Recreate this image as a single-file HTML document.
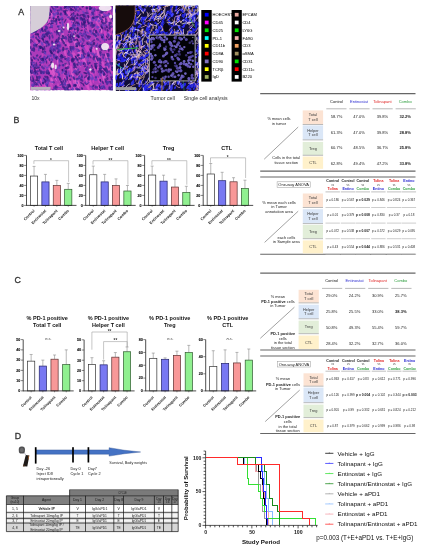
<!DOCTYPE html>
<html><head><meta charset="utf-8"><title>Figure</title>
<style>
html,body{margin:0;padding:0;background:#fff;}
body{width:423px;height:550px;overflow:hidden;}
svg{display:block;font-family:"Liberation Sans", Arial, sans-serif;}
</style></head><body>
<svg width="423" height="550" viewBox="0 0 423 550">
<rect x="0" y="0" width="423" height="550" fill="#fff"/>
<text x="18.30" y="14.50" font-size="8.8" text-anchor="start" font-weight="normal" fill="#333" stroke="#333" stroke-width="0.3">A</text>
<svg x="30.1" y="6.1" width="82.8" height="84.2" viewBox="0 0 82.8 84.2" overflow="hidden">
<rect x="0.00" y="0.00" width="82.80" height="84.20" fill="#ac3aba" stroke="none" stroke-width="0" />
<ellipse cx="26.8" cy="12.7" rx="6.9" ry="0.8" fill="#c848c0" opacity="0.85" transform="rotate(72 26.8 12.7)"/>
<ellipse cx="48.3" cy="76.6" rx="4.3" ry="0.8" fill="#e060d0" opacity="0.85" transform="rotate(69 48.3 76.6)"/>
<ellipse cx="7.5" cy="35.7" rx="8.0" ry="0.8" fill="#d850c8" opacity="0.85" transform="rotate(64 7.5 35.7)"/>
<ellipse cx="47.8" cy="33.4" rx="8.9" ry="0.7" fill="#c848c0" opacity="0.85" transform="rotate(81 47.8 33.4)"/>
<ellipse cx="34.7" cy="45.5" rx="6.4" ry="1.2" fill="#d850c8" opacity="0.85" transform="rotate(76 34.7 45.5)"/>
<ellipse cx="48.2" cy="53.8" rx="5.2" ry="1.2" fill="#d850c8" opacity="0.85" transform="rotate(60 48.2 53.8)"/>
<ellipse cx="51.3" cy="41.8" rx="6.2" ry="1.4" fill="#d040c8" opacity="0.85" transform="rotate(71 51.3 41.8)"/>
<ellipse cx="29.9" cy="20.9" rx="4.1" ry="1.4" fill="#c848c0" opacity="0.85" transform="rotate(60 29.9 20.9)"/>
<ellipse cx="43.5" cy="73.7" rx="7.4" ry="1.0" fill="#d850c8" opacity="0.85" transform="rotate(84 43.5 73.7)"/>
<ellipse cx="42.4" cy="13.9" rx="5.1" ry="1.5" fill="#d850c8" opacity="0.85" transform="rotate(69 42.4 13.9)"/>
<ellipse cx="63.3" cy="48.2" rx="8.3" ry="1.0" fill="#d040c8" opacity="0.85" transform="rotate(77 63.3 48.2)"/>
<ellipse cx="48.0" cy="38.4" rx="8.0" ry="1.6" fill="#d850c8" opacity="0.85" transform="rotate(71 48.0 38.4)"/>
<ellipse cx="5.0" cy="59.1" rx="6.9" ry="1.6" fill="#c848c0" opacity="0.85" transform="rotate(80 5.0 59.1)"/>
<ellipse cx="59.3" cy="74.7" rx="5.1" ry="1.5" fill="#d850c8" opacity="0.85" transform="rotate(68 59.3 74.7)"/>
<ellipse cx="40.9" cy="18.4" rx="4.7" ry="1.4" fill="#d040c8" opacity="0.85" transform="rotate(69 40.9 18.4)"/>
<ellipse cx="6.7" cy="37.8" rx="6.3" ry="1.5" fill="#c848c0" opacity="0.85" transform="rotate(80 6.7 37.8)"/>
<ellipse cx="58.5" cy="83.1" rx="7.1" ry="1.0" fill="#d850c8" opacity="0.85" transform="rotate(64 58.5 83.1)"/>
<ellipse cx="14.6" cy="19.5" rx="4.4" ry="1.1" fill="#c848c0" opacity="0.85" transform="rotate(74 14.6 19.5)"/>
<ellipse cx="23.3" cy="12.3" rx="6.2" ry="1.2" fill="#e060d0" opacity="0.85" transform="rotate(67 23.3 12.3)"/>
<ellipse cx="57.2" cy="43.4" rx="6.7" ry="1.3" fill="#d040c8" opacity="0.85" transform="rotate(59 57.2 43.4)"/>
<ellipse cx="33.0" cy="33.2" rx="5.9" ry="1.1" fill="#e060d0" opacity="0.85" transform="rotate(63 33.0 33.2)"/>
<ellipse cx="36.5" cy="9.3" rx="6.6" ry="0.8" fill="#d850c8" opacity="0.85" transform="rotate(73 36.5 9.3)"/>
<ellipse cx="78.6" cy="51.7" rx="3.4" ry="0.9" fill="#c848c0" opacity="0.85" transform="rotate(68 78.6 51.7)"/>
<ellipse cx="79.1" cy="50.7" rx="5.8" ry="0.8" fill="#d040c8" opacity="0.85" transform="rotate(71 79.1 50.7)"/>
<ellipse cx="39.8" cy="26.3" rx="3.9" ry="1.4" fill="#d040c8" opacity="0.85" transform="rotate(78 39.8 26.3)"/>
<ellipse cx="68.6" cy="13.6" rx="3.1" ry="1.6" fill="#e060d0" opacity="0.85" transform="rotate(72 68.6 13.6)"/>
<ellipse cx="57.1" cy="77.0" rx="7.5" ry="1.0" fill="#d850c8" opacity="0.85" transform="rotate(75 57.1 77.0)"/>
<ellipse cx="57.6" cy="22.0" rx="5.2" ry="0.9" fill="#c848c0" opacity="0.85" transform="rotate(79 57.6 22.0)"/>
<ellipse cx="52.7" cy="51.6" rx="7.7" ry="1.4" fill="#e060d0" opacity="0.85" transform="rotate(63 52.7 51.6)"/>
<ellipse cx="67.8" cy="62.3" rx="4.4" ry="1.2" fill="#d850c8" opacity="0.85" transform="rotate(68 67.8 62.3)"/>
<ellipse cx="81.9" cy="66.5" rx="5.8" ry="0.9" fill="#c848c0" opacity="0.85" transform="rotate(74 81.9 66.5)"/>
<ellipse cx="37.0" cy="78.9" rx="8.9" ry="1.6" fill="#e060d0" opacity="0.85" transform="rotate(68 37.0 78.9)"/>
<ellipse cx="8.5" cy="39.6" rx="5.0" ry="1.1" fill="#d850c8" opacity="0.85" transform="rotate(85 8.5 39.6)"/>
<ellipse cx="39.7" cy="55.0" rx="7.8" ry="0.8" fill="#d040c8" opacity="0.85" transform="rotate(76 39.7 55.0)"/>
<ellipse cx="64.8" cy="63.2" rx="5.9" ry="0.9" fill="#c848c0" opacity="0.85" transform="rotate(79 64.8 63.2)"/>
<ellipse cx="7.2" cy="79.7" rx="7.3" ry="1.1" fill="#d850c8" opacity="0.85" transform="rotate(78 7.2 79.7)"/>
<ellipse cx="60.0" cy="14.3" rx="3.8" ry="0.8" fill="#e060d0" opacity="0.85" transform="rotate(82 60.0 14.3)"/>
<ellipse cx="50.6" cy="50.2" rx="5.8" ry="1.5" fill="#e060d0" opacity="0.85" transform="rotate(62 50.6 50.2)"/>
<ellipse cx="1.8" cy="67.3" rx="7.4" ry="0.8" fill="#e060d0" opacity="0.85" transform="rotate(78 1.8 67.3)"/>
<ellipse cx="35.9" cy="73.4" rx="8.0" ry="0.9" fill="#c848c0" opacity="0.85" transform="rotate(65 35.9 73.4)"/>
<ellipse cx="41.5" cy="64.3" rx="5.0" ry="1.2" fill="#d850c8" opacity="0.85" transform="rotate(81 41.5 64.3)"/>
<ellipse cx="75.3" cy="29.8" rx="5.7" ry="1.2" fill="#d040c8" opacity="0.85" transform="rotate(82 75.3 29.8)"/>
<ellipse cx="68.5" cy="73.9" rx="3.8" ry="0.8" fill="#d040c8" opacity="0.85" transform="rotate(72 68.5 73.9)"/>
<ellipse cx="64.3" cy="51.2" rx="7.7" ry="0.8" fill="#d850c8" opacity="0.85" transform="rotate(62 64.3 51.2)"/>
<ellipse cx="46.1" cy="27.4" rx="6.1" ry="1.2" fill="#d850c8" opacity="0.85" transform="rotate(79 46.1 27.4)"/>
<ellipse cx="73.1" cy="4.8" rx="4.1" ry="0.7" fill="#d040c8" opacity="0.85" transform="rotate(61 73.1 4.8)"/>
<ellipse cx="46.5" cy="64.0" rx="8.5" ry="1.1" fill="#e060d0" opacity="0.85" transform="rotate(75 46.5 64.0)"/>
<ellipse cx="57.4" cy="38.1" rx="6.2" ry="1.1" fill="#c848c0" opacity="0.85" transform="rotate(83 57.4 38.1)"/>
<ellipse cx="76.4" cy="75.2" rx="4.2" ry="1.1" fill="#d040c8" opacity="0.85" transform="rotate(69 76.4 75.2)"/>
<ellipse cx="36.6" cy="6.1" rx="4.4" ry="0.8" fill="#d850c8" opacity="0.85" transform="rotate(76 36.6 6.1)"/>
<ellipse cx="74.3" cy="13.0" rx="7.3" ry="1.3" fill="#e060d0" opacity="0.85" transform="rotate(62 74.3 13.0)"/>
<ellipse cx="80.1" cy="18.5" rx="8.7" ry="1.1" fill="#e060d0" opacity="0.85" transform="rotate(71 80.1 18.5)"/>
<ellipse cx="13.4" cy="36.3" rx="6.1" ry="1.0" fill="#c848c0" opacity="0.85" transform="rotate(63 13.4 36.3)"/>
<ellipse cx="7.6" cy="30.8" rx="5.0" ry="1.1" fill="#d040c8" opacity="0.85" transform="rotate(77 7.6 30.8)"/>
<ellipse cx="27.4" cy="52.5" rx="6.1" ry="0.8" fill="#e060d0" opacity="0.85" transform="rotate(85 27.4 52.5)"/>
<ellipse cx="80.5" cy="8.8" rx="4.6" ry="0.7" fill="#c848c0" opacity="0.85" transform="rotate(79 80.5 8.8)"/>
<ellipse cx="62.6" cy="69.0" rx="8.1" ry="1.3" fill="#d040c8" opacity="0.85" transform="rotate(84 62.6 69.0)"/>
<ellipse cx="12.4" cy="77.4" rx="6.4" ry="1.3" fill="#d850c8" opacity="0.85" transform="rotate(60 12.4 77.4)"/>
<ellipse cx="66.2" cy="15.4" rx="8.4" ry="0.9" fill="#d850c8" opacity="0.85" transform="rotate(58 66.2 15.4)"/>
<ellipse cx="66.4" cy="7.1" rx="8.1" ry="0.8" fill="#d040c8" opacity="0.85" transform="rotate(81 66.4 7.1)"/>
<ellipse cx="1.0" cy="83.7" rx="5.5" ry="1.5" fill="#d850c8" opacity="0.85" transform="rotate(75 1.0 83.7)"/>
<ellipse cx="43.6" cy="20.1" rx="3.7" ry="0.8" fill="#e060d0" opacity="0.85" transform="rotate(59 43.6 20.1)"/>
<ellipse cx="77.2" cy="52.9" rx="6.2" ry="0.9" fill="#e060d0" opacity="0.85" transform="rotate(70 77.2 52.9)"/>
<ellipse cx="22.4" cy="67.7" rx="9.0" ry="0.7" fill="#e060d0" opacity="0.85" transform="rotate(58 22.4 67.7)"/>
<ellipse cx="42.6" cy="20.7" rx="5.7" ry="1.3" fill="#d040c8" opacity="0.85" transform="rotate(76 42.6 20.7)"/>
<ellipse cx="45.2" cy="74.8" rx="8.8" ry="1.0" fill="#e060d0" opacity="0.85" transform="rotate(64 45.2 74.8)"/>
<ellipse cx="28.4" cy="70.1" rx="7.2" ry="1.3" fill="#c848c0" opacity="0.85" transform="rotate(69 28.4 70.1)"/>
<ellipse cx="81.3" cy="70.5" rx="3.1" ry="1.3" fill="#d040c8" opacity="0.85" transform="rotate(82 81.3 70.5)"/>
<ellipse cx="13.5" cy="7.1" rx="8.0" ry="1.5" fill="#c848c0" opacity="0.85" transform="rotate(76 13.5 7.1)"/>
<ellipse cx="49.6" cy="58.3" rx="3.3" ry="0.9" fill="#d850c8" opacity="0.85" transform="rotate(65 49.6 58.3)"/>
<ellipse cx="21.8" cy="81.0" rx="8.8" ry="1.2" fill="#c848c0" opacity="0.85" transform="rotate(65 21.8 81.0)"/>
<ellipse cx="18.0" cy="15.4" rx="5.0" ry="0.8" fill="#e060d0" opacity="0.85" transform="rotate(66 18.0 15.4)"/>
<ellipse cx="20.5" cy="65.4" rx="3.5" ry="1.4" fill="#d850c8" opacity="0.85" transform="rotate(62 20.5 65.4)"/>
<ellipse cx="32.6" cy="25.2" rx="6.8" ry="0.8" fill="#e060d0" opacity="0.85" transform="rotate(84 32.6 25.2)"/>
<ellipse cx="54.4" cy="60.3" rx="8.3" ry="1.1" fill="#d040c8" opacity="0.85" transform="rotate(67 54.4 60.3)"/>
<ellipse cx="12.4" cy="61.0" rx="6.9" ry="0.7" fill="#d040c8" opacity="0.85" transform="rotate(81 12.4 61.0)"/>
<ellipse cx="60.8" cy="68.4" rx="3.8" ry="1.2" fill="#d850c8" opacity="0.85" transform="rotate(72 60.8 68.4)"/>
<ellipse cx="68.4" cy="49.2" rx="8.4" ry="1.3" fill="#e060d0" opacity="0.85" transform="rotate(77 68.4 49.2)"/>
<ellipse cx="7.0" cy="3.5" rx="6.8" ry="1.6" fill="#d040c8" opacity="0.85" transform="rotate(68 7.0 3.5)"/>
<ellipse cx="46.2" cy="52.9" rx="6.8" ry="1.3" fill="#d850c8" opacity="0.85" transform="rotate(71 46.2 52.9)"/>
<ellipse cx="37.8" cy="5.9" rx="8.6" ry="1.5" fill="#d850c8" opacity="0.85" transform="rotate(60 37.8 5.9)"/>
<ellipse cx="61.7" cy="39.9" rx="7.9" ry="1.5" fill="#e060d0" opacity="0.85" transform="rotate(64 61.7 39.9)"/>
<ellipse cx="19.1" cy="54.7" rx="5.8" ry="1.5" fill="#c848c0" opacity="0.85" transform="rotate(60 19.1 54.7)"/>
<ellipse cx="63.5" cy="51.9" rx="6.9" ry="0.8" fill="#c848c0" opacity="0.85" transform="rotate(62 63.5 51.9)"/>
<ellipse cx="53.9" cy="58.3" rx="6.7" ry="0.8" fill="#d040c8" opacity="0.85" transform="rotate(71 53.9 58.3)"/>
<ellipse cx="22.3" cy="56.6" rx="7.2" ry="1.3" fill="#c848c0" opacity="0.85" transform="rotate(66 22.3 56.6)"/>
<ellipse cx="38.5" cy="39.3" rx="3.7" ry="1.5" fill="#d850c8" opacity="0.85" transform="rotate(63 38.5 39.3)"/>
<ellipse cx="77.5" cy="1.5" rx="5.8" ry="1.4" fill="#d040c8" opacity="0.85" transform="rotate(84 77.5 1.5)"/>
<ellipse cx="82.3" cy="32.6" rx="8.5" ry="1.5" fill="#d850c8" opacity="0.85" transform="rotate(60 82.3 32.6)"/>
<ellipse cx="11.7" cy="44.1" rx="8.7" ry="0.8" fill="#c848c0" opacity="0.85" transform="rotate(80 11.7 44.1)"/>
<ellipse cx="73.4" cy="59.2" rx="4.4" ry="1.5" fill="#d850c8" opacity="0.85" transform="rotate(71 73.4 59.2)"/>
<ellipse cx="13.2" cy="80.0" rx="7.1" ry="1.1" fill="#d040c8" opacity="0.85" transform="rotate(78 13.2 80.0)"/>
<ellipse cx="28.5" cy="26.6" rx="8.0" ry="0.7" fill="#d040c8" opacity="0.85" transform="rotate(78 28.5 26.6)"/>
<ellipse cx="9.9" cy="78.0" rx="7.3" ry="1.5" fill="#c848c0" opacity="0.85" transform="rotate(66 9.9 78.0)"/>
<ellipse cx="5.4" cy="32.9" rx="8.2" ry="0.8" fill="#c848c0" opacity="0.85" transform="rotate(83 5.4 32.9)"/>
<ellipse cx="70.7" cy="23.6" rx="3.3" ry="1.3" fill="#e060d0" opacity="0.85" transform="rotate(75 70.7 23.6)"/>
<ellipse cx="20.6" cy="22.4" rx="6.1" ry="0.9" fill="#d040c8" opacity="0.85" transform="rotate(68 20.6 22.4)"/>
<ellipse cx="73.2" cy="68.4" rx="6.8" ry="1.5" fill="#e060d0" opacity="0.85" transform="rotate(83 73.2 68.4)"/>
<ellipse cx="59.6" cy="4.2" rx="7.4" ry="1.1" fill="#c848c0" opacity="0.85" transform="rotate(78 59.6 4.2)"/>
<ellipse cx="40.2" cy="76.8" rx="6.3" ry="0.9" fill="#c848c0" opacity="0.85" transform="rotate(69 40.2 76.8)"/>
<ellipse cx="24.7" cy="62.2" rx="8.9" ry="0.9" fill="#c848c0" opacity="0.85" transform="rotate(76 24.7 62.2)"/>
<ellipse cx="40.0" cy="56.3" rx="3.7" ry="1.3" fill="#d040c8" opacity="0.85" transform="rotate(60 40.0 56.3)"/>
<ellipse cx="45.6" cy="38.1" rx="5.0" ry="1.4" fill="#e060d0" opacity="0.85" transform="rotate(70 45.6 38.1)"/>
<ellipse cx="20.2" cy="14.7" rx="6.3" ry="1.0" fill="#e060d0" opacity="0.85" transform="rotate(68 20.2 14.7)"/>
<ellipse cx="73.5" cy="63.1" rx="5.5" ry="1.1" fill="#d040c8" opacity="0.85" transform="rotate(72 73.5 63.1)"/>
<ellipse cx="22.4" cy="63.3" rx="6.0" ry="1.2" fill="#e060d0" opacity="0.85" transform="rotate(68 22.4 63.3)"/>
<ellipse cx="7.7" cy="75.5" rx="5.3" ry="1.3" fill="#c848c0" opacity="0.85" transform="rotate(70 7.7 75.5)"/>
<ellipse cx="70.3" cy="73.5" rx="3.1" ry="0.7" fill="#d040c8" opacity="0.85" transform="rotate(77 70.3 73.5)"/>
<ellipse cx="80.2" cy="41.2" rx="3.4" ry="1.5" fill="#d040c8" opacity="0.85" transform="rotate(83 80.2 41.2)"/>
<ellipse cx="80.5" cy="20.9" rx="3.7" ry="0.8" fill="#d850c8" opacity="0.85" transform="rotate(72 80.5 20.9)"/>
<ellipse cx="78.0" cy="60.8" rx="6.9" ry="1.4" fill="#d850c8" opacity="0.85" transform="rotate(70 78.0 60.8)"/>
<ellipse cx="0.1" cy="10.6" rx="6.4" ry="0.7" fill="#e060d0" opacity="0.85" transform="rotate(77 0.1 10.6)"/>
<ellipse cx="51.9" cy="44.5" rx="5.6" ry="1.4" fill="#c848c0" opacity="0.85" transform="rotate(61 51.9 44.5)"/>
<ellipse cx="43.4" cy="49.1" rx="5.3" ry="0.9" fill="#d850c8" opacity="0.85" transform="rotate(74 43.4 49.1)"/>
<ellipse cx="44.5" cy="83.9" rx="4.7" ry="1.0" fill="#e060d0" opacity="0.85" transform="rotate(81 44.5 83.9)"/>
<ellipse cx="39.4" cy="19.8" rx="4.5" ry="1.6" fill="#c848c0" opacity="0.85" transform="rotate(77 39.4 19.8)"/>
<ellipse cx="4.6" cy="16.3" rx="8.3" ry="1.3" fill="#e060d0" opacity="0.85" transform="rotate(60 4.6 16.3)"/>
<ellipse cx="55.3" cy="77.9" rx="4.4" ry="0.7" fill="#d040c8" opacity="0.85" transform="rotate(67 55.3 77.9)"/>
<ellipse cx="30.0" cy="33.4" rx="3.0" ry="1.0" fill="#d850c8" opacity="0.85" transform="rotate(81 30.0 33.4)"/>
<ellipse cx="17.0" cy="81.7" rx="4.9" ry="1.4" fill="#e060d0" opacity="0.85" transform="rotate(64 17.0 81.7)"/>
<ellipse cx="21.9" cy="74.9" rx="3.7" ry="1.3" fill="#e060d0" opacity="0.85" transform="rotate(74 21.9 74.9)"/>
<ellipse cx="40.2" cy="76.7" rx="3.3" ry="1.2" fill="#d850c8" opacity="0.85" transform="rotate(83 40.2 76.7)"/>
<ellipse cx="17.6" cy="82.0" rx="3.9" ry="0.7" fill="#d040c8" opacity="0.85" transform="rotate(60 17.6 82.0)"/>
<ellipse cx="37.2" cy="60.0" rx="4.9" ry="0.8" fill="#e060d0" opacity="0.85" transform="rotate(60 37.2 60.0)"/>
<ellipse cx="27.3" cy="15.6" rx="8.6" ry="1.4" fill="#d040c8" opacity="0.85" transform="rotate(59 27.3 15.6)"/>
<ellipse cx="69.5" cy="82.9" rx="5.7" ry="0.8" fill="#d850c8" opacity="0.85" transform="rotate(60 69.5 82.9)"/>
<ellipse cx="29.1" cy="80.5" rx="3.7" ry="1.6" fill="#c848c0" opacity="0.85" transform="rotate(64 29.1 80.5)"/>
<ellipse cx="63.7" cy="26.0" rx="7.8" ry="0.8" fill="#e060d0" opacity="0.85" transform="rotate(77 63.7 26.0)"/>
<ellipse cx="30.9" cy="77.4" rx="4.2" ry="1.0" fill="#d850c8" opacity="0.85" transform="rotate(82 30.9 77.4)"/>
<ellipse cx="52.3" cy="20.9" rx="6.8" ry="1.1" fill="#d040c8" opacity="0.85" transform="rotate(68 52.3 20.9)"/>
<ellipse cx="4.3" cy="78.3" rx="1.4" ry="1.1" fill="#4a2a9c" opacity="0.8" transform="rotate(61 4.3 78.3)"/>
<ellipse cx="27.4" cy="81.2" rx="1.1" ry="1.1" fill="#4a2a9c" opacity="0.8" transform="rotate(166 27.4 81.2)"/>
<ellipse cx="-0.7" cy="64.1" rx="2.3" ry="1.0" fill="#3a2088" opacity="0.8" transform="rotate(4 -0.7 64.1)"/>
<ellipse cx="8.1" cy="60.7" rx="1.7" ry="1.1" fill="#5a34b0" opacity="0.8" transform="rotate(164 8.1 60.7)"/>
<ellipse cx="10.3" cy="41.8" rx="1.0" ry="1.3" fill="#3a2088" opacity="0.8" transform="rotate(78 10.3 41.8)"/>
<ellipse cx="50.5" cy="27.3" rx="1.4" ry="0.9" fill="#3a2088" opacity="0.8" transform="rotate(14 50.5 27.3)"/>
<ellipse cx="32.2" cy="12.8" rx="1.6" ry="1.1" fill="#3a2088" opacity="0.8" transform="rotate(72 32.2 12.8)"/>
<ellipse cx="82.1" cy="75.2" rx="2.4" ry="0.8" fill="#5a34b0" opacity="0.8" transform="rotate(54 82.1 75.2)"/>
<ellipse cx="82.8" cy="82.8" rx="1.2" ry="0.7" fill="#3a2088" opacity="0.8" transform="rotate(86 82.8 82.8)"/>
<ellipse cx="62.4" cy="72.0" rx="1.9" ry="0.7" fill="#6a40c0" opacity="0.8" transform="rotate(53 62.4 72.0)"/>
<ellipse cx="21.7" cy="20.9" rx="1.4" ry="0.9" fill="#4a2a9c" opacity="0.8" transform="rotate(59 21.7 20.9)"/>
<ellipse cx="74.0" cy="48.8" rx="1.5" ry="0.9" fill="#3a2088" opacity="0.8" transform="rotate(91 74.0 48.8)"/>
<ellipse cx="54.1" cy="7.7" rx="1.6" ry="0.6" fill="#3a2088" opacity="0.8" transform="rotate(85 54.1 7.7)"/>
<ellipse cx="70.3" cy="77.8" rx="1.1" ry="0.8" fill="#6a40c0" opacity="0.8" transform="rotate(58 70.3 77.8)"/>
<ellipse cx="15.5" cy="5.5" rx="1.7" ry="0.7" fill="#40248c" opacity="0.8" transform="rotate(139 15.5 5.5)"/>
<ellipse cx="79.2" cy="8.1" rx="1.8" ry="1.0" fill="#3a2088" opacity="0.8" transform="rotate(65 79.2 8.1)"/>
<ellipse cx="2.7" cy="85.2" rx="1.1" ry="1.1" fill="#4a2a9c" opacity="0.8" transform="rotate(147 2.7 85.2)"/>
<ellipse cx="33.7" cy="31.0" rx="1.9" ry="0.7" fill="#5a34b0" opacity="0.8" transform="rotate(70 33.7 31.0)"/>
<ellipse cx="4.4" cy="7.7" rx="1.6" ry="1.0" fill="#3a2088" opacity="0.8" transform="rotate(16 4.4 7.7)"/>
<ellipse cx="32.7" cy="22.4" rx="2.4" ry="1.1" fill="#40248c" opacity="0.8" transform="rotate(52 32.7 22.4)"/>
<ellipse cx="47.0" cy="29.8" rx="1.6" ry="1.2" fill="#3a2088" opacity="0.8" transform="rotate(65 47.0 29.8)"/>
<ellipse cx="32.1" cy="33.9" rx="2.3" ry="0.9" fill="#2c1878" opacity="0.8" transform="rotate(55 32.1 33.9)"/>
<ellipse cx="33.4" cy="75.1" rx="1.6" ry="0.7" fill="#40248c" opacity="0.8" transform="rotate(72 33.4 75.1)"/>
<ellipse cx="67.4" cy="33.2" rx="1.8" ry="1.2" fill="#4a2a9c" opacity="0.8" transform="rotate(31 67.4 33.2)"/>
<ellipse cx="23.0" cy="43.9" rx="2.3" ry="0.7" fill="#3a2088" opacity="0.8" transform="rotate(82 23.0 43.9)"/>
<ellipse cx="24.6" cy="71.2" rx="1.1" ry="1.2" fill="#40248c" opacity="0.8" transform="rotate(74 24.6 71.2)"/>
<ellipse cx="31.9" cy="76.9" rx="1.9" ry="1.2" fill="#3a2088" opacity="0.8" transform="rotate(81 31.9 76.9)"/>
<ellipse cx="51.7" cy="52.0" rx="1.3" ry="0.9" fill="#6a40c0" opacity="0.8" transform="rotate(8 51.7 52.0)"/>
<ellipse cx="12.3" cy="30.0" rx="1.2" ry="1.3" fill="#6a40c0" opacity="0.8" transform="rotate(35 12.3 30.0)"/>
<ellipse cx="70.4" cy="56.9" rx="1.9" ry="0.8" fill="#40248c" opacity="0.8" transform="rotate(68 70.4 56.9)"/>
<ellipse cx="65.0" cy="54.9" rx="1.4" ry="0.8" fill="#6a40c0" opacity="0.8" transform="rotate(65 65.0 54.9)"/>
<ellipse cx="36.2" cy="1.0" rx="1.9" ry="0.9" fill="#5a34b0" opacity="0.8" transform="rotate(81 36.2 1.0)"/>
<ellipse cx="69.9" cy="68.9" rx="1.6" ry="0.6" fill="#5a34b0" opacity="0.8" transform="rotate(65 69.9 68.9)"/>
<ellipse cx="41.8" cy="55.6" rx="1.1" ry="0.7" fill="#40248c" opacity="0.8" transform="rotate(56 41.8 55.6)"/>
<ellipse cx="42.4" cy="3.7" rx="1.7" ry="0.9" fill="#2c1878" opacity="0.8" transform="rotate(25 42.4 3.7)"/>
<ellipse cx="83.5" cy="62.1" rx="2.1" ry="0.7" fill="#3a2088" opacity="0.8" transform="rotate(89 83.5 62.1)"/>
<ellipse cx="57.2" cy="61.2" rx="1.3" ry="1.2" fill="#4a2a9c" opacity="0.8" transform="rotate(45 57.2 61.2)"/>
<ellipse cx="75.0" cy="22.7" rx="2.1" ry="0.7" fill="#3a2088" opacity="0.8" transform="rotate(87 75.0 22.7)"/>
<ellipse cx="49.2" cy="52.1" rx="1.3" ry="0.9" fill="#40248c" opacity="0.8" transform="rotate(66 49.2 52.1)"/>
<ellipse cx="78.4" cy="57.6" rx="2.3" ry="0.7" fill="#6a40c0" opacity="0.8" transform="rotate(21 78.4 57.6)"/>
<ellipse cx="3.1" cy="73.0" rx="2.4" ry="0.9" fill="#2c1878" opacity="0.8" transform="rotate(78 3.1 73.0)"/>
<ellipse cx="20.4" cy="45.2" rx="2.2" ry="1.1" fill="#4a2a9c" opacity="0.8" transform="rotate(65 20.4 45.2)"/>
<ellipse cx="48.0" cy="30.1" rx="2.1" ry="0.9" fill="#2c1878" opacity="0.8" transform="rotate(80 48.0 30.1)"/>
<ellipse cx="24.1" cy="43.5" rx="1.4" ry="1.3" fill="#4a2a9c" opacity="0.8" transform="rotate(167 24.1 43.5)"/>
<ellipse cx="61.2" cy="63.4" rx="1.3" ry="0.8" fill="#4a2a9c" opacity="0.8" transform="rotate(75 61.2 63.4)"/>
<ellipse cx="74.9" cy="10.4" rx="1.3" ry="1.1" fill="#4a2a9c" opacity="0.8" transform="rotate(50 74.9 10.4)"/>
<ellipse cx="24.8" cy="44.1" rx="1.7" ry="0.9" fill="#4a2a9c" opacity="0.8" transform="rotate(55 24.8 44.1)"/>
<ellipse cx="51.9" cy="39.9" rx="1.2" ry="1.3" fill="#2c1878" opacity="0.8" transform="rotate(56 51.9 39.9)"/>
<ellipse cx="4.4" cy="11.5" rx="1.9" ry="0.8" fill="#2c1878" opacity="0.8" transform="rotate(174 4.4 11.5)"/>
<ellipse cx="53.7" cy="47.5" rx="1.5" ry="1.1" fill="#40248c" opacity="0.8" transform="rotate(87 53.7 47.5)"/>
<ellipse cx="40.8" cy="13.2" rx="1.0" ry="0.6" fill="#3a2088" opacity="0.8" transform="rotate(57 40.8 13.2)"/>
<ellipse cx="4.0" cy="66.1" rx="1.0" ry="1.0" fill="#3a2088" opacity="0.8" transform="rotate(26 4.0 66.1)"/>
<ellipse cx="42.9" cy="54.4" rx="1.9" ry="0.9" fill="#2c1878" opacity="0.8" transform="rotate(92 42.9 54.4)"/>
<ellipse cx="24.5" cy="3.2" rx="2.2" ry="1.1" fill="#5a34b0" opacity="0.8" transform="rotate(1 24.5 3.2)"/>
<ellipse cx="62.2" cy="39.1" rx="2.0" ry="0.9" fill="#3a2088" opacity="0.8" transform="rotate(54 62.2 39.1)"/>
<ellipse cx="53.6" cy="9.6" rx="2.2" ry="1.2" fill="#2c1878" opacity="0.8" transform="rotate(47 53.6 9.6)"/>
<ellipse cx="21.6" cy="46.7" rx="1.6" ry="1.2" fill="#40248c" opacity="0.8" transform="rotate(61 21.6 46.7)"/>
<ellipse cx="77.7" cy="76.1" rx="1.1" ry="1.0" fill="#40248c" opacity="0.8" transform="rotate(86 77.7 76.1)"/>
<ellipse cx="16.2" cy="12.7" rx="2.3" ry="0.7" fill="#5a34b0" opacity="0.8" transform="rotate(74 16.2 12.7)"/>
<ellipse cx="76.0" cy="53.4" rx="2.0" ry="1.1" fill="#6a40c0" opacity="0.8" transform="rotate(85 76.0 53.4)"/>
<ellipse cx="58.2" cy="72.9" rx="1.6" ry="1.1" fill="#3a2088" opacity="0.8" transform="rotate(55 58.2 72.9)"/>
<ellipse cx="32.2" cy="49.5" rx="1.8" ry="0.7" fill="#6a40c0" opacity="0.8" transform="rotate(54 32.2 49.5)"/>
<ellipse cx="77.8" cy="28.7" rx="1.2" ry="0.6" fill="#40248c" opacity="0.8" transform="rotate(78 77.8 28.7)"/>
<ellipse cx="2.6" cy="4.8" rx="1.1" ry="1.2" fill="#6a40c0" opacity="0.8" transform="rotate(36 2.6 4.8)"/>
<ellipse cx="74.6" cy="4.7" rx="2.2" ry="1.2" fill="#3a2088" opacity="0.8" transform="rotate(19 74.6 4.7)"/>
<ellipse cx="16.2" cy="1.9" rx="2.3" ry="1.2" fill="#40248c" opacity="0.8" transform="rotate(16 16.2 1.9)"/>
<ellipse cx="52.6" cy="40.1" rx="1.2" ry="1.2" fill="#4a2a9c" opacity="0.8" transform="rotate(53 52.6 40.1)"/>
<ellipse cx="34.9" cy="0.8" rx="1.4" ry="0.8" fill="#4a2a9c" opacity="0.8" transform="rotate(66 34.9 0.8)"/>
<ellipse cx="64.2" cy="50.9" rx="1.7" ry="0.8" fill="#2c1878" opacity="0.8" transform="rotate(142 64.2 50.9)"/>
<ellipse cx="36.0" cy="65.6" rx="1.5" ry="1.1" fill="#2c1878" opacity="0.8" transform="rotate(59 36.0 65.6)"/>
<ellipse cx="47.7" cy="23.7" rx="1.6" ry="1.0" fill="#2c1878" opacity="0.8" transform="rotate(80 47.7 23.7)"/>
<ellipse cx="-0.6" cy="41.3" rx="1.7" ry="1.2" fill="#4a2a9c" opacity="0.8" transform="rotate(70 -0.6 41.3)"/>
<ellipse cx="80.2" cy="43.4" rx="1.8" ry="0.7" fill="#3a2088" opacity="0.8" transform="rotate(169 80.2 43.4)"/>
<ellipse cx="41.3" cy="8.5" rx="1.9" ry="0.7" fill="#2c1878" opacity="0.8" transform="rotate(125 41.3 8.5)"/>
<ellipse cx="52.2" cy="29.7" rx="1.6" ry="0.9" fill="#40248c" opacity="0.8" transform="rotate(16 52.2 29.7)"/>
<ellipse cx="1.1" cy="16.8" rx="1.4" ry="1.2" fill="#40248c" opacity="0.8" transform="rotate(65 1.1 16.8)"/>
<ellipse cx="18.8" cy="38.7" rx="1.7" ry="1.1" fill="#4a2a9c" opacity="0.8" transform="rotate(116 18.8 38.7)"/>
<ellipse cx="48.3" cy="44.0" rx="2.2" ry="0.9" fill="#5a34b0" opacity="0.8" transform="rotate(58 48.3 44.0)"/>
<ellipse cx="36.2" cy="65.7" rx="1.8" ry="0.7" fill="#3a2088" opacity="0.8" transform="rotate(85 36.2 65.7)"/>
<ellipse cx="42.1" cy="22.1" rx="2.1" ry="1.2" fill="#3a2088" opacity="0.8" transform="rotate(130 42.1 22.1)"/>
<ellipse cx="60.3" cy="51.0" rx="1.5" ry="0.8" fill="#40248c" opacity="0.8" transform="rotate(47 60.3 51.0)"/>
<ellipse cx="83.4" cy="13.2" rx="1.9" ry="0.7" fill="#4a2a9c" opacity="0.8" transform="rotate(56 83.4 13.2)"/>
<ellipse cx="61.2" cy="36.5" rx="1.3" ry="1.0" fill="#5a34b0" opacity="0.8" transform="rotate(58 61.2 36.5)"/>
<ellipse cx="38.3" cy="0.1" rx="2.2" ry="0.9" fill="#4a2a9c" opacity="0.8" transform="rotate(89 38.3 0.1)"/>
<ellipse cx="38.3" cy="11.2" rx="1.8" ry="0.9" fill="#5a34b0" opacity="0.8" transform="rotate(163 38.3 11.2)"/>
<ellipse cx="58.5" cy="49.6" rx="1.9" ry="1.2" fill="#40248c" opacity="0.8" transform="rotate(117 58.5 49.6)"/>
<ellipse cx="58.4" cy="72.5" rx="2.0" ry="1.0" fill="#40248c" opacity="0.8" transform="rotate(63 58.4 72.5)"/>
<ellipse cx="58.4" cy="76.1" rx="1.3" ry="0.9" fill="#5a34b0" opacity="0.8" transform="rotate(28 58.4 76.1)"/>
<ellipse cx="39.9" cy="0.7" rx="2.2" ry="1.0" fill="#40248c" opacity="0.8" transform="rotate(157 39.9 0.7)"/>
<ellipse cx="26.8" cy="-0.1" rx="2.2" ry="1.2" fill="#3a2088" opacity="0.8" transform="rotate(60 26.8 -0.1)"/>
<ellipse cx="12.6" cy="66.4" rx="2.3" ry="1.0" fill="#6a40c0" opacity="0.8" transform="rotate(73 12.6 66.4)"/>
<ellipse cx="16.4" cy="40.0" rx="1.0" ry="1.2" fill="#40248c" opacity="0.8" transform="rotate(64 16.4 40.0)"/>
<ellipse cx="79.4" cy="17.1" rx="2.0" ry="0.9" fill="#6a40c0" opacity="0.8" transform="rotate(22 79.4 17.1)"/>
<ellipse cx="29.1" cy="3.9" rx="1.4" ry="0.9" fill="#5a34b0" opacity="0.8" transform="rotate(67 29.1 3.9)"/>
<ellipse cx="52.3" cy="57.2" rx="1.8" ry="0.7" fill="#6a40c0" opacity="0.8" transform="rotate(66 52.3 57.2)"/>
<ellipse cx="81.4" cy="84.7" rx="2.3" ry="0.9" fill="#2c1878" opacity="0.8" transform="rotate(87 81.4 84.7)"/>
<ellipse cx="67.7" cy="53.7" rx="1.7" ry="1.0" fill="#4a2a9c" opacity="0.8" transform="rotate(89 67.7 53.7)"/>
<ellipse cx="55.5" cy="70.6" rx="2.1" ry="0.9" fill="#40248c" opacity="0.8" transform="rotate(137 55.5 70.6)"/>
<ellipse cx="9.6" cy="70.9" rx="1.5" ry="1.2" fill="#4a2a9c" opacity="0.8" transform="rotate(65 9.6 70.9)"/>
<ellipse cx="82.3" cy="57.5" rx="1.7" ry="1.2" fill="#40248c" opacity="0.8" transform="rotate(64 82.3 57.5)"/>
<ellipse cx="24.6" cy="40.3" rx="1.6" ry="1.0" fill="#4a2a9c" opacity="0.8" transform="rotate(65 24.6 40.3)"/>
<ellipse cx="71.5" cy="3.9" rx="2.2" ry="1.2" fill="#4a2a9c" opacity="0.8" transform="rotate(25 71.5 3.9)"/>
<ellipse cx="52.7" cy="0.3" rx="1.0" ry="1.3" fill="#2c1878" opacity="0.8" transform="rotate(45 52.7 0.3)"/>
<ellipse cx="48.1" cy="72.6" rx="1.3" ry="0.9" fill="#5a34b0" opacity="0.8" transform="rotate(38 48.1 72.6)"/>
<ellipse cx="66.1" cy="13.5" rx="2.2" ry="1.0" fill="#6a40c0" opacity="0.8" transform="rotate(120 66.1 13.5)"/>
<ellipse cx="65.8" cy="71.3" rx="1.3" ry="1.1" fill="#5a34b0" opacity="0.8" transform="rotate(80 65.8 71.3)"/>
<ellipse cx="55.9" cy="9.1" rx="1.2" ry="0.9" fill="#6a40c0" opacity="0.8" transform="rotate(85 55.9 9.1)"/>
<ellipse cx="4.0" cy="39.3" rx="1.2" ry="0.9" fill="#40248c" opacity="0.8" transform="rotate(72 4.0 39.3)"/>
<ellipse cx="-0.4" cy="71.5" rx="1.7" ry="1.0" fill="#4a2a9c" opacity="0.8" transform="rotate(151 -0.4 71.5)"/>
<ellipse cx="35.1" cy="85.2" rx="1.9" ry="0.7" fill="#2c1878" opacity="0.8" transform="rotate(76 35.1 85.2)"/>
<ellipse cx="50.7" cy="57.8" rx="2.3" ry="0.8" fill="#5a34b0" opacity="0.8" transform="rotate(92 50.7 57.8)"/>
<ellipse cx="63.2" cy="11.5" rx="1.3" ry="0.9" fill="#40248c" opacity="0.8" transform="rotate(54 63.2 11.5)"/>
<ellipse cx="30.1" cy="39.9" rx="1.7" ry="1.1" fill="#5a34b0" opacity="0.8" transform="rotate(67 30.1 39.9)"/>
<ellipse cx="20.3" cy="3.5" rx="1.4" ry="0.8" fill="#4a2a9c" opacity="0.8" transform="rotate(63 20.3 3.5)"/>
<ellipse cx="73.0" cy="28.7" rx="1.3" ry="0.9" fill="#40248c" opacity="0.8" transform="rotate(58 73.0 28.7)"/>
<ellipse cx="24.4" cy="49.6" rx="1.9" ry="1.1" fill="#5a34b0" opacity="0.8" transform="rotate(79 24.4 49.6)"/>
<ellipse cx="45.3" cy="3.3" rx="1.4" ry="0.6" fill="#6a40c0" opacity="0.8" transform="rotate(87 45.3 3.3)"/>
<ellipse cx="64.0" cy="4.2" rx="1.7" ry="1.0" fill="#40248c" opacity="0.8" transform="rotate(56 64.0 4.2)"/>
<ellipse cx="58.1" cy="50.4" rx="2.0" ry="0.7" fill="#3a2088" opacity="0.8" transform="rotate(82 58.1 50.4)"/>
<ellipse cx="7.6" cy="14.6" rx="1.1" ry="1.1" fill="#4a2a9c" opacity="0.8" transform="rotate(118 7.6 14.6)"/>
<ellipse cx="72.9" cy="11.0" rx="1.4" ry="1.1" fill="#2c1878" opacity="0.8" transform="rotate(33 72.9 11.0)"/>
<ellipse cx="26.0" cy="36.1" rx="1.9" ry="1.3" fill="#2c1878" opacity="0.8" transform="rotate(73 26.0 36.1)"/>
<ellipse cx="68.9" cy="65.7" rx="1.6" ry="1.1" fill="#40248c" opacity="0.8" transform="rotate(53 68.9 65.7)"/>
<ellipse cx="31.8" cy="50.0" rx="2.3" ry="1.3" fill="#2c1878" opacity="0.8" transform="rotate(66 31.8 50.0)"/>
<ellipse cx="6.0" cy="39.7" rx="2.3" ry="1.0" fill="#40248c" opacity="0.8" transform="rotate(50 6.0 39.7)"/>
<ellipse cx="9.3" cy="82.3" rx="1.1" ry="1.2" fill="#40248c" opacity="0.8" transform="rotate(51 9.3 82.3)"/>
<ellipse cx="47.3" cy="37.9" rx="2.0" ry="1.2" fill="#40248c" opacity="0.8" transform="rotate(80 47.3 37.9)"/>
<ellipse cx="71.5" cy="61.9" rx="1.1" ry="1.0" fill="#4a2a9c" opacity="0.8" transform="rotate(83 71.5 61.9)"/>
<ellipse cx="76.5" cy="3.5" rx="1.0" ry="0.6" fill="#6a40c0" opacity="0.8" transform="rotate(124 76.5 3.5)"/>
<ellipse cx="5.8" cy="25.8" rx="2.0" ry="0.7" fill="#2c1878" opacity="0.8" transform="rotate(88 5.8 25.8)"/>
<ellipse cx="25.8" cy="80.8" rx="2.0" ry="0.9" fill="#2c1878" opacity="0.8" transform="rotate(89 25.8 80.8)"/>
<ellipse cx="29.8" cy="54.6" rx="1.9" ry="0.9" fill="#4a2a9c" opacity="0.8" transform="rotate(81 29.8 54.6)"/>
<ellipse cx="65.5" cy="47.9" rx="1.4" ry="0.6" fill="#6a40c0" opacity="0.8" transform="rotate(127 65.5 47.9)"/>
<ellipse cx="27.2" cy="51.2" rx="2.4" ry="1.2" fill="#5a34b0" opacity="0.8" transform="rotate(56 27.2 51.2)"/>
<ellipse cx="81.8" cy="20.2" rx="1.5" ry="0.9" fill="#5a34b0" opacity="0.8" transform="rotate(42 81.8 20.2)"/>
<ellipse cx="23.0" cy="-0.9" rx="1.4" ry="0.9" fill="#2c1878" opacity="0.8" transform="rotate(147 23.0 -0.9)"/>
<ellipse cx="23.5" cy="11.1" rx="2.2" ry="1.3" fill="#6a40c0" opacity="0.8" transform="rotate(89 23.5 11.1)"/>
<ellipse cx="57.1" cy="77.8" rx="1.5" ry="0.7" fill="#3a2088" opacity="0.8" transform="rotate(144 57.1 77.8)"/>
<ellipse cx="65.8" cy="61.3" rx="2.4" ry="0.8" fill="#40248c" opacity="0.8" transform="rotate(66 65.8 61.3)"/>
<ellipse cx="16.5" cy="21.0" rx="2.1" ry="1.2" fill="#4a2a9c" opacity="0.8" transform="rotate(54 16.5 21.0)"/>
<ellipse cx="64.5" cy="19.1" rx="1.8" ry="1.2" fill="#5a34b0" opacity="0.8" transform="rotate(94 64.5 19.1)"/>
<ellipse cx="41.9" cy="16.4" rx="1.3" ry="0.7" fill="#6a40c0" opacity="0.8" transform="rotate(52 41.9 16.4)"/>
<ellipse cx="46.9" cy="33.7" rx="1.7" ry="0.7" fill="#4a2a9c" opacity="0.8" transform="rotate(90 46.9 33.7)"/>
<ellipse cx="72.5" cy="31.0" rx="1.6" ry="0.7" fill="#4a2a9c" opacity="0.8" transform="rotate(51 72.5 31.0)"/>
<ellipse cx="43.0" cy="0.8" rx="1.0" ry="1.3" fill="#6a40c0" opacity="0.8" transform="rotate(88 43.0 0.8)"/>
<ellipse cx="17.1" cy="78.8" rx="1.4" ry="0.7" fill="#6a40c0" opacity="0.8" transform="rotate(74 17.1 78.8)"/>
<ellipse cx="80.7" cy="20.9" rx="1.1" ry="0.7" fill="#2c1878" opacity="0.8" transform="rotate(53 80.7 20.9)"/>
<ellipse cx="2.0" cy="30.9" rx="2.0" ry="0.9" fill="#6a40c0" opacity="0.8" transform="rotate(161 2.0 30.9)"/>
<ellipse cx="53.3" cy="78.5" rx="2.0" ry="0.7" fill="#2c1878" opacity="0.8" transform="rotate(59 53.3 78.5)"/>
<ellipse cx="80.1" cy="56.7" rx="1.6" ry="0.9" fill="#40248c" opacity="0.8" transform="rotate(89 80.1 56.7)"/>
<ellipse cx="17.8" cy="2.3" rx="1.4" ry="0.8" fill="#2c1878" opacity="0.8" transform="rotate(163 17.8 2.3)"/>
<ellipse cx="20.9" cy="43.2" rx="2.0" ry="1.1" fill="#4a2a9c" opacity="0.8" transform="rotate(54 20.9 43.2)"/>
<ellipse cx="63.0" cy="80.0" rx="1.9" ry="0.8" fill="#2c1878" opacity="0.8" transform="rotate(136 63.0 80.0)"/>
<ellipse cx="38.9" cy="31.0" rx="1.5" ry="0.9" fill="#3a2088" opacity="0.8" transform="rotate(68 38.9 31.0)"/>
<ellipse cx="76.5" cy="75.9" rx="1.7" ry="1.2" fill="#3a2088" opacity="0.8" transform="rotate(28 76.5 75.9)"/>
<ellipse cx="5.6" cy="52.3" rx="1.5" ry="1.1" fill="#5a34b0" opacity="0.8" transform="rotate(172 5.6 52.3)"/>
<ellipse cx="70.4" cy="53.2" rx="1.6" ry="0.8" fill="#40248c" opacity="0.8" transform="rotate(86 70.4 53.2)"/>
<ellipse cx="30.0" cy="27.6" rx="2.0" ry="0.7" fill="#5a34b0" opacity="0.8" transform="rotate(86 30.0 27.6)"/>
<ellipse cx="72.8" cy="22.0" rx="1.6" ry="0.7" fill="#4a2a9c" opacity="0.8" transform="rotate(84 72.8 22.0)"/>
<ellipse cx="67.2" cy="21.5" rx="1.2" ry="0.9" fill="#6a40c0" opacity="0.8" transform="rotate(56 67.2 21.5)"/>
<ellipse cx="3.8" cy="76.2" rx="1.9" ry="0.7" fill="#4a2a9c" opacity="0.8" transform="rotate(61 3.8 76.2)"/>
<ellipse cx="63.0" cy="82.7" rx="1.6" ry="0.8" fill="#5a34b0" opacity="0.8" transform="rotate(60 63.0 82.7)"/>
<ellipse cx="23.5" cy="76.3" rx="1.1" ry="1.1" fill="#2c1878" opacity="0.8" transform="rotate(89 23.5 76.3)"/>
<ellipse cx="36.5" cy="42.8" rx="1.7" ry="0.9" fill="#4a2a9c" opacity="0.8" transform="rotate(170 36.5 42.8)"/>
<ellipse cx="14.8" cy="36.5" rx="2.3" ry="0.8" fill="#3a2088" opacity="0.8" transform="rotate(25 14.8 36.5)"/>
<ellipse cx="43.2" cy="18.9" rx="1.2" ry="1.0" fill="#40248c" opacity="0.8" transform="rotate(160 43.2 18.9)"/>
<ellipse cx="41.0" cy="22.6" rx="1.3" ry="1.0" fill="#6a40c0" opacity="0.8" transform="rotate(146 41.0 22.6)"/>
<ellipse cx="25.1" cy="-0.1" rx="2.0" ry="1.0" fill="#6a40c0" opacity="0.8" transform="rotate(165 25.1 -0.1)"/>
<ellipse cx="67.7" cy="27.9" rx="2.2" ry="1.2" fill="#5a34b0" opacity="0.8" transform="rotate(51 67.7 27.9)"/>
<ellipse cx="10.3" cy="56.4" rx="1.3" ry="1.0" fill="#40248c" opacity="0.8" transform="rotate(7 10.3 56.4)"/>
<ellipse cx="30.5" cy="50.3" rx="1.0" ry="1.0" fill="#2c1878" opacity="0.8" transform="rotate(71 30.5 50.3)"/>
<ellipse cx="29.2" cy="20.1" rx="2.2" ry="1.2" fill="#6a40c0" opacity="0.8" transform="rotate(156 29.2 20.1)"/>
<ellipse cx="62.7" cy="4.3" rx="2.2" ry="1.3" fill="#6a40c0" opacity="0.8" transform="rotate(71 62.7 4.3)"/>
<ellipse cx="67.2" cy="10.6" rx="1.3" ry="0.7" fill="#4a2a9c" opacity="0.8" transform="rotate(30 67.2 10.6)"/>
<ellipse cx="20.2" cy="69.4" rx="1.0" ry="0.7" fill="#2c1878" opacity="0.8" transform="rotate(35 20.2 69.4)"/>
<ellipse cx="70.0" cy="53.9" rx="1.6" ry="0.8" fill="#2c1878" opacity="0.8" transform="rotate(64 70.0 53.9)"/>
<ellipse cx="59.8" cy="2.9" rx="1.2" ry="0.9" fill="#2c1878" opacity="0.8" transform="rotate(61 59.8 2.9)"/>
<ellipse cx="9.3" cy="75.2" rx="1.8" ry="0.8" fill="#5a34b0" opacity="0.8" transform="rotate(77 9.3 75.2)"/>
<ellipse cx="62.3" cy="13.2" rx="2.2" ry="1.3" fill="#6a40c0" opacity="0.8" transform="rotate(67 62.3 13.2)"/>
<ellipse cx="43.6" cy="33.1" rx="2.3" ry="1.1" fill="#4a2a9c" opacity="0.8" transform="rotate(60 43.6 33.1)"/>
<ellipse cx="59.7" cy="71.7" rx="1.8" ry="1.3" fill="#6a40c0" opacity="0.8" transform="rotate(66 59.7 71.7)"/>
<ellipse cx="3.5" cy="43.6" rx="2.3" ry="1.3" fill="#40248c" opacity="0.8" transform="rotate(67 3.5 43.6)"/>
<ellipse cx="-0.0" cy="8.4" rx="1.3" ry="0.8" fill="#3a2088" opacity="0.8" transform="rotate(77 -0.0 8.4)"/>
<ellipse cx="10.8" cy="82.6" rx="2.1" ry="1.3" fill="#2c1878" opacity="0.8" transform="rotate(146 10.8 82.6)"/>
<ellipse cx="1.9" cy="54.3" rx="1.4" ry="1.1" fill="#2c1878" opacity="0.8" transform="rotate(72 1.9 54.3)"/>
<ellipse cx="51.7" cy="20.6" rx="1.7" ry="0.9" fill="#4a2a9c" opacity="0.8" transform="rotate(52 51.7 20.6)"/>
<ellipse cx="28.5" cy="13.4" rx="1.1" ry="1.3" fill="#2c1878" opacity="0.8" transform="rotate(162 28.5 13.4)"/>
<ellipse cx="38.6" cy="45.0" rx="1.2" ry="0.7" fill="#5a34b0" opacity="0.8" transform="rotate(62 38.6 45.0)"/>
<ellipse cx="48.0" cy="22.6" rx="2.0" ry="1.1" fill="#40248c" opacity="0.8" transform="rotate(68 48.0 22.6)"/>
<ellipse cx="47.4" cy="55.1" rx="1.3" ry="1.1" fill="#6a40c0" opacity="0.8" transform="rotate(72 47.4 55.1)"/>
<ellipse cx="39.5" cy="69.6" rx="1.0" ry="0.8" fill="#6a40c0" opacity="0.8" transform="rotate(72 39.5 69.6)"/>
<ellipse cx="32.6" cy="78.7" rx="1.2" ry="1.3" fill="#4a2a9c" opacity="0.8" transform="rotate(63 32.6 78.7)"/>
<ellipse cx="23.2" cy="84.1" rx="1.4" ry="1.1" fill="#4a2a9c" opacity="0.8" transform="rotate(53 23.2 84.1)"/>
<ellipse cx="36.3" cy="4.3" rx="1.5" ry="0.9" fill="#3a2088" opacity="0.8" transform="rotate(20 36.3 4.3)"/>
<ellipse cx="82.9" cy="57.4" rx="2.3" ry="0.9" fill="#3a2088" opacity="0.8" transform="rotate(25 82.9 57.4)"/>
<ellipse cx="51.3" cy="72.3" rx="2.1" ry="1.0" fill="#5a34b0" opacity="0.8" transform="rotate(134 51.3 72.3)"/>
<ellipse cx="21.8" cy="53.4" rx="1.9" ry="1.1" fill="#5a34b0" opacity="0.8" transform="rotate(54 21.8 53.4)"/>
<ellipse cx="63.9" cy="49.5" rx="1.7" ry="1.3" fill="#4a2a9c" opacity="0.8" transform="rotate(75 63.9 49.5)"/>
<ellipse cx="73.0" cy="51.4" rx="1.5" ry="0.9" fill="#4a2a9c" opacity="0.8" transform="rotate(79 73.0 51.4)"/>
<ellipse cx="28.9" cy="44.4" rx="1.8" ry="1.1" fill="#5a34b0" opacity="0.8" transform="rotate(80 28.9 44.4)"/>
<ellipse cx="31.3" cy="24.9" rx="1.8" ry="1.2" fill="#3a2088" opacity="0.8" transform="rotate(65 31.3 24.9)"/>
<ellipse cx="6.5" cy="78.3" rx="1.5" ry="1.2" fill="#3a2088" opacity="0.8" transform="rotate(173 6.5 78.3)"/>
<ellipse cx="81.4" cy="75.8" rx="2.3" ry="0.6" fill="#4a2a9c" opacity="0.8" transform="rotate(86 81.4 75.8)"/>
<ellipse cx="77.0" cy="65.7" rx="1.8" ry="1.3" fill="#40248c" opacity="0.8" transform="rotate(71 77.0 65.7)"/>
<ellipse cx="35.5" cy="39.0" rx="1.1" ry="1.1" fill="#2c1878" opacity="0.8" transform="rotate(50 35.5 39.0)"/>
<ellipse cx="43.5" cy="7.5" rx="1.5" ry="0.9" fill="#3a2088" opacity="0.8" transform="rotate(103 43.5 7.5)"/>
<ellipse cx="80.8" cy="41.0" rx="1.6" ry="1.0" fill="#6a40c0" opacity="0.8" transform="rotate(62 80.8 41.0)"/>
<ellipse cx="62.3" cy="7.0" rx="1.5" ry="0.9" fill="#3a2088" opacity="0.8" transform="rotate(62 62.3 7.0)"/>
<ellipse cx="8.4" cy="76.1" rx="2.0" ry="1.2" fill="#5a34b0" opacity="0.8" transform="rotate(160 8.4 76.1)"/>
<ellipse cx="52.5" cy="44.2" rx="2.1" ry="0.7" fill="#2c1878" opacity="0.8" transform="rotate(74 52.5 44.2)"/>
<ellipse cx="52.4" cy="51.0" rx="1.5" ry="1.3" fill="#5a34b0" opacity="0.8" transform="rotate(8 52.4 51.0)"/>
<ellipse cx="-0.1" cy="-0.8" rx="2.0" ry="1.0" fill="#2c1878" opacity="0.8" transform="rotate(72 -0.1 -0.8)"/>
<ellipse cx="48.7" cy="56.6" rx="1.3" ry="0.9" fill="#40248c" opacity="0.8" transform="rotate(48 48.7 56.6)"/>
<ellipse cx="74.9" cy="43.3" rx="1.2" ry="0.7" fill="#6a40c0" opacity="0.8" transform="rotate(26 74.9 43.3)"/>
<ellipse cx="63.4" cy="8.2" rx="1.1" ry="0.7" fill="#6a40c0" opacity="0.8" transform="rotate(83 63.4 8.2)"/>
<ellipse cx="35.5" cy="68.0" rx="1.9" ry="1.1" fill="#3a2088" opacity="0.8" transform="rotate(26 35.5 68.0)"/>
<ellipse cx="29.0" cy="13.6" rx="1.4" ry="0.7" fill="#4a2a9c" opacity="0.8" transform="rotate(105 29.0 13.6)"/>
<ellipse cx="15.3" cy="52.8" rx="1.0" ry="0.8" fill="#2c1878" opacity="0.8" transform="rotate(81 15.3 52.8)"/>
<ellipse cx="36.3" cy="52.5" rx="1.3" ry="0.6" fill="#4a2a9c" opacity="0.8" transform="rotate(154 36.3 52.5)"/>
<ellipse cx="-0.5" cy="73.7" rx="1.6" ry="0.9" fill="#2c1878" opacity="0.8" transform="rotate(85 -0.5 73.7)"/>
<ellipse cx="19.6" cy="32.6" rx="2.0" ry="0.8" fill="#5a34b0" opacity="0.8" transform="rotate(85 19.6 32.6)"/>
<ellipse cx="0.9" cy="73.8" rx="1.1" ry="0.7" fill="#4a2a9c" opacity="0.8" transform="rotate(50 0.9 73.8)"/>
<ellipse cx="32.6" cy="30.3" rx="1.5" ry="1.2" fill="#2c1878" opacity="0.8" transform="rotate(76 32.6 30.3)"/>
<ellipse cx="34.8" cy="77.7" rx="1.8" ry="0.9" fill="#5a34b0" opacity="0.8" transform="rotate(64 34.8 77.7)"/>
<ellipse cx="2.0" cy="56.3" rx="1.5" ry="0.7" fill="#4a2a9c" opacity="0.8" transform="rotate(17 2.0 56.3)"/>
<ellipse cx="45.2" cy="66.9" rx="1.8" ry="0.9" fill="#4a2a9c" opacity="0.8" transform="rotate(43 45.2 66.9)"/>
<ellipse cx="28.9" cy="61.3" rx="1.5" ry="1.3" fill="#6a40c0" opacity="0.8" transform="rotate(88 28.9 61.3)"/>
<ellipse cx="16.3" cy="73.0" rx="1.9" ry="1.3" fill="#5a34b0" opacity="0.8" transform="rotate(107 16.3 73.0)"/>
<ellipse cx="48.8" cy="30.7" rx="1.3" ry="1.0" fill="#2c1878" opacity="0.8" transform="rotate(85 48.8 30.7)"/>
<ellipse cx="56.5" cy="6.9" rx="2.2" ry="1.1" fill="#40248c" opacity="0.8" transform="rotate(5 56.5 6.9)"/>
<ellipse cx="47.1" cy="25.8" rx="1.5" ry="0.7" fill="#4a2a9c" opacity="0.8" transform="rotate(84 47.1 25.8)"/>
<ellipse cx="15.0" cy="75.8" rx="1.1" ry="1.2" fill="#3a2088" opacity="0.8" transform="rotate(137 15.0 75.8)"/>
<ellipse cx="4.6" cy="25.8" rx="1.3" ry="0.7" fill="#5a34b0" opacity="0.8" transform="rotate(51 4.6 25.8)"/>
<ellipse cx="70.6" cy="39.0" rx="1.9" ry="1.0" fill="#3a2088" opacity="0.8" transform="rotate(169 70.6 39.0)"/>
<ellipse cx="1.5" cy="57.6" rx="1.9" ry="0.8" fill="#40248c" opacity="0.8" transform="rotate(76 1.5 57.6)"/>
<ellipse cx="38.2" cy="85.2" rx="1.6" ry="1.2" fill="#4a2a9c" opacity="0.8" transform="rotate(62 38.2 85.2)"/>
<ellipse cx="76.4" cy="62.3" rx="2.0" ry="0.6" fill="#3a2088" opacity="0.8" transform="rotate(56 76.4 62.3)"/>
<ellipse cx="63.2" cy="12.5" rx="2.0" ry="1.0" fill="#6a40c0" opacity="0.8" transform="rotate(169 63.2 12.5)"/>
<ellipse cx="70.2" cy="48.1" rx="2.0" ry="0.8" fill="#4a2a9c" opacity="0.8" transform="rotate(77 70.2 48.1)"/>
<ellipse cx="78.3" cy="8.6" rx="2.1" ry="1.1" fill="#6a40c0" opacity="0.8" transform="rotate(158 78.3 8.6)"/>
<ellipse cx="50.5" cy="3.1" rx="1.3" ry="0.7" fill="#4a2a9c" opacity="0.8" transform="rotate(38 50.5 3.1)"/>
<ellipse cx="62.6" cy="6.4" rx="2.0" ry="0.9" fill="#4a2a9c" opacity="0.8" transform="rotate(149 62.6 6.4)"/>
<ellipse cx="43.7" cy="29.1" rx="2.3" ry="0.9" fill="#40248c" opacity="0.8" transform="rotate(70 43.7 29.1)"/>
<ellipse cx="69.4" cy="53.1" rx="1.6" ry="0.6" fill="#6a40c0" opacity="0.8" transform="rotate(77 69.4 53.1)"/>
<ellipse cx="70.8" cy="66.1" rx="1.7" ry="0.7" fill="#6a40c0" opacity="0.8" transform="rotate(149 70.8 66.1)"/>
<ellipse cx="21.1" cy="46.1" rx="2.4" ry="1.0" fill="#2c1878" opacity="0.8" transform="rotate(60 21.1 46.1)"/>
<ellipse cx="13.3" cy="28.9" rx="1.1" ry="1.0" fill="#5a34b0" opacity="0.8" transform="rotate(77 13.3 28.9)"/>
<ellipse cx="55.8" cy="19.5" rx="1.3" ry="1.0" fill="#4a2a9c" opacity="0.8" transform="rotate(87 55.8 19.5)"/>
<ellipse cx="58.2" cy="10.5" rx="2.0" ry="1.0" fill="#2c1878" opacity="0.8" transform="rotate(75 58.2 10.5)"/>
<ellipse cx="45.5" cy="64.6" rx="1.2" ry="1.1" fill="#5a34b0" opacity="0.8" transform="rotate(83 45.5 64.6)"/>
<ellipse cx="69.5" cy="8.9" rx="1.4" ry="0.9" fill="#4a2a9c" opacity="0.8" transform="rotate(52 69.5 8.9)"/>
<ellipse cx="24.8" cy="8.5" rx="1.4" ry="1.3" fill="#6a40c0" opacity="0.8" transform="rotate(68 24.8 8.5)"/>
<ellipse cx="29.8" cy="13.5" rx="1.1" ry="0.6" fill="#2c1878" opacity="0.8" transform="rotate(135 29.8 13.5)"/>
<ellipse cx="62.4" cy="27.6" rx="2.0" ry="0.8" fill="#5a34b0" opacity="0.8" transform="rotate(172 62.4 27.6)"/>
<ellipse cx="15.1" cy="45.8" rx="1.0" ry="1.2" fill="#40248c" opacity="0.8" transform="rotate(113 15.1 45.8)"/>
<ellipse cx="54.3" cy="20.7" rx="1.3" ry="0.7" fill="#3a2088" opacity="0.8" transform="rotate(81 54.3 20.7)"/>
<ellipse cx="24.1" cy="15.0" rx="1.9" ry="1.2" fill="#40248c" opacity="0.8" transform="rotate(30 24.1 15.0)"/>
<ellipse cx="69.4" cy="63.0" rx="1.5" ry="0.7" fill="#4a2a9c" opacity="0.8" transform="rotate(58 69.4 63.0)"/>
<ellipse cx="10.6" cy="78.3" rx="2.2" ry="0.8" fill="#40248c" opacity="0.8" transform="rotate(54 10.6 78.3)"/>
<ellipse cx="77.1" cy="85.2" rx="1.6" ry="0.6" fill="#40248c" opacity="0.8" transform="rotate(67 77.1 85.2)"/>
<ellipse cx="12.4" cy="24.8" rx="1.8" ry="0.7" fill="#5a34b0" opacity="0.8" transform="rotate(29 12.4 24.8)"/>
<ellipse cx="53.0" cy="33.6" rx="2.4" ry="1.2" fill="#4a2a9c" opacity="0.8" transform="rotate(59 53.0 33.6)"/>
<ellipse cx="-0.8" cy="71.5" rx="2.2" ry="1.2" fill="#40248c" opacity="0.8" transform="rotate(61 -0.8 71.5)"/>
<ellipse cx="3.7" cy="60.3" rx="2.2" ry="0.6" fill="#3a2088" opacity="0.8" transform="rotate(88 3.7 60.3)"/>
<ellipse cx="75.7" cy="13.2" rx="1.4" ry="0.9" fill="#3a2088" opacity="0.8" transform="rotate(63 75.7 13.2)"/>
<ellipse cx="38.8" cy="45.8" rx="1.7" ry="0.9" fill="#3a2088" opacity="0.8" transform="rotate(75 38.8 45.8)"/>
<ellipse cx="81.6" cy="81.9" rx="1.9" ry="1.2" fill="#6a40c0" opacity="0.8" transform="rotate(77 81.6 81.9)"/>
<ellipse cx="54.8" cy="47.7" rx="1.6" ry="0.9" fill="#4a2a9c" opacity="0.8" transform="rotate(25 54.8 47.7)"/>
<ellipse cx="44.0" cy="53.6" rx="2.2" ry="0.8" fill="#3a2088" opacity="0.8" transform="rotate(124 44.0 53.6)"/>
<ellipse cx="55.0" cy="31.1" rx="1.8" ry="0.9" fill="#5a34b0" opacity="0.8" transform="rotate(73 55.0 31.1)"/>
<ellipse cx="21.1" cy="18.6" rx="2.4" ry="0.7" fill="#4a2a9c" opacity="0.8" transform="rotate(40 21.1 18.6)"/>
<ellipse cx="54.1" cy="15.2" rx="1.9" ry="1.1" fill="#6a40c0" opacity="0.8" transform="rotate(68 54.1 15.2)"/>
<ellipse cx="47.6" cy="8.7" rx="1.7" ry="1.0" fill="#2c1878" opacity="0.8" transform="rotate(66 47.6 8.7)"/>
<ellipse cx="66.9" cy="10.6" rx="1.7" ry="1.0" fill="#40248c" opacity="0.8" transform="rotate(171 66.9 10.6)"/>
<ellipse cx="83.0" cy="61.2" rx="1.1" ry="1.2" fill="#3a2088" opacity="0.8" transform="rotate(57 83.0 61.2)"/>
<ellipse cx="46.7" cy="65.8" rx="1.2" ry="1.1" fill="#4a2a9c" opacity="0.8" transform="rotate(59 46.7 65.8)"/>
<ellipse cx="2.5" cy="59.5" rx="2.3" ry="0.9" fill="#2c1878" opacity="0.8" transform="rotate(55 2.5 59.5)"/>
<ellipse cx="51.7" cy="74.2" rx="1.8" ry="1.2" fill="#40248c" opacity="0.8" transform="rotate(30 51.7 74.2)"/>
<ellipse cx="70.4" cy="68.3" rx="2.0" ry="0.6" fill="#6a40c0" opacity="0.8" transform="rotate(60 70.4 68.3)"/>
<ellipse cx="61.5" cy="80.7" rx="2.0" ry="0.6" fill="#6a40c0" opacity="0.8" transform="rotate(18 61.5 80.7)"/>
<ellipse cx="26.8" cy="51.0" rx="1.0" ry="1.2" fill="#40248c" opacity="0.8" transform="rotate(64 26.8 51.0)"/>
<ellipse cx="36.9" cy="71.2" rx="1.8" ry="0.7" fill="#4a2a9c" opacity="0.8" transform="rotate(54 36.9 71.2)"/>
<ellipse cx="14.7" cy="46.8" rx="1.4" ry="1.1" fill="#4a2a9c" opacity="0.8" transform="rotate(56 14.7 46.8)"/>
<ellipse cx="44.7" cy="58.4" rx="2.1" ry="1.3" fill="#3a2088" opacity="0.8" transform="rotate(64 44.7 58.4)"/>
<ellipse cx="40.3" cy="40.7" rx="1.0" ry="1.2" fill="#40248c" opacity="0.8" transform="rotate(75 40.3 40.7)"/>
<ellipse cx="56.6" cy="32.8" rx="1.7" ry="0.7" fill="#6a40c0" opacity="0.8" transform="rotate(71 56.6 32.8)"/>
<ellipse cx="42.8" cy="30.1" rx="1.7" ry="0.8" fill="#3a2088" opacity="0.8" transform="rotate(75 42.8 30.1)"/>
<ellipse cx="13.4" cy="30.1" rx="1.7" ry="1.0" fill="#2c1878" opacity="0.8" transform="rotate(64 13.4 30.1)"/>
<ellipse cx="27.5" cy="40.7" rx="1.3" ry="0.8" fill="#40248c" opacity="0.8" transform="rotate(110 27.5 40.7)"/>
<ellipse cx="11.4" cy="56.8" rx="1.4" ry="0.8" fill="#6a40c0" opacity="0.8" transform="rotate(60 11.4 56.8)"/>
<ellipse cx="47.6" cy="49.4" rx="1.2" ry="1.1" fill="#2c1878" opacity="0.8" transform="rotate(162 47.6 49.4)"/>
<ellipse cx="73.0" cy="65.7" rx="1.9" ry="1.0" fill="#3a2088" opacity="0.8" transform="rotate(61 73.0 65.7)"/>
<ellipse cx="73.0" cy="79.9" rx="2.0" ry="0.8" fill="#6a40c0" opacity="0.8" transform="rotate(133 73.0 79.9)"/>
<ellipse cx="71.4" cy="20.1" rx="2.2" ry="1.1" fill="#40248c" opacity="0.8" transform="rotate(78 71.4 20.1)"/>
<ellipse cx="26.4" cy="84.2" rx="1.7" ry="0.9" fill="#4a2a9c" opacity="0.8" transform="rotate(59 26.4 84.2)"/>
<ellipse cx="11.8" cy="16.7" rx="2.2" ry="1.1" fill="#4a2a9c" opacity="0.8" transform="rotate(66 11.8 16.7)"/>
<ellipse cx="77.8" cy="49.6" rx="1.2" ry="1.1" fill="#40248c" opacity="0.8" transform="rotate(73 77.8 49.6)"/>
<ellipse cx="78.5" cy="28.3" rx="2.3" ry="1.0" fill="#6a40c0" opacity="0.8" transform="rotate(57 78.5 28.3)"/>
<ellipse cx="29.0" cy="39.3" rx="2.4" ry="1.1" fill="#5a34b0" opacity="0.8" transform="rotate(166 29.0 39.3)"/>
<ellipse cx="26.1" cy="14.1" rx="2.3" ry="1.0" fill="#3a2088" opacity="0.8" transform="rotate(113 26.1 14.1)"/>
<ellipse cx="58.7" cy="17.8" rx="1.6" ry="0.7" fill="#40248c" opacity="0.8" transform="rotate(156 58.7 17.8)"/>
<ellipse cx="7.4" cy="19.8" rx="1.1" ry="0.7" fill="#6a40c0" opacity="0.8" transform="rotate(53 7.4 19.8)"/>
<ellipse cx="27.9" cy="10.8" rx="1.3" ry="1.0" fill="#2c1878" opacity="0.8" transform="rotate(115 27.9 10.8)"/>
<ellipse cx="17.0" cy="27.2" rx="2.0" ry="1.1" fill="#4a2a9c" opacity="0.8" transform="rotate(77 17.0 27.2)"/>
<ellipse cx="13.8" cy="73.4" rx="2.1" ry="0.7" fill="#6a40c0" opacity="0.8" transform="rotate(140 13.8 73.4)"/>
<ellipse cx="32.9" cy="80.0" rx="2.2" ry="0.6" fill="#4a2a9c" opacity="0.8" transform="rotate(76 32.9 80.0)"/>
<ellipse cx="3.8" cy="51.9" rx="2.0" ry="0.8" fill="#3a2088" opacity="0.8" transform="rotate(56 3.8 51.9)"/>
<ellipse cx="43.9" cy="71.5" rx="1.5" ry="0.9" fill="#6a40c0" opacity="0.8" transform="rotate(77 43.9 71.5)"/>
<ellipse cx="12.0" cy="83.6" rx="1.8" ry="0.8" fill="#5a34b0" opacity="0.8" transform="rotate(146 12.0 83.6)"/>
<ellipse cx="63.7" cy="65.9" rx="1.4" ry="1.1" fill="#4a2a9c" opacity="0.8" transform="rotate(82 63.7 65.9)"/>
<ellipse cx="29.6" cy="44.7" rx="1.4" ry="0.8" fill="#4a2a9c" opacity="0.8" transform="rotate(18 29.6 44.7)"/>
<ellipse cx="11.8" cy="53.2" rx="1.6" ry="1.3" fill="#2c1878" opacity="0.8" transform="rotate(112 11.8 53.2)"/>
<ellipse cx="4.1" cy="42.3" rx="1.8" ry="0.7" fill="#3a2088" opacity="0.8" transform="rotate(66 4.1 42.3)"/>
<ellipse cx="75.6" cy="74.1" rx="2.2" ry="1.1" fill="#40248c" opacity="0.8" transform="rotate(64 75.6 74.1)"/>
<ellipse cx="19.6" cy="83.7" rx="1.7" ry="1.0" fill="#5a34b0" opacity="0.8" transform="rotate(82 19.6 83.7)"/>
<ellipse cx="17.0" cy="67.1" rx="1.0" ry="1.1" fill="#5a34b0" opacity="0.8" transform="rotate(82 17.0 67.1)"/>
<ellipse cx="56.2" cy="29.2" rx="1.3" ry="0.9" fill="#40248c" opacity="0.8" transform="rotate(68 56.2 29.2)"/>
<ellipse cx="52.2" cy="18.3" rx="1.4" ry="0.8" fill="#3a2088" opacity="0.8" transform="rotate(59 52.2 18.3)"/>
<ellipse cx="26.6" cy="35.7" rx="1.4" ry="1.2" fill="#3a2088" opacity="0.8" transform="rotate(89 26.6 35.7)"/>
<ellipse cx="39.5" cy="79.5" rx="2.1" ry="1.3" fill="#2c1878" opacity="0.8" transform="rotate(62 39.5 79.5)"/>
<ellipse cx="27.1" cy="40.9" rx="2.2" ry="0.7" fill="#5a34b0" opacity="0.8" transform="rotate(108 27.1 40.9)"/>
<ellipse cx="17.0" cy="3.5" rx="2.1" ry="1.2" fill="#5a34b0" opacity="0.8" transform="rotate(8 17.0 3.5)"/>
<ellipse cx="14.5" cy="73.5" rx="2.4" ry="0.8" fill="#2c1878" opacity="0.8" transform="rotate(54 14.5 73.5)"/>
<ellipse cx="10.3" cy="25.1" rx="1.7" ry="0.8" fill="#5a34b0" opacity="0.8" transform="rotate(84 10.3 25.1)"/>
<ellipse cx="6.7" cy="28.3" rx="2.3" ry="1.1" fill="#2c1878" opacity="0.8" transform="rotate(176 6.7 28.3)"/>
<ellipse cx="48.6" cy="16.4" rx="1.9" ry="0.6" fill="#6a40c0" opacity="0.8" transform="rotate(74 48.6 16.4)"/>
<ellipse cx="35.5" cy="8.0" rx="1.0" ry="1.3" fill="#2c1878" opacity="0.8" transform="rotate(85 35.5 8.0)"/>
<ellipse cx="80.2" cy="82.7" rx="1.7" ry="0.6" fill="#40248c" opacity="0.8" transform="rotate(72 80.2 82.7)"/>
<ellipse cx="61.6" cy="42.2" rx="1.2" ry="0.8" fill="#4a2a9c" opacity="0.8" transform="rotate(87 61.6 42.2)"/>
<ellipse cx="81.3" cy="72.5" rx="2.4" ry="0.8" fill="#2c1878" opacity="0.8" transform="rotate(78 81.3 72.5)"/>
<ellipse cx="21.4" cy="4.9" rx="1.1" ry="1.0" fill="#4a2a9c" opacity="0.8" transform="rotate(72 21.4 4.9)"/>
<ellipse cx="21.7" cy="27.1" rx="1.1" ry="0.9" fill="#5a34b0" opacity="0.8" transform="rotate(63 21.7 27.1)"/>
<ellipse cx="82.3" cy="74.3" rx="2.0" ry="0.9" fill="#3a2088" opacity="0.8" transform="rotate(67 82.3 74.3)"/>
<ellipse cx="31.8" cy="32.2" rx="1.6" ry="0.7" fill="#6a40c0" opacity="0.8" transform="rotate(1 31.8 32.2)"/>
<ellipse cx="41.5" cy="84.2" rx="2.0" ry="1.1" fill="#40248c" opacity="0.8" transform="rotate(149 41.5 84.2)"/>
<ellipse cx="8.9" cy="71.7" rx="2.1" ry="1.2" fill="#4a2a9c" opacity="0.8" transform="rotate(78 8.9 71.7)"/>
<ellipse cx="57.1" cy="37.1" rx="1.9" ry="0.9" fill="#40248c" opacity="0.8" transform="rotate(85 57.1 37.1)"/>
<ellipse cx="71.4" cy="43.0" rx="1.8" ry="1.3" fill="#40248c" opacity="0.8" transform="rotate(75 71.4 43.0)"/>
<ellipse cx="72.7" cy="29.6" rx="1.1" ry="1.3" fill="#4a2a9c" opacity="0.8" transform="rotate(76 72.7 29.6)"/>
<ellipse cx="5.1" cy="67.7" rx="1.9" ry="1.2" fill="#5a34b0" opacity="0.8" transform="rotate(47 5.1 67.7)"/>
<ellipse cx="71.7" cy="29.0" rx="1.8" ry="1.0" fill="#6a40c0" opacity="0.8" transform="rotate(12 71.7 29.0)"/>
<ellipse cx="29.9" cy="16.7" rx="1.2" ry="0.9" fill="#40248c" opacity="0.8" transform="rotate(27 29.9 16.7)"/>
<ellipse cx="38.0" cy="54.2" rx="2.2" ry="1.2" fill="#5a34b0" opacity="0.8" transform="rotate(8 38.0 54.2)"/>
<ellipse cx="29.7" cy="73.4" rx="1.6" ry="0.9" fill="#4a2a9c" opacity="0.8" transform="rotate(68 29.7 73.4)"/>
<ellipse cx="29.2" cy="68.2" rx="1.7" ry="0.9" fill="#5a34b0" opacity="0.8" transform="rotate(66 29.2 68.2)"/>
<ellipse cx="57.9" cy="37.7" rx="1.7" ry="1.2" fill="#40248c" opacity="0.8" transform="rotate(27 57.9 37.7)"/>
<ellipse cx="10.1" cy="41.1" rx="1.9" ry="1.0" fill="#4a2a9c" opacity="0.8" transform="rotate(82 10.1 41.1)"/>
<ellipse cx="0.5" cy="16.3" rx="1.8" ry="0.6" fill="#4a2a9c" opacity="0.8" transform="rotate(79 0.5 16.3)"/>
<ellipse cx="76.8" cy="21.0" rx="1.4" ry="0.9" fill="#2c1878" opacity="0.8" transform="rotate(70 76.8 21.0)"/>
<ellipse cx="16.1" cy="35.5" rx="2.1" ry="1.0" fill="#5a34b0" opacity="0.8" transform="rotate(52 16.1 35.5)"/>
<ellipse cx="30.9" cy="2.6" rx="2.1" ry="1.3" fill="#4a2a9c" opacity="0.8" transform="rotate(74 30.9 2.6)"/>
<ellipse cx="28.9" cy="32.2" rx="1.8" ry="1.2" fill="#40248c" opacity="0.8" transform="rotate(89 28.9 32.2)"/>
<ellipse cx="48.2" cy="4.5" rx="1.3" ry="1.2" fill="#5a34b0" opacity="0.8" transform="rotate(68 48.2 4.5)"/>
<ellipse cx="43.6" cy="41.8" rx="2.3" ry="1.1" fill="#5a34b0" opacity="0.8" transform="rotate(74 43.6 41.8)"/>
<ellipse cx="78.3" cy="59.4" rx="1.6" ry="1.3" fill="#5a34b0" opacity="0.8" transform="rotate(53 78.3 59.4)"/>
<ellipse cx="40.7" cy="43.1" rx="2.2" ry="1.1" fill="#2c1878" opacity="0.8" transform="rotate(72 40.7 43.1)"/>
<ellipse cx="77.5" cy="24.3" rx="1.5" ry="0.9" fill="#2c1878" opacity="0.8" transform="rotate(54 77.5 24.3)"/>
<ellipse cx="47.4" cy="0.3" rx="1.7" ry="1.2" fill="#40248c" opacity="0.8" transform="rotate(68 47.4 0.3)"/>
<ellipse cx="15.9" cy="27.9" rx="2.2" ry="1.0" fill="#3a2088" opacity="0.8" transform="rotate(152 15.9 27.9)"/>
<ellipse cx="83.6" cy="69.4" rx="2.2" ry="0.7" fill="#2c1878" opacity="0.8" transform="rotate(71 83.6 69.4)"/>
<ellipse cx="14.8" cy="45.5" rx="1.7" ry="0.7" fill="#4a2a9c" opacity="0.8" transform="rotate(77 14.8 45.5)"/>
<ellipse cx="46.1" cy="43.0" rx="1.6" ry="0.6" fill="#5a34b0" opacity="0.8" transform="rotate(85 46.1 43.0)"/>
<ellipse cx="71.6" cy="21.2" rx="1.3" ry="0.6" fill="#5a34b0" opacity="0.8" transform="rotate(65 71.6 21.2)"/>
<ellipse cx="54.7" cy="60.2" rx="1.2" ry="1.3" fill="#40248c" opacity="0.8" transform="rotate(68 54.7 60.2)"/>
<ellipse cx="46.2" cy="3.4" rx="1.4" ry="1.0" fill="#4a2a9c" opacity="0.8" transform="rotate(73 46.2 3.4)"/>
<ellipse cx="2.0" cy="17.9" rx="1.6" ry="0.7" fill="#6a40c0" opacity="0.8" transform="rotate(89 2.0 17.9)"/>
<ellipse cx="37.6" cy="79.6" rx="1.6" ry="1.2" fill="#40248c" opacity="0.8" transform="rotate(67 37.6 79.6)"/>
<ellipse cx="9.6" cy="10.8" rx="2.2" ry="1.2" fill="#40248c" opacity="0.8" transform="rotate(51 9.6 10.8)"/>
<ellipse cx="46.6" cy="68.0" rx="1.7" ry="1.1" fill="#3a2088" opacity="0.8" transform="rotate(53 46.6 68.0)"/>
<ellipse cx="44.3" cy="12.7" rx="2.1" ry="1.1" fill="#3a2088" opacity="0.8" transform="rotate(69 44.3 12.7)"/>
<ellipse cx="65.5" cy="81.0" rx="1.6" ry="1.1" fill="#40248c" opacity="0.8" transform="rotate(86 65.5 81.0)"/>
<ellipse cx="35.0" cy="73.8" rx="2.3" ry="0.7" fill="#3a2088" opacity="0.8" transform="rotate(68 35.0 73.8)"/>
<ellipse cx="73.2" cy="67.7" rx="2.0" ry="1.1" fill="#6a40c0" opacity="0.8" transform="rotate(60 73.2 67.7)"/>
<ellipse cx="70.3" cy="12.1" rx="2.1" ry="1.3" fill="#5a34b0" opacity="0.8" transform="rotate(51 70.3 12.1)"/>
<ellipse cx="12.2" cy="24.1" rx="1.9" ry="1.1" fill="#3a2088" opacity="0.8" transform="rotate(56 12.2 24.1)"/>
<ellipse cx="35.5" cy="57.5" rx="1.2" ry="1.2" fill="#40248c" opacity="0.8" transform="rotate(87 35.5 57.5)"/>
<ellipse cx="78.7" cy="44.4" rx="1.4" ry="0.8" fill="#2c1878" opacity="0.8" transform="rotate(89 78.7 44.4)"/>
<ellipse cx="16.0" cy="23.1" rx="1.4" ry="1.0" fill="#5a34b0" opacity="0.8" transform="rotate(36 16.0 23.1)"/>
<ellipse cx="22.0" cy="76.0" rx="2.2" ry="0.8" fill="#6a40c0" opacity="0.8" transform="rotate(6 22.0 76.0)"/>
<ellipse cx="7.5" cy="-0.9" rx="1.3" ry="0.7" fill="#4a2a9c" opacity="0.8" transform="rotate(57 7.5 -0.9)"/>
<ellipse cx="37.1" cy="20.3" rx="2.0" ry="0.7" fill="#2c1878" opacity="0.8" transform="rotate(54 37.1 20.3)"/>
<ellipse cx="60.4" cy="38.2" rx="2.0" ry="0.7" fill="#2c1878" opacity="0.8" transform="rotate(66 60.4 38.2)"/>
<ellipse cx="1.9" cy="43.3" rx="1.1" ry="1.1" fill="#4a2a9c" opacity="0.8" transform="rotate(73 1.9 43.3)"/>
<ellipse cx="5.5" cy="61.7" rx="2.0" ry="0.9" fill="#2c1878" opacity="0.8" transform="rotate(16 5.5 61.7)"/>
<ellipse cx="70.4" cy="74.3" rx="1.7" ry="0.7" fill="#2c1878" opacity="0.8" transform="rotate(85 70.4 74.3)"/>
<ellipse cx="12.0" cy="22.3" rx="1.8" ry="0.8" fill="#2c1878" opacity="0.8" transform="rotate(73 12.0 22.3)"/>
<ellipse cx="42.0" cy="30.6" rx="1.3" ry="0.9" fill="#3a2088" opacity="0.8" transform="rotate(55 42.0 30.6)"/>
<ellipse cx="60.6" cy="45.1" rx="1.3" ry="0.7" fill="#40248c" opacity="0.8" transform="rotate(52 60.6 45.1)"/>
<ellipse cx="47.4" cy="58.4" rx="1.3" ry="1.1" fill="#2c1878" opacity="0.8" transform="rotate(61 47.4 58.4)"/>
<ellipse cx="35.0" cy="52.8" rx="1.2" ry="1.0" fill="#3a2088" opacity="0.8" transform="rotate(77 35.0 52.8)"/>
<ellipse cx="18.8" cy="50.3" rx="2.1" ry="1.1" fill="#6a40c0" opacity="0.8" transform="rotate(60 18.8 50.3)"/>
<ellipse cx="27.6" cy="7.5" rx="1.3" ry="1.1" fill="#2c1878" opacity="0.8" transform="rotate(62 27.6 7.5)"/>
<ellipse cx="67.7" cy="38.8" rx="2.3" ry="0.6" fill="#5a34b0" opacity="0.8" transform="rotate(74 67.7 38.8)"/>
<ellipse cx="1.7" cy="67.0" rx="1.2" ry="1.0" fill="#3a2088" opacity="0.8" transform="rotate(82 1.7 67.0)"/>
<ellipse cx="16.3" cy="78.7" rx="2.0" ry="1.1" fill="#5a34b0" opacity="0.8" transform="rotate(50 16.3 78.7)"/>
<ellipse cx="2.2" cy="44.3" rx="1.5" ry="0.6" fill="#40248c" opacity="0.8" transform="rotate(11 2.2 44.3)"/>
<ellipse cx="3.3" cy="30.5" rx="1.6" ry="1.1" fill="#5a34b0" opacity="0.8" transform="rotate(105 3.3 30.5)"/>
<ellipse cx="56.0" cy="63.3" rx="1.2" ry="1.2" fill="#40248c" opacity="0.8" transform="rotate(163 56.0 63.3)"/>
<ellipse cx="38.5" cy="67.0" rx="2.0" ry="0.7" fill="#6a40c0" opacity="0.8" transform="rotate(76 38.5 67.0)"/>
<ellipse cx="24.4" cy="81.8" rx="1.7" ry="1.3" fill="#4a2a9c" opacity="0.8" transform="rotate(89 24.4 81.8)"/>
<ellipse cx="62.7" cy="72.1" rx="1.3" ry="1.0" fill="#6a40c0" opacity="0.8" transform="rotate(158 62.7 72.1)"/>
<ellipse cx="76.0" cy="58.1" rx="2.0" ry="0.9" fill="#40248c" opacity="0.8" transform="rotate(143 76.0 58.1)"/>
<ellipse cx="64.6" cy="28.5" rx="1.5" ry="1.3" fill="#4a2a9c" opacity="0.8" transform="rotate(77 64.6 28.5)"/>
<ellipse cx="55.2" cy="76.9" rx="1.6" ry="0.8" fill="#2c1878" opacity="0.8" transform="rotate(74 55.2 76.9)"/>
<ellipse cx="73.5" cy="40.0" rx="1.6" ry="0.8" fill="#2c1878" opacity="0.8" transform="rotate(72 73.5 40.0)"/>
<ellipse cx="29.0" cy="71.8" rx="1.9" ry="0.8" fill="#40248c" opacity="0.8" transform="rotate(61 29.0 71.8)"/>
<ellipse cx="74.4" cy="34.1" rx="1.8" ry="0.8" fill="#5a34b0" opacity="0.8" transform="rotate(75 74.4 34.1)"/>
<ellipse cx="68.8" cy="14.9" rx="1.4" ry="1.3" fill="#6a40c0" opacity="0.8" transform="rotate(59 68.8 14.9)"/>
<ellipse cx="73.8" cy="81.8" rx="1.4" ry="0.8" fill="#6a40c0" opacity="0.8" transform="rotate(142 73.8 81.8)"/>
<ellipse cx="15.1" cy="70.6" rx="1.2" ry="1.0" fill="#3a2088" opacity="0.8" transform="rotate(57 15.1 70.6)"/>
<ellipse cx="37.5" cy="68.8" rx="1.4" ry="0.8" fill="#6a40c0" opacity="0.8" transform="rotate(72 37.5 68.8)"/>
<ellipse cx="55.5" cy="10.6" rx="2.1" ry="0.8" fill="#4a2a9c" opacity="0.8" transform="rotate(71 55.5 10.6)"/>
<ellipse cx="36.7" cy="81.6" rx="1.5" ry="1.1" fill="#6a40c0" opacity="0.8" transform="rotate(68 36.7 81.6)"/>
<ellipse cx="67.6" cy="4.1" rx="1.9" ry="0.9" fill="#40248c" opacity="0.8" transform="rotate(3 67.6 4.1)"/>
<ellipse cx="9.1" cy="31.5" rx="1.4" ry="1.0" fill="#5a34b0" opacity="0.8" transform="rotate(74 9.1 31.5)"/>
<ellipse cx="2.0" cy="27.0" rx="1.2" ry="1.3" fill="#6a40c0" opacity="0.8" transform="rotate(26 2.0 27.0)"/>
<ellipse cx="76.8" cy="42.8" rx="2.4" ry="0.7" fill="#40248c" opacity="0.8" transform="rotate(177 76.8 42.8)"/>
<ellipse cx="63.7" cy="24.1" rx="1.8" ry="0.9" fill="#40248c" opacity="0.8" transform="rotate(117 63.7 24.1)"/>
<ellipse cx="53.2" cy="41.5" rx="2.4" ry="0.9" fill="#6a40c0" opacity="0.8" transform="rotate(58 53.2 41.5)"/>
<ellipse cx="41.0" cy="3.2" rx="1.7" ry="1.2" fill="#2c1878" opacity="0.8" transform="rotate(82 41.0 3.2)"/>
<ellipse cx="12.8" cy="62.6" rx="1.2" ry="0.8" fill="#5a34b0" opacity="0.8" transform="rotate(62 12.8 62.6)"/>
<ellipse cx="64.9" cy="30.0" rx="2.0" ry="0.8" fill="#6a40c0" opacity="0.8" transform="rotate(85 64.9 30.0)"/>
<ellipse cx="26.2" cy="36.8" rx="1.2" ry="0.8" fill="#5a34b0" opacity="0.8" transform="rotate(65 26.2 36.8)"/>
<ellipse cx="21.6" cy="16.6" rx="2.3" ry="0.9" fill="#4a2a9c" opacity="0.8" transform="rotate(115 21.6 16.6)"/>
<ellipse cx="2.7" cy="23.0" rx="1.7" ry="1.1" fill="#2c1878" opacity="0.8" transform="rotate(74 2.7 23.0)"/>
<ellipse cx="22.4" cy="30.3" rx="2.3" ry="1.0" fill="#4a2a9c" opacity="0.8" transform="rotate(75 22.4 30.3)"/>
<ellipse cx="37.1" cy="0.0" rx="1.7" ry="1.1" fill="#4a2a9c" opacity="0.8" transform="rotate(74 37.1 0.0)"/>
<ellipse cx="21.5" cy="20.0" rx="1.1" ry="1.0" fill="#5a34b0" opacity="0.8" transform="rotate(122 21.5 20.0)"/>
<ellipse cx="69.8" cy="60.4" rx="2.3" ry="0.7" fill="#40248c" opacity="0.8" transform="rotate(79 69.8 60.4)"/>
<ellipse cx="57.7" cy="65.8" rx="1.6" ry="1.3" fill="#5a34b0" opacity="0.8" transform="rotate(62 57.7 65.8)"/>
<ellipse cx="41.4" cy="28.0" rx="2.2" ry="1.1" fill="#5a34b0" opacity="0.8" transform="rotate(79 41.4 28.0)"/>
<ellipse cx="55.8" cy="76.7" rx="1.2" ry="0.8" fill="#6a40c0" opacity="0.8" transform="rotate(67 55.8 76.7)"/>
<ellipse cx="-0.7" cy="48.5" rx="1.3" ry="0.9" fill="#40248c" opacity="0.8" transform="rotate(79 -0.7 48.5)"/>
<ellipse cx="65.9" cy="71.3" rx="1.2" ry="1.1" fill="#4a2a9c" opacity="0.8" transform="rotate(90 65.9 71.3)"/>
<ellipse cx="75.2" cy="63.0" rx="2.1" ry="1.1" fill="#40248c" opacity="0.8" transform="rotate(24 75.2 63.0)"/>
<ellipse cx="73.2" cy="32.1" rx="2.3" ry="1.1" fill="#6a40c0" opacity="0.8" transform="rotate(109 73.2 32.1)"/>
<ellipse cx="22.2" cy="17.4" rx="1.3" ry="0.7" fill="#2c1878" opacity="0.8" transform="rotate(175 22.2 17.4)"/>
<ellipse cx="29.5" cy="59.3" rx="1.1" ry="1.2" fill="#40248c" opacity="0.8" transform="rotate(50 29.5 59.3)"/>
<ellipse cx="63.8" cy="37.5" rx="1.7" ry="1.3" fill="#2c1878" opacity="0.8" transform="rotate(107 63.8 37.5)"/>
<ellipse cx="2.4" cy="70.3" rx="1.2" ry="0.8" fill="#4a2a9c" opacity="0.8" transform="rotate(61 2.4 70.3)"/>
<ellipse cx="44.0" cy="18.9" rx="1.8" ry="1.2" fill="#6a40c0" opacity="0.8" transform="rotate(89 44.0 18.9)"/>
<ellipse cx="44.5" cy="1.6" rx="2.1" ry="0.6" fill="#2c1878" opacity="0.8" transform="rotate(67 44.5 1.6)"/>
<ellipse cx="79.9" cy="22.6" rx="1.1" ry="0.7" fill="#5a34b0" opacity="0.8" transform="rotate(88 79.9 22.6)"/>
<ellipse cx="18.2" cy="73.8" rx="2.4" ry="1.2" fill="#4a2a9c" opacity="0.8" transform="rotate(59 18.2 73.8)"/>
<ellipse cx="5.1" cy="40.2" rx="1.2" ry="0.9" fill="#5a34b0" opacity="0.8" transform="rotate(128 5.1 40.2)"/>
<ellipse cx="15.2" cy="52.1" rx="1.2" ry="0.7" fill="#6a40c0" opacity="0.8" transform="rotate(14 15.2 52.1)"/>
<ellipse cx="0.4" cy="66.0" rx="2.1" ry="1.1" fill="#40248c" opacity="0.8" transform="rotate(36 0.4 66.0)"/>
<ellipse cx="70.1" cy="24.5" rx="2.1" ry="0.6" fill="#2c1878" opacity="0.8" transform="rotate(110 70.1 24.5)"/>
<ellipse cx="4.3" cy="16.7" rx="1.0" ry="1.2" fill="#4a2a9c" opacity="0.8" transform="rotate(113 4.3 16.7)"/>
<ellipse cx="46.3" cy="53.1" rx="1.8" ry="0.8" fill="#40248c" opacity="0.8" transform="rotate(54 46.3 53.1)"/>
<ellipse cx="13.9" cy="29.6" rx="2.3" ry="1.2" fill="#2c1878" opacity="0.8" transform="rotate(54 13.9 29.6)"/>
<ellipse cx="71.8" cy="30.4" rx="2.2" ry="0.9" fill="#4a2a9c" opacity="0.8" transform="rotate(64 71.8 30.4)"/>
<ellipse cx="39.4" cy="69.8" rx="1.2" ry="0.7" fill="#3a2088" opacity="0.8" transform="rotate(91 39.4 69.8)"/>
<ellipse cx="29.0" cy="55.6" rx="2.3" ry="0.7" fill="#6a40c0" opacity="0.8" transform="rotate(83 29.0 55.6)"/>
<ellipse cx="36.0" cy="62.1" rx="1.5" ry="1.2" fill="#2c1878" opacity="0.8" transform="rotate(24 36.0 62.1)"/>
<ellipse cx="8.4" cy="61.7" rx="1.7" ry="0.6" fill="#2c1878" opacity="0.8" transform="rotate(175 8.4 61.7)"/>
<ellipse cx="38.3" cy="2.7" rx="2.2" ry="1.0" fill="#6a40c0" opacity="0.8" transform="rotate(63 38.3 2.7)"/>
<ellipse cx="46.5" cy="38.8" rx="2.1" ry="1.2" fill="#4a2a9c" opacity="0.8" transform="rotate(58 46.5 38.8)"/>
<ellipse cx="31.4" cy="8.0" rx="1.8" ry="0.7" fill="#6a40c0" opacity="0.8" transform="rotate(68 31.4 8.0)"/>
<ellipse cx="77.1" cy="58.1" rx="2.3" ry="1.1" fill="#5a34b0" opacity="0.8" transform="rotate(129 77.1 58.1)"/>
<ellipse cx="13.3" cy="55.2" rx="2.2" ry="1.3" fill="#5a34b0" opacity="0.8" transform="rotate(85 13.3 55.2)"/>
<ellipse cx="50.4" cy="9.2" rx="1.7" ry="0.9" fill="#3a2088" opacity="0.8" transform="rotate(144 50.4 9.2)"/>
<ellipse cx="-0.6" cy="47.8" rx="2.0" ry="0.8" fill="#3a2088" opacity="0.8" transform="rotate(117 -0.6 47.8)"/>
<ellipse cx="7.0" cy="83.1" rx="2.1" ry="0.6" fill="#3a2088" opacity="0.8" transform="rotate(60 7.0 83.1)"/>
<ellipse cx="64.7" cy="2.8" rx="1.8" ry="1.0" fill="#5a34b0" opacity="0.8" transform="rotate(52 64.7 2.8)"/>
<ellipse cx="0.5" cy="64.3" rx="1.1" ry="1.3" fill="#6a40c0" opacity="0.8" transform="rotate(34 0.5 64.3)"/>
<ellipse cx="12.8" cy="43.1" rx="1.1" ry="1.2" fill="#2c1878" opacity="0.8" transform="rotate(165 12.8 43.1)"/>
<ellipse cx="5.1" cy="1.6" rx="1.9" ry="0.7" fill="#6a40c0" opacity="0.8" transform="rotate(110 5.1 1.6)"/>
<ellipse cx="5.6" cy="3.7" rx="1.8" ry="0.8" fill="#40248c" opacity="0.8" transform="rotate(50 5.6 3.7)"/>
<ellipse cx="16.7" cy="15.2" rx="1.7" ry="1.2" fill="#40248c" opacity="0.8" transform="rotate(78 16.7 15.2)"/>
<ellipse cx="16.6" cy="36.0" rx="1.2" ry="1.3" fill="#2c1878" opacity="0.8" transform="rotate(64 16.6 36.0)"/>
<ellipse cx="6.4" cy="19.6" rx="2.2" ry="1.3" fill="#4a2a9c" opacity="0.8" transform="rotate(61 6.4 19.6)"/>
<ellipse cx="63.7" cy="11.7" rx="1.8" ry="1.3" fill="#2c1878" opacity="0.8" transform="rotate(1 63.7 11.7)"/>
<ellipse cx="2.7" cy="57.9" rx="2.1" ry="0.7" fill="#6a40c0" opacity="0.8" transform="rotate(89 2.7 57.9)"/>
<ellipse cx="47.7" cy="17.2" rx="2.1" ry="1.1" fill="#2c1878" opacity="0.8" transform="rotate(51 47.7 17.2)"/>
<ellipse cx="59.8" cy="1.6" rx="2.0" ry="1.2" fill="#3a2088" opacity="0.8" transform="rotate(85 59.8 1.6)"/>
<ellipse cx="51.5" cy="24.3" rx="1.4" ry="0.7" fill="#2c1878" opacity="0.8" transform="rotate(152 51.5 24.3)"/>
<ellipse cx="26.5" cy="7.2" rx="1.6" ry="1.3" fill="#6a40c0" opacity="0.8" transform="rotate(168 26.5 7.2)"/>
<ellipse cx="70.0" cy="84.7" rx="2.1" ry="0.8" fill="#2c1878" opacity="0.8" transform="rotate(66 70.0 84.7)"/>
<ellipse cx="27.9" cy="45.9" rx="1.5" ry="1.2" fill="#3a2088" opacity="0.8" transform="rotate(81 27.9 45.9)"/>
<ellipse cx="74.5" cy="67.5" rx="1.7" ry="0.7" fill="#40248c" opacity="0.8" transform="rotate(56 74.5 67.5)"/>
<ellipse cx="27.6" cy="4.5" rx="1.2" ry="0.9" fill="#40248c" opacity="0.8" transform="rotate(52 27.6 4.5)"/>
<ellipse cx="44.7" cy="79.9" rx="1.6" ry="1.2" fill="#2c1878" opacity="0.8" transform="rotate(174 44.7 79.9)"/>
<ellipse cx="53.9" cy="17.8" rx="2.1" ry="1.2" fill="#2c1878" opacity="0.8" transform="rotate(78 53.9 17.8)"/>
<ellipse cx="82.9" cy="14.2" rx="1.6" ry="1.1" fill="#5a34b0" opacity="0.8" transform="rotate(134 82.9 14.2)"/>
<ellipse cx="20.1" cy="21.2" rx="1.0" ry="1.1" fill="#40248c" opacity="0.8" transform="rotate(60 20.1 21.2)"/>
<ellipse cx="53.6" cy="50.0" rx="1.9" ry="1.0" fill="#2c1878" opacity="0.8" transform="rotate(55 53.6 50.0)"/>
<ellipse cx="60.9" cy="45.2" rx="1.1" ry="0.7" fill="#40248c" opacity="0.8" transform="rotate(130 60.9 45.2)"/>
<ellipse cx="81.2" cy="58.3" rx="1.4" ry="1.1" fill="#4a2a9c" opacity="0.8" transform="rotate(54 81.2 58.3)"/>
<ellipse cx="32.5" cy="59.1" rx="1.2" ry="1.3" fill="#5a34b0" opacity="0.8" transform="rotate(155 32.5 59.1)"/>
<ellipse cx="28.0" cy="70.7" rx="1.0" ry="1.2" fill="#4a2a9c" opacity="0.8" transform="rotate(84 28.0 70.7)"/>
<ellipse cx="55.9" cy="22.9" rx="1.0" ry="0.7" fill="#40248c" opacity="0.8" transform="rotate(28 55.9 22.9)"/>
<ellipse cx="55.1" cy="25.9" rx="1.4" ry="0.6" fill="#2c1878" opacity="0.8" transform="rotate(83 55.1 25.9)"/>
<ellipse cx="31.5" cy="55.2" rx="1.8" ry="0.8" fill="#3a2088" opacity="0.8" transform="rotate(51 31.5 55.2)"/>
<ellipse cx="78.4" cy="29.6" rx="1.8" ry="0.7" fill="#4a2a9c" opacity="0.8" transform="rotate(79 78.4 29.6)"/>
<ellipse cx="30.1" cy="44.1" rx="1.2" ry="0.8" fill="#5a34b0" opacity="0.8" transform="rotate(51 30.1 44.1)"/>
<ellipse cx="78.1" cy="1.6" rx="1.9" ry="1.2" fill="#3a2088" opacity="0.8" transform="rotate(154 78.1 1.6)"/>
<ellipse cx="53.4" cy="39.7" rx="2.2" ry="0.6" fill="#3a2088" opacity="0.8" transform="rotate(151 53.4 39.7)"/>
<ellipse cx="22.9" cy="39.7" rx="1.7" ry="0.7" fill="#5a34b0" opacity="0.8" transform="rotate(89 22.9 39.7)"/>
<ellipse cx="9.0" cy="40.3" rx="1.2" ry="0.8" fill="#2c1878" opacity="0.8" transform="rotate(55 9.0 40.3)"/>
<ellipse cx="21.6" cy="37.3" rx="1.3" ry="0.8" fill="#5a34b0" opacity="0.8" transform="rotate(70 21.6 37.3)"/>
<ellipse cx="62.1" cy="47.5" rx="2.2" ry="1.3" fill="#5a34b0" opacity="0.8" transform="rotate(20 62.1 47.5)"/>
<ellipse cx="43.5" cy="19.7" rx="1.2" ry="1.2" fill="#4a2a9c" opacity="0.8" transform="rotate(53 43.5 19.7)"/>
<ellipse cx="38.7" cy="80.6" rx="2.1" ry="0.7" fill="#2c1878" opacity="0.8" transform="rotate(114 38.7 80.6)"/>
<ellipse cx="16.4" cy="56.1" rx="1.5" ry="0.7" fill="#3a2088" opacity="0.8" transform="rotate(87 16.4 56.1)"/>
<ellipse cx="42.2" cy="53.1" rx="2.1" ry="1.2" fill="#2c1878" opacity="0.8" transform="rotate(124 42.2 53.1)"/>
<ellipse cx="44.5" cy="19.2" rx="1.7" ry="1.0" fill="#4a2a9c" opacity="0.8" transform="rotate(26 44.5 19.2)"/>
<ellipse cx="61.8" cy="72.9" rx="1.5" ry="1.2" fill="#6a40c0" opacity="0.8" transform="rotate(59 61.8 72.9)"/>
<ellipse cx="37.9" cy="61.4" rx="1.6" ry="1.2" fill="#3a2088" opacity="0.8" transform="rotate(89 37.9 61.4)"/>
<ellipse cx="24.8" cy="26.1" rx="1.3" ry="0.6" fill="#4a2a9c" opacity="0.8" transform="rotate(57 24.8 26.1)"/>
<ellipse cx="79.4" cy="19.1" rx="1.7" ry="1.0" fill="#3a2088" opacity="0.8" transform="rotate(89 79.4 19.1)"/>
<ellipse cx="51.7" cy="17.7" rx="2.2" ry="0.7" fill="#3a2088" opacity="0.8" transform="rotate(82 51.7 17.7)"/>
<ellipse cx="81.7" cy="64.1" rx="1.0" ry="0.7" fill="#6a40c0" opacity="0.8" transform="rotate(78 81.7 64.1)"/>
<ellipse cx="30.7" cy="13.0" rx="2.2" ry="0.6" fill="#5a34b0" opacity="0.8" transform="rotate(46 30.7 13.0)"/>
<ellipse cx="39.3" cy="46.2" rx="1.5" ry="0.8" fill="#5a34b0" opacity="0.8" transform="rotate(49 39.3 46.2)"/>
<ellipse cx="11.6" cy="10.8" rx="1.7" ry="1.0" fill="#3a2088" opacity="0.8" transform="rotate(10 11.6 10.8)"/>
<ellipse cx="34.9" cy="5.9" rx="2.1" ry="1.2" fill="#3a2088" opacity="0.8" transform="rotate(73 34.9 5.9)"/>
<ellipse cx="71.9" cy="81.5" rx="1.4" ry="1.3" fill="#2c1878" opacity="0.8" transform="rotate(52 71.9 81.5)"/>
<ellipse cx="81.0" cy="76.9" rx="1.1" ry="1.1" fill="#2c1878" opacity="0.8" transform="rotate(56 81.0 76.9)"/>
<ellipse cx="43.9" cy="72.2" rx="2.1" ry="1.1" fill="#3a2088" opacity="0.8" transform="rotate(55 43.9 72.2)"/>
<ellipse cx="41.4" cy="44.7" rx="2.0" ry="0.9" fill="#5a34b0" opacity="0.8" transform="rotate(72 41.4 44.7)"/>
<ellipse cx="5.4" cy="76.4" rx="1.8" ry="0.7" fill="#3a2088" opacity="0.8" transform="rotate(46 5.4 76.4)"/>
<ellipse cx="33.9" cy="81.4" rx="1.4" ry="1.2" fill="#40248c" opacity="0.8" transform="rotate(10 33.9 81.4)"/>
<ellipse cx="39.0" cy="56.9" rx="2.1" ry="0.6" fill="#40248c" opacity="0.8" transform="rotate(77 39.0 56.9)"/>
<ellipse cx="80.1" cy="75.7" rx="1.7" ry="0.8" fill="#2c1878" opacity="0.8" transform="rotate(176 80.1 75.7)"/>
<ellipse cx="80.2" cy="16.9" rx="1.6" ry="1.3" fill="#40248c" opacity="0.8" transform="rotate(42 80.2 16.9)"/>
<ellipse cx="59.1" cy="31.8" rx="1.7" ry="0.9" fill="#4a2a9c" opacity="0.8" transform="rotate(115 59.1 31.8)"/>
<ellipse cx="8.6" cy="43.0" rx="2.2" ry="1.0" fill="#5a34b0" opacity="0.8" transform="rotate(85 8.6 43.0)"/>
<ellipse cx="78.9" cy="48.7" rx="1.5" ry="1.1" fill="#5a34b0" opacity="0.8" transform="rotate(57 78.9 48.7)"/>
<ellipse cx="57.8" cy="57.3" rx="2.1" ry="0.9" fill="#4a2a9c" opacity="0.8" transform="rotate(75 57.8 57.3)"/>
<ellipse cx="69.9" cy="54.3" rx="1.9" ry="1.1" fill="#4a2a9c" opacity="0.8" transform="rotate(35 69.9 54.3)"/>
<ellipse cx="54.0" cy="13.1" rx="1.1" ry="0.9" fill="#2c1878" opacity="0.8" transform="rotate(138 54.0 13.1)"/>
<ellipse cx="15.8" cy="0.3" rx="1.7" ry="1.1" fill="#2c1878" opacity="0.8" transform="rotate(53 15.8 0.3)"/>
<ellipse cx="70.0" cy="6.4" rx="1.3" ry="0.7" fill="#3a2088" opacity="0.8" transform="rotate(86 70.0 6.4)"/>
<ellipse cx="0.6" cy="8.8" rx="2.3" ry="1.3" fill="#6a40c0" opacity="0.8" transform="rotate(63 0.6 8.8)"/>
<ellipse cx="28.6" cy="24.2" rx="2.0" ry="1.2" fill="#4a2a9c" opacity="0.8" transform="rotate(87 28.6 24.2)"/>
<ellipse cx="12.8" cy="6.9" rx="1.9" ry="1.1" fill="#40248c" opacity="0.8" transform="rotate(82 12.8 6.9)"/>
<ellipse cx="26.9" cy="42.3" rx="1.2" ry="1.0" fill="#3a2088" opacity="0.8" transform="rotate(145 26.9 42.3)"/>
<ellipse cx="70.1" cy="35.4" rx="1.4" ry="0.6" fill="#5a34b0" opacity="0.8" transform="rotate(53 70.1 35.4)"/>
<ellipse cx="7.0" cy="49.5" rx="1.3" ry="1.1" fill="#3a2088" opacity="0.8" transform="rotate(142 7.0 49.5)"/>
<ellipse cx="51.8" cy="70.1" rx="1.7" ry="0.9" fill="#3a2088" opacity="0.8" transform="rotate(87 51.8 70.1)"/>
<ellipse cx="8.1" cy="53.6" rx="1.3" ry="0.8" fill="#40248c" opacity="0.8" transform="rotate(71 8.1 53.6)"/>
<ellipse cx="3.8" cy="18.7" rx="1.0" ry="1.0" fill="#5a34b0" opacity="0.8" transform="rotate(79 3.8 18.7)"/>
<ellipse cx="51.1" cy="76.7" rx="1.3" ry="0.8" fill="#3a2088" opacity="0.8" transform="rotate(47 51.1 76.7)"/>
<ellipse cx="4.3" cy="38.9" rx="1.5" ry="1.1" fill="#4a2a9c" opacity="0.8" transform="rotate(126 4.3 38.9)"/>
<ellipse cx="32.6" cy="44.1" rx="1.4" ry="1.1" fill="#4a2a9c" opacity="0.8" transform="rotate(62 32.6 44.1)"/>
<ellipse cx="42.6" cy="12.0" rx="2.3" ry="1.2" fill="#2c1878" opacity="0.8" transform="rotate(58 42.6 12.0)"/>
<ellipse cx="65.6" cy="60.9" rx="2.2" ry="1.1" fill="#2c1878" opacity="0.8" transform="rotate(62 65.6 60.9)"/>
<ellipse cx="8.0" cy="5.0" rx="1.5" ry="0.9" fill="#3a2088" opacity="0.8" transform="rotate(77 8.0 5.0)"/>
<ellipse cx="37.1" cy="72.5" rx="2.3" ry="0.9" fill="#40248c" opacity="0.8" transform="rotate(96 37.1 72.5)"/>
<ellipse cx="78.2" cy="52.3" rx="1.1" ry="0.9" fill="#2c1878" opacity="0.8" transform="rotate(50 78.2 52.3)"/>
<ellipse cx="71.8" cy="80.3" rx="1.8" ry="0.6" fill="#40248c" opacity="0.8" transform="rotate(6 71.8 80.3)"/>
<ellipse cx="4.8" cy="63.7" rx="2.1" ry="0.9" fill="#2c1878" opacity="0.8" transform="rotate(66 4.8 63.7)"/>
<ellipse cx="59.7" cy="62.4" rx="1.0" ry="1.2" fill="#40248c" opacity="0.8" transform="rotate(95 59.7 62.4)"/>
<ellipse cx="5.0" cy="13.1" rx="1.7" ry="1.2" fill="#5a34b0" opacity="0.8" transform="rotate(57 5.0 13.1)"/>
<ellipse cx="59.0" cy="30.2" rx="2.2" ry="0.9" fill="#40248c" opacity="0.8" transform="rotate(17 59.0 30.2)"/>
<ellipse cx="78.7" cy="61.1" rx="1.5" ry="0.8" fill="#5a34b0" opacity="0.8" transform="rotate(82 78.7 61.1)"/>
<ellipse cx="32.3" cy="16.4" rx="2.1" ry="1.1" fill="#6a40c0" opacity="0.8" transform="rotate(88 32.3 16.4)"/>
<ellipse cx="27.7" cy="20.4" rx="1.4" ry="0.9" fill="#6a40c0" opacity="0.8" transform="rotate(27 27.7 20.4)"/>
<ellipse cx="26.2" cy="13.9" rx="2.0" ry="0.8" fill="#2c1878" opacity="0.8" transform="rotate(67 26.2 13.9)"/>
<ellipse cx="72.2" cy="48.6" rx="1.0" ry="1.1" fill="#4a2a9c" opacity="0.8" transform="rotate(162 72.2 48.6)"/>
<ellipse cx="18.3" cy="26.4" rx="2.2" ry="1.3" fill="#5a34b0" opacity="0.8" transform="rotate(75 18.3 26.4)"/>
<ellipse cx="31.1" cy="8.5" rx="1.3" ry="1.2" fill="#6a40c0" opacity="0.8" transform="rotate(75 31.1 8.5)"/>
<ellipse cx="63.1" cy="20.1" rx="2.3" ry="1.2" fill="#3a2088" opacity="0.8" transform="rotate(131 63.1 20.1)"/>
<ellipse cx="67.9" cy="20.8" rx="1.9" ry="0.9" fill="#6a40c0" opacity="0.8" transform="rotate(24 67.9 20.8)"/>
<ellipse cx="59.5" cy="56.8" rx="1.1" ry="1.2" fill="#3a2088" opacity="0.8" transform="rotate(63 59.5 56.8)"/>
<ellipse cx="71.7" cy="81.3" rx="2.2" ry="1.0" fill="#6a40c0" opacity="0.8" transform="rotate(143 71.7 81.3)"/>
<ellipse cx="82.0" cy="80.6" rx="1.7" ry="0.9" fill="#40248c" opacity="0.8" transform="rotate(151 82.0 80.6)"/>
<ellipse cx="27.9" cy="20.5" rx="1.1" ry="0.8" fill="#3a2088" opacity="0.8" transform="rotate(82 27.9 20.5)"/>
<ellipse cx="30.4" cy="52.0" rx="1.7" ry="0.6" fill="#4a2a9c" opacity="0.8" transform="rotate(115 30.4 52.0)"/>
<ellipse cx="67.0" cy="81.2" rx="1.4" ry="1.0" fill="#4a2a9c" opacity="0.8" transform="rotate(85 67.0 81.2)"/>
<ellipse cx="61.2" cy="25.9" rx="2.2" ry="1.0" fill="#6a40c0" opacity="0.8" transform="rotate(73 61.2 25.9)"/>
<ellipse cx="4.8" cy="37.5" rx="1.0" ry="1.3" fill="#6a40c0" opacity="0.8" transform="rotate(58 4.8 37.5)"/>
<ellipse cx="29.8" cy="81.6" rx="2.0" ry="0.7" fill="#6a40c0" opacity="0.8" transform="rotate(6 29.8 81.6)"/>
<ellipse cx="47.3" cy="1.0" rx="1.2" ry="1.3" fill="#6a40c0" opacity="0.8" transform="rotate(62 47.3 1.0)"/>
<ellipse cx="65.9" cy="29.7" rx="1.3" ry="1.1" fill="#40248c" opacity="0.8" transform="rotate(39 65.9 29.7)"/>
<ellipse cx="35.8" cy="31.8" rx="2.0" ry="1.3" fill="#4a2a9c" opacity="0.8" transform="rotate(62 35.8 31.8)"/>
<ellipse cx="42.7" cy="82.8" rx="1.7" ry="1.1" fill="#6a40c0" opacity="0.8" transform="rotate(85 42.7 82.8)"/>
<ellipse cx="80.1" cy="85.2" rx="1.8" ry="1.2" fill="#6a40c0" opacity="0.8" transform="rotate(86 80.1 85.2)"/>
<ellipse cx="73.5" cy="8.7" rx="1.8" ry="0.6" fill="#6a40c0" opacity="0.8" transform="rotate(70 73.5 8.7)"/>
<ellipse cx="71.2" cy="60.6" rx="2.0" ry="0.8" fill="#3a2088" opacity="0.8" transform="rotate(56 71.2 60.6)"/>
<ellipse cx="11.2" cy="53.4" rx="2.1" ry="0.9" fill="#4a2a9c" opacity="0.8" transform="rotate(47 11.2 53.4)"/>
<ellipse cx="18.8" cy="17.7" rx="1.9" ry="0.6" fill="#40248c" opacity="0.8" transform="rotate(144 18.8 17.7)"/>
<ellipse cx="13.0" cy="66.5" rx="1.8" ry="0.8" fill="#3a2088" opacity="0.8" transform="rotate(42 13.0 66.5)"/>
<ellipse cx="75.7" cy="16.4" rx="1.8" ry="1.1" fill="#40248c" opacity="0.8" transform="rotate(128 75.7 16.4)"/>
<ellipse cx="17.3" cy="71.1" rx="1.6" ry="1.0" fill="#2c1878" opacity="0.8" transform="rotate(50 17.3 71.1)"/>
<ellipse cx="72.7" cy="76.4" rx="1.8" ry="0.9" fill="#3a2088" opacity="0.8" transform="rotate(57 72.7 76.4)"/>
<ellipse cx="83.6" cy="28.0" rx="2.1" ry="0.8" fill="#5a34b0" opacity="0.8" transform="rotate(56 83.6 28.0)"/>
<ellipse cx="29.2" cy="36.6" rx="1.4" ry="1.0" fill="#6a40c0" opacity="0.8" transform="rotate(56 29.2 36.6)"/>
<ellipse cx="25.8" cy="42.5" rx="1.3" ry="0.9" fill="#5a34b0" opacity="0.8" transform="rotate(89 25.8 42.5)"/>
<ellipse cx="39.1" cy="22.9" rx="1.7" ry="0.9" fill="#3a2088" opacity="0.8" transform="rotate(70 39.1 22.9)"/>
<ellipse cx="5.2" cy="59.5" rx="2.4" ry="0.9" fill="#4a2a9c" opacity="0.8" transform="rotate(67 5.2 59.5)"/>
<ellipse cx="58.8" cy="71.4" rx="1.9" ry="0.9" fill="#2c1878" opacity="0.8" transform="rotate(99 58.8 71.4)"/>
<ellipse cx="71.0" cy="61.8" rx="1.5" ry="1.0" fill="#5a34b0" opacity="0.8" transform="rotate(72 71.0 61.8)"/>
<ellipse cx="51.6" cy="12.5" rx="1.9" ry="1.1" fill="#40248c" opacity="0.8" transform="rotate(77 51.6 12.5)"/>
<ellipse cx="30.0" cy="72.4" rx="2.1" ry="1.0" fill="#3a2088" opacity="0.8" transform="rotate(61 30.0 72.4)"/>
<ellipse cx="45.6" cy="33.7" rx="1.3" ry="0.7" fill="#2c1878" opacity="0.8" transform="rotate(144 45.6 33.7)"/>
<ellipse cx="51.3" cy="68.5" rx="1.6" ry="0.8" fill="#6a40c0" opacity="0.8" transform="rotate(51 51.3 68.5)"/>
<ellipse cx="44.1" cy="79.1" rx="1.9" ry="0.9" fill="#6a40c0" opacity="0.8" transform="rotate(65 44.1 79.1)"/>
<ellipse cx="46.9" cy="72.9" rx="1.0" ry="1.2" fill="#40248c" opacity="0.8" transform="rotate(82 46.9 72.9)"/>
<ellipse cx="44.7" cy="22.8" rx="1.5" ry="1.2" fill="#2c1878" opacity="0.8" transform="rotate(78 44.7 22.8)"/>
<ellipse cx="5.4" cy="17.1" rx="2.0" ry="0.7" fill="#5a34b0" opacity="0.8" transform="rotate(59 5.4 17.1)"/>
<ellipse cx="21.4" cy="62.2" rx="2.0" ry="1.2" fill="#2c1878" opacity="0.8" transform="rotate(99 21.4 62.2)"/>
<ellipse cx="64.5" cy="11.8" rx="2.2" ry="0.6" fill="#5a34b0" opacity="0.8" transform="rotate(79 64.5 11.8)"/>
<ellipse cx="6.9" cy="74.2" rx="2.1" ry="1.0" fill="#2c1878" opacity="0.8" transform="rotate(7 6.9 74.2)"/>
<ellipse cx="12.6" cy="2.4" rx="1.5" ry="1.1" fill="#2c1878" opacity="0.8" transform="rotate(69 12.6 2.4)"/>
<ellipse cx="14.3" cy="51.5" rx="1.9" ry="1.3" fill="#5a34b0" opacity="0.8" transform="rotate(89 14.3 51.5)"/>
<ellipse cx="26.6" cy="34.3" rx="1.6" ry="0.9" fill="#3a2088" opacity="0.8" transform="rotate(77 26.6 34.3)"/>
<ellipse cx="13.0" cy="76.0" rx="2.1" ry="1.0" fill="#6a40c0" opacity="0.8" transform="rotate(80 13.0 76.0)"/>
<ellipse cx="56.7" cy="1.9" rx="1.6" ry="1.2" fill="#2c1878" opacity="0.8" transform="rotate(81 56.7 1.9)"/>
<ellipse cx="50.0" cy="28.0" rx="1.6" ry="1.3" fill="#6a40c0" opacity="0.8" transform="rotate(165 50.0 28.0)"/>
<ellipse cx="42.8" cy="41.8" rx="2.0" ry="0.7" fill="#40248c" opacity="0.8" transform="rotate(90 42.8 41.8)"/>
<ellipse cx="42.7" cy="-0.5" rx="2.1" ry="0.9" fill="#40248c" opacity="0.8" transform="rotate(103 42.7 -0.5)"/>
<ellipse cx="55.2" cy="27.8" rx="1.7" ry="1.0" fill="#5a34b0" opacity="0.8" transform="rotate(29 55.2 27.8)"/>
<ellipse cx="15.2" cy="84.6" rx="1.3" ry="1.1" fill="#6a40c0" opacity="0.8" transform="rotate(1 15.2 84.6)"/>
<ellipse cx="57.3" cy="26.4" rx="2.1" ry="0.8" fill="#6a40c0" opacity="0.8" transform="rotate(29 57.3 26.4)"/>
<ellipse cx="40.4" cy="22.7" rx="2.3" ry="0.7" fill="#3a2088" opacity="0.8" transform="rotate(136 40.4 22.7)"/>
<ellipse cx="35.3" cy="6.1" rx="1.6" ry="0.8" fill="#2c1878" opacity="0.8" transform="rotate(78 35.3 6.1)"/>
<ellipse cx="6.4" cy="66.0" rx="1.1" ry="0.8" fill="#5a34b0" opacity="0.8" transform="rotate(85 6.4 66.0)"/>
<ellipse cx="73.8" cy="68.8" rx="1.1" ry="0.9" fill="#40248c" opacity="0.8" transform="rotate(51 73.8 68.8)"/>
<ellipse cx="24.4" cy="4.6" rx="1.4" ry="1.1" fill="#6a40c0" opacity="0.8" transform="rotate(70 24.4 4.6)"/>
<ellipse cx="83.6" cy="35.8" rx="1.8" ry="1.2" fill="#4a2a9c" opacity="0.8" transform="rotate(82 83.6 35.8)"/>
<ellipse cx="33.0" cy="80.9" rx="1.7" ry="0.7" fill="#40248c" opacity="0.8" transform="rotate(26 33.0 80.9)"/>
<ellipse cx="24.0" cy="50.9" rx="2.2" ry="1.1" fill="#5a34b0" opacity="0.8" transform="rotate(63 24.0 50.9)"/>
<ellipse cx="71.8" cy="21.4" rx="1.7" ry="0.9" fill="#2c1878" opacity="0.8" transform="rotate(53 71.8 21.4)"/>
<ellipse cx="17.3" cy="50.8" rx="2.2" ry="0.7" fill="#6a40c0" opacity="0.8" transform="rotate(84 17.3 50.8)"/>
<ellipse cx="14.7" cy="10.8" rx="2.1" ry="0.7" fill="#4a2a9c" opacity="0.8" transform="rotate(70 14.7 10.8)"/>
<ellipse cx="12.9" cy="77.1" rx="1.3" ry="1.2" fill="#2c1878" opacity="0.8" transform="rotate(60 12.9 77.1)"/>
<ellipse cx="17.8" cy="77.1" rx="1.9" ry="1.3" fill="#6a40c0" opacity="0.8" transform="rotate(114 17.8 77.1)"/>
<ellipse cx="52.0" cy="82.4" rx="1.3" ry="0.9" fill="#2c1878" opacity="0.8" transform="rotate(63 52.0 82.4)"/>
<ellipse cx="62.2" cy="19.0" rx="1.6" ry="1.2" fill="#3a2088" opacity="0.8" transform="rotate(166 62.2 19.0)"/>
<ellipse cx="43.2" cy="9.3" rx="1.4" ry="1.2" fill="#5a34b0" opacity="0.8" transform="rotate(162 43.2 9.3)"/>
<ellipse cx="40.8" cy="22.1" rx="1.5" ry="1.0" fill="#3a2088" opacity="0.8" transform="rotate(106 40.8 22.1)"/>
<ellipse cx="28.1" cy="7.2" rx="1.5" ry="0.7" fill="#4a2a9c" opacity="0.8" transform="rotate(90 28.1 7.2)"/>
<ellipse cx="81.0" cy="32.2" rx="1.8" ry="0.8" fill="#2c1878" opacity="0.8" transform="rotate(58 81.0 32.2)"/>
<ellipse cx="80.1" cy="38.2" rx="1.5" ry="1.1" fill="#5a34b0" opacity="0.8" transform="rotate(125 80.1 38.2)"/>
<ellipse cx="79.5" cy="53.7" rx="1.8" ry="1.2" fill="#6a40c0" opacity="0.8" transform="rotate(65 79.5 53.7)"/>
<ellipse cx="15.1" cy="24.3" rx="2.0" ry="1.1" fill="#3a2088" opacity="0.8" transform="rotate(76 15.1 24.3)"/>
<ellipse cx="45.9" cy="16.7" rx="1.7" ry="0.7" fill="#40248c" opacity="0.8" transform="rotate(120 45.9 16.7)"/>
<ellipse cx="23.3" cy="7.7" rx="1.3" ry="1.0" fill="#5a34b0" opacity="0.8" transform="rotate(48 23.3 7.7)"/>
<ellipse cx="6.4" cy="23.2" rx="2.3" ry="1.1" fill="#40248c" opacity="0.8" transform="rotate(64 6.4 23.2)"/>
<ellipse cx="49.0" cy="70.1" rx="1.0" ry="0.7" fill="#2c1878" opacity="0.8" transform="rotate(83 49.0 70.1)"/>
<ellipse cx="16.9" cy="9.5" rx="1.8" ry="1.1" fill="#5a34b0" opacity="0.8" transform="rotate(121 16.9 9.5)"/>
<ellipse cx="33.3" cy="59.1" rx="1.1" ry="1.2" fill="#40248c" opacity="0.8" transform="rotate(20 33.3 59.1)"/>
<ellipse cx="74.7" cy="43.3" rx="1.6" ry="1.2" fill="#2c1878" opacity="0.8" transform="rotate(51 74.7 43.3)"/>
<ellipse cx="83.3" cy="52.7" rx="1.9" ry="0.7" fill="#4a2a9c" opacity="0.8" transform="rotate(99 83.3 52.7)"/>
<ellipse cx="76.9" cy="30.9" rx="1.8" ry="0.7" fill="#2c1878" opacity="0.8" transform="rotate(54 76.9 30.9)"/>
<ellipse cx="12.6" cy="42.3" rx="1.8" ry="1.0" fill="#2c1878" opacity="0.8" transform="rotate(72 12.6 42.3)"/>
<ellipse cx="60.7" cy="19.4" rx="1.2" ry="1.2" fill="#4a2a9c" opacity="0.8" transform="rotate(86 60.7 19.4)"/>
<ellipse cx="19.5" cy="7.0" rx="1.7" ry="0.9" fill="#3a2088" opacity="0.8" transform="rotate(81 19.5 7.0)"/>
<ellipse cx="81.7" cy="84.6" rx="1.1" ry="1.3" fill="#3a2088" opacity="0.8" transform="rotate(52 81.7 84.6)"/>
<ellipse cx="15.8" cy="21.4" rx="2.1" ry="1.1" fill="#4a2a9c" opacity="0.8" transform="rotate(53 15.8 21.4)"/>
<ellipse cx="5.3" cy="66.1" rx="1.6" ry="1.1" fill="#2c1878" opacity="0.8" transform="rotate(67 5.3 66.1)"/>
<ellipse cx="58.9" cy="36.0" rx="1.2" ry="0.6" fill="#40248c" opacity="0.8" transform="rotate(84 58.9 36.0)"/>
<ellipse cx="61.9" cy="69.6" rx="2.1" ry="0.8" fill="#6a40c0" opacity="0.8" transform="rotate(52 61.9 69.6)"/>
<ellipse cx="62.0" cy="60.8" rx="1.7" ry="0.7" fill="#40248c" opacity="0.8" transform="rotate(78 62.0 60.8)"/>
<ellipse cx="37.5" cy="19.7" rx="1.7" ry="1.1" fill="#5a34b0" opacity="0.8" transform="rotate(18 37.5 19.7)"/>
<ellipse cx="6.4" cy="58.3" rx="2.4" ry="0.8" fill="#3a2088" opacity="0.8" transform="rotate(77 6.4 58.3)"/>
<ellipse cx="2.2" cy="34.9" rx="2.2" ry="0.6" fill="#3a2088" opacity="0.8" transform="rotate(52 2.2 34.9)"/>
<ellipse cx="83.0" cy="78.3" rx="1.1" ry="1.0" fill="#40248c" opacity="0.8" transform="rotate(58 83.0 78.3)"/>
<ellipse cx="77.4" cy="47.5" rx="1.6" ry="0.6" fill="#3a2088" opacity="0.8" transform="rotate(161 77.4 47.5)"/>
<ellipse cx="11.0" cy="40.7" rx="1.2" ry="1.1" fill="#40248c" opacity="0.8" transform="rotate(104 11.0 40.7)"/>
<ellipse cx="2.8" cy="60.7" rx="2.1" ry="0.7" fill="#6a40c0" opacity="0.8" transform="rotate(52 2.8 60.7)"/>
<ellipse cx="79.4" cy="22.1" rx="1.2" ry="1.2" fill="#3a2088" opacity="0.8" transform="rotate(83 79.4 22.1)"/>
<ellipse cx="81.9" cy="36.8" rx="1.0" ry="0.7" fill="#40248c" opacity="0.8" transform="rotate(156 81.9 36.8)"/>
<ellipse cx="75.9" cy="55.8" rx="1.4" ry="0.7" fill="#3a2088" opacity="0.8" transform="rotate(17 75.9 55.8)"/>
<ellipse cx="-0.7" cy="2.6" rx="1.5" ry="1.2" fill="#40248c" opacity="0.8" transform="rotate(57 -0.7 2.6)"/>
<ellipse cx="65.7" cy="73.6" rx="1.8" ry="1.3" fill="#6a40c0" opacity="0.8" transform="rotate(171 65.7 73.6)"/>
<ellipse cx="44.2" cy="25.8" rx="1.3" ry="1.1" fill="#6a40c0" opacity="0.8" transform="rotate(64 44.2 25.8)"/>
<ellipse cx="48.9" cy="18.2" rx="1.4" ry="1.0" fill="#40248c" opacity="0.8" transform="rotate(67 48.9 18.2)"/>
<ellipse cx="49.7" cy="2.8" rx="1.4" ry="0.7" fill="#4a2a9c" opacity="0.8" transform="rotate(80 49.7 2.8)"/>
<ellipse cx="42.9" cy="20.5" rx="2.3" ry="1.0" fill="#5a34b0" opacity="0.8" transform="rotate(62 42.9 20.5)"/>
<ellipse cx="69.4" cy="1.7" rx="1.4" ry="0.8" fill="#4a2a9c" opacity="0.8" transform="rotate(131 69.4 1.7)"/>
<ellipse cx="59.1" cy="38.2" rx="1.1" ry="0.9" fill="#5a34b0" opacity="0.8" transform="rotate(149 59.1 38.2)"/>
<ellipse cx="54.5" cy="57.3" rx="1.9" ry="1.1" fill="#4a2a9c" opacity="0.8" transform="rotate(52 54.5 57.3)"/>
<ellipse cx="33.7" cy="36.7" rx="1.9" ry="1.2" fill="#3a2088" opacity="0.8" transform="rotate(55 33.7 36.7)"/>
<ellipse cx="27.9" cy="39.7" rx="2.0" ry="1.1" fill="#3a2088" opacity="0.8" transform="rotate(54 27.9 39.7)"/>
<ellipse cx="21.9" cy="41.0" rx="2.0" ry="1.2" fill="#5a34b0" opacity="0.8" transform="rotate(156 21.9 41.0)"/>
<ellipse cx="23.5" cy="12.4" rx="1.2" ry="1.0" fill="#2c1878" opacity="0.8" transform="rotate(63 23.5 12.4)"/>
<ellipse cx="77.2" cy="72.5" rx="1.5" ry="1.2" fill="#3a2088" opacity="0.8" transform="rotate(77 77.2 72.5)"/>
<ellipse cx="11.9" cy="66.6" rx="1.7" ry="0.7" fill="#6a40c0" opacity="0.8" transform="rotate(70 11.9 66.6)"/>
<ellipse cx="82.8" cy="84.1" rx="1.5" ry="0.7" fill="#2c1878" opacity="0.8" transform="rotate(132 82.8 84.1)"/>
<ellipse cx="63.6" cy="27.7" rx="2.0" ry="1.0" fill="#40248c" opacity="0.8" transform="rotate(51 63.6 27.7)"/>
<ellipse cx="47.6" cy="19.0" rx="1.1" ry="1.1" fill="#5a34b0" opacity="0.8" transform="rotate(43 47.6 19.0)"/>
<ellipse cx="48.7" cy="48.5" rx="1.5" ry="0.6" fill="#6a40c0" opacity="0.8" transform="rotate(76 48.7 48.5)"/>
<ellipse cx="6.6" cy="38.7" rx="1.3" ry="0.9" fill="#2c1878" opacity="0.8" transform="rotate(165 6.6 38.7)"/>
<ellipse cx="75.5" cy="9.0" rx="2.4" ry="0.8" fill="#6a40c0" opacity="0.8" transform="rotate(44 75.5 9.0)"/>
<ellipse cx="19.4" cy="53.6" rx="1.7" ry="1.0" fill="#40248c" opacity="0.8" transform="rotate(69 19.4 53.6)"/>
<ellipse cx="39.6" cy="84.1" rx="1.1" ry="0.9" fill="#6a40c0" opacity="0.8" transform="rotate(75 39.6 84.1)"/>
<ellipse cx="70.4" cy="46.3" rx="1.5" ry="1.2" fill="#40248c" opacity="0.8" transform="rotate(60 70.4 46.3)"/>
<ellipse cx="36.3" cy="84.6" rx="1.1" ry="0.9" fill="#2c1878" opacity="0.8" transform="rotate(50 36.3 84.6)"/>
<ellipse cx="75.7" cy="14.8" rx="1.0" ry="0.9" fill="#4a2a9c" opacity="0.8" transform="rotate(87 75.7 14.8)"/>
<ellipse cx="42.8" cy="83.6" rx="1.2" ry="1.0" fill="#6a40c0" opacity="0.8" transform="rotate(65 42.8 83.6)"/>
<ellipse cx="16.8" cy="74.6" rx="1.5" ry="0.8" fill="#4a2a9c" opacity="0.8" transform="rotate(101 16.8 74.6)"/>
<ellipse cx="63.6" cy="52.3" rx="2.0" ry="1.2" fill="#40248c" opacity="0.8" transform="rotate(89 63.6 52.3)"/>
<ellipse cx="26.8" cy="27.3" rx="2.2" ry="0.8" fill="#4a2a9c" opacity="0.8" transform="rotate(88 26.8 27.3)"/>
<ellipse cx="17.8" cy="-0.7" rx="2.4" ry="0.7" fill="#4a2a9c" opacity="0.8" transform="rotate(64 17.8 -0.7)"/>
<ellipse cx="18.7" cy="67.1" rx="1.6" ry="1.2" fill="#2c1878" opacity="0.8" transform="rotate(79 18.7 67.1)"/>
<ellipse cx="30.9" cy="75.5" rx="1.4" ry="0.9" fill="#3a2088" opacity="0.8" transform="rotate(72 30.9 75.5)"/>
<ellipse cx="44.9" cy="4.8" rx="1.2" ry="0.7" fill="#40248c" opacity="0.8" transform="rotate(90 44.9 4.8)"/>
<ellipse cx="51.0" cy="13.8" rx="1.7" ry="0.8" fill="#5a34b0" opacity="0.8" transform="rotate(24 51.0 13.8)"/>
<ellipse cx="61.1" cy="8.6" rx="1.4" ry="0.8" fill="#6a40c0" opacity="0.8" transform="rotate(89 61.1 8.6)"/>
<ellipse cx="69.7" cy="56.9" rx="2.0" ry="0.8" fill="#5a34b0" opacity="0.8" transform="rotate(84 69.7 56.9)"/>
<ellipse cx="37.0" cy="82.6" rx="2.2" ry="1.1" fill="#2c1878" opacity="0.8" transform="rotate(74 37.0 82.6)"/>
<ellipse cx="49.2" cy="58.4" rx="1.7" ry="0.7" fill="#6a40c0" opacity="0.8" transform="rotate(13 49.2 58.4)"/>
<ellipse cx="1.0" cy="52.3" rx="1.3" ry="0.7" fill="#3a2088" opacity="0.8" transform="rotate(82 1.0 52.3)"/>
<ellipse cx="72.1" cy="16.5" rx="2.3" ry="0.8" fill="#2c1878" opacity="0.8" transform="rotate(63 72.1 16.5)"/>
<ellipse cx="76.1" cy="0.9" rx="2.0" ry="0.6" fill="#4a2a9c" opacity="0.8" transform="rotate(121 76.1 0.9)"/>
<ellipse cx="77.0" cy="77.0" rx="2.2" ry="1.3" fill="#4a2a9c" opacity="0.8" transform="rotate(82 77.0 77.0)"/>
<ellipse cx="45.9" cy="-0.5" rx="1.1" ry="0.8" fill="#40248c" opacity="0.8" transform="rotate(88 45.9 -0.5)"/>
<ellipse cx="45.8" cy="51.8" rx="2.2" ry="0.7" fill="#5a34b0" opacity="0.8" transform="rotate(84 45.8 51.8)"/>
<ellipse cx="69.3" cy="80.0" rx="1.3" ry="0.8" fill="#3a2088" opacity="0.8" transform="rotate(92 69.3 80.0)"/>
<ellipse cx="57.9" cy="33.1" rx="1.3" ry="0.8" fill="#6a40c0" opacity="0.8" transform="rotate(66 57.9 33.1)"/>
<ellipse cx="28.5" cy="40.8" rx="1.9" ry="1.1" fill="#5a34b0" opacity="0.8" transform="rotate(127 28.5 40.8)"/>
<ellipse cx="16.8" cy="28.9" rx="2.0" ry="1.1" fill="#3a2088" opacity="0.8" transform="rotate(71 16.8 28.9)"/>
<ellipse cx="35.0" cy="14.9" rx="2.4" ry="0.7" fill="#3a2088" opacity="0.8" transform="rotate(118 35.0 14.9)"/>
<ellipse cx="29.0" cy="69.0" rx="1.1" ry="0.8" fill="#5a34b0" opacity="0.8" transform="rotate(87 29.0 69.0)"/>
<ellipse cx="49.3" cy="71.6" rx="1.4" ry="1.2" fill="#3a2088" opacity="0.8" transform="rotate(54 49.3 71.6)"/>
<ellipse cx="45.8" cy="50.9" rx="1.9" ry="0.7" fill="#2c1878" opacity="0.8" transform="rotate(53 45.8 50.9)"/>
<ellipse cx="65.7" cy="57.5" rx="2.1" ry="0.9" fill="#3a2088" opacity="0.8" transform="rotate(172 65.7 57.5)"/>
<ellipse cx="70.9" cy="12.5" rx="1.2" ry="1.2" fill="#5a34b0" opacity="0.8" transform="rotate(76 70.9 12.5)"/>
<ellipse cx="31.9" cy="11.8" rx="1.3" ry="1.0" fill="#6a40c0" opacity="0.8" transform="rotate(69 31.9 11.8)"/>
<ellipse cx="15.4" cy="54.7" rx="1.7" ry="0.7" fill="#5a34b0" opacity="0.8" transform="rotate(157 15.4 54.7)"/>
<ellipse cx="2.2" cy="65.2" rx="1.8" ry="1.0" fill="#4a2a9c" opacity="0.8" transform="rotate(81 2.2 65.2)"/>
<ellipse cx="52.5" cy="50.2" rx="2.3" ry="0.7" fill="#2c1878" opacity="0.8" transform="rotate(54 52.5 50.2)"/>
<ellipse cx="82.2" cy="12.6" rx="1.4" ry="0.8" fill="#2c1878" opacity="0.8" transform="rotate(144 82.2 12.6)"/>
<ellipse cx="70.1" cy="74.0" rx="1.1" ry="0.8" fill="#2c1878" opacity="0.8" transform="rotate(60 70.1 74.0)"/>
<ellipse cx="21.3" cy="14.7" rx="1.0" ry="1.2" fill="#40248c" opacity="0.8" transform="rotate(60 21.3 14.7)"/>
<ellipse cx="34.1" cy="64.0" rx="2.2" ry="0.7" fill="#5a34b0" opacity="0.8" transform="rotate(81 34.1 64.0)"/>
<ellipse cx="65.2" cy="84.8" rx="1.3" ry="0.6" fill="#6a40c0" opacity="0.8" transform="rotate(74 65.2 84.8)"/>
<ellipse cx="32.3" cy="25.9" rx="1.1" ry="1.3" fill="#5a34b0" opacity="0.8" transform="rotate(68 32.3 25.9)"/>
<ellipse cx="48.6" cy="44.8" rx="2.1" ry="0.8" fill="#5a34b0" opacity="0.8" transform="rotate(163 48.6 44.8)"/>
<ellipse cx="16.9" cy="3.2" rx="1.3" ry="1.3" fill="#6a40c0" opacity="0.8" transform="rotate(179 16.9 3.2)"/>
<ellipse cx="72.3" cy="5.9" rx="1.5" ry="1.2" fill="#40248c" opacity="0.8" transform="rotate(2 72.3 5.9)"/>
<ellipse cx="40.4" cy="12.6" rx="1.3" ry="1.2" fill="#40248c" opacity="0.8" transform="rotate(78 40.4 12.6)"/>
<ellipse cx="60.8" cy="16.6" rx="1.9" ry="1.1" fill="#5a34b0" opacity="0.8" transform="rotate(4 60.8 16.6)"/>
<ellipse cx="60.1" cy="43.8" rx="1.3" ry="0.6" fill="#2c1878" opacity="0.8" transform="rotate(53 60.1 43.8)"/>
<ellipse cx="66.0" cy="25.4" rx="1.8" ry="1.2" fill="#2c1878" opacity="0.8" transform="rotate(79 66.0 25.4)"/>
<ellipse cx="83.4" cy="24.8" rx="2.1" ry="1.2" fill="#40248c" opacity="0.8" transform="rotate(111 83.4 24.8)"/>
<ellipse cx="41.5" cy="34.8" rx="1.2" ry="1.0" fill="#5a34b0" opacity="0.8" transform="rotate(89 41.5 34.8)"/>
<ellipse cx="8.0" cy="78.8" rx="1.5" ry="0.7" fill="#5a34b0" opacity="0.8" transform="rotate(78 8.0 78.8)"/>
<ellipse cx="32.3" cy="64.1" rx="1.4" ry="0.7" fill="#3a2088" opacity="0.8" transform="rotate(68 32.3 64.1)"/>
<ellipse cx="12.0" cy="32.6" rx="1.9" ry="0.9" fill="#3a2088" opacity="0.8" transform="rotate(31 12.0 32.6)"/>
<ellipse cx="78.6" cy="76.4" rx="1.3" ry="1.0" fill="#5a34b0" opacity="0.8" transform="rotate(51 78.6 76.4)"/>
<ellipse cx="55.3" cy="67.1" rx="2.3" ry="0.9" fill="#2c1878" opacity="0.8" transform="rotate(18 55.3 67.1)"/>
<ellipse cx="33.4" cy="42.6" rx="2.1" ry="1.2" fill="#2c1878" opacity="0.8" transform="rotate(82 33.4 42.6)"/>
<ellipse cx="0.3" cy="12.0" rx="1.3" ry="0.7" fill="#6a40c0" opacity="0.8" transform="rotate(58 0.3 12.0)"/>
<ellipse cx="5.0" cy="24.0" rx="2.4" ry="0.9" fill="#2c1878" opacity="0.8" transform="rotate(56 5.0 24.0)"/>
<ellipse cx="46.8" cy="83.2" rx="1.8" ry="1.1" fill="#2c1878" opacity="0.8" transform="rotate(52 46.8 83.2)"/>
<ellipse cx="7.5" cy="4.5" rx="2.0" ry="1.0" fill="#5a34b0" opacity="0.8" transform="rotate(50 7.5 4.5)"/>
<ellipse cx="23.5" cy="48.5" rx="1.0" ry="0.9" fill="#40248c" opacity="0.8" transform="rotate(72 23.5 48.5)"/>
<ellipse cx="53.5" cy="6.4" rx="2.1" ry="0.9" fill="#6a40c0" opacity="0.8" transform="rotate(55 53.5 6.4)"/>
<ellipse cx="69.6" cy="24.1" rx="1.4" ry="0.8" fill="#6a40c0" opacity="0.8" transform="rotate(92 69.6 24.1)"/>
<ellipse cx="82.2" cy="75.9" rx="2.4" ry="1.3" fill="#6a40c0" opacity="0.8" transform="rotate(83 82.2 75.9)"/>
<ellipse cx="67.0" cy="10.6" rx="1.8" ry="0.7" fill="#4a2a9c" opacity="0.8" transform="rotate(3 67.0 10.6)"/>
<ellipse cx="72.2" cy="14.1" rx="1.4" ry="1.0" fill="#40248c" opacity="0.8" transform="rotate(69 72.2 14.1)"/>
<ellipse cx="54.2" cy="24.9" rx="2.1" ry="0.7" fill="#5a34b0" opacity="0.8" transform="rotate(95 54.2 24.9)"/>
<ellipse cx="2.7" cy="15.5" rx="2.3" ry="0.9" fill="#40248c" opacity="0.8" transform="rotate(65 2.7 15.5)"/>
<ellipse cx="46.6" cy="83.1" rx="1.4" ry="1.1" fill="#5a34b0" opacity="0.8" transform="rotate(66 46.6 83.1)"/>
<ellipse cx="79.5" cy="82.2" rx="2.1" ry="1.3" fill="#3a2088" opacity="0.8" transform="rotate(84 79.5 82.2)"/>
<ellipse cx="56.9" cy="5.6" rx="1.8" ry="0.7" fill="#5a34b0" opacity="0.8" transform="rotate(81 56.9 5.6)"/>
<ellipse cx="39.3" cy="25.9" rx="1.5" ry="1.2" fill="#40248c" opacity="0.8" transform="rotate(152 39.3 25.9)"/>
<ellipse cx="14.0" cy="6.6" rx="2.2" ry="1.0" fill="#6a40c0" opacity="0.8" transform="rotate(85 14.0 6.6)"/>
<ellipse cx="12.1" cy="60.8" rx="1.3" ry="1.2" fill="#4a2a9c" opacity="0.8" transform="rotate(84 12.1 60.8)"/>
<ellipse cx="6.0" cy="16.8" rx="2.3" ry="1.3" fill="#5a34b0" opacity="0.8" transform="rotate(69 6.0 16.8)"/>
<ellipse cx="72.1" cy="31.3" rx="1.0" ry="1.3" fill="#2c1878" opacity="0.8" transform="rotate(60 72.1 31.3)"/>
<ellipse cx="49.3" cy="38.8" rx="1.6" ry="1.1" fill="#3a2088" opacity="0.8" transform="rotate(68 49.3 38.8)"/>
<ellipse cx="81.3" cy="31.1" rx="2.4" ry="1.2" fill="#2c1878" opacity="0.8" transform="rotate(84 81.3 31.1)"/>
<ellipse cx="52.3" cy="49.6" rx="2.2" ry="0.9" fill="#6a40c0" opacity="0.8" transform="rotate(66 52.3 49.6)"/>
<ellipse cx="38.2" cy="28.8" rx="1.2" ry="0.7" fill="#40248c" opacity="0.8" transform="rotate(141 38.2 28.8)"/>
<ellipse cx="52.3" cy="50.6" rx="2.3" ry="1.2" fill="#6a40c0" opacity="0.8" transform="rotate(59 52.3 50.6)"/>
<ellipse cx="30.5" cy="7.8" rx="1.5" ry="1.1" fill="#40248c" opacity="0.8" transform="rotate(116 30.5 7.8)"/>
<ellipse cx="22.2" cy="36.1" rx="1.7" ry="0.9" fill="#2c1878" opacity="0.8" transform="rotate(73 22.2 36.1)"/>
<ellipse cx="57.4" cy="14.1" rx="1.2" ry="1.1" fill="#3a2088" opacity="0.8" transform="rotate(127 57.4 14.1)"/>
<ellipse cx="10.5" cy="41.5" rx="1.5" ry="1.3" fill="#2c1878" opacity="0.8" transform="rotate(80 10.5 41.5)"/>
<ellipse cx="52.6" cy="14.0" rx="2.4" ry="0.7" fill="#2c1878" opacity="0.8" transform="rotate(68 52.6 14.0)"/>
<ellipse cx="73.9" cy="63.1" rx="1.7" ry="0.7" fill="#2c1878" opacity="0.8" transform="rotate(56 73.9 63.1)"/>
<ellipse cx="48.7" cy="19.5" rx="1.4" ry="0.9" fill="#6a40c0" opacity="0.8" transform="rotate(76 48.7 19.5)"/>
<ellipse cx="-0.2" cy="2.2" rx="2.1" ry="0.9" fill="#2c1878" opacity="0.8" transform="rotate(89 -0.2 2.2)"/>
<ellipse cx="7.0" cy="3.8" rx="1.6" ry="1.2" fill="#2c1878" opacity="0.8" transform="rotate(174 7.0 3.8)"/>
<ellipse cx="48.7" cy="49.0" rx="1.0" ry="0.9" fill="#2c1878" opacity="0.8" transform="rotate(75 48.7 49.0)"/>
<ellipse cx="41.4" cy="44.4" rx="1.1" ry="0.7" fill="#5a34b0" opacity="0.8" transform="rotate(90 41.4 44.4)"/>
<ellipse cx="66.9" cy="50.6" rx="1.2" ry="1.0" fill="#4a2a9c" opacity="0.8" transform="rotate(178 66.9 50.6)"/>
<ellipse cx="2.9" cy="74.7" rx="1.9" ry="0.8" fill="#3a2088" opacity="0.8" transform="rotate(149 2.9 74.7)"/>
<ellipse cx="28.8" cy="39.4" rx="1.1" ry="1.0" fill="#4a2a9c" opacity="0.8" transform="rotate(9 28.8 39.4)"/>
<ellipse cx="45.0" cy="79.0" rx="1.8" ry="1.2" fill="#2c1878" opacity="0.8" transform="rotate(179 45.0 79.0)"/>
<ellipse cx="35.5" cy="75.1" rx="1.9" ry="1.0" fill="#4a2a9c" opacity="0.8" transform="rotate(79 35.5 75.1)"/>
<ellipse cx="52.8" cy="45.0" rx="2.0" ry="1.3" fill="#40248c" opacity="0.8" transform="rotate(63 52.8 45.0)"/>
<ellipse cx="4.1" cy="67.1" rx="1.0" ry="1.1" fill="#5a34b0" opacity="0.8" transform="rotate(43 4.1 67.1)"/>
<ellipse cx="70.0" cy="63.3" rx="2.0" ry="1.3" fill="#3a2088" opacity="0.8" transform="rotate(111 70.0 63.3)"/>
<ellipse cx="79.9" cy="66.2" rx="2.3" ry="0.8" fill="#4a2a9c" opacity="0.8" transform="rotate(65 79.9 66.2)"/>
<ellipse cx="12.0" cy="37.6" rx="2.2" ry="1.3" fill="#6a40c0" opacity="0.8" transform="rotate(65 12.0 37.6)"/>
<ellipse cx="22.0" cy="41.5" rx="2.3" ry="0.7" fill="#6a40c0" opacity="0.8" transform="rotate(71 22.0 41.5)"/>
<ellipse cx="56.8" cy="63.4" rx="1.5" ry="0.6" fill="#6a40c0" opacity="0.8" transform="rotate(87 56.8 63.4)"/>
<ellipse cx="58.4" cy="49.0" rx="1.2" ry="1.2" fill="#2c1878" opacity="0.8" transform="rotate(56 58.4 49.0)"/>
<ellipse cx="17.4" cy="80.0" rx="2.1" ry="0.8" fill="#4a2a9c" opacity="0.8" transform="rotate(85 17.4 80.0)"/>
<ellipse cx="7.3" cy="65.1" rx="2.1" ry="1.0" fill="#4a2a9c" opacity="0.8" transform="rotate(177 7.3 65.1)"/>
<ellipse cx="81.9" cy="10.2" rx="1.3" ry="1.1" fill="#40248c" opacity="0.8" transform="rotate(56 81.9 10.2)"/>
<ellipse cx="47.1" cy="22.8" rx="1.4" ry="1.0" fill="#3a2088" opacity="0.8" transform="rotate(84 47.1 22.8)"/>
<ellipse cx="19.5" cy="59.1" rx="1.9" ry="0.7" fill="#4a2a9c" opacity="0.8" transform="rotate(138 19.5 59.1)"/>
<ellipse cx="26.4" cy="62.9" rx="2.3" ry="1.1" fill="#5a34b0" opacity="0.8" transform="rotate(97 26.4 62.9)"/>
<ellipse cx="8.0" cy="29.1" rx="2.2" ry="0.7" fill="#2c1878" opacity="0.8" transform="rotate(80 8.0 29.1)"/>
<ellipse cx="76.1" cy="33.6" rx="1.2" ry="0.9" fill="#40248c" opacity="0.8" transform="rotate(88 76.1 33.6)"/>
<ellipse cx="37.1" cy="1.7" rx="1.5" ry="0.8" fill="#5a34b0" opacity="0.8" transform="rotate(129 37.1 1.7)"/>
<ellipse cx="44.1" cy="59.3" rx="1.2" ry="0.9" fill="#40248c" opacity="0.8" transform="rotate(61 44.1 59.3)"/>
<ellipse cx="8.9" cy="36.6" rx="1.6" ry="0.7" fill="#4a2a9c" opacity="0.8" transform="rotate(143 8.9 36.6)"/>
<ellipse cx="31.2" cy="78.4" rx="2.3" ry="0.9" fill="#4a2a9c" opacity="0.8" transform="rotate(155 31.2 78.4)"/>
<ellipse cx="40.9" cy="33.1" rx="1.3" ry="1.1" fill="#3a2088" opacity="0.8" transform="rotate(92 40.9 33.1)"/>
<ellipse cx="83.0" cy="40.5" rx="1.5" ry="1.2" fill="#2c1878" opacity="0.8" transform="rotate(68 83.0 40.5)"/>
<ellipse cx="46.2" cy="61.4" rx="1.1" ry="0.9" fill="#3a2088" opacity="0.8" transform="rotate(66 46.2 61.4)"/>
<ellipse cx="23.4" cy="37.4" rx="1.7" ry="1.2" fill="#5a34b0" opacity="0.8" transform="rotate(167 23.4 37.4)"/>
<ellipse cx="50.9" cy="52.5" rx="1.2" ry="0.8" fill="#40248c" opacity="0.8" transform="rotate(51 50.9 52.5)"/>
<ellipse cx="83.0" cy="1.2" rx="2.2" ry="1.2" fill="#3a2088" opacity="0.8" transform="rotate(83 83.0 1.2)"/>
<ellipse cx="35.2" cy="0.7" rx="2.4" ry="1.1" fill="#2c1878" opacity="0.8" transform="rotate(123 35.2 0.7)"/>
<ellipse cx="6.5" cy="83.3" rx="1.3" ry="0.9" fill="#40248c" opacity="0.8" transform="rotate(73 6.5 83.3)"/>
<ellipse cx="79.1" cy="53.6" rx="1.5" ry="0.7" fill="#6a40c0" opacity="0.8" transform="rotate(71 79.1 53.6)"/>
<ellipse cx="62.5" cy="64.5" rx="2.3" ry="1.1" fill="#3a2088" opacity="0.8" transform="rotate(114 62.5 64.5)"/>
<ellipse cx="78.6" cy="49.9" rx="1.8" ry="0.9" fill="#5a34b0" opacity="0.8" transform="rotate(63 78.6 49.9)"/>
<ellipse cx="61.0" cy="2.2" rx="1.7" ry="1.0" fill="#2c1878" opacity="0.8" transform="rotate(146 61.0 2.2)"/>
<ellipse cx="28.3" cy="66.4" rx="2.2" ry="0.8" fill="#6a40c0" opacity="0.8" transform="rotate(79 28.3 66.4)"/>
<ellipse cx="33.7" cy="5.6" rx="2.0" ry="0.7" fill="#3a2088" opacity="0.8" transform="rotate(54 33.7 5.6)"/>
<ellipse cx="76.9" cy="69.7" rx="1.4" ry="0.6" fill="#3a2088" opacity="0.8" transform="rotate(118 76.9 69.7)"/>
<ellipse cx="9.5" cy="5.8" rx="1.5" ry="1.2" fill="#4a2a9c" opacity="0.8" transform="rotate(79 9.5 5.8)"/>
<ellipse cx="36.8" cy="19.1" rx="1.3" ry="0.7" fill="#40248c" opacity="0.8" transform="rotate(82 36.8 19.1)"/>
<ellipse cx="75.4" cy="64.4" rx="1.2" ry="1.1" fill="#2c1878" opacity="0.8" transform="rotate(137 75.4 64.4)"/>
<ellipse cx="15.2" cy="82.9" rx="1.9" ry="1.0" fill="#4a2a9c" opacity="0.8" transform="rotate(18 15.2 82.9)"/>
<ellipse cx="31.6" cy="52.4" rx="1.4" ry="0.6" fill="#40248c" opacity="0.8" transform="rotate(78 31.6 52.4)"/>
<ellipse cx="60.0" cy="25.0" rx="1.3" ry="1.1" fill="#4a2a9c" opacity="0.8" transform="rotate(79 60.0 25.0)"/>
<ellipse cx="46.6" cy="40.2" rx="1.5" ry="1.1" fill="#2c1878" opacity="0.8" transform="rotate(15 46.6 40.2)"/>
<ellipse cx="47.8" cy="63.8" rx="1.8" ry="1.1" fill="#5a34b0" opacity="0.8" transform="rotate(117 47.8 63.8)"/>
<ellipse cx="16.7" cy="66.6" rx="1.8" ry="1.1" fill="#3a2088" opacity="0.8" transform="rotate(51 16.7 66.6)"/>
<ellipse cx="26.7" cy="66.0" rx="2.0" ry="0.8" fill="#5a34b0" opacity="0.8" transform="rotate(25 26.7 66.0)"/>
<ellipse cx="67.0" cy="52.8" rx="2.2" ry="0.8" fill="#3a2088" opacity="0.8" transform="rotate(57 67.0 52.8)"/>
<ellipse cx="82.8" cy="33.3" rx="1.0" ry="0.8" fill="#3a2088" opacity="0.8" transform="rotate(35 82.8 33.3)"/>
<ellipse cx="13.7" cy="62.1" rx="1.2" ry="1.1" fill="#4a2a9c" opacity="0.8" transform="rotate(54 13.7 62.1)"/>
<ellipse cx="63.5" cy="34.6" rx="1.9" ry="0.9" fill="#40248c" opacity="0.8" transform="rotate(138 63.5 34.6)"/>
<ellipse cx="58.0" cy="47.4" rx="1.4" ry="1.3" fill="#4a2a9c" opacity="0.8" transform="rotate(2 58.0 47.4)"/>
<ellipse cx="18.5" cy="66.2" rx="2.1" ry="0.8" fill="#40248c" opacity="0.8" transform="rotate(79 18.5 66.2)"/>
<ellipse cx="25.2" cy="0.2" rx="2.3" ry="0.8" fill="#4a2a9c" opacity="0.8" transform="rotate(55 25.2 0.2)"/>
<ellipse cx="28.0" cy="42.8" rx="1.6" ry="0.7" fill="#4a2a9c" opacity="0.8" transform="rotate(90 28.0 42.8)"/>
<ellipse cx="43.6" cy="65.7" rx="2.0" ry="0.8" fill="#6a40c0" opacity="0.8" transform="rotate(142 43.6 65.7)"/>
<ellipse cx="14.4" cy="42.0" rx="2.3" ry="0.8" fill="#3a2088" opacity="0.8" transform="rotate(78 14.4 42.0)"/>
<ellipse cx="77.5" cy="75.5" rx="1.0" ry="1.1" fill="#5a34b0" opacity="0.8" transform="rotate(71 77.5 75.5)"/>
<ellipse cx="28.7" cy="42.0" rx="1.9" ry="0.7" fill="#5a34b0" opacity="0.8" transform="rotate(77 28.7 42.0)"/>
<ellipse cx="14.9" cy="60.3" rx="1.1" ry="0.8" fill="#6a40c0" opacity="0.8" transform="rotate(56 14.9 60.3)"/>
<ellipse cx="74.3" cy="81.2" rx="1.9" ry="1.0" fill="#4a2a9c" opacity="0.8" transform="rotate(65 74.3 81.2)"/>
<ellipse cx="17.4" cy="64.9" rx="1.7" ry="1.3" fill="#4a2a9c" opacity="0.8" transform="rotate(66 17.4 64.9)"/>
<ellipse cx="0.7" cy="41.4" rx="1.7" ry="0.7" fill="#40248c" opacity="0.8" transform="rotate(89 0.7 41.4)"/>
<ellipse cx="71.0" cy="65.7" rx="2.0" ry="1.0" fill="#2c1878" opacity="0.8" transform="rotate(88 71.0 65.7)"/>
<ellipse cx="15.1" cy="47.2" rx="1.9" ry="0.9" fill="#6a40c0" opacity="0.8" transform="rotate(54 15.1 47.2)"/>
<ellipse cx="2.7" cy="79.5" rx="1.5" ry="1.2" fill="#4a2a9c" opacity="0.8" transform="rotate(82 2.7 79.5)"/>
<ellipse cx="68.1" cy="70.6" rx="1.3" ry="0.7" fill="#6a40c0" opacity="0.8" transform="rotate(64 68.1 70.6)"/>
<ellipse cx="35.0" cy="83.0" rx="2.3" ry="1.3" fill="#40248c" opacity="0.8" transform="rotate(78 35.0 83.0)"/>
<ellipse cx="2.7" cy="9.9" rx="1.7" ry="0.9" fill="#4a2a9c" opacity="0.8" transform="rotate(119 2.7 9.9)"/>
<ellipse cx="22.3" cy="1.5" rx="2.3" ry="0.8" fill="#3a2088" opacity="0.8" transform="rotate(55 22.3 1.5)"/>
<ellipse cx="61.7" cy="17.1" rx="1.2" ry="1.2" fill="#3a2088" opacity="0.8" transform="rotate(105 61.7 17.1)"/>
<ellipse cx="40.3" cy="30.2" rx="2.3" ry="0.9" fill="#2c1878" opacity="0.8" transform="rotate(91 40.3 30.2)"/>
<ellipse cx="41.3" cy="49.4" rx="2.2" ry="1.2" fill="#5a34b0" opacity="0.8" transform="rotate(55 41.3 49.4)"/>
<ellipse cx="13.8" cy="66.0" rx="1.6" ry="1.2" fill="#4a2a9c" opacity="0.8" transform="rotate(87 13.8 66.0)"/>
<ellipse cx="21.6" cy="19.6" rx="1.6" ry="1.1" fill="#6a40c0" opacity="0.8" transform="rotate(160 21.6 19.6)"/>
<ellipse cx="44.4" cy="14.8" rx="1.7" ry="0.7" fill="#3a2088" opacity="0.8" transform="rotate(59 44.4 14.8)"/>
<ellipse cx="9.5" cy="35.0" rx="1.0" ry="1.2" fill="#40248c" opacity="0.8" transform="rotate(85 9.5 35.0)"/>
<ellipse cx="73.3" cy="17.2" rx="1.6" ry="1.1" fill="#40248c" opacity="0.8" transform="rotate(26 73.3 17.2)"/>
<ellipse cx="49.5" cy="65.9" rx="1.2" ry="0.8" fill="#2c1878" opacity="0.8" transform="rotate(145 49.5 65.9)"/>
<ellipse cx="61.1" cy="37.0" rx="1.2" ry="1.1" fill="#6a40c0" opacity="0.8" transform="rotate(71 61.1 37.0)"/>
<ellipse cx="48.1" cy="11.8" rx="2.0" ry="0.6" fill="#6a40c0" opacity="0.8" transform="rotate(50 48.1 11.8)"/>
<ellipse cx="63.2" cy="48.4" rx="1.2" ry="0.9" fill="#6a40c0" opacity="0.8" transform="rotate(67 63.2 48.4)"/>
<ellipse cx="43.0" cy="43.6" rx="1.2" ry="0.8" fill="#5a34b0" opacity="0.8" transform="rotate(74 43.0 43.6)"/>
<ellipse cx="0.4" cy="61.2" rx="1.6" ry="0.9" fill="#3a2088" opacity="0.8" transform="rotate(66 0.4 61.2)"/>
<ellipse cx="46.9" cy="12.0" rx="1.1" ry="1.1" fill="#2c1878" opacity="0.8" transform="rotate(121 46.9 12.0)"/>
<ellipse cx="76.0" cy="19.3" rx="1.9" ry="0.9" fill="#5a34b0" opacity="0.8" transform="rotate(157 76.0 19.3)"/>
<ellipse cx="36.7" cy="9.1" rx="1.3" ry="1.2" fill="#4a2a9c" opacity="0.8" transform="rotate(66 36.7 9.1)"/>
<ellipse cx="49.3" cy="83.9" rx="2.0" ry="0.9" fill="#40248c" opacity="0.8" transform="rotate(52 49.3 83.9)"/>
<ellipse cx="17.3" cy="61.5" rx="1.6" ry="1.0" fill="#6a40c0" opacity="0.8" transform="rotate(169 17.3 61.5)"/>
<ellipse cx="10.1" cy="59.0" rx="1.0" ry="0.9" fill="#2c1878" opacity="0.8" transform="rotate(79 10.1 59.0)"/>
<ellipse cx="48.8" cy="36.9" rx="1.3" ry="1.2" fill="#3a2088" opacity="0.8" transform="rotate(74 48.8 36.9)"/>
<ellipse cx="60.7" cy="43.6" rx="2.4" ry="1.1" fill="#2c1878" opacity="0.8" transform="rotate(85 60.7 43.6)"/>
<ellipse cx="8.4" cy="34.4" rx="1.9" ry="1.0" fill="#2c1878" opacity="0.8" transform="rotate(51 8.4 34.4)"/>
<ellipse cx="26.3" cy="16.7" rx="2.2" ry="1.0" fill="#4a2a9c" opacity="0.8" transform="rotate(89 26.3 16.7)"/>
<ellipse cx="20.6" cy="49.5" rx="1.4" ry="1.1" fill="#5a34b0" opacity="0.8" transform="rotate(60 20.6 49.5)"/>
<ellipse cx="17.0" cy="51.4" rx="1.8" ry="0.9" fill="#3a2088" opacity="0.8" transform="rotate(131 17.0 51.4)"/>
<ellipse cx="32.5" cy="64.5" rx="1.6" ry="0.9" fill="#2c1878" opacity="0.8" transform="rotate(81 32.5 64.5)"/>
<ellipse cx="35.1" cy="78.4" rx="1.4" ry="1.3" fill="#5a34b0" opacity="0.8" transform="rotate(77 35.1 78.4)"/>
<ellipse cx="82.2" cy="70.2" rx="1.2" ry="1.2" fill="#6a40c0" opacity="0.8" transform="rotate(147 82.2 70.2)"/>
<ellipse cx="43.7" cy="16.8" rx="1.2" ry="0.8" fill="#2c1878" opacity="0.8" transform="rotate(98 43.7 16.8)"/>
<ellipse cx="56.1" cy="63.4" rx="1.3" ry="1.3" fill="#4a2a9c" opacity="0.8" transform="rotate(54 56.1 63.4)"/>
<ellipse cx="45.6" cy="27.2" rx="1.3" ry="0.8" fill="#40248c" opacity="0.8" transform="rotate(64 45.6 27.2)"/>
<ellipse cx="65.9" cy="59.2" rx="2.2" ry="1.1" fill="#3a2088" opacity="0.8" transform="rotate(52 65.9 59.2)"/>
<ellipse cx="47.0" cy="73.6" rx="1.1" ry="1.0" fill="#5a34b0" opacity="0.8" transform="rotate(35 47.0 73.6)"/>
<ellipse cx="82.2" cy="63.9" rx="1.5" ry="0.6" fill="#2c1878" opacity="0.8" transform="rotate(46 82.2 63.9)"/>
<ellipse cx="32.7" cy="66.2" rx="2.1" ry="1.0" fill="#6a40c0" opacity="0.8" transform="rotate(134 32.7 66.2)"/>
<ellipse cx="53.5" cy="57.8" rx="1.4" ry="0.8" fill="#2c1878" opacity="0.8" transform="rotate(89 53.5 57.8)"/>
<ellipse cx="6.2" cy="31.9" rx="1.8" ry="1.1" fill="#40248c" opacity="0.8" transform="rotate(61 6.2 31.9)"/>
<ellipse cx="13.0" cy="53.3" rx="1.9" ry="1.0" fill="#2c1878" opacity="0.8" transform="rotate(85 13.0 53.3)"/>
<ellipse cx="45.9" cy="1.6" rx="1.5" ry="1.0" fill="#5a34b0" opacity="0.8" transform="rotate(88 45.9 1.6)"/>
<ellipse cx="74.8" cy="39.4" rx="1.1" ry="1.2" fill="#3a2088" opacity="0.8" transform="rotate(63 74.8 39.4)"/>
<ellipse cx="1.2" cy="4.2" rx="1.3" ry="0.8" fill="#2c1878" opacity="0.8" transform="rotate(156 1.2 4.2)"/>
<ellipse cx="42.0" cy="12.6" rx="2.2" ry="1.1" fill="#3a2088" opacity="0.8" transform="rotate(62 42.0 12.6)"/>
<ellipse cx="10.3" cy="13.2" rx="1.6" ry="0.7" fill="#6a40c0" opacity="0.8" transform="rotate(72 10.3 13.2)"/>
<ellipse cx="19.4" cy="30.9" rx="2.1" ry="1.0" fill="#40248c" opacity="0.8" transform="rotate(82 19.4 30.9)"/>
<ellipse cx="77.1" cy="65.0" rx="1.8" ry="1.2" fill="#4a2a9c" opacity="0.8" transform="rotate(21 77.1 65.0)"/>
<ellipse cx="50.7" cy="12.1" rx="1.5" ry="1.2" fill="#3a2088" opacity="0.8" transform="rotate(54 50.7 12.1)"/>
<ellipse cx="58.9" cy="67.6" rx="2.1" ry="1.2" fill="#4a2a9c" opacity="0.8" transform="rotate(56 58.9 67.6)"/>
<ellipse cx="57.8" cy="31.0" rx="1.5" ry="0.7" fill="#2c1878" opacity="0.8" transform="rotate(83 57.8 31.0)"/>
<ellipse cx="27.8" cy="26.7" rx="1.7" ry="1.1" fill="#40248c" opacity="0.8" transform="rotate(64 27.8 26.7)"/>
<ellipse cx="44.0" cy="57.9" rx="1.5" ry="1.0" fill="#3a2088" opacity="0.8" transform="rotate(81 44.0 57.9)"/>
<ellipse cx="74.0" cy="68.0" rx="1.4" ry="0.7" fill="#2c1878" opacity="0.8" transform="rotate(89 74.0 68.0)"/>
<ellipse cx="2.4" cy="78.9" rx="1.4" ry="1.2" fill="#6a40c0" opacity="0.8" transform="rotate(87 2.4 78.9)"/>
<ellipse cx="6.6" cy="78.3" rx="1.1" ry="0.7" fill="#40248c" opacity="0.8" transform="rotate(115 6.6 78.3)"/>
<ellipse cx="-0.9" cy="19.5" rx="1.3" ry="1.1" fill="#5a34b0" opacity="0.8" transform="rotate(167 -0.9 19.5)"/>
<ellipse cx="44.1" cy="65.4" rx="1.2" ry="1.0" fill="#5a34b0" opacity="0.8" transform="rotate(135 44.1 65.4)"/>
<ellipse cx="81.1" cy="68.7" rx="1.0" ry="1.2" fill="#6a40c0" opacity="0.8" transform="rotate(63 81.1 68.7)"/>
<ellipse cx="61.1" cy="41.0" rx="2.1" ry="0.9" fill="#5a34b0" opacity="0.8" transform="rotate(123 61.1 41.0)"/>
<ellipse cx="10.0" cy="50.7" rx="1.9" ry="0.8" fill="#40248c" opacity="0.8" transform="rotate(128 10.0 50.7)"/>
<ellipse cx="58.8" cy="46.6" rx="1.8" ry="0.6" fill="#5a34b0" opacity="0.8" transform="rotate(83 58.8 46.6)"/>
<ellipse cx="30.6" cy="84.7" rx="1.9" ry="0.6" fill="#6a40c0" opacity="0.8" transform="rotate(53 30.6 84.7)"/>
<ellipse cx="32.9" cy="19.1" rx="1.9" ry="1.1" fill="#6a40c0" opacity="0.8" transform="rotate(72 32.9 19.1)"/>
<ellipse cx="78.0" cy="49.0" rx="1.7" ry="1.0" fill="#40248c" opacity="0.8" transform="rotate(84 78.0 49.0)"/>
<ellipse cx="17.4" cy="36.1" rx="1.6" ry="1.0" fill="#40248c" opacity="0.8" transform="rotate(98 17.4 36.1)"/>
<ellipse cx="69.8" cy="81.6" rx="1.3" ry="0.8" fill="#2c1878" opacity="0.8" transform="rotate(61 69.8 81.6)"/>
<ellipse cx="0.3" cy="35.1" rx="2.3" ry="1.2" fill="#40248c" opacity="0.8" transform="rotate(79 0.3 35.1)"/>
<ellipse cx="47.7" cy="53.4" rx="1.2" ry="0.9" fill="#2c1878" opacity="0.8" transform="rotate(72 47.7 53.4)"/>
<ellipse cx="38.5" cy="52.1" rx="1.3" ry="1.2" fill="#5a34b0" opacity="0.8" transform="rotate(154 38.5 52.1)"/>
<ellipse cx="72.6" cy="18.9" rx="1.5" ry="1.0" fill="#6a40c0" opacity="0.8" transform="rotate(59 72.6 18.9)"/>
<ellipse cx="29.0" cy="29.1" rx="1.8" ry="0.7" fill="#40248c" opacity="0.8" transform="rotate(61 29.0 29.1)"/>
<ellipse cx="26.9" cy="25.3" rx="1.2" ry="1.3" fill="#2c1878" opacity="0.8" transform="rotate(149 26.9 25.3)"/>
<ellipse cx="38.2" cy="83.7" rx="1.4" ry="0.8" fill="#3a2088" opacity="0.8" transform="rotate(50 38.2 83.7)"/>
<ellipse cx="83.7" cy="45.1" rx="2.3" ry="0.8" fill="#4a2a9c" opacity="0.8" transform="rotate(88 83.7 45.1)"/>
<ellipse cx="58.0" cy="54.2" rx="1.1" ry="1.0" fill="#6a40c0" opacity="0.8" transform="rotate(69 58.0 54.2)"/>
<ellipse cx="20.8" cy="69.8" rx="1.0" ry="0.9" fill="#4a2a9c" opacity="0.8" transform="rotate(46 20.8 69.8)"/>
<ellipse cx="3.2" cy="4.1" rx="1.8" ry="1.0" fill="#4a2a9c" opacity="0.8" transform="rotate(74 3.2 4.1)"/>
<ellipse cx="5.1" cy="59.0" rx="1.5" ry="0.7" fill="#5a34b0" opacity="0.8" transform="rotate(90 5.1 59.0)"/>
<ellipse cx="37.1" cy="19.4" rx="1.3" ry="1.1" fill="#4a2a9c" opacity="0.8" transform="rotate(168 37.1 19.4)"/>
<ellipse cx="82.2" cy="61.9" rx="1.9" ry="1.2" fill="#3a2088" opacity="0.8" transform="rotate(72 82.2 61.9)"/>
<ellipse cx="6.2" cy="83.4" rx="1.8" ry="1.2" fill="#5a34b0" opacity="0.8" transform="rotate(82 6.2 83.4)"/>
<ellipse cx="28.1" cy="34.2" rx="2.2" ry="0.8" fill="#40248c" opacity="0.8" transform="rotate(77 28.1 34.2)"/>
<ellipse cx="45.2" cy="10.0" rx="1.6" ry="1.0" fill="#40248c" opacity="0.8" transform="rotate(129 45.2 10.0)"/>
<ellipse cx="-0.6" cy="64.0" rx="1.8" ry="0.9" fill="#3a2088" opacity="0.8" transform="rotate(67 -0.6 64.0)"/>
<ellipse cx="19.5" cy="8.1" rx="1.6" ry="1.3" fill="#3a2088" opacity="0.8" transform="rotate(41 19.5 8.1)"/>
<ellipse cx="17.9" cy="36.9" rx="2.4" ry="0.8" fill="#3a2088" opacity="0.8" transform="rotate(69 17.9 36.9)"/>
<ellipse cx="66.4" cy="39.6" rx="1.2" ry="0.9" fill="#40248c" opacity="0.8" transform="rotate(71 66.4 39.6)"/>
<ellipse cx="52.2" cy="38.0" rx="2.3" ry="0.7" fill="#4a2a9c" opacity="0.8" transform="rotate(121 52.2 38.0)"/>
<ellipse cx="71.3" cy="6.2" rx="1.9" ry="0.9" fill="#3a2088" opacity="0.8" transform="rotate(68 71.3 6.2)"/>
<ellipse cx="50.7" cy="35.5" rx="1.3" ry="0.9" fill="#6a40c0" opacity="0.8" transform="rotate(86 50.7 35.5)"/>
<ellipse cx="12.5" cy="31.1" rx="1.8" ry="1.2" fill="#5a34b0" opacity="0.8" transform="rotate(68 12.5 31.1)"/>
<ellipse cx="41.7" cy="41.6" rx="1.8" ry="1.2" fill="#4a2a9c" opacity="0.8" transform="rotate(59 41.7 41.6)"/>
<ellipse cx="4.5" cy="25.4" rx="1.7" ry="1.1" fill="#40248c" opacity="0.8" transform="rotate(167 4.5 25.4)"/>
<ellipse cx="38.7" cy="33.8" rx="1.8" ry="1.0" fill="#40248c" opacity="0.8" transform="rotate(89 38.7 33.8)"/>
<ellipse cx="9.7" cy="64.1" rx="1.5" ry="0.8" fill="#3a2088" opacity="0.8" transform="rotate(76 9.7 64.1)"/>
<ellipse cx="45.0" cy="21.7" rx="2.1" ry="0.6" fill="#6a40c0" opacity="0.8" transform="rotate(63 45.0 21.7)"/>
<ellipse cx="3.9" cy="56.4" rx="1.0" ry="1.1" fill="#5a34b0" opacity="0.8" transform="rotate(4 3.9 56.4)"/>
<ellipse cx="81.6" cy="71.0" rx="2.0" ry="0.8" fill="#40248c" opacity="0.8" transform="rotate(3 81.6 71.0)"/>
<ellipse cx="61.4" cy="59.4" rx="1.2" ry="0.6" fill="#40248c" opacity="0.8" transform="rotate(121 61.4 59.4)"/>
<ellipse cx="38.4" cy="48.2" rx="2.1" ry="1.2" fill="#4a2a9c" opacity="0.8" transform="rotate(61 38.4 48.2)"/>
<ellipse cx="0.5" cy="65.4" rx="1.1" ry="0.9" fill="#2c1878" opacity="0.8" transform="rotate(94 0.5 65.4)"/>
<ellipse cx="65.9" cy="40.3" rx="2.2" ry="0.7" fill="#5a34b0" opacity="0.8" transform="rotate(48 65.9 40.3)"/>
<ellipse cx="6.9" cy="71.6" rx="2.2" ry="1.0" fill="#2c1878" opacity="0.8" transform="rotate(84 6.9 71.6)"/>
<ellipse cx="57.2" cy="51.4" rx="2.0" ry="1.0" fill="#6a40c0" opacity="0.8" transform="rotate(174 57.2 51.4)"/>
<ellipse cx="48.3" cy="84.1" rx="2.1" ry="1.2" fill="#3a2088" opacity="0.8" transform="rotate(15 48.3 84.1)"/>
<ellipse cx="18.2" cy="27.0" rx="1.5" ry="1.3" fill="#3a2088" opacity="0.8" transform="rotate(67 18.2 27.0)"/>
<ellipse cx="41.4" cy="70.1" rx="1.3" ry="0.8" fill="#5a34b0" opacity="0.8" transform="rotate(58 41.4 70.1)"/>
<ellipse cx="16.5" cy="37.8" rx="2.3" ry="0.8" fill="#5a34b0" opacity="0.8" transform="rotate(64 16.5 37.8)"/>
<ellipse cx="47.6" cy="34.2" rx="1.8" ry="0.7" fill="#2c1878" opacity="0.8" transform="rotate(62 47.6 34.2)"/>
<ellipse cx="40.2" cy="73.5" rx="1.1" ry="1.1" fill="#3a2088" opacity="0.8" transform="rotate(51 40.2 73.5)"/>
<ellipse cx="69.0" cy="52.4" rx="1.3" ry="1.0" fill="#3a2088" opacity="0.8" transform="rotate(61 69.0 52.4)"/>
<ellipse cx="53.4" cy="28.3" rx="1.6" ry="1.3" fill="#5a34b0" opacity="0.8" transform="rotate(88 53.4 28.3)"/>
<ellipse cx="4.0" cy="25.1" rx="1.8" ry="0.9" fill="#40248c" opacity="0.8" transform="rotate(104 4.0 25.1)"/>
<ellipse cx="48.2" cy="67.1" rx="1.8" ry="1.1" fill="#40248c" opacity="0.8" transform="rotate(98 48.2 67.1)"/>
<ellipse cx="9.7" cy="8.6" rx="1.3" ry="1.1" fill="#5a34b0" opacity="0.8" transform="rotate(51 9.7 8.6)"/>
<ellipse cx="12.6" cy="45.7" rx="1.5" ry="1.2" fill="#40248c" opacity="0.8" transform="rotate(83 12.6 45.7)"/>
<ellipse cx="19.7" cy="26.9" rx="1.6" ry="0.9" fill="#4a2a9c" opacity="0.8" transform="rotate(51 19.7 26.9)"/>
<ellipse cx="61.6" cy="41.5" rx="1.0" ry="0.8" fill="#3a2088" opacity="0.8" transform="rotate(82 61.6 41.5)"/>
<ellipse cx="69.6" cy="40.7" rx="1.2" ry="1.3" fill="#2c1878" opacity="0.8" transform="rotate(90 69.6 40.7)"/>
<ellipse cx="26.1" cy="52.3" rx="1.9" ry="1.0" fill="#2c1878" opacity="0.8" transform="rotate(68 26.1 52.3)"/>
<ellipse cx="54.8" cy="15.9" rx="1.8" ry="1.2" fill="#2c1878" opacity="0.8" transform="rotate(85 54.8 15.9)"/>
<ellipse cx="13.6" cy="28.8" rx="1.3" ry="1.2" fill="#5a34b0" opacity="0.8" transform="rotate(150 13.6 28.8)"/>
<ellipse cx="22.6" cy="16.0" rx="1.6" ry="0.7" fill="#5a34b0" opacity="0.8" transform="rotate(60 22.6 16.0)"/>
<ellipse cx="7.5" cy="67.7" rx="1.3" ry="0.7" fill="#40248c" opacity="0.8" transform="rotate(76 7.5 67.7)"/>
<ellipse cx="11.0" cy="66.2" rx="2.0" ry="1.3" fill="#3a2088" opacity="0.8" transform="rotate(88 11.0 66.2)"/>
<ellipse cx="19.5" cy="11.7" rx="1.1" ry="0.8" fill="#2c1878" opacity="0.8" transform="rotate(118 19.5 11.7)"/>
<ellipse cx="81.9" cy="4.5" rx="2.3" ry="0.6" fill="#6a40c0" opacity="0.8" transform="rotate(103 81.9 4.5)"/>
<ellipse cx="63.0" cy="8.1" rx="1.5" ry="1.3" fill="#4a2a9c" opacity="0.8" transform="rotate(89 63.0 8.1)"/>
<ellipse cx="79.2" cy="33.1" rx="1.6" ry="1.0" fill="#40248c" opacity="0.8" transform="rotate(178 79.2 33.1)"/>
<ellipse cx="44.7" cy="60.8" rx="1.9" ry="1.3" fill="#3a2088" opacity="0.8" transform="rotate(137 44.7 60.8)"/>
<ellipse cx="12.9" cy="33.3" rx="2.3" ry="0.9" fill="#2c1878" opacity="0.8" transform="rotate(79 12.9 33.3)"/>
<ellipse cx="40.5" cy="35.8" rx="2.0" ry="1.1" fill="#40248c" opacity="0.8" transform="rotate(180 40.5 35.8)"/>
<ellipse cx="21.4" cy="56.7" rx="1.7" ry="1.3" fill="#2c1878" opacity="0.8" transform="rotate(64 21.4 56.7)"/>
<ellipse cx="54.4" cy="13.1" rx="2.2" ry="0.8" fill="#3a2088" opacity="0.8" transform="rotate(53 54.4 13.1)"/>
<ellipse cx="36.3" cy="82.6" rx="1.7" ry="0.8" fill="#5a34b0" opacity="0.8" transform="rotate(75 36.3 82.6)"/>
<ellipse cx="0.6" cy="47.2" rx="2.4" ry="0.8" fill="#40248c" opacity="0.8" transform="rotate(63 0.6 47.2)"/>
<ellipse cx="33.9" cy="51.1" rx="2.1" ry="0.7" fill="#3a2088" opacity="0.8" transform="rotate(163 33.9 51.1)"/>
<ellipse cx="32.9" cy="32.2" rx="2.4" ry="0.9" fill="#40248c" opacity="0.8" transform="rotate(173 32.9 32.2)"/>
<ellipse cx="49.3" cy="71.1" rx="1.3" ry="1.1" fill="#6a40c0" opacity="0.8" transform="rotate(26 49.3 71.1)"/>
<ellipse cx="46.9" cy="76.6" rx="1.4" ry="0.9" fill="#6a40c0" opacity="0.8" transform="rotate(65 46.9 76.6)"/>
<ellipse cx="30.3" cy="22.8" rx="2.3" ry="0.8" fill="#6a40c0" opacity="0.8" transform="rotate(69 30.3 22.8)"/>
<ellipse cx="8.8" cy="17.1" rx="2.1" ry="0.7" fill="#40248c" opacity="0.8" transform="rotate(81 8.8 17.1)"/>
<ellipse cx="20.7" cy="5.1" rx="2.1" ry="0.7" fill="#2c1878" opacity="0.8" transform="rotate(59 20.7 5.1)"/>
<ellipse cx="74.6" cy="40.2" rx="1.4" ry="0.7" fill="#3a2088" opacity="0.8" transform="rotate(52 74.6 40.2)"/>
<ellipse cx="58.2" cy="16.4" rx="1.7" ry="1.0" fill="#2c1878" opacity="0.8" transform="rotate(61 58.2 16.4)"/>
<ellipse cx="8.1" cy="21.7" rx="2.3" ry="1.1" fill="#2c1878" opacity="0.8" transform="rotate(74 8.1 21.7)"/>
<path d="M0 0 L19.7 0 C19.5 6 19.2 11 17.5 15 C15 19.5 9 24 0 27.6 Z" fill="#d6ced8"/>
<ellipse cx="75" cy="2.0" rx="6.5" ry="3.2" fill="#f2e8f2" opacity="0.95"/>
<ellipse cx="80.5" cy="10.5" rx="1.5" ry="2.0" fill="#f2e8f2" opacity="0.95"/>
<ellipse cx="37.9" cy="20.5" rx="1.2" ry="3.8" fill="#f2e8f2" opacity="0.95"/>
<ellipse cx="29" cy="25" rx="1.5" ry="1.0" fill="#f2e8f2" opacity="0.95"/>
<ellipse cx="33.5" cy="21.5" rx="1.0" ry="1.0" fill="#f2e8f2" opacity="0.95"/>
<ellipse cx="75" cy="40.5" rx="3.9" ry="3.7" fill="#f2e8f2" opacity="0.95"/>
<ellipse cx="24" cy="38.5" rx="1.3" ry="1.0" fill="#f2e8f2" opacity="0.95"/>
<ellipse cx="22.5" cy="59.5" rx="1.5" ry="3.0" fill="#f2e8f2" opacity="0.95"/>
<ellipse cx="25.6" cy="60.8" rx="1.1" ry="2.4" fill="#f2e8f2" opacity="0.95"/>
<ellipse cx="60.3" cy="63.4" rx="1.2" ry="1.2" fill="#f2e8f2" opacity="0.95"/>
<ellipse cx="66.5" cy="42.6" rx="1.0" ry="1.0" fill="#f2e8f2" opacity="0.95"/>
<ellipse cx="44" cy="30" rx="0.9" ry="0.9" fill="#f2e8f2" opacity="0.95"/>
<rect x="0.50" y="80.80" width="20.00" height="3.00" fill="#b8b0bc" stroke="none" stroke-width="0" />
</svg>
<svg x="115.6" y="5.6" width="83.0" height="85.4" viewBox="0 0 83.0 85.4" overflow="hidden">
<rect x="0.00" y="0.00" width="83.00" height="85.40" fill="#120e38" stroke="none" stroke-width="0" />
<ellipse cx="37.5" cy="47.9" rx="2.2" ry="1.0" fill="#2a2af0" transform="rotate(-57 37.5 47.9)"/>
<ellipse cx="67.3" cy="40.6" rx="1.9" ry="0.9" fill="#4040ff" transform="rotate(-74 67.3 40.6)"/>
<ellipse cx="67.8" cy="59.6" rx="1.2" ry="1.3" fill="#4040ff" transform="rotate(118 67.8 59.6)"/>
<ellipse cx="54.3" cy="53.5" rx="2.1" ry="0.8" fill="#4040ff" transform="rotate(-45 54.3 53.5)"/>
<ellipse cx="1.6" cy="39.5" rx="1.7" ry="1.2" fill="#1c1cc8" transform="rotate(-54 1.6 39.5)"/>
<ellipse cx="-0.6" cy="6.4" rx="1.9" ry="1.0" fill="#2020e0" transform="rotate(-43 -0.6 6.4)"/>
<ellipse cx="59.2" cy="26.6" rx="1.5" ry="0.9" fill="#1c1cc8" transform="rotate(-49 59.2 26.6)"/>
<ellipse cx="8.2" cy="24.4" rx="1.3" ry="0.8" fill="#2020e0" transform="rotate(38 8.2 24.4)"/>
<ellipse cx="38.9" cy="84.7" rx="1.6" ry="0.8" fill="#3030d8" transform="rotate(-49 38.9 84.7)"/>
<ellipse cx="27.6" cy="26.2" rx="1.2" ry="1.0" fill="#2020e0" transform="rotate(24 27.6 26.2)"/>
<ellipse cx="-0.1" cy="39.6" rx="1.7" ry="1.1" fill="#2a2af0" transform="rotate(-60 -0.1 39.6)"/>
<ellipse cx="34.6" cy="32.5" rx="1.6" ry="1.3" fill="#4040ff" transform="rotate(-45 34.6 32.5)"/>
<ellipse cx="24.9" cy="76.3" rx="1.4" ry="1.0" fill="#2020e0" transform="rotate(116 24.9 76.3)"/>
<ellipse cx="2.6" cy="11.8" rx="1.7" ry="0.8" fill="#1c1cc8" transform="rotate(-47 2.6 11.8)"/>
<ellipse cx="5.2" cy="6.9" rx="1.8" ry="0.9" fill="#1c1cc8" transform="rotate(-65 5.2 6.9)"/>
<ellipse cx="9.8" cy="50.3" rx="2.1" ry="0.9" fill="#3030d8" transform="rotate(-55 9.8 50.3)"/>
<ellipse cx="76.2" cy="70.5" rx="1.5" ry="0.9" fill="#2a2af0" transform="rotate(169 76.2 70.5)"/>
<ellipse cx="57.4" cy="32.9" rx="1.7" ry="0.8" fill="#4040ff" transform="rotate(-76 57.4 32.9)"/>
<ellipse cx="80.8" cy="19.8" rx="2.0" ry="0.9" fill="#3030d8" transform="rotate(107 80.8 19.8)"/>
<ellipse cx="43.2" cy="80.2" rx="2.3" ry="0.9" fill="#4040ff" transform="rotate(-54 43.2 80.2)"/>
<ellipse cx="51.2" cy="23.5" rx="2.2" ry="0.9" fill="#1c1cc8" transform="rotate(-69 51.2 23.5)"/>
<ellipse cx="20.2" cy="3.1" rx="1.5" ry="1.1" fill="#2a2af0" transform="rotate(17 20.2 3.1)"/>
<ellipse cx="74.7" cy="84.7" rx="1.9" ry="1.1" fill="#2020e0" transform="rotate(-74 74.7 84.7)"/>
<ellipse cx="77.5" cy="40.5" rx="1.6" ry="1.0" fill="#2020e0" transform="rotate(-56 77.5 40.5)"/>
<ellipse cx="40.0" cy="62.8" rx="1.6" ry="1.3" fill="#2020e0" transform="rotate(-58 40.0 62.8)"/>
<ellipse cx="75.5" cy="63.4" rx="2.0" ry="1.2" fill="#1c1cc8" transform="rotate(63 75.5 63.4)"/>
<ellipse cx="75.6" cy="75.1" rx="1.7" ry="1.2" fill="#4040ff" transform="rotate(103 75.6 75.1)"/>
<ellipse cx="55.3" cy="32.1" rx="1.2" ry="0.8" fill="#3030d8" transform="rotate(-75 55.3 32.1)"/>
<ellipse cx="73.8" cy="62.6" rx="1.6" ry="1.2" fill="#4040ff" transform="rotate(-62 73.8 62.6)"/>
<ellipse cx="6.1" cy="64.6" rx="1.2" ry="1.1" fill="#2020e0" transform="rotate(-71 6.1 64.6)"/>
<ellipse cx="41.3" cy="52.7" rx="2.2" ry="0.9" fill="#4040ff" transform="rotate(-68 41.3 52.7)"/>
<ellipse cx="16.2" cy="13.8" rx="2.2" ry="1.1" fill="#3030d8" transform="rotate(-44 16.2 13.8)"/>
<ellipse cx="33.4" cy="20.9" rx="1.9" ry="1.2" fill="#2a2af0" transform="rotate(36 33.4 20.9)"/>
<ellipse cx="31.7" cy="50.0" rx="1.5" ry="0.9" fill="#2020e0" transform="rotate(-47 31.7 50.0)"/>
<ellipse cx="59.5" cy="82.0" rx="1.5" ry="0.9" fill="#2a2af0" transform="rotate(-69 59.5 82.0)"/>
<ellipse cx="69.6" cy="32.4" rx="1.8" ry="1.1" fill="#4040ff" transform="rotate(152 69.6 32.4)"/>
<ellipse cx="37.5" cy="5.5" rx="1.2" ry="1.2" fill="#4040ff" transform="rotate(-52 37.5 5.5)"/>
<ellipse cx="29.1" cy="55.7" rx="1.8" ry="1.1" fill="#3030d8" transform="rotate(-72 29.1 55.7)"/>
<ellipse cx="19.2" cy="11.3" rx="1.3" ry="1.1" fill="#3030d8" transform="rotate(-55 19.2 11.3)"/>
<ellipse cx="80.5" cy="58.8" rx="1.4" ry="1.0" fill="#1c1cc8" transform="rotate(-80 80.5 58.8)"/>
<ellipse cx="44.5" cy="2.2" rx="1.4" ry="1.2" fill="#4040ff" transform="rotate(-42 44.5 2.2)"/>
<ellipse cx="51.2" cy="65.1" rx="1.6" ry="1.2" fill="#1c1cc8" transform="rotate(16 51.2 65.1)"/>
<ellipse cx="10.0" cy="38.6" rx="1.9" ry="1.3" fill="#4040ff" transform="rotate(-57 10.0 38.6)"/>
<ellipse cx="66.7" cy="81.5" rx="1.7" ry="1.1" fill="#2020e0" transform="rotate(-51 66.7 81.5)"/>
<ellipse cx="17.1" cy="77.7" rx="2.3" ry="1.3" fill="#3030d8" transform="rotate(-48 17.1 77.7)"/>
<ellipse cx="21.3" cy="61.8" rx="1.2" ry="1.1" fill="#1c1cc8" transform="rotate(-66 21.3 61.8)"/>
<ellipse cx="64.3" cy="41.6" rx="1.2" ry="1.2" fill="#2a2af0" transform="rotate(-48 64.3 41.6)"/>
<ellipse cx="44.3" cy="59.0" rx="2.2" ry="1.0" fill="#4040ff" transform="rotate(162 44.3 59.0)"/>
<ellipse cx="70.4" cy="59.3" rx="2.2" ry="1.0" fill="#2a2af0" transform="rotate(15 70.4 59.3)"/>
<ellipse cx="36.4" cy="47.8" rx="2.1" ry="1.1" fill="#4040ff" transform="rotate(-59 36.4 47.8)"/>
<ellipse cx="20.8" cy="57.7" rx="2.3" ry="1.2" fill="#2a2af0" transform="rotate(-68 20.8 57.7)"/>
<ellipse cx="81.3" cy="44.8" rx="1.8" ry="0.9" fill="#4040ff" transform="rotate(-60 81.3 44.8)"/>
<ellipse cx="31.0" cy="46.0" rx="1.2" ry="1.3" fill="#2020e0" transform="rotate(-40 31.0 46.0)"/>
<ellipse cx="40.7" cy="59.4" rx="1.3" ry="1.1" fill="#1c1cc8" transform="rotate(-42 40.7 59.4)"/>
<ellipse cx="21.9" cy="40.4" rx="1.3" ry="1.0" fill="#1c1cc8" transform="rotate(162 21.9 40.4)"/>
<ellipse cx="43.6" cy="8.5" rx="1.7" ry="0.8" fill="#2020e0" transform="rotate(-52 43.6 8.5)"/>
<ellipse cx="2.0" cy="12.6" rx="1.2" ry="0.9" fill="#1c1cc8" transform="rotate(44 2.0 12.6)"/>
<ellipse cx="7.9" cy="62.9" rx="1.3" ry="1.1" fill="#4040ff" transform="rotate(-72 7.9 62.9)"/>
<ellipse cx="73.7" cy="1.0" rx="1.9" ry="1.2" fill="#4040ff" transform="rotate(-58 73.7 1.0)"/>
<ellipse cx="53.3" cy="45.3" rx="2.1" ry="1.1" fill="#3030d8" transform="rotate(42 53.3 45.3)"/>
<ellipse cx="75.7" cy="26.6" rx="1.5" ry="1.3" fill="#2020e0" transform="rotate(-40 75.7 26.6)"/>
<ellipse cx="10.4" cy="19.9" rx="2.0" ry="0.9" fill="#1c1cc8" transform="rotate(-47 10.4 19.9)"/>
<ellipse cx="45.2" cy="60.6" rx="1.4" ry="1.1" fill="#4040ff" transform="rotate(17 45.2 60.6)"/>
<ellipse cx="57.0" cy="78.7" rx="2.3" ry="0.9" fill="#4040ff" transform="rotate(-50 57.0 78.7)"/>
<ellipse cx="83.9" cy="71.8" rx="2.1" ry="1.0" fill="#4040ff" transform="rotate(-50 83.9 71.8)"/>
<ellipse cx="42.8" cy="48.7" rx="1.4" ry="0.9" fill="#3030d8" transform="rotate(-46 42.8 48.7)"/>
<ellipse cx="77.8" cy="7.3" rx="1.3" ry="1.3" fill="#3030d8" transform="rotate(-49 77.8 7.3)"/>
<ellipse cx="32.2" cy="36.3" rx="1.6" ry="0.9" fill="#2020e0" transform="rotate(-55 32.2 36.3)"/>
<ellipse cx="70.8" cy="14.8" rx="1.7" ry="1.2" fill="#2a2af0" transform="rotate(-72 70.8 14.8)"/>
<ellipse cx="7.1" cy="68.3" rx="1.6" ry="0.8" fill="#1c1cc8" transform="rotate(158 7.1 68.3)"/>
<ellipse cx="47.4" cy="15.7" rx="1.8" ry="1.0" fill="#2020e0" transform="rotate(50 47.4 15.7)"/>
<ellipse cx="62.3" cy="67.0" rx="2.1" ry="1.0" fill="#3030d8" transform="rotate(158 62.3 67.0)"/>
<ellipse cx="64.2" cy="65.9" rx="1.6" ry="1.2" fill="#1c1cc8" transform="rotate(-66 64.2 65.9)"/>
<ellipse cx="7.6" cy="76.6" rx="2.3" ry="1.3" fill="#3030d8" transform="rotate(-69 7.6 76.6)"/>
<ellipse cx="27.7" cy="56.7" rx="1.8" ry="1.1" fill="#2a2af0" transform="rotate(-40 27.7 56.7)"/>
<ellipse cx="58.6" cy="65.6" rx="2.3" ry="0.8" fill="#3030d8" transform="rotate(-50 58.6 65.6)"/>
<ellipse cx="36.7" cy="43.1" rx="2.0" ry="1.1" fill="#3030d8" transform="rotate(-70 36.7 43.1)"/>
<ellipse cx="76.0" cy="47.1" rx="1.8" ry="1.3" fill="#1c1cc8" transform="rotate(-40 76.0 47.1)"/>
<ellipse cx="67.8" cy="5.7" rx="1.9" ry="1.2" fill="#2a2af0" transform="rotate(-43 67.8 5.7)"/>
<ellipse cx="31.8" cy="83.8" rx="2.1" ry="1.1" fill="#1c1cc8" transform="rotate(-63 31.8 83.8)"/>
<ellipse cx="34.8" cy="45.0" rx="1.9" ry="1.0" fill="#4040ff" transform="rotate(-54 34.8 45.0)"/>
<ellipse cx="78.0" cy="57.0" rx="2.0" ry="0.8" fill="#2a2af0" transform="rotate(105 78.0 57.0)"/>
<ellipse cx="33.7" cy="58.8" rx="1.3" ry="1.0" fill="#3030d8" transform="rotate(-57 33.7 58.8)"/>
<ellipse cx="5.2" cy="78.1" rx="1.7" ry="1.0" fill="#4040ff" transform="rotate(44 5.2 78.1)"/>
<ellipse cx="7.4" cy="69.8" rx="2.2" ry="0.9" fill="#2020e0" transform="rotate(44 7.4 69.8)"/>
<ellipse cx="3.3" cy="35.5" rx="1.3" ry="1.2" fill="#3030d8" transform="rotate(-74 3.3 35.5)"/>
<ellipse cx="36.6" cy="57.4" rx="1.7" ry="0.9" fill="#4040ff" transform="rotate(-63 36.6 57.4)"/>
<ellipse cx="68.3" cy="11.0" rx="1.5" ry="0.9" fill="#3030d8" transform="rotate(-60 68.3 11.0)"/>
<ellipse cx="65.7" cy="53.6" rx="1.6" ry="0.9" fill="#4040ff" transform="rotate(102 65.7 53.6)"/>
<ellipse cx="15.2" cy="23.4" rx="1.5" ry="1.3" fill="#2a2af0" transform="rotate(-54 15.2 23.4)"/>
<ellipse cx="73.7" cy="2.5" rx="1.3" ry="0.9" fill="#2020e0" transform="rotate(-55 73.7 2.5)"/>
<ellipse cx="17.9" cy="23.3" rx="2.0" ry="1.3" fill="#3030d8" transform="rotate(-71 17.9 23.3)"/>
<ellipse cx="40.1" cy="29.9" rx="1.6" ry="1.0" fill="#2020e0" transform="rotate(-45 40.1 29.9)"/>
<ellipse cx="37.0" cy="70.8" rx="2.1" ry="1.2" fill="#1c1cc8" transform="rotate(-50 37.0 70.8)"/>
<ellipse cx="67.8" cy="31.2" rx="1.9" ry="1.3" fill="#2a2af0" transform="rotate(-58 67.8 31.2)"/>
<ellipse cx="35.4" cy="31.3" rx="1.3" ry="1.2" fill="#4040ff" transform="rotate(-77 35.4 31.3)"/>
<ellipse cx="47.3" cy="70.3" rx="1.7" ry="1.2" fill="#4040ff" transform="rotate(-68 47.3 70.3)"/>
<ellipse cx="5.9" cy="25.6" rx="2.0" ry="1.1" fill="#3030d8" transform="rotate(-74 5.9 25.6)"/>
<ellipse cx="54.9" cy="27.6" rx="2.2" ry="1.0" fill="#3030d8" transform="rotate(-56 54.9 27.6)"/>
<ellipse cx="36.2" cy="69.2" rx="1.5" ry="1.0" fill="#4040ff" transform="rotate(-43 36.2 69.2)"/>
<ellipse cx="20.1" cy="30.6" rx="1.6" ry="1.0" fill="#2a2af0" transform="rotate(-64 20.1 30.6)"/>
<ellipse cx="61.8" cy="31.2" rx="1.6" ry="0.9" fill="#2020e0" transform="rotate(-73 61.8 31.2)"/>
<ellipse cx="63.5" cy="76.0" rx="1.5" ry="0.8" fill="#4040ff" transform="rotate(-58 63.5 76.0)"/>
<ellipse cx="24.1" cy="1.0" rx="2.1" ry="1.0" fill="#4040ff" transform="rotate(-68 24.1 1.0)"/>
<ellipse cx="6.1" cy="6.1" rx="2.0" ry="1.2" fill="#2a2af0" transform="rotate(-55 6.1 6.1)"/>
<ellipse cx="7.3" cy="70.3" rx="1.7" ry="1.2" fill="#3030d8" transform="rotate(-44 7.3 70.3)"/>
<ellipse cx="64.0" cy="33.5" rx="1.6" ry="1.3" fill="#4040ff" transform="rotate(89 64.0 33.5)"/>
<ellipse cx="67.4" cy="5.3" rx="1.9" ry="0.8" fill="#3030d8" transform="rotate(177 67.4 5.3)"/>
<ellipse cx="71.5" cy="69.4" rx="2.1" ry="1.2" fill="#4040ff" transform="rotate(115 71.5 69.4)"/>
<ellipse cx="29.8" cy="-0.1" rx="1.3" ry="1.3" fill="#2a2af0" transform="rotate(44 29.8 -0.1)"/>
<ellipse cx="83.2" cy="31.8" rx="1.4" ry="0.9" fill="#2020e0" transform="rotate(-68 83.2 31.8)"/>
<ellipse cx="39.1" cy="62.9" rx="1.5" ry="0.9" fill="#1c1cc8" transform="rotate(164 39.1 62.9)"/>
<ellipse cx="0.5" cy="41.0" rx="2.1" ry="1.0" fill="#4040ff" transform="rotate(-66 0.5 41.0)"/>
<ellipse cx="19.0" cy="61.7" rx="1.9" ry="0.9" fill="#2a2af0" transform="rotate(-69 19.0 61.7)"/>
<ellipse cx="76.4" cy="80.9" rx="1.9" ry="1.3" fill="#1c1cc8" transform="rotate(-46 76.4 80.9)"/>
<ellipse cx="74.4" cy="78.9" rx="1.6" ry="1.1" fill="#2a2af0" transform="rotate(87 74.4 78.9)"/>
<ellipse cx="33.0" cy="18.0" rx="1.3" ry="1.2" fill="#3030d8" transform="rotate(143 33.0 18.0)"/>
<ellipse cx="66.0" cy="4.1" rx="2.2" ry="1.2" fill="#1c1cc8" transform="rotate(163 66.0 4.1)"/>
<ellipse cx="66.7" cy="61.3" rx="1.9" ry="0.9" fill="#3030d8" transform="rotate(-67 66.7 61.3)"/>
<ellipse cx="76.2" cy="69.8" rx="1.3" ry="1.2" fill="#2020e0" transform="rotate(-59 76.2 69.8)"/>
<ellipse cx="11.8" cy="66.3" rx="1.2" ry="1.2" fill="#2020e0" transform="rotate(148 11.8 66.3)"/>
<ellipse cx="28.9" cy="52.7" rx="1.8" ry="1.2" fill="#4040ff" transform="rotate(15 28.9 52.7)"/>
<ellipse cx="45.2" cy="43.2" rx="1.2" ry="0.9" fill="#1c1cc8" transform="rotate(-53 45.2 43.2)"/>
<ellipse cx="16.7" cy="46.5" rx="1.8" ry="0.9" fill="#3030d8" transform="rotate(56 16.7 46.5)"/>
<ellipse cx="33.5" cy="47.6" rx="2.3" ry="1.1" fill="#2a2af0" transform="rotate(-77 33.5 47.6)"/>
<ellipse cx="8.0" cy="33.5" rx="1.7" ry="1.3" fill="#2020e0" transform="rotate(118 8.0 33.5)"/>
<ellipse cx="72.4" cy="61.2" rx="1.7" ry="0.9" fill="#2a2af0" transform="rotate(-49 72.4 61.2)"/>
<ellipse cx="75.6" cy="12.3" rx="1.9" ry="1.3" fill="#1c1cc8" transform="rotate(172 75.6 12.3)"/>
<ellipse cx="46.2" cy="6.6" rx="1.4" ry="1.0" fill="#3030d8" transform="rotate(-68 46.2 6.6)"/>
<ellipse cx="46.8" cy="62.3" rx="1.6" ry="1.2" fill="#2020e0" transform="rotate(-74 46.8 62.3)"/>
<ellipse cx="10.2" cy="54.1" rx="1.4" ry="0.9" fill="#2020e0" transform="rotate(-61 10.2 54.1)"/>
<ellipse cx="7.5" cy="1.8" rx="2.3" ry="1.0" fill="#1c1cc8" transform="rotate(61 7.5 1.8)"/>
<ellipse cx="77.8" cy="11.2" rx="1.4" ry="0.9" fill="#1c1cc8" transform="rotate(87 77.8 11.2)"/>
<ellipse cx="52.0" cy="62.5" rx="1.9" ry="1.0" fill="#4040ff" transform="rotate(44 52.0 62.5)"/>
<ellipse cx="44.0" cy="21.8" rx="1.4" ry="1.0" fill="#2a2af0" transform="rotate(-58 44.0 21.8)"/>
<ellipse cx="42.3" cy="67.9" rx="2.1" ry="1.1" fill="#3030d8" transform="rotate(-49 42.3 67.9)"/>
<ellipse cx="45.6" cy="29.8" rx="1.8" ry="0.9" fill="#4040ff" transform="rotate(178 45.6 29.8)"/>
<ellipse cx="83.9" cy="60.8" rx="2.2" ry="1.1" fill="#2020e0" transform="rotate(-54 83.9 60.8)"/>
<ellipse cx="10.6" cy="40.8" rx="1.7" ry="1.0" fill="#3030d8" transform="rotate(-45 10.6 40.8)"/>
<ellipse cx="38.4" cy="9.8" rx="2.3" ry="0.9" fill="#4040ff" transform="rotate(98 38.4 9.8)"/>
<ellipse cx="4.4" cy="79.0" rx="1.4" ry="1.2" fill="#2a2af0" transform="rotate(60 4.4 79.0)"/>
<ellipse cx="9.4" cy="71.1" rx="1.5" ry="1.2" fill="#2a2af0" transform="rotate(-57 9.4 71.1)"/>
<ellipse cx="14.8" cy="46.9" rx="1.3" ry="0.8" fill="#2a2af0" transform="rotate(-41 14.8 46.9)"/>
<ellipse cx="25.2" cy="57.7" rx="2.0" ry="1.0" fill="#2020e0" transform="rotate(-48 25.2 57.7)"/>
<ellipse cx="12.5" cy="35.0" rx="1.2" ry="1.1" fill="#3030d8" transform="rotate(-64 12.5 35.0)"/>
<ellipse cx="43.2" cy="22.0" rx="1.8" ry="1.0" fill="#2a2af0" transform="rotate(-78 43.2 22.0)"/>
<ellipse cx="33.3" cy="42.5" rx="1.3" ry="1.0" fill="#4040ff" transform="rotate(164 33.3 42.5)"/>
<ellipse cx="63.4" cy="64.7" rx="1.7" ry="1.3" fill="#1c1cc8" transform="rotate(154 63.4 64.7)"/>
<ellipse cx="69.1" cy="9.3" rx="1.3" ry="1.3" fill="#1c1cc8" transform="rotate(-59 69.1 9.3)"/>
<ellipse cx="75.9" cy="27.0" rx="1.3" ry="1.2" fill="#4040ff" transform="rotate(132 75.9 27.0)"/>
<ellipse cx="26.4" cy="68.0" rx="2.2" ry="1.2" fill="#2a2af0" transform="rotate(-46 26.4 68.0)"/>
<ellipse cx="41.7" cy="33.7" rx="1.3" ry="1.1" fill="#3030d8" transform="rotate(-70 41.7 33.7)"/>
<ellipse cx="54.8" cy="81.2" rx="2.2" ry="1.3" fill="#3030d8" transform="rotate(157 54.8 81.2)"/>
<ellipse cx="72.7" cy="35.8" rx="2.1" ry="0.9" fill="#2020e0" transform="rotate(102 72.7 35.8)"/>
<ellipse cx="7.4" cy="68.3" rx="1.3" ry="1.1" fill="#2a2af0" transform="rotate(0 7.4 68.3)"/>
<ellipse cx="60.9" cy="1.1" rx="1.4" ry="1.0" fill="#2a2af0" transform="rotate(-59 60.9 1.1)"/>
<ellipse cx="29.3" cy="50.2" rx="1.3" ry="0.8" fill="#1c1cc8" transform="rotate(55 29.3 50.2)"/>
<ellipse cx="11.2" cy="66.9" rx="2.1" ry="1.2" fill="#2020e0" transform="rotate(-46 11.2 66.9)"/>
<ellipse cx="15.6" cy="72.2" rx="1.6" ry="1.0" fill="#4040ff" transform="rotate(-45 15.6 72.2)"/>
<ellipse cx="16.2" cy="54.3" rx="1.4" ry="1.2" fill="#3030d8" transform="rotate(-76 16.2 54.3)"/>
<ellipse cx="80.7" cy="22.9" rx="1.7" ry="1.2" fill="#1c1cc8" transform="rotate(-42 80.7 22.9)"/>
<ellipse cx="34.3" cy="13.8" rx="2.1" ry="0.9" fill="#2a2af0" transform="rotate(48 34.3 13.8)"/>
<ellipse cx="41.6" cy="24.8" rx="1.5" ry="1.2" fill="#4040ff" transform="rotate(-75 41.6 24.8)"/>
<ellipse cx="18.5" cy="25.3" rx="2.2" ry="1.1" fill="#2020e0" transform="rotate(-54 18.5 25.3)"/>
<ellipse cx="38.3" cy="5.7" rx="2.2" ry="0.8" fill="#4040ff" transform="rotate(1 38.3 5.7)"/>
<ellipse cx="23.2" cy="20.9" rx="2.1" ry="0.8" fill="#2a2af0" transform="rotate(-50 23.2 20.9)"/>
<ellipse cx="14.2" cy="63.2" rx="1.2" ry="1.2" fill="#4040ff" transform="rotate(-44 14.2 63.2)"/>
<ellipse cx="38.2" cy="64.6" rx="1.6" ry="1.3" fill="#4040ff" transform="rotate(-73 38.2 64.6)"/>
<ellipse cx="65.0" cy="78.5" rx="1.6" ry="1.0" fill="#4040ff" transform="rotate(-68 65.0 78.5)"/>
<ellipse cx="62.3" cy="45.5" rx="1.9" ry="1.2" fill="#1c1cc8" transform="rotate(-63 62.3 45.5)"/>
<ellipse cx="45.6" cy="21.4" rx="2.0" ry="1.2" fill="#4040ff" transform="rotate(-58 45.6 21.4)"/>
<ellipse cx="50.3" cy="21.8" rx="1.4" ry="1.3" fill="#2a2af0" transform="rotate(-62 50.3 21.8)"/>
<ellipse cx="26.6" cy="52.2" rx="1.9" ry="1.2" fill="#2020e0" transform="rotate(-51 26.6 52.2)"/>
<ellipse cx="5.2" cy="78.3" rx="1.8" ry="1.1" fill="#2a2af0" transform="rotate(43 5.2 78.3)"/>
<ellipse cx="3.6" cy="36.2" rx="2.0" ry="1.2" fill="#4040ff" transform="rotate(141 3.6 36.2)"/>
<ellipse cx="41.4" cy="55.8" rx="1.8" ry="1.0" fill="#4040ff" transform="rotate(-60 41.4 55.8)"/>
<ellipse cx="65.9" cy="4.3" rx="1.7" ry="1.0" fill="#2020e0" transform="rotate(-41 65.9 4.3)"/>
<ellipse cx="9.9" cy="65.0" rx="1.9" ry="0.9" fill="#2020e0" transform="rotate(94 9.9 65.0)"/>
<ellipse cx="-0.7" cy="34.8" rx="1.8" ry="0.8" fill="#2020e0" transform="rotate(-61 -0.7 34.8)"/>
<ellipse cx="81.6" cy="58.4" rx="2.0" ry="1.3" fill="#2020e0" transform="rotate(-68 81.6 58.4)"/>
<ellipse cx="45.9" cy="20.1" rx="1.7" ry="1.3" fill="#4040ff" transform="rotate(-67 45.9 20.1)"/>
<ellipse cx="17.6" cy="13.0" rx="1.8" ry="1.3" fill="#4040ff" transform="rotate(102 17.6 13.0)"/>
<ellipse cx="77.5" cy="14.5" rx="2.1" ry="1.3" fill="#2020e0" transform="rotate(-65 77.5 14.5)"/>
<ellipse cx="17.3" cy="29.4" rx="1.4" ry="1.1" fill="#2a2af0" transform="rotate(-72 17.3 29.4)"/>
<ellipse cx="49.5" cy="65.4" rx="1.7" ry="1.0" fill="#1c1cc8" transform="rotate(-73 49.5 65.4)"/>
<ellipse cx="16.4" cy="32.5" rx="1.3" ry="1.1" fill="#2020e0" transform="rotate(-69 16.4 32.5)"/>
<ellipse cx="43.1" cy="63.8" rx="1.8" ry="1.1" fill="#2020e0" transform="rotate(-71 43.1 63.8)"/>
<ellipse cx="29.7" cy="12.4" rx="2.2" ry="1.0" fill="#2020e0" transform="rotate(130 29.7 12.4)"/>
<ellipse cx="0.7" cy="27.2" rx="1.6" ry="0.8" fill="#4040ff" transform="rotate(59 0.7 27.2)"/>
<ellipse cx="55.9" cy="25.4" rx="1.9" ry="1.0" fill="#2a2af0" transform="rotate(-59 55.9 25.4)"/>
<ellipse cx="1.7" cy="26.3" rx="1.7" ry="1.1" fill="#3030d8" transform="rotate(-52 1.7 26.3)"/>
<ellipse cx="25.7" cy="38.5" rx="1.6" ry="1.2" fill="#1c1cc8" transform="rotate(96 25.7 38.5)"/>
<ellipse cx="33.5" cy="32.8" rx="2.2" ry="0.9" fill="#2a2af0" transform="rotate(-66 33.5 32.8)"/>
<ellipse cx="10.9" cy="73.1" rx="2.0" ry="1.0" fill="#3030d8" transform="rotate(-50 10.9 73.1)"/>
<ellipse cx="55.1" cy="4.8" rx="2.1" ry="1.1" fill="#3030d8" transform="rotate(-75 55.1 4.8)"/>
<ellipse cx="18.9" cy="54.3" rx="1.3" ry="1.0" fill="#1c1cc8" transform="rotate(-78 18.9 54.3)"/>
<ellipse cx="78.1" cy="23.9" rx="2.0" ry="0.9" fill="#2a2af0" transform="rotate(36 78.1 23.9)"/>
<ellipse cx="28.8" cy="61.3" rx="1.8" ry="1.2" fill="#1c1cc8" transform="rotate(145 28.8 61.3)"/>
<ellipse cx="48.5" cy="60.3" rx="1.8" ry="1.2" fill="#3030d8" transform="rotate(-64 48.5 60.3)"/>
<ellipse cx="76.3" cy="78.7" rx="1.5" ry="1.0" fill="#3030d8" transform="rotate(54 76.3 78.7)"/>
<ellipse cx="74.3" cy="5.3" rx="1.2" ry="1.0" fill="#2a2af0" transform="rotate(-68 74.3 5.3)"/>
<ellipse cx="53.6" cy="32.6" rx="1.6" ry="1.2" fill="#2a2af0" transform="rotate(-52 53.6 32.6)"/>
<ellipse cx="64.6" cy="53.8" rx="1.9" ry="1.0" fill="#1c1cc8" transform="rotate(-69 64.6 53.8)"/>
<ellipse cx="73.8" cy="32.4" rx="2.2" ry="0.8" fill="#3030d8" transform="rotate(-60 73.8 32.4)"/>
<ellipse cx="41.1" cy="40.3" rx="1.2" ry="1.1" fill="#2a2af0" transform="rotate(-70 41.1 40.3)"/>
<ellipse cx="18.9" cy="-0.9" rx="1.8" ry="1.0" fill="#4040ff" transform="rotate(-60 18.9 -0.9)"/>
<ellipse cx="5.7" cy="71.0" rx="2.2" ry="1.1" fill="#2020e0" transform="rotate(48 5.7 71.0)"/>
<ellipse cx="74.3" cy="26.4" rx="2.0" ry="1.1" fill="#2a2af0" transform="rotate(174 74.3 26.4)"/>
<ellipse cx="12.6" cy="53.3" rx="1.7" ry="1.1" fill="#4040ff" transform="rotate(-69 12.6 53.3)"/>
<ellipse cx="41.4" cy="55.5" rx="1.6" ry="1.2" fill="#2020e0" transform="rotate(133 41.4 55.5)"/>
<ellipse cx="83.1" cy="70.5" rx="2.2" ry="1.0" fill="#1c1cc8" transform="rotate(92 83.1 70.5)"/>
<ellipse cx="2.4" cy="53.3" rx="1.7" ry="1.0" fill="#1c1cc8" transform="rotate(-64 2.4 53.3)"/>
<ellipse cx="20.5" cy="54.5" rx="1.6" ry="1.1" fill="#2a2af0" transform="rotate(-46 20.5 54.5)"/>
<ellipse cx="70.6" cy="71.4" rx="1.8" ry="1.0" fill="#3030d8" transform="rotate(112 70.6 71.4)"/>
<ellipse cx="67.1" cy="9.9" rx="1.6" ry="1.1" fill="#2020e0" transform="rotate(-73 67.1 9.9)"/>
<ellipse cx="39.1" cy="59.6" rx="2.1" ry="1.3" fill="#3030d8" transform="rotate(-69 39.1 59.6)"/>
<ellipse cx="52.7" cy="33.7" rx="2.2" ry="1.3" fill="#2020e0" transform="rotate(-51 52.7 33.7)"/>
<ellipse cx="73.0" cy="15.9" rx="1.6" ry="1.1" fill="#2020e0" transform="rotate(73 73.0 15.9)"/>
<ellipse cx="69.8" cy="73.8" rx="1.4" ry="0.8" fill="#3030d8" transform="rotate(-45 69.8 73.8)"/>
<ellipse cx="18.0" cy="62.1" rx="1.6" ry="0.9" fill="#2a2af0" transform="rotate(-53 18.0 62.1)"/>
<ellipse cx="45.4" cy="68.9" rx="1.4" ry="0.9" fill="#3030d8" transform="rotate(-43 45.4 68.9)"/>
<ellipse cx="73.8" cy="36.8" rx="1.4" ry="1.2" fill="#3030d8" transform="rotate(-57 73.8 36.8)"/>
<ellipse cx="52.1" cy="22.9" rx="1.5" ry="1.0" fill="#2020e0" transform="rotate(-70 52.1 22.9)"/>
<ellipse cx="11.9" cy="-0.4" rx="2.0" ry="1.1" fill="#2a2af0" transform="rotate(-67 11.9 -0.4)"/>
<ellipse cx="83.8" cy="16.7" rx="2.2" ry="1.0" fill="#1c1cc8" transform="rotate(-48 83.8 16.7)"/>
<ellipse cx="46.4" cy="17.8" rx="1.9" ry="1.2" fill="#3030d8" transform="rotate(-72 46.4 17.8)"/>
<ellipse cx="72.5" cy="85.9" rx="1.7" ry="1.2" fill="#2020e0" transform="rotate(32 72.5 85.9)"/>
<ellipse cx="79.3" cy="46.1" rx="1.9" ry="0.9" fill="#2020e0" transform="rotate(-58 79.3 46.1)"/>
<ellipse cx="42.7" cy="-0.1" rx="1.4" ry="1.3" fill="#2a2af0" transform="rotate(-59 42.7 -0.1)"/>
<ellipse cx="66.3" cy="63.3" rx="1.6" ry="1.2" fill="#2020e0" transform="rotate(138 66.3 63.3)"/>
<ellipse cx="78.6" cy="41.1" rx="2.1" ry="1.0" fill="#2020e0" transform="rotate(112 78.6 41.1)"/>
<ellipse cx="48.0" cy="18.9" rx="1.6" ry="1.0" fill="#3030d8" transform="rotate(146 48.0 18.9)"/>
<ellipse cx="52.3" cy="38.3" rx="1.5" ry="0.8" fill="#3030d8" transform="rotate(107 52.3 38.3)"/>
<ellipse cx="27.5" cy="63.8" rx="1.4" ry="1.2" fill="#2a2af0" transform="rotate(-53 27.5 63.8)"/>
<ellipse cx="28.5" cy="12.6" rx="1.6" ry="0.9" fill="#2020e0" transform="rotate(-64 28.5 12.6)"/>
<ellipse cx="33.3" cy="27.1" rx="1.8" ry="1.3" fill="#3030d8" transform="rotate(-45 33.3 27.1)"/>
<ellipse cx="4.7" cy="50.5" rx="1.8" ry="1.0" fill="#1c1cc8" transform="rotate(-42 4.7 50.5)"/>
<ellipse cx="33.7" cy="60.7" rx="1.4" ry="0.9" fill="#3030d8" transform="rotate(171 33.7 60.7)"/>
<ellipse cx="73.9" cy="67.0" rx="1.8" ry="0.8" fill="#2020e0" transform="rotate(119 73.9 67.0)"/>
<ellipse cx="17.0" cy="52.9" rx="2.2" ry="1.2" fill="#4040ff" transform="rotate(-60 17.0 52.9)"/>
<ellipse cx="77.6" cy="9.6" rx="2.0" ry="1.2" fill="#1c1cc8" transform="rotate(-61 77.6 9.6)"/>
<ellipse cx="41.6" cy="31.8" rx="1.8" ry="0.8" fill="#1c1cc8" transform="rotate(95 41.6 31.8)"/>
<ellipse cx="37.0" cy="50.9" rx="1.9" ry="1.3" fill="#3030d8" transform="rotate(-61 37.0 50.9)"/>
<ellipse cx="61.7" cy="26.4" rx="2.0" ry="1.3" fill="#2a2af0" transform="rotate(-45 61.7 26.4)"/>
<ellipse cx="63.0" cy="77.4" rx="1.3" ry="0.9" fill="#2a2af0" transform="rotate(142 63.0 77.4)"/>
<ellipse cx="69.5" cy="68.7" rx="1.8" ry="1.3" fill="#3030d8" transform="rotate(-45 69.5 68.7)"/>
<ellipse cx="20.3" cy="69.5" rx="1.7" ry="1.1" fill="#3030d8" transform="rotate(35 20.3 69.5)"/>
<ellipse cx="80.7" cy="19.8" rx="1.3" ry="1.0" fill="#2020e0" transform="rotate(158 80.7 19.8)"/>
<ellipse cx="67.0" cy="73.7" rx="2.0" ry="1.1" fill="#2a2af0" transform="rotate(143 67.0 73.7)"/>
<ellipse cx="68.0" cy="14.6" rx="1.6" ry="1.3" fill="#3030d8" transform="rotate(40 68.0 14.6)"/>
<ellipse cx="9.0" cy="14.9" rx="1.6" ry="1.2" fill="#2020e0" transform="rotate(-44 9.0 14.9)"/>
<ellipse cx="6.5" cy="55.7" rx="1.8" ry="1.0" fill="#4040ff" transform="rotate(175 6.5 55.7)"/>
<ellipse cx="55.8" cy="36.6" rx="1.2" ry="1.0" fill="#3030d8" transform="rotate(-55 55.8 36.6)"/>
<ellipse cx="55.0" cy="17.2" rx="1.4" ry="1.2" fill="#2020e0" transform="rotate(-57 55.0 17.2)"/>
<ellipse cx="10.0" cy="9.1" rx="2.2" ry="1.1" fill="#2020e0" transform="rotate(-72 10.0 9.1)"/>
<ellipse cx="57.8" cy="63.3" rx="1.6" ry="1.0" fill="#3030d8" transform="rotate(-74 57.8 63.3)"/>
<ellipse cx="35.1" cy="70.7" rx="1.6" ry="1.0" fill="#3030d8" transform="rotate(-42 35.1 70.7)"/>
<ellipse cx="42.7" cy="35.5" rx="1.7" ry="0.9" fill="#2020e0" transform="rotate(-45 42.7 35.5)"/>
<ellipse cx="56.5" cy="38.8" rx="2.2" ry="1.0" fill="#1c1cc8" transform="rotate(108 56.5 38.8)"/>
<ellipse cx="53.4" cy="31.1" rx="1.6" ry="1.1" fill="#2020e0" transform="rotate(48 53.4 31.1)"/>
<ellipse cx="56.1" cy="20.4" rx="1.7" ry="0.9" fill="#1c1cc8" transform="rotate(45 56.1 20.4)"/>
<ellipse cx="22.7" cy="7.9" rx="2.2" ry="1.2" fill="#1c1cc8" transform="rotate(-54 22.7 7.9)"/>
<ellipse cx="75.2" cy="6.7" rx="1.6" ry="1.0" fill="#3030d8" transform="rotate(120 75.2 6.7)"/>
<ellipse cx="83.1" cy="70.3" rx="2.2" ry="1.1" fill="#2a2af0" transform="rotate(-77 83.1 70.3)"/>
<ellipse cx="38.5" cy="26.6" rx="1.9" ry="1.1" fill="#1c1cc8" transform="rotate(176 38.5 26.6)"/>
<ellipse cx="35.8" cy="19.1" rx="1.8" ry="0.9" fill="#1c1cc8" transform="rotate(-40 35.8 19.1)"/>
<ellipse cx="66.2" cy="80.5" rx="1.8" ry="1.1" fill="#4040ff" transform="rotate(-47 66.2 80.5)"/>
<ellipse cx="32.5" cy="63.8" rx="1.3" ry="0.9" fill="#3030d8" transform="rotate(-55 32.5 63.8)"/>
<ellipse cx="55.4" cy="83.8" rx="1.7" ry="1.2" fill="#3030d8" transform="rotate(-74 55.4 83.8)"/>
<ellipse cx="72.1" cy="81.6" rx="2.2" ry="0.8" fill="#4040ff" transform="rotate(-59 72.1 81.6)"/>
<ellipse cx="81.8" cy="66.8" rx="1.3" ry="1.3" fill="#2a2af0" transform="rotate(-77 81.8 66.8)"/>
<ellipse cx="10.0" cy="6.7" rx="1.8" ry="0.9" fill="#1c1cc8" transform="rotate(44 10.0 6.7)"/>
<ellipse cx="38.6" cy="85.5" rx="1.8" ry="0.9" fill="#2020e0" transform="rotate(-74 38.6 85.5)"/>
<ellipse cx="67.8" cy="43.0" rx="1.4" ry="1.1" fill="#2020e0" transform="rotate(-55 67.8 43.0)"/>
<ellipse cx="34.1" cy="-0.1" rx="1.4" ry="1.2" fill="#2a2af0" transform="rotate(128 34.1 -0.1)"/>
<ellipse cx="24.0" cy="53.1" rx="1.6" ry="1.0" fill="#2020e0" transform="rotate(98 24.0 53.1)"/>
<ellipse cx="32.1" cy="25.2" rx="1.4" ry="1.1" fill="#1c1cc8" transform="rotate(75 32.1 25.2)"/>
<ellipse cx="16.3" cy="85.8" rx="1.8" ry="0.9" fill="#2020e0" transform="rotate(167 16.3 85.8)"/>
<ellipse cx="32.5" cy="25.2" rx="2.0" ry="0.9" fill="#1c1cc8" transform="rotate(-63 32.5 25.2)"/>
<ellipse cx="31.7" cy="55.7" rx="1.6" ry="0.9" fill="#2a2af0" transform="rotate(-59 31.7 55.7)"/>
<ellipse cx="43.9" cy="46.9" rx="1.6" ry="0.9" fill="#3030d8" transform="rotate(-65 43.9 46.9)"/>
<ellipse cx="29.6" cy="82.1" rx="1.8" ry="1.1" fill="#4040ff" transform="rotate(67 29.6 82.1)"/>
<ellipse cx="81.1" cy="-0.4" rx="1.9" ry="1.3" fill="#3030d8" transform="rotate(-56 81.1 -0.4)"/>
<ellipse cx="70.4" cy="17.3" rx="2.0" ry="0.8" fill="#3030d8" transform="rotate(-75 70.4 17.3)"/>
<ellipse cx="3.5" cy="7.1" rx="1.5" ry="0.9" fill="#3030d8" transform="rotate(77 3.5 7.1)"/>
<ellipse cx="33.2" cy="24.0" rx="1.9" ry="0.8" fill="#3030d8" transform="rotate(150 33.2 24.0)"/>
<ellipse cx="1.8" cy="12.1" rx="1.4" ry="0.9" fill="#1c1cc8" transform="rotate(-40 1.8 12.1)"/>
<ellipse cx="3.1" cy="53.6" rx="1.8" ry="1.3" fill="#2a2af0" transform="rotate(-79 3.1 53.6)"/>
<ellipse cx="48.3" cy="-0.5" rx="2.0" ry="1.0" fill="#2020e0" transform="rotate(177 48.3 -0.5)"/>
<ellipse cx="13.7" cy="6.3" rx="2.0" ry="0.9" fill="#2020e0" transform="rotate(122 13.7 6.3)"/>
<ellipse cx="36.8" cy="77.4" rx="2.0" ry="1.2" fill="#4040ff" transform="rotate(64 36.8 77.4)"/>
<ellipse cx="59.5" cy="60.4" rx="1.6" ry="1.1" fill="#2a2af0" transform="rotate(20 59.5 60.4)"/>
<ellipse cx="7.2" cy="27.3" rx="1.4" ry="1.3" fill="#1c1cc8" transform="rotate(-69 7.2 27.3)"/>
<ellipse cx="1.7" cy="36.8" rx="1.6" ry="1.1" fill="#1c1cc8" transform="rotate(89 1.7 36.8)"/>
<ellipse cx="42.5" cy="41.1" rx="1.8" ry="1.2" fill="#2020e0" transform="rotate(58 42.5 41.1)"/>
<ellipse cx="28.4" cy="13.3" rx="1.6" ry="1.1" fill="#4040ff" transform="rotate(-64 28.4 13.3)"/>
<ellipse cx="49.0" cy="39.4" rx="2.0" ry="0.9" fill="#2020e0" transform="rotate(71 49.0 39.4)"/>
<ellipse cx="58.3" cy="19.4" rx="1.5" ry="1.2" fill="#2020e0" transform="rotate(-70 58.3 19.4)"/>
<ellipse cx="67.2" cy="21.3" rx="1.5" ry="0.9" fill="#2a2af0" transform="rotate(12 67.2 21.3)"/>
<ellipse cx="81.9" cy="78.5" rx="1.7" ry="1.0" fill="#2020e0" transform="rotate(-50 81.9 78.5)"/>
<ellipse cx="56.8" cy="42.8" rx="1.4" ry="1.3" fill="#1c1cc8" transform="rotate(-74 56.8 42.8)"/>
<ellipse cx="27.3" cy="12.2" rx="2.2" ry="1.2" fill="#2a2af0" transform="rotate(18 27.3 12.2)"/>
<ellipse cx="17.6" cy="16.4" rx="1.8" ry="1.1" fill="#4040ff" transform="rotate(-49 17.6 16.4)"/>
<ellipse cx="13.3" cy="86.1" rx="1.6" ry="1.0" fill="#3030d8" transform="rotate(-48 13.3 86.1)"/>
<ellipse cx="50.7" cy="71.6" rx="2.3" ry="0.9" fill="#3030d8" transform="rotate(-73 50.7 71.6)"/>
<ellipse cx="55.8" cy="24.0" rx="1.8" ry="0.9" fill="#3030d8" transform="rotate(-79 55.8 24.0)"/>
<ellipse cx="79.2" cy="12.3" rx="1.6" ry="1.2" fill="#2020e0" transform="rotate(-75 79.2 12.3)"/>
<ellipse cx="45.2" cy="63.1" rx="1.8" ry="1.1" fill="#3030d8" transform="rotate(140 45.2 63.1)"/>
<ellipse cx="25.0" cy="36.3" rx="2.1" ry="1.1" fill="#3030d8" transform="rotate(-61 25.0 36.3)"/>
<ellipse cx="28.4" cy="17.9" rx="1.9" ry="0.9" fill="#2020e0" transform="rotate(159 28.4 17.9)"/>
<ellipse cx="79.7" cy="8.6" rx="2.2" ry="1.1" fill="#2020e0" transform="rotate(-44 79.7 8.6)"/>
<ellipse cx="78.3" cy="83.0" rx="1.4" ry="1.0" fill="#2020e0" transform="rotate(-74 78.3 83.0)"/>
<ellipse cx="11.0" cy="35.1" rx="1.4" ry="1.3" fill="#4040ff" transform="rotate(175 11.0 35.1)"/>
<ellipse cx="45.1" cy="37.2" rx="1.9" ry="0.8" fill="#2a2af0" transform="rotate(110 45.1 37.2)"/>
<ellipse cx="73.8" cy="7.9" rx="1.4" ry="0.9" fill="#4040ff" transform="rotate(5 73.8 7.9)"/>
<ellipse cx="6.6" cy="77.6" rx="1.5" ry="0.9" fill="#4040ff" transform="rotate(-74 6.6 77.6)"/>
<ellipse cx="79.7" cy="79.9" rx="2.1" ry="1.3" fill="#4040ff" transform="rotate(-60 79.7 79.9)"/>
<ellipse cx="83.7" cy="48.9" rx="2.2" ry="1.0" fill="#2a2af0" transform="rotate(-49 83.7 48.9)"/>
<ellipse cx="80.6" cy="1.8" rx="1.3" ry="1.2" fill="#2020e0" transform="rotate(4 80.6 1.8)"/>
<ellipse cx="11.7" cy="15.3" rx="1.9" ry="1.2" fill="#2020e0" transform="rotate(121 11.7 15.3)"/>
<ellipse cx="-0.9" cy="4.9" rx="2.1" ry="1.3" fill="#3030d8" transform="rotate(73 -0.9 4.9)"/>
<ellipse cx="17.6" cy="33.3" rx="2.2" ry="0.9" fill="#3030d8" transform="rotate(-65 17.6 33.3)"/>
<ellipse cx="43.3" cy="29.8" rx="1.9" ry="1.3" fill="#2a2af0" transform="rotate(-72 43.3 29.8)"/>
<ellipse cx="20.5" cy="40.9" rx="2.1" ry="1.0" fill="#3030d8" transform="rotate(-54 20.5 40.9)"/>
<ellipse cx="49.6" cy="49.2" rx="1.8" ry="0.8" fill="#4040ff" transform="rotate(-77 49.6 49.2)"/>
<ellipse cx="27.0" cy="62.5" rx="1.9" ry="1.2" fill="#4040ff" transform="rotate(-77 27.0 62.5)"/>
<ellipse cx="19.8" cy="18.0" rx="1.7" ry="1.3" fill="#2020e0" transform="rotate(-66 19.8 18.0)"/>
<ellipse cx="83.2" cy="32.8" rx="1.3" ry="1.2" fill="#2a2af0" transform="rotate(61 83.2 32.8)"/>
<ellipse cx="31.3" cy="24.1" rx="1.9" ry="1.2" fill="#2020e0" transform="rotate(-47 31.3 24.1)"/>
<ellipse cx="3.4" cy="1.9" rx="2.2" ry="1.0" fill="#2a2af0" transform="rotate(-77 3.4 1.9)"/>
<ellipse cx="73.6" cy="82.9" rx="2.2" ry="1.0" fill="#3030d8" transform="rotate(26 73.6 82.9)"/>
<ellipse cx="79.4" cy="15.8" rx="1.3" ry="1.1" fill="#1c1cc8" transform="rotate(131 79.4 15.8)"/>
<ellipse cx="30.2" cy="62.5" rx="2.2" ry="0.9" fill="#3030d8" transform="rotate(177 30.2 62.5)"/>
<ellipse cx="56.5" cy="9.8" rx="1.6" ry="1.1" fill="#4040ff" transform="rotate(-59 56.5 9.8)"/>
<ellipse cx="36.6" cy="69.2" rx="1.5" ry="0.8" fill="#3030d8" transform="rotate(3 36.6 69.2)"/>
<ellipse cx="81.9" cy="80.6" rx="1.9" ry="0.9" fill="#2020e0" transform="rotate(115 81.9 80.6)"/>
<ellipse cx="24.0" cy="68.3" rx="2.3" ry="1.0" fill="#1c1cc8" transform="rotate(-46 24.0 68.3)"/>
<ellipse cx="2.3" cy="11.9" rx="1.7" ry="1.1" fill="#4040ff" transform="rotate(-57 2.3 11.9)"/>
<ellipse cx="3.4" cy="13.2" rx="1.4" ry="1.2" fill="#2a2af0" transform="rotate(-79 3.4 13.2)"/>
<ellipse cx="35.0" cy="83.0" rx="1.9" ry="0.8" fill="#2a2af0" transform="rotate(-66 35.0 83.0)"/>
<ellipse cx="24.9" cy="2.6" rx="1.5" ry="1.1" fill="#4040ff" transform="rotate(-61 24.9 2.6)"/>
<ellipse cx="62.1" cy="13.5" rx="1.4" ry="1.1" fill="#4040ff" transform="rotate(-63 62.1 13.5)"/>
<ellipse cx="38.1" cy="28.1" rx="2.2" ry="0.9" fill="#2a2af0" transform="rotate(154 38.1 28.1)"/>
<ellipse cx="38.8" cy="48.1" rx="2.2" ry="1.2" fill="#4040ff" transform="rotate(56 38.8 48.1)"/>
<ellipse cx="48.6" cy="12.8" rx="2.2" ry="0.9" fill="#3030d8" transform="rotate(-53 48.6 12.8)"/>
<ellipse cx="39.8" cy="8.8" rx="2.0" ry="1.2" fill="#1c1cc8" transform="rotate(123 39.8 8.8)"/>
<ellipse cx="33.1" cy="42.5" rx="2.1" ry="1.1" fill="#1c1cc8" transform="rotate(-67 33.1 42.5)"/>
<ellipse cx="4.2" cy="11.5" rx="1.2" ry="1.1" fill="#2020e0" transform="rotate(-69 4.2 11.5)"/>
<ellipse cx="18.9" cy="71.5" rx="2.1" ry="0.9" fill="#1c1cc8" transform="rotate(91 18.9 71.5)"/>
<ellipse cx="29.0" cy="4.1" rx="1.3" ry="1.2" fill="#4040ff" transform="rotate(-67 29.0 4.1)"/>
<ellipse cx="41.8" cy="80.0" rx="1.9" ry="1.1" fill="#2a2af0" transform="rotate(-68 41.8 80.0)"/>
<ellipse cx="57.2" cy="68.7" rx="2.0" ry="1.2" fill="#1c1cc8" transform="rotate(32 57.2 68.7)"/>
<ellipse cx="24.8" cy="20.3" rx="2.2" ry="0.8" fill="#4040ff" transform="rotate(-66 24.8 20.3)"/>
<ellipse cx="56.4" cy="33.9" rx="2.2" ry="1.2" fill="#3030d8" transform="rotate(29 56.4 33.9)"/>
<ellipse cx="82.5" cy="75.2" rx="1.5" ry="0.9" fill="#4040ff" transform="rotate(136 82.5 75.2)"/>
<ellipse cx="54.2" cy="64.5" rx="1.9" ry="1.0" fill="#2020e0" transform="rotate(-64 54.2 64.5)"/>
<ellipse cx="47.4" cy="81.5" rx="1.9" ry="1.0" fill="#2020e0" transform="rotate(-66 47.4 81.5)"/>
<ellipse cx="74.1" cy="42.7" rx="2.3" ry="0.9" fill="#2a2af0" transform="rotate(-75 74.1 42.7)"/>
<ellipse cx="42.8" cy="26.6" rx="1.5" ry="0.9" fill="#2020e0" transform="rotate(-53 42.8 26.6)"/>
<ellipse cx="27.1" cy="80.0" rx="2.2" ry="0.9" fill="#1c1cc8" transform="rotate(111 27.1 80.0)"/>
<ellipse cx="64.8" cy="28.1" rx="1.5" ry="1.1" fill="#4040ff" transform="rotate(-79 64.8 28.1)"/>
<ellipse cx="3.3" cy="65.1" rx="1.8" ry="0.9" fill="#1c1cc8" transform="rotate(66 3.3 65.1)"/>
<ellipse cx="26.8" cy="5.1" rx="1.3" ry="1.0" fill="#4040ff" transform="rotate(-42 26.8 5.1)"/>
<ellipse cx="34.2" cy="34.6" rx="1.5" ry="1.0" fill="#1c1cc8" transform="rotate(22 34.2 34.6)"/>
<ellipse cx="39.5" cy="35.4" rx="1.9" ry="1.2" fill="#3030d8" transform="rotate(90 39.5 35.4)"/>
<ellipse cx="48.8" cy="35.7" rx="1.2" ry="0.8" fill="#4040ff" transform="rotate(-41 48.8 35.7)"/>
<ellipse cx="11.8" cy="47.2" rx="1.5" ry="1.2" fill="#2020e0" transform="rotate(57 11.8 47.2)"/>
<ellipse cx="59.0" cy="38.9" rx="1.7" ry="0.9" fill="#2020e0" transform="rotate(-42 59.0 38.9)"/>
<ellipse cx="45.8" cy="-0.8" rx="1.7" ry="1.1" fill="#1c1cc8" transform="rotate(179 45.8 -0.8)"/>
<ellipse cx="47.7" cy="64.0" rx="1.6" ry="1.1" fill="#2020e0" transform="rotate(111 47.7 64.0)"/>
<ellipse cx="6.4" cy="48.3" rx="1.5" ry="1.1" fill="#1c1cc8" transform="rotate(-65 6.4 48.3)"/>
<ellipse cx="61.1" cy="53.1" rx="1.4" ry="0.9" fill="#3030d8" transform="rotate(178 61.1 53.1)"/>
<ellipse cx="77.7" cy="54.8" rx="1.6" ry="0.8" fill="#4040ff" transform="rotate(130 77.7 54.8)"/>
<ellipse cx="33.9" cy="33.9" rx="2.2" ry="0.9" fill="#1c1cc8" transform="rotate(127 33.9 33.9)"/>
<ellipse cx="16.6" cy="56.9" rx="1.4" ry="1.0" fill="#3030d8" transform="rotate(-79 16.6 56.9)"/>
<ellipse cx="51.9" cy="6.8" rx="2.0" ry="1.1" fill="#4040ff" transform="rotate(-54 51.9 6.8)"/>
<ellipse cx="82.0" cy="67.7" rx="1.6" ry="1.1" fill="#4040ff" transform="rotate(53 82.0 67.7)"/>
<ellipse cx="79.7" cy="56.3" rx="1.9" ry="1.0" fill="#2020e0" transform="rotate(41 79.7 56.3)"/>
<ellipse cx="44.8" cy="84.6" rx="1.6" ry="1.2" fill="#1c1cc8" transform="rotate(-63 44.8 84.6)"/>
<ellipse cx="21.1" cy="52.6" rx="1.4" ry="1.0" fill="#1c1cc8" transform="rotate(35 21.1 52.6)"/>
<ellipse cx="4.1" cy="50.0" rx="2.1" ry="1.2" fill="#3030d8" transform="rotate(-56 4.1 50.0)"/>
<ellipse cx="62.5" cy="49.6" rx="1.5" ry="1.2" fill="#2020e0" transform="rotate(-58 62.5 49.6)"/>
<ellipse cx="10.6" cy="67.2" rx="1.6" ry="1.2" fill="#4040ff" transform="rotate(49 10.6 67.2)"/>
<ellipse cx="28.2" cy="82.3" rx="1.6" ry="1.3" fill="#1c1cc8" transform="rotate(89 28.2 82.3)"/>
<ellipse cx="23.6" cy="69.4" rx="1.7" ry="0.9" fill="#4040ff" transform="rotate(-62 23.6 69.4)"/>
<ellipse cx="46.4" cy="37.4" rx="1.2" ry="0.9" fill="#2020e0" transform="rotate(-78 46.4 37.4)"/>
<ellipse cx="24.5" cy="59.5" rx="2.0" ry="1.2" fill="#3030d8" transform="rotate(-69 24.5 59.5)"/>
<ellipse cx="48.2" cy="43.9" rx="1.8" ry="1.0" fill="#4040ff" transform="rotate(-48 48.2 43.9)"/>
<ellipse cx="20.2" cy="14.6" rx="1.3" ry="0.8" fill="#3030d8" transform="rotate(133 20.2 14.6)"/>
<ellipse cx="0.8" cy="4.0" rx="1.8" ry="1.1" fill="#4040ff" transform="rotate(-67 0.8 4.0)"/>
<ellipse cx="58.8" cy="60.1" rx="1.6" ry="1.2" fill="#3030d8" transform="rotate(-61 58.8 60.1)"/>
<ellipse cx="1.3" cy="79.2" rx="2.1" ry="0.9" fill="#4040ff" transform="rotate(-66 1.3 79.2)"/>
<ellipse cx="17.9" cy="53.2" rx="1.4" ry="1.3" fill="#1c1cc8" transform="rotate(-62 17.9 53.2)"/>
<ellipse cx="13.9" cy="14.9" rx="1.9" ry="1.2" fill="#3030d8" transform="rotate(-56 13.9 14.9)"/>
<ellipse cx="17.4" cy="76.1" rx="2.2" ry="0.9" fill="#2020e0" transform="rotate(-71 17.4 76.1)"/>
<ellipse cx="71.3" cy="64.2" rx="2.0" ry="1.1" fill="#3030d8" transform="rotate(4 71.3 64.2)"/>
<ellipse cx="2.8" cy="29.9" rx="2.3" ry="1.1" fill="#2020e0" transform="rotate(11 2.8 29.9)"/>
<ellipse cx="34.5" cy="78.4" rx="1.9" ry="1.1" fill="#3030d8" transform="rotate(-74 34.5 78.4)"/>
<ellipse cx="3.6" cy="67.1" rx="1.4" ry="0.8" fill="#3030d8" transform="rotate(-80 3.6 67.1)"/>
<ellipse cx="24.5" cy="0.3" rx="1.6" ry="1.0" fill="#2a2af0" transform="rotate(-73 24.5 0.3)"/>
<ellipse cx="70.9" cy="40.0" rx="1.8" ry="1.0" fill="#4040ff" transform="rotate(136 70.9 40.0)"/>
<ellipse cx="67.0" cy="37.8" rx="2.0" ry="0.9" fill="#3030d8" transform="rotate(65 67.0 37.8)"/>
<ellipse cx="38.8" cy="45.2" rx="1.8" ry="1.2" fill="#2020e0" transform="rotate(40 38.8 45.2)"/>
<ellipse cx="24.2" cy="33.2" rx="1.9" ry="0.8" fill="#3030d8" transform="rotate(-59 24.2 33.2)"/>
<ellipse cx="72.8" cy="72.1" rx="2.0" ry="1.1" fill="#1c1cc8" transform="rotate(82 72.8 72.1)"/>
<ellipse cx="41.6" cy="18.8" rx="1.8" ry="1.1" fill="#2020e0" transform="rotate(35 41.6 18.8)"/>
<ellipse cx="20.0" cy="83.9" rx="1.8" ry="1.1" fill="#4040ff" transform="rotate(-46 20.0 83.9)"/>
<ellipse cx="29.3" cy="82.5" rx="1.8" ry="0.9" fill="#2020e0" transform="rotate(144 29.3 82.5)"/>
<ellipse cx="37.1" cy="85.5" rx="2.2" ry="1.1" fill="#2a2af0" transform="rotate(-78 37.1 85.5)"/>
<ellipse cx="4.8" cy="64.1" rx="1.5" ry="1.0" fill="#3030d8" transform="rotate(117 4.8 64.1)"/>
<ellipse cx="83.1" cy="79.6" rx="1.9" ry="0.8" fill="#4040ff" transform="rotate(166 83.1 79.6)"/>
<ellipse cx="5.2" cy="65.6" rx="1.6" ry="1.3" fill="#2a2af0" transform="rotate(-76 5.2 65.6)"/>
<ellipse cx="21.3" cy="70.2" rx="2.0" ry="1.2" fill="#2a2af0" transform="rotate(-79 21.3 70.2)"/>
<ellipse cx="66.2" cy="54.4" rx="2.0" ry="1.2" fill="#3030d8" transform="rotate(-41 66.2 54.4)"/>
<ellipse cx="75.6" cy="63.8" rx="1.6" ry="0.9" fill="#4040ff" transform="rotate(-53 75.6 63.8)"/>
<ellipse cx="24.8" cy="75.8" rx="1.9" ry="1.0" fill="#2020e0" transform="rotate(-63 24.8 75.8)"/>
<ellipse cx="19.4" cy="23.4" rx="2.2" ry="1.1" fill="#2a2af0" transform="rotate(-73 19.4 23.4)"/>
<ellipse cx="31.4" cy="80.8" rx="1.9" ry="0.9" fill="#1c1cc8" transform="rotate(-54 31.4 80.8)"/>
<ellipse cx="78.5" cy="27.0" rx="1.2" ry="1.0" fill="#3030d8" transform="rotate(-75 78.5 27.0)"/>
<ellipse cx="3.1" cy="1.4" rx="2.3" ry="1.0" fill="#4040ff" transform="rotate(-74 3.1 1.4)"/>
<ellipse cx="53.7" cy="52.1" rx="1.4" ry="0.8" fill="#2a2af0" transform="rotate(116 53.7 52.1)"/>
<ellipse cx="37.1" cy="41.3" rx="1.2" ry="1.1" fill="#1c1cc8" transform="rotate(23 37.1 41.3)"/>
<ellipse cx="38.8" cy="72.8" rx="1.9" ry="1.2" fill="#2020e0" transform="rotate(130 38.8 72.8)"/>
<ellipse cx="28.8" cy="4.9" rx="1.5" ry="1.1" fill="#1c1cc8" transform="rotate(43 28.8 4.9)"/>
<ellipse cx="11.3" cy="61.3" rx="1.4" ry="1.0" fill="#4040ff" transform="rotate(145 11.3 61.3)"/>
<ellipse cx="8.6" cy="24.1" rx="1.4" ry="0.9" fill="#2a2af0" transform="rotate(-54 8.6 24.1)"/>
<ellipse cx="5.0" cy="71.2" rx="2.1" ry="1.0" fill="#2020e0" transform="rotate(-50 5.0 71.2)"/>
<ellipse cx="32.0" cy="40.5" rx="1.2" ry="1.1" fill="#2020e0" transform="rotate(-67 32.0 40.5)"/>
<ellipse cx="34.9" cy="67.9" rx="2.1" ry="0.9" fill="#2a2af0" transform="rotate(-53 34.9 67.9)"/>
<ellipse cx="31.6" cy="60.9" rx="1.6" ry="1.2" fill="#3030d8" transform="rotate(7 31.6 60.9)"/>
<ellipse cx="24.2" cy="20.4" rx="2.3" ry="0.8" fill="#1c1cc8" transform="rotate(116 24.2 20.4)"/>
<ellipse cx="72.5" cy="28.9" rx="1.5" ry="1.1" fill="#3030d8" transform="rotate(-63 72.5 28.9)"/>
<ellipse cx="49.2" cy="58.1" rx="1.8" ry="1.2" fill="#2a2af0" transform="rotate(50 49.2 58.1)"/>
<ellipse cx="70.3" cy="56.3" rx="2.3" ry="0.9" fill="#2a2af0" transform="rotate(-57 70.3 56.3)"/>
<ellipse cx="65.1" cy="56.3" rx="1.7" ry="1.1" fill="#1c1cc8" transform="rotate(-42 65.1 56.3)"/>
<ellipse cx="15.3" cy="38.1" rx="2.1" ry="1.3" fill="#4040ff" transform="rotate(-65 15.3 38.1)"/>
<ellipse cx="15.1" cy="73.2" rx="1.4" ry="1.1" fill="#2020e0" transform="rotate(-80 15.1 73.2)"/>
<ellipse cx="57.4" cy="53.8" rx="1.9" ry="1.0" fill="#1c1cc8" transform="rotate(-79 57.4 53.8)"/>
<ellipse cx="59.9" cy="19.3" rx="1.7" ry="1.2" fill="#1c1cc8" transform="rotate(168 59.9 19.3)"/>
<ellipse cx="21.8" cy="48.1" rx="1.5" ry="1.2" fill="#4040ff" transform="rotate(97 21.8 48.1)"/>
<ellipse cx="11.9" cy="67.4" rx="2.3" ry="0.9" fill="#2020e0" transform="rotate(-74 11.9 67.4)"/>
<ellipse cx="34.9" cy="72.8" rx="1.8" ry="0.9" fill="#2020e0" transform="rotate(65 34.9 72.8)"/>
<ellipse cx="30.4" cy="80.6" rx="1.4" ry="1.1" fill="#1c1cc8" transform="rotate(-70 30.4 80.6)"/>
<ellipse cx="71.8" cy="31.5" rx="1.3" ry="1.1" fill="#2020e0" transform="rotate(-71 71.8 31.5)"/>
<ellipse cx="48.8" cy="73.5" rx="1.4" ry="1.0" fill="#3030d8" transform="rotate(-52 48.8 73.5)"/>
<ellipse cx="77.1" cy="31.6" rx="1.9" ry="1.0" fill="#2a2af0" transform="rotate(-54 77.1 31.6)"/>
<ellipse cx="72.4" cy="58.2" rx="2.3" ry="0.9" fill="#1c1cc8" transform="rotate(114 72.4 58.2)"/>
<ellipse cx="17.0" cy="37.6" rx="2.1" ry="1.0" fill="#3030d8" transform="rotate(28 17.0 37.6)"/>
<ellipse cx="4.0" cy="10.5" rx="1.9" ry="1.1" fill="#3030d8" transform="rotate(143 4.0 10.5)"/>
<ellipse cx="5.3" cy="52.2" rx="1.7" ry="0.9" fill="#1c1cc8" transform="rotate(123 5.3 52.2)"/>
<ellipse cx="57.0" cy="73.7" rx="1.3" ry="0.9" fill="#2a2af0" transform="rotate(96 57.0 73.7)"/>
<ellipse cx="36.7" cy="48.7" rx="1.3" ry="0.9" fill="#3030d8" transform="rotate(-54 36.7 48.7)"/>
<ellipse cx="30.3" cy="76.6" rx="1.4" ry="0.8" fill="#2a2af0" transform="rotate(87 30.3 76.6)"/>
<ellipse cx="12.8" cy="8.9" rx="2.2" ry="1.2" fill="#3030d8" transform="rotate(-74 12.8 8.9)"/>
<ellipse cx="36.9" cy="51.9" rx="1.3" ry="1.3" fill="#2020e0" transform="rotate(-74 36.9 51.9)"/>
<ellipse cx="8.3" cy="2.2" rx="1.9" ry="1.0" fill="#2a2af0" transform="rotate(142 8.3 2.2)"/>
<ellipse cx="69.4" cy="78.6" rx="1.4" ry="1.0" fill="#2020e0" transform="rotate(-63 69.4 78.6)"/>
<ellipse cx="34.6" cy="12.7" rx="1.7" ry="0.9" fill="#2020e0" transform="rotate(-63 34.6 12.7)"/>
<ellipse cx="68.4" cy="19.9" rx="2.1" ry="1.1" fill="#2a2af0" transform="rotate(-69 68.4 19.9)"/>
<ellipse cx="45.9" cy="26.7" rx="1.4" ry="1.2" fill="#1c1cc8" transform="rotate(61 45.9 26.7)"/>
<ellipse cx="72.8" cy="80.9" rx="1.4" ry="0.8" fill="#2a2af0" transform="rotate(-71 72.8 80.9)"/>
<ellipse cx="69.2" cy="42.4" rx="1.9" ry="1.0" fill="#4040ff" transform="rotate(-73 69.2 42.4)"/>
<ellipse cx="50.5" cy="10.2" rx="2.0" ry="1.1" fill="#4040ff" transform="rotate(-49 50.5 10.2)"/>
<ellipse cx="66.4" cy="67.4" rx="1.7" ry="0.9" fill="#3030d8" transform="rotate(164 66.4 67.4)"/>
<ellipse cx="9.5" cy="20.9" rx="1.7" ry="1.1" fill="#2a2af0" transform="rotate(-52 9.5 20.9)"/>
<ellipse cx="70.7" cy="32.7" rx="1.9" ry="0.9" fill="#2a2af0" transform="rotate(-76 70.7 32.7)"/>
<ellipse cx="77.3" cy="25.5" rx="1.6" ry="0.9" fill="#2020e0" transform="rotate(-54 77.3 25.5)"/>
<ellipse cx="44.4" cy="67.0" rx="1.7" ry="0.8" fill="#2a2af0" transform="rotate(-52 44.4 67.0)"/>
<ellipse cx="67.0" cy="80.5" rx="2.1" ry="1.0" fill="#4040ff" transform="rotate(-72 67.0 80.5)"/>
<ellipse cx="67.2" cy="27.5" rx="1.4" ry="0.9" fill="#4040ff" transform="rotate(-48 67.2 27.5)"/>
<ellipse cx="46.1" cy="20.2" rx="1.7" ry="1.0" fill="#1c1cc8" transform="rotate(-59 46.1 20.2)"/>
<ellipse cx="29.1" cy="84.0" rx="1.6" ry="1.3" fill="#2a2af0" transform="rotate(103 29.1 84.0)"/>
<ellipse cx="28.1" cy="54.0" rx="1.4" ry="1.1" fill="#4040ff" transform="rotate(-73 28.1 54.0)"/>
<ellipse cx="12.3" cy="85.7" rx="1.8" ry="1.2" fill="#2020e0" transform="rotate(136 12.3 85.7)"/>
<ellipse cx="39.2" cy="67.0" rx="1.9" ry="0.9" fill="#4040ff" transform="rotate(-63 39.2 67.0)"/>
<ellipse cx="62.3" cy="77.3" rx="1.9" ry="1.2" fill="#2a2af0" transform="rotate(80 62.3 77.3)"/>
<ellipse cx="62.4" cy="74.3" rx="2.3" ry="1.2" fill="#2a2af0" transform="rotate(-74 62.4 74.3)"/>
<ellipse cx="47.0" cy="23.4" rx="2.1" ry="1.0" fill="#2020e0" transform="rotate(145 47.0 23.4)"/>
<ellipse cx="40.9" cy="32.1" rx="2.2" ry="0.9" fill="#4040ff" transform="rotate(-54 40.9 32.1)"/>
<ellipse cx="63.5" cy="14.9" rx="1.6" ry="1.1" fill="#2020e0" transform="rotate(-78 63.5 14.9)"/>
<ellipse cx="56.4" cy="8.3" rx="1.4" ry="0.9" fill="#2020e0" transform="rotate(-57 56.4 8.3)"/>
<ellipse cx="80.7" cy="17.7" rx="1.9" ry="1.1" fill="#1c1cc8" transform="rotate(-54 80.7 17.7)"/>
<ellipse cx="14.1" cy="65.1" rx="2.1" ry="1.3" fill="#2a2af0" transform="rotate(-75 14.1 65.1)"/>
<ellipse cx="35.3" cy="78.6" rx="1.3" ry="0.8" fill="#2020e0" transform="rotate(163 35.3 78.6)"/>
<ellipse cx="19.5" cy="55.7" rx="2.0" ry="1.2" fill="#1c1cc8" transform="rotate(-62 19.5 55.7)"/>
<ellipse cx="65.1" cy="68.4" rx="1.8" ry="1.3" fill="#2a2af0" transform="rotate(175 65.1 68.4)"/>
<ellipse cx="12.1" cy="45.0" rx="1.8" ry="1.3" fill="#2a2af0" transform="rotate(-44 12.1 45.0)"/>
<ellipse cx="70.2" cy="1.6" rx="1.5" ry="1.0" fill="#4040ff" transform="rotate(-75 70.2 1.6)"/>
<ellipse cx="57.4" cy="53.1" rx="1.6" ry="0.9" fill="#2a2af0" transform="rotate(-62 57.4 53.1)"/>
<ellipse cx="14.8" cy="70.5" rx="2.2" ry="0.9" fill="#2020e0" transform="rotate(-61 14.8 70.5)"/>
<ellipse cx="61.6" cy="25.5" rx="1.7" ry="1.0" fill="#3030d8" transform="rotate(-48 61.6 25.5)"/>
<ellipse cx="78.4" cy="4.6" rx="1.5" ry="1.0" fill="#3030d8" transform="rotate(-76 78.4 4.6)"/>
<ellipse cx="16.0" cy="69.3" rx="1.3" ry="1.0" fill="#3030d8" transform="rotate(-46 16.0 69.3)"/>
<ellipse cx="16.3" cy="77.5" rx="2.2" ry="1.1" fill="#3030d8" transform="rotate(-69 16.3 77.5)"/>
<ellipse cx="67.6" cy="33.8" rx="1.3" ry="1.2" fill="#1c1cc8" transform="rotate(-64 67.6 33.8)"/>
<ellipse cx="61.2" cy="28.8" rx="1.5" ry="0.8" fill="#4040ff" transform="rotate(-64 61.2 28.8)"/>
<ellipse cx="23.8" cy="79.9" rx="1.8" ry="1.0" fill="#4040ff" transform="rotate(-78 23.8 79.9)"/>
<ellipse cx="40.8" cy="32.0" rx="1.5" ry="0.8" fill="#2020e0" transform="rotate(-68 40.8 32.0)"/>
<ellipse cx="19.2" cy="69.3" rx="1.9" ry="1.2" fill="#4040ff" transform="rotate(-80 19.2 69.3)"/>
<ellipse cx="43.7" cy="1.1" rx="1.3" ry="1.2" fill="#3030d8" transform="rotate(-60 43.7 1.1)"/>
<ellipse cx="31.8" cy="22.6" rx="1.6" ry="1.3" fill="#2a2af0" transform="rotate(142 31.8 22.6)"/>
<ellipse cx="56.3" cy="39.3" rx="1.8" ry="1.1" fill="#2020e0" transform="rotate(-47 56.3 39.3)"/>
<ellipse cx="69.8" cy="71.2" rx="1.8" ry="1.1" fill="#2a2af0" transform="rotate(108 69.8 71.2)"/>
<ellipse cx="30.9" cy="81.9" rx="1.4" ry="1.1" fill="#1c1cc8" transform="rotate(-50 30.9 81.9)"/>
<ellipse cx="8.6" cy="54.4" rx="2.1" ry="1.0" fill="#1c1cc8" transform="rotate(-44 8.6 54.4)"/>
<ellipse cx="73.7" cy="66.9" rx="1.5" ry="0.8" fill="#2020e0" transform="rotate(132 73.7 66.9)"/>
<ellipse cx="49.0" cy="60.2" rx="1.3" ry="1.0" fill="#4040ff" transform="rotate(-73 49.0 60.2)"/>
<ellipse cx="74.3" cy="80.7" rx="1.3" ry="1.0" fill="#2020e0" transform="rotate(-53 74.3 80.7)"/>
<ellipse cx="14.5" cy="32.6" rx="1.8" ry="1.1" fill="#2020e0" transform="rotate(-68 14.5 32.6)"/>
<ellipse cx="78.2" cy="78.3" rx="2.1" ry="0.9" fill="#1c1cc8" transform="rotate(-62 78.2 78.3)"/>
<ellipse cx="50.5" cy="29.6" rx="2.3" ry="1.0" fill="#2a2af0" transform="rotate(-76 50.5 29.6)"/>
<ellipse cx="83.2" cy="82.2" rx="2.2" ry="1.1" fill="#2020e0" transform="rotate(-75 83.2 82.2)"/>
<ellipse cx="75.3" cy="22.0" rx="1.3" ry="1.3" fill="#1c1cc8" transform="rotate(129 75.3 22.0)"/>
<ellipse cx="9.9" cy="29.7" rx="2.2" ry="1.2" fill="#3030d8" transform="rotate(108 9.9 29.7)"/>
<ellipse cx="62.1" cy="10.9" rx="1.5" ry="1.3" fill="#2020e0" transform="rotate(-50 62.1 10.9)"/>
<ellipse cx="79.8" cy="79.9" rx="2.1" ry="1.2" fill="#2020e0" transform="rotate(102 79.8 79.9)"/>
<ellipse cx="74.0" cy="80.7" rx="2.0" ry="0.8" fill="#1c1cc8" transform="rotate(-60 74.0 80.7)"/>
<ellipse cx="3.0" cy="50.1" rx="2.0" ry="1.2" fill="#1c1cc8" transform="rotate(-67 3.0 50.1)"/>
<ellipse cx="30.2" cy="54.9" rx="1.3" ry="1.3" fill="#1c1cc8" transform="rotate(144 30.2 54.9)"/>
<ellipse cx="79.2" cy="12.1" rx="1.7" ry="1.2" fill="#1c1cc8" transform="rotate(28 79.2 12.1)"/>
<ellipse cx="77.1" cy="72.0" rx="1.4" ry="1.3" fill="#2a2af0" transform="rotate(106 77.1 72.0)"/>
<ellipse cx="56.5" cy="0.8" rx="2.2" ry="1.1" fill="#3030d8" transform="rotate(110 56.5 0.8)"/>
<ellipse cx="6.1" cy="54.9" rx="1.6" ry="1.3" fill="#2020e0" transform="rotate(99 6.1 54.9)"/>
<ellipse cx="55.8" cy="52.0" rx="2.1" ry="1.3" fill="#1c1cc8" transform="rotate(178 55.8 52.0)"/>
<ellipse cx="65.0" cy="51.6" rx="1.9" ry="0.9" fill="#2020e0" transform="rotate(66 65.0 51.6)"/>
<ellipse cx="-0.6" cy="71.6" rx="1.9" ry="1.3" fill="#4040ff" transform="rotate(-46 -0.6 71.6)"/>
<ellipse cx="83.2" cy="39.4" rx="2.2" ry="1.0" fill="#3030d8" transform="rotate(-67 83.2 39.4)"/>
<ellipse cx="4.2" cy="48.8" rx="1.5" ry="0.8" fill="#1c1cc8" transform="rotate(104 4.2 48.8)"/>
<ellipse cx="62.2" cy="7.0" rx="1.8" ry="1.0" fill="#2a2af0" transform="rotate(-55 62.2 7.0)"/>
<ellipse cx="48.0" cy="25.3" rx="1.6" ry="1.1" fill="#3030d8" transform="rotate(-52 48.0 25.3)"/>
<ellipse cx="40.5" cy="44.8" rx="1.5" ry="1.1" fill="#3030d8" transform="rotate(-66 40.5 44.8)"/>
<ellipse cx="79.9" cy="66.8" rx="2.1" ry="1.3" fill="#1c1cc8" transform="rotate(-68 79.9 66.8)"/>
<ellipse cx="3.7" cy="10.4" rx="2.0" ry="1.2" fill="#2a2af0" transform="rotate(140 3.7 10.4)"/>
<ellipse cx="69.2" cy="8.5" rx="1.7" ry="1.0" fill="#3030d8" transform="rotate(-67 69.2 8.5)"/>
<ellipse cx="4.0" cy="37.5" rx="2.1" ry="1.2" fill="#2a2af0" transform="rotate(-76 4.0 37.5)"/>
<ellipse cx="24.7" cy="52.1" rx="1.6" ry="1.1" fill="#3030d8" transform="rotate(178 24.7 52.1)"/>
<ellipse cx="75.7" cy="30.3" rx="1.9" ry="1.2" fill="#2a2af0" transform="rotate(-59 75.7 30.3)"/>
<ellipse cx="18.0" cy="62.1" rx="1.8" ry="1.2" fill="#1c1cc8" transform="rotate(-46 18.0 62.1)"/>
<ellipse cx="71.9" cy="42.3" rx="1.7" ry="0.9" fill="#1c1cc8" transform="rotate(-80 71.9 42.3)"/>
<ellipse cx="56.6" cy="9.2" rx="2.0" ry="1.2" fill="#4040ff" transform="rotate(-49 56.6 9.2)"/>
<ellipse cx="9.7" cy="44.1" rx="2.1" ry="1.2" fill="#2020e0" transform="rotate(53 9.7 44.1)"/>
<ellipse cx="64.6" cy="31.1" rx="1.4" ry="0.8" fill="#4040ff" transform="rotate(135 64.6 31.1)"/>
<ellipse cx="40.5" cy="40.3" rx="2.2" ry="1.2" fill="#3030d8" transform="rotate(-64 40.5 40.3)"/>
<ellipse cx="22.1" cy="6.4" rx="1.2" ry="1.2" fill="#1c1cc8" transform="rotate(-57 22.1 6.4)"/>
<ellipse cx="30.3" cy="82.1" rx="1.5" ry="1.2" fill="#2020e0" transform="rotate(-76 30.3 82.1)"/>
<ellipse cx="29.2" cy="53.1" rx="1.8" ry="0.9" fill="#2a2af0" transform="rotate(-67 29.2 53.1)"/>
<ellipse cx="19.8" cy="12.6" rx="2.3" ry="1.3" fill="#2020e0" transform="rotate(97 19.8 12.6)"/>
<ellipse cx="68.7" cy="73.3" rx="1.4" ry="0.9" fill="#3030d8" transform="rotate(0 68.7 73.3)"/>
<ellipse cx="72.8" cy="74.8" rx="1.3" ry="1.3" fill="#2a2af0" transform="rotate(-46 72.8 74.8)"/>
<ellipse cx="7.2" cy="45.7" rx="1.3" ry="1.0" fill="#2020e0" transform="rotate(47 7.2 45.7)"/>
<ellipse cx="19.7" cy="33.4" rx="2.1" ry="0.8" fill="#1c1cc8" transform="rotate(-59 19.7 33.4)"/>
<ellipse cx="79.6" cy="59.7" rx="1.4" ry="0.9" fill="#4040ff" transform="rotate(-69 79.6 59.7)"/>
<ellipse cx="83.0" cy="43.5" rx="1.6" ry="1.2" fill="#1c1cc8" transform="rotate(-78 83.0 43.5)"/>
<ellipse cx="73.9" cy="33.1" rx="2.3" ry="0.9" fill="#2a2af0" transform="rotate(170 73.9 33.1)"/>
<ellipse cx="83.6" cy="20.2" rx="1.7" ry="1.0" fill="#1c1cc8" transform="rotate(150 83.6 20.2)"/>
<ellipse cx="8.7" cy="55.2" rx="1.4" ry="0.9" fill="#4040ff" transform="rotate(-54 8.7 55.2)"/>
<ellipse cx="10.7" cy="25.6" rx="1.4" ry="1.0" fill="#1c1cc8" transform="rotate(-45 10.7 25.6)"/>
<ellipse cx="74.4" cy="15.4" rx="1.7" ry="1.2" fill="#2a2af0" transform="rotate(57 74.4 15.4)"/>
<ellipse cx="3.8" cy="65.8" rx="1.7" ry="1.3" fill="#3030d8" transform="rotate(-63 3.8 65.8)"/>
<ellipse cx="63.3" cy="76.1" rx="2.2" ry="0.9" fill="#4040ff" transform="rotate(-77 63.3 76.1)"/>
<ellipse cx="42.0" cy="11.7" rx="1.8" ry="0.8" fill="#1c1cc8" transform="rotate(-77 42.0 11.7)"/>
<ellipse cx="39.8" cy="17.2" rx="1.3" ry="1.0" fill="#2020e0" transform="rotate(-48 39.8 17.2)"/>
<ellipse cx="47.4" cy="34.7" rx="1.4" ry="1.0" fill="#2020e0" transform="rotate(-75 47.4 34.7)"/>
<ellipse cx="54.6" cy="8.5" rx="1.3" ry="0.8" fill="#2a2af0" transform="rotate(-62 54.6 8.5)"/>
<ellipse cx="68.8" cy="79.1" rx="1.9" ry="1.3" fill="#2020e0" transform="rotate(-58 68.8 79.1)"/>
<ellipse cx="16.0" cy="36.7" rx="2.1" ry="1.3" fill="#2020e0" transform="rotate(-70 16.0 36.7)"/>
<ellipse cx="17.5" cy="29.1" rx="2.1" ry="1.1" fill="#1c1cc8" transform="rotate(-72 17.5 29.1)"/>
<ellipse cx="1.4" cy="69.6" rx="2.2" ry="0.9" fill="#2a2af0" transform="rotate(-57 1.4 69.6)"/>
<ellipse cx="14.8" cy="16.5" rx="2.3" ry="1.1" fill="#3030d8" transform="rotate(101 14.8 16.5)"/>
<ellipse cx="63.6" cy="21.6" rx="2.2" ry="1.1" fill="#4040ff" transform="rotate(62 63.6 21.6)"/>
<ellipse cx="48.5" cy="21.5" rx="1.9" ry="1.0" fill="#4040ff" transform="rotate(-78 48.5 21.5)"/>
<ellipse cx="20.1" cy="4.8" rx="1.4" ry="1.1" fill="#2a2af0" transform="rotate(84 20.1 4.8)"/>
<ellipse cx="29.9" cy="80.5" rx="2.1" ry="1.2" fill="#2a2af0" transform="rotate(109 29.9 80.5)"/>
<ellipse cx="51.9" cy="49.9" rx="1.6" ry="1.0" fill="#1c1cc8" transform="rotate(-70 51.9 49.9)"/>
<ellipse cx="72.4" cy="62.0" rx="1.4" ry="0.8" fill="#4040ff" transform="rotate(-63 72.4 62.0)"/>
<ellipse cx="24.1" cy="76.8" rx="2.1" ry="0.8" fill="#4040ff" transform="rotate(-49 24.1 76.8)"/>
<ellipse cx="19.1" cy="9.8" rx="1.7" ry="1.2" fill="#4040ff" transform="rotate(53 19.1 9.8)"/>
<ellipse cx="32.7" cy="80.0" rx="1.7" ry="1.3" fill="#3030d8" transform="rotate(-52 32.7 80.0)"/>
<ellipse cx="69.2" cy="-0.3" rx="1.9" ry="0.9" fill="#4040ff" transform="rotate(105 69.2 -0.3)"/>
<ellipse cx="66.6" cy="67.5" rx="1.7" ry="0.9" fill="#4040ff" transform="rotate(-59 66.6 67.5)"/>
<ellipse cx="17.3" cy="63.1" rx="1.8" ry="1.3" fill="#2a2af0" transform="rotate(-58 17.3 63.1)"/>
<ellipse cx="23.5" cy="31.6" rx="1.7" ry="1.2" fill="#2a2af0" transform="rotate(33 23.5 31.6)"/>
<ellipse cx="82.5" cy="42.3" rx="2.3" ry="1.1" fill="#2020e0" transform="rotate(-77 82.5 42.3)"/>
<ellipse cx="25.9" cy="64.8" rx="2.1" ry="0.9" fill="#1c1cc8" transform="rotate(179 25.9 64.8)"/>
<ellipse cx="50.3" cy="54.4" rx="1.8" ry="1.1" fill="#4040ff" transform="rotate(-76 50.3 54.4)"/>
<ellipse cx="58.8" cy="36.4" rx="2.3" ry="1.0" fill="#3030d8" transform="rotate(-60 58.8 36.4)"/>
<ellipse cx="24.3" cy="1.4" rx="1.4" ry="1.2" fill="#2a2af0" transform="rotate(-57 24.3 1.4)"/>
<ellipse cx="83.7" cy="6.8" rx="2.1" ry="0.8" fill="#1c1cc8" transform="rotate(164 83.7 6.8)"/>
<ellipse cx="5.6" cy="67.6" rx="2.3" ry="1.2" fill="#2020e0" transform="rotate(-69 5.6 67.6)"/>
<ellipse cx="51.1" cy="84.9" rx="2.1" ry="0.8" fill="#2a2af0" transform="rotate(-63 51.1 84.9)"/>
<ellipse cx="80.1" cy="51.3" rx="1.5" ry="1.1" fill="#2a2af0" transform="rotate(8 80.1 51.3)"/>
<ellipse cx="40.4" cy="24.2" rx="1.4" ry="0.9" fill="#4040ff" transform="rotate(-63 40.4 24.2)"/>
<ellipse cx="74.5" cy="39.7" rx="1.9" ry="1.1" fill="#4040ff" transform="rotate(32 74.5 39.7)"/>
<ellipse cx="82.0" cy="46.8" rx="1.6" ry="0.9" fill="#3030d8" transform="rotate(79 82.0 46.8)"/>
<ellipse cx="50.7" cy="53.4" rx="1.6" ry="1.3" fill="#2a2af0" transform="rotate(-63 50.7 53.4)"/>
<ellipse cx="43.4" cy="46.9" rx="1.8" ry="1.3" fill="#2020e0" transform="rotate(17 43.4 46.9)"/>
<ellipse cx="0.3" cy="3.6" rx="2.1" ry="0.9" fill="#1c1cc8" transform="rotate(-73 0.3 3.6)"/>
<ellipse cx="8.0" cy="39.3" rx="2.3" ry="1.0" fill="#1c1cc8" transform="rotate(70 8.0 39.3)"/>
<ellipse cx="40.7" cy="83.7" rx="1.9" ry="1.2" fill="#4040ff" transform="rotate(-44 40.7 83.7)"/>
<ellipse cx="19.4" cy="31.5" rx="1.7" ry="0.9" fill="#2a2af0" transform="rotate(87 19.4 31.5)"/>
<ellipse cx="12.5" cy="64.8" rx="1.7" ry="0.9" fill="#2020e0" transform="rotate(-55 12.5 64.8)"/>
<ellipse cx="14.9" cy="43.2" rx="2.0" ry="0.9" fill="#2020e0" transform="rotate(105 14.9 43.2)"/>
<ellipse cx="27.3" cy="86.1" rx="1.7" ry="1.1" fill="#2020e0" transform="rotate(-77 27.3 86.1)"/>
<ellipse cx="71.7" cy="8.6" rx="1.2" ry="0.8" fill="#4040ff" transform="rotate(143 71.7 8.6)"/>
<ellipse cx="36.9" cy="11.9" rx="1.9" ry="1.3" fill="#4040ff" transform="rotate(-62 36.9 11.9)"/>
<ellipse cx="15.9" cy="64.6" rx="1.7" ry="1.1" fill="#2a2af0" transform="rotate(-47 15.9 64.6)"/>
<ellipse cx="6.0" cy="18.5" rx="1.9" ry="0.9" fill="#1c1cc8" transform="rotate(-65 6.0 18.5)"/>
<ellipse cx="21.0" cy="-0.1" rx="2.3" ry="0.9" fill="#3030d8" transform="rotate(-49 21.0 -0.1)"/>
<ellipse cx="57.5" cy="26.7" rx="1.8" ry="1.0" fill="#2020e0" transform="rotate(-49 57.5 26.7)"/>
<ellipse cx="66.2" cy="25.2" rx="2.1" ry="1.0" fill="#2020e0" transform="rotate(-45 66.2 25.2)"/>
<ellipse cx="20.1" cy="51.2" rx="1.7" ry="1.1" fill="#4040ff" transform="rotate(-49 20.1 51.2)"/>
<ellipse cx="59.7" cy="42.0" rx="1.9" ry="1.2" fill="#2020e0" transform="rotate(-56 59.7 42.0)"/>
<ellipse cx="61.8" cy="12.6" rx="1.9" ry="0.9" fill="#2020e0" transform="rotate(-75 61.8 12.6)"/>
<ellipse cx="10.6" cy="47.7" rx="1.5" ry="1.2" fill="#2a2af0" transform="rotate(89 10.6 47.7)"/>
<ellipse cx="2.9" cy="66.0" rx="1.3" ry="0.9" fill="#2a2af0" transform="rotate(138 2.9 66.0)"/>
<ellipse cx="38.6" cy="0.5" rx="1.8" ry="0.9" fill="#2a2af0" transform="rotate(-71 38.6 0.5)"/>
<ellipse cx="23.4" cy="67.9" rx="1.7" ry="1.0" fill="#1c1cc8" transform="rotate(-57 23.4 67.9)"/>
<ellipse cx="33.9" cy="72.6" rx="1.8" ry="1.2" fill="#4040ff" transform="rotate(149 33.9 72.6)"/>
<ellipse cx="43.9" cy="50.2" rx="1.3" ry="0.9" fill="#1c1cc8" transform="rotate(-74 43.9 50.2)"/>
<ellipse cx="50.6" cy="36.5" rx="1.5" ry="1.0" fill="#3030d8" transform="rotate(159 50.6 36.5)"/>
<ellipse cx="38.7" cy="43.3" rx="1.3" ry="1.1" fill="#4040ff" transform="rotate(4 38.7 43.3)"/>
<ellipse cx="67.8" cy="62.4" rx="2.3" ry="1.0" fill="#3030d8" transform="rotate(-54 67.8 62.4)"/>
<ellipse cx="16.7" cy="22.4" rx="1.5" ry="1.2" fill="#3030d8" transform="rotate(-69 16.7 22.4)"/>
<ellipse cx="54.5" cy="46.1" rx="2.1" ry="0.8" fill="#3030d8" transform="rotate(14 54.5 46.1)"/>
<ellipse cx="66.6" cy="56.2" rx="1.4" ry="1.3" fill="#4040ff" transform="rotate(-54 66.6 56.2)"/>
<ellipse cx="69.0" cy="71.9" rx="1.4" ry="1.1" fill="#1c1cc8" transform="rotate(-65 69.0 71.9)"/>
<ellipse cx="27.3" cy="63.6" rx="1.9" ry="1.3" fill="#4040ff" transform="rotate(-49 27.3 63.6)"/>
<ellipse cx="50.2" cy="56.4" rx="1.8" ry="1.0" fill="#4040ff" transform="rotate(-77 50.2 56.4)"/>
<ellipse cx="73.2" cy="14.7" rx="1.5" ry="1.1" fill="#1c1cc8" transform="rotate(-42 73.2 14.7)"/>
<ellipse cx="3.0" cy="81.5" rx="1.7" ry="0.9" fill="#4040ff" transform="rotate(113 3.0 81.5)"/>
<ellipse cx="45.9" cy="21.3" rx="1.7" ry="1.0" fill="#2a2af0" transform="rotate(-57 45.9 21.3)"/>
<ellipse cx="62.6" cy="15.7" rx="1.6" ry="1.1" fill="#2a2af0" transform="rotate(-52 62.6 15.7)"/>
<ellipse cx="50.7" cy="56.5" rx="1.5" ry="1.2" fill="#2a2af0" transform="rotate(-46 50.7 56.5)"/>
<ellipse cx="15.6" cy="36.8" rx="1.6" ry="0.8" fill="#3030d8" transform="rotate(-68 15.6 36.8)"/>
<ellipse cx="31.2" cy="28.3" rx="1.6" ry="0.9" fill="#3030d8" transform="rotate(-76 31.2 28.3)"/>
<ellipse cx="21.4" cy="14.4" rx="2.2" ry="0.9" fill="#3030d8" transform="rotate(-60 21.4 14.4)"/>
<ellipse cx="76.7" cy="80.3" rx="1.7" ry="1.1" fill="#3030d8" transform="rotate(-65 76.7 80.3)"/>
<ellipse cx="33.0" cy="30.4" rx="2.3" ry="1.0" fill="#2020e0" transform="rotate(2 33.0 30.4)"/>
<ellipse cx="52.7" cy="11.9" rx="1.9" ry="0.9" fill="#1c1cc8" transform="rotate(-63 52.7 11.9)"/>
<ellipse cx="19.6" cy="45.1" rx="2.1" ry="1.0" fill="#2020e0" transform="rotate(-78 19.6 45.1)"/>
<ellipse cx="69.0" cy="54.3" rx="2.1" ry="1.2" fill="#4040ff" transform="rotate(152 69.0 54.3)"/>
<ellipse cx="3.3" cy="14.5" rx="1.5" ry="0.9" fill="#2020e0" transform="rotate(-75 3.3 14.5)"/>
<ellipse cx="56.6" cy="65.0" rx="2.2" ry="1.1" fill="#4040ff" transform="rotate(87 56.6 65.0)"/>
<ellipse cx="10.9" cy="41.9" rx="1.5" ry="1.2" fill="#3030d8" transform="rotate(-59 10.9 41.9)"/>
<ellipse cx="23.0" cy="59.2" rx="1.2" ry="0.9" fill="#4040ff" transform="rotate(118 23.0 59.2)"/>
<ellipse cx="44.9" cy="12.5" rx="1.3" ry="1.3" fill="#4040ff" transform="rotate(180 44.9 12.5)"/>
<ellipse cx="10.5" cy="22.4" rx="1.4" ry="0.9" fill="#4040ff" transform="rotate(82 10.5 22.4)"/>
<ellipse cx="2.6" cy="24.7" rx="1.3" ry="1.2" fill="#3030d8" transform="rotate(-69 2.6 24.7)"/>
<ellipse cx="43.3" cy="24.4" rx="1.6" ry="0.8" fill="#3030d8" transform="rotate(-79 43.3 24.4)"/>
<ellipse cx="45.3" cy="81.2" rx="1.8" ry="1.1" fill="#4040ff" transform="rotate(-63 45.3 81.2)"/>
<ellipse cx="52.3" cy="7.5" rx="2.2" ry="1.0" fill="#1c1cc8" transform="rotate(148 52.3 7.5)"/>
<ellipse cx="35.4" cy="45.0" rx="1.3" ry="0.9" fill="#1c1cc8" transform="rotate(30 35.4 45.0)"/>
<ellipse cx="81.4" cy="66.3" rx="1.6" ry="1.1" fill="#1c1cc8" transform="rotate(-50 81.4 66.3)"/>
<ellipse cx="32.6" cy="65.0" rx="1.2" ry="1.0" fill="#2a2af0" transform="rotate(-58 32.6 65.0)"/>
<ellipse cx="72.2" cy="43.3" rx="2.0" ry="0.8" fill="#4040ff" transform="rotate(167 72.2 43.3)"/>
<ellipse cx="65.7" cy="24.1" rx="1.3" ry="1.2" fill="#1c1cc8" transform="rotate(-44 65.7 24.1)"/>
<ellipse cx="42.8" cy="2.4" rx="1.9" ry="1.2" fill="#2020e0" transform="rotate(32 42.8 2.4)"/>
<ellipse cx="14.5" cy="43.4" rx="1.7" ry="0.9" fill="#2a2af0" transform="rotate(-73 14.5 43.4)"/>
<ellipse cx="25.9" cy="78.0" rx="1.3" ry="0.9" fill="#1c1cc8" transform="rotate(120 25.9 78.0)"/>
<ellipse cx="11.2" cy="9.4" rx="1.8" ry="1.3" fill="#2020e0" transform="rotate(145 11.2 9.4)"/>
<ellipse cx="23.1" cy="6.5" rx="2.0" ry="0.8" fill="#2020e0" transform="rotate(-68 23.1 6.5)"/>
<ellipse cx="66.8" cy="53.3" rx="1.9" ry="0.8" fill="#2020e0" transform="rotate(-51 66.8 53.3)"/>
<ellipse cx="52.5" cy="32.4" rx="1.3" ry="1.1" fill="#1c1cc8" transform="rotate(46 52.5 32.4)"/>
<ellipse cx="58.6" cy="17.1" rx="2.0" ry="0.8" fill="#2020e0" transform="rotate(-67 58.6 17.1)"/>
<ellipse cx="61.8" cy="31.8" rx="1.4" ry="1.0" fill="#2020e0" transform="rotate(-62 61.8 31.8)"/>
<ellipse cx="81.5" cy="78.4" rx="1.8" ry="0.8" fill="#1c1cc8" transform="rotate(117 81.5 78.4)"/>
<ellipse cx="41.7" cy="84.4" rx="1.7" ry="1.0" fill="#4040ff" transform="rotate(-48 41.7 84.4)"/>
<ellipse cx="36.2" cy="11.2" rx="1.7" ry="1.0" fill="#3030d8" transform="rotate(139 36.2 11.2)"/>
<ellipse cx="50.1" cy="53.2" rx="2.3" ry="1.1" fill="#2a2af0" transform="rotate(137 50.1 53.2)"/>
<ellipse cx="83.2" cy="61.1" rx="2.3" ry="1.2" fill="#3030d8" transform="rotate(165 83.2 61.1)"/>
<ellipse cx="45.9" cy="27.0" rx="1.3" ry="1.2" fill="#2020e0" transform="rotate(151 45.9 27.0)"/>
<ellipse cx="54.1" cy="82.6" rx="1.2" ry="1.0" fill="#3030d8" transform="rotate(114 54.1 82.6)"/>
<ellipse cx="37.3" cy="3.4" rx="1.2" ry="1.1" fill="#2020e0" transform="rotate(-58 37.3 3.4)"/>
<ellipse cx="40.6" cy="37.4" rx="1.3" ry="0.9" fill="#3030d8" transform="rotate(-57 40.6 37.4)"/>
<ellipse cx="30.2" cy="50.2" rx="1.9" ry="0.9" fill="#2a2af0" transform="rotate(-70 30.2 50.2)"/>
<ellipse cx="78.9" cy="43.2" rx="1.6" ry="1.1" fill="#3030d8" transform="rotate(-49 78.9 43.2)"/>
<ellipse cx="66.4" cy="30.4" rx="1.5" ry="1.1" fill="#2020e0" transform="rotate(-73 66.4 30.4)"/>
<ellipse cx="56.2" cy="82.1" rx="2.0" ry="1.1" fill="#3030d8" transform="rotate(89 56.2 82.1)"/>
<ellipse cx="26.2" cy="3.6" rx="1.3" ry="1.2" fill="#3030d8" transform="rotate(-80 26.2 3.6)"/>
<ellipse cx="31.3" cy="66.7" rx="1.7" ry="1.3" fill="#3030d8" transform="rotate(-61 31.3 66.7)"/>
<ellipse cx="1.1" cy="79.2" rx="1.6" ry="1.1" fill="#2020e0" transform="rotate(-77 1.1 79.2)"/>
<ellipse cx="38.5" cy="13.8" rx="1.9" ry="1.2" fill="#2020e0" transform="rotate(-68 38.5 13.8)"/>
<ellipse cx="42.1" cy="67.4" rx="1.9" ry="1.1" fill="#2020e0" transform="rotate(-74 42.1 67.4)"/>
<ellipse cx="32.4" cy="33.9" rx="2.0" ry="1.1" fill="#2020e0" transform="rotate(-75 32.4 33.9)"/>
<ellipse cx="7.8" cy="79.7" rx="1.4" ry="1.1" fill="#3030d8" transform="rotate(-64 7.8 79.7)"/>
<ellipse cx="65.9" cy="47.8" rx="2.2" ry="0.8" fill="#2020e0" transform="rotate(-50 65.9 47.8)"/>
<ellipse cx="35.0" cy="29.8" rx="2.2" ry="1.1" fill="#2020e0" transform="rotate(-62 35.0 29.8)"/>
<ellipse cx="61.3" cy="30.2" rx="1.5" ry="1.0" fill="#1c1cc8" transform="rotate(105 61.3 30.2)"/>
<ellipse cx="48.6" cy="26.2" rx="2.0" ry="0.8" fill="#2a2af0" transform="rotate(81 48.6 26.2)"/>
<ellipse cx="33.0" cy="83.0" rx="1.2" ry="1.1" fill="#2020e0" transform="rotate(-52 33.0 83.0)"/>
<ellipse cx="53.2" cy="14.9" rx="1.9" ry="1.0" fill="#2a2af0" transform="rotate(46 53.2 14.9)"/>
<ellipse cx="47.8" cy="-0.9" rx="1.4" ry="1.1" fill="#3030d8" transform="rotate(-75 47.8 -0.9)"/>
<ellipse cx="67.5" cy="73.7" rx="1.4" ry="1.0" fill="#3030d8" transform="rotate(-55 67.5 73.7)"/>
<ellipse cx="46.0" cy="19.4" rx="1.5" ry="0.8" fill="#2020e0" transform="rotate(-57 46.0 19.4)"/>
<ellipse cx="54.0" cy="11.8" rx="1.5" ry="1.0" fill="#1c1cc8" transform="rotate(-56 54.0 11.8)"/>
<ellipse cx="31.6" cy="30.6" rx="1.5" ry="0.8" fill="#1c1cc8" transform="rotate(-79 31.6 30.6)"/>
<ellipse cx="50.8" cy="26.9" rx="2.0" ry="1.0" fill="#1c1cc8" transform="rotate(-40 50.8 26.9)"/>
<ellipse cx="29.0" cy="64.8" rx="2.1" ry="1.0" fill="#2a2af0" transform="rotate(63 29.0 64.8)"/>
<ellipse cx="68.2" cy="36.3" rx="1.5" ry="0.8" fill="#2020e0" transform="rotate(-48 68.2 36.3)"/>
<ellipse cx="49.9" cy="78.4" rx="2.0" ry="1.1" fill="#4040ff" transform="rotate(124 49.9 78.4)"/>
<ellipse cx="68.0" cy="79.9" rx="1.7" ry="1.0" fill="#2020e0" transform="rotate(-71 68.0 79.9)"/>
<ellipse cx="41.6" cy="26.2" rx="2.0" ry="1.1" fill="#4040ff" transform="rotate(-72 41.6 26.2)"/>
<ellipse cx="67.0" cy="42.5" rx="2.0" ry="1.0" fill="#3030d8" transform="rotate(70 67.0 42.5)"/>
<ellipse cx="6.8" cy="52.8" rx="1.9" ry="1.1" fill="#1c1cc8" transform="rotate(-60 6.8 52.8)"/>
<ellipse cx="21.1" cy="73.4" rx="1.7" ry="1.3" fill="#2020e0" transform="rotate(178 21.1 73.4)"/>
<ellipse cx="18.7" cy="70.5" rx="2.2" ry="0.9" fill="#2a2af0" transform="rotate(-44 18.7 70.5)"/>
<ellipse cx="48.9" cy="77.1" rx="2.2" ry="0.8" fill="#4040ff" transform="rotate(52 48.9 77.1)"/>
<ellipse cx="1.2" cy="41.5" rx="1.8" ry="1.0" fill="#4040ff" transform="rotate(-73 1.2 41.5)"/>
<ellipse cx="7.0" cy="53.7" rx="2.0" ry="1.3" fill="#2020e0" transform="rotate(50 7.0 53.7)"/>
<ellipse cx="80.0" cy="24.0" rx="1.9" ry="1.1" fill="#1c1cc8" transform="rotate(-78 80.0 24.0)"/>
<ellipse cx="57.3" cy="70.2" rx="1.3" ry="1.1" fill="#4040ff" transform="rotate(65 57.3 70.2)"/>
<ellipse cx="55.2" cy="6.7" rx="2.0" ry="1.1" fill="#2a2af0" transform="rotate(-45 55.2 6.7)"/>
<ellipse cx="40.8" cy="81.2" rx="1.3" ry="0.8" fill="#2a2af0" transform="rotate(-42 40.8 81.2)"/>
<ellipse cx="45.3" cy="86.0" rx="1.2" ry="0.9" fill="#4040ff" transform="rotate(-59 45.3 86.0)"/>
<ellipse cx="15.9" cy="50.2" rx="2.0" ry="0.8" fill="#1c1cc8" transform="rotate(-67 15.9 50.2)"/>
<ellipse cx="77.8" cy="49.2" rx="1.8" ry="0.8" fill="#4040ff" transform="rotate(-47 77.8 49.2)"/>
<ellipse cx="77.1" cy="10.1" rx="1.9" ry="1.0" fill="#4040ff" transform="rotate(108 77.1 10.1)"/>
<ellipse cx="70.6" cy="12.6" rx="1.9" ry="0.9" fill="#2a2af0" transform="rotate(-40 70.6 12.6)"/>
<ellipse cx="0.3" cy="72.9" rx="1.9" ry="1.0" fill="#2a2af0" transform="rotate(-75 0.3 72.9)"/>
<ellipse cx="43.2" cy="4.0" rx="2.0" ry="1.2" fill="#2a2af0" transform="rotate(-55 43.2 4.0)"/>
<ellipse cx="5.5" cy="45.1" rx="1.3" ry="1.2" fill="#1c1cc8" transform="rotate(-62 5.5 45.1)"/>
<ellipse cx="27.5" cy="29.6" rx="1.4" ry="1.2" fill="#2a2af0" transform="rotate(-72 27.5 29.6)"/>
<ellipse cx="28.7" cy="41.2" rx="1.9" ry="1.1" fill="#3030d8" transform="rotate(-71 28.7 41.2)"/>
<ellipse cx="69.6" cy="38.1" rx="1.5" ry="1.2" fill="#2020e0" transform="rotate(-76 69.6 38.1)"/>
<ellipse cx="27.7" cy="16.3" rx="1.8" ry="0.8" fill="#2a2af0" transform="rotate(-69 27.7 16.3)"/>
<ellipse cx="63.5" cy="12.5" rx="2.2" ry="0.8" fill="#4040ff" transform="rotate(-80 63.5 12.5)"/>
<ellipse cx="42.2" cy="71.9" rx="2.1" ry="1.2" fill="#3030d8" transform="rotate(-79 42.2 71.9)"/>
<ellipse cx="14.6" cy="27.5" rx="1.6" ry="1.1" fill="#1c1cc8" transform="rotate(-57 14.6 27.5)"/>
<ellipse cx="26.1" cy="14.3" rx="2.1" ry="0.9" fill="#2a2af0" transform="rotate(-71 26.1 14.3)"/>
<ellipse cx="7.1" cy="10.0" rx="1.5" ry="1.2" fill="#4040ff" transform="rotate(-42 7.1 10.0)"/>
<ellipse cx="53.0" cy="18.8" rx="1.3" ry="1.1" fill="#4040ff" transform="rotate(-45 53.0 18.8)"/>
<ellipse cx="19.6" cy="85.1" rx="1.9" ry="0.8" fill="#3030d8" transform="rotate(-42 19.6 85.1)"/>
<ellipse cx="55.3" cy="1.0" rx="2.2" ry="0.9" fill="#1c1cc8" transform="rotate(97 55.3 1.0)"/>
<ellipse cx="6.5" cy="78.5" rx="2.0" ry="0.8" fill="#3030d8" transform="rotate(-70 6.5 78.5)"/>
<ellipse cx="60.9" cy="62.9" rx="2.1" ry="1.1" fill="#1c1cc8" transform="rotate(77 60.9 62.9)"/>
<ellipse cx="10.2" cy="84.1" rx="2.0" ry="1.2" fill="#4040ff" transform="rotate(73 10.2 84.1)"/>
<ellipse cx="51.9" cy="42.9" rx="2.1" ry="1.0" fill="#3030d8" transform="rotate(79 51.9 42.9)"/>
<ellipse cx="57.7" cy="45.4" rx="2.1" ry="0.9" fill="#4040ff" transform="rotate(64 57.7 45.4)"/>
<ellipse cx="74.1" cy="10.4" rx="2.2" ry="1.3" fill="#4040ff" transform="rotate(-48 74.1 10.4)"/>
<ellipse cx="48.1" cy="59.1" rx="1.6" ry="1.0" fill="#4040ff" transform="rotate(-47 48.1 59.1)"/>
<ellipse cx="10.6" cy="26.2" rx="1.4" ry="0.8" fill="#3030d8" transform="rotate(-69 10.6 26.2)"/>
<ellipse cx="47.7" cy="82.6" rx="2.1" ry="0.9" fill="#3030d8" transform="rotate(-65 47.7 82.6)"/>
<ellipse cx="52.7" cy="76.2" rx="1.4" ry="1.0" fill="#4040ff" transform="rotate(-60 52.7 76.2)"/>
<ellipse cx="83.3" cy="78.6" rx="2.1" ry="1.3" fill="#2020e0" transform="rotate(133 83.3 78.6)"/>
<ellipse cx="60.5" cy="4.3" rx="2.0" ry="1.3" fill="#2020e0" transform="rotate(-76 60.5 4.3)"/>
<ellipse cx="3.0" cy="17.0" rx="1.6" ry="0.8" fill="#1c1cc8" transform="rotate(-43 3.0 17.0)"/>
<ellipse cx="3.2" cy="59.1" rx="1.9" ry="1.0" fill="#4040ff" transform="rotate(-64 3.2 59.1)"/>
<ellipse cx="3.7" cy="19.2" rx="2.1" ry="1.0" fill="#3030d8" transform="rotate(-63 3.7 19.2)"/>
<ellipse cx="42.0" cy="75.0" rx="1.5" ry="0.8" fill="#2a2af0" transform="rotate(122 42.0 75.0)"/>
<ellipse cx="29.2" cy="53.4" rx="1.3" ry="1.0" fill="#1c1cc8" transform="rotate(-56 29.2 53.4)"/>
<ellipse cx="54.0" cy="33.0" rx="2.3" ry="1.3" fill="#2a2af0" transform="rotate(100 54.0 33.0)"/>
<ellipse cx="82.7" cy="7.8" rx="2.2" ry="1.1" fill="#4040ff" transform="rotate(-68 82.7 7.8)"/>
<ellipse cx="73.4" cy="73.1" rx="1.5" ry="1.0" fill="#3030d8" transform="rotate(170 73.4 73.1)"/>
<ellipse cx="52.5" cy="28.9" rx="1.3" ry="1.0" fill="#3030d8" transform="rotate(-55 52.5 28.9)"/>
<ellipse cx="52.5" cy="78.6" rx="1.2" ry="0.9" fill="#1c1cc8" transform="rotate(-65 52.5 78.6)"/>
<ellipse cx="54.3" cy="58.7" rx="2.2" ry="0.9" fill="#3030d8" transform="rotate(43 54.3 58.7)"/>
<ellipse cx="49.9" cy="56.3" rx="1.2" ry="1.0" fill="#3030d8" transform="rotate(68 49.9 56.3)"/>
<ellipse cx="46.4" cy="61.5" rx="2.1" ry="0.9" fill="#3030d8" transform="rotate(-65 46.4 61.5)"/>
<ellipse cx="22.4" cy="24.5" rx="1.5" ry="1.1" fill="#4040ff" transform="rotate(-75 22.4 24.5)"/>
<ellipse cx="41.3" cy="85.2" rx="1.9" ry="0.9" fill="#2020e0" transform="rotate(-49 41.3 85.2)"/>
<polyline points="1.5,44.4 1.2,42.7 1.0,41.3 0.3,40.1" fill="none" stroke="#f8e0e8" stroke-width="0.75" opacity="0.92"/>
<polyline points="81.7,78.0 82.5,77.1 83.2,75.1 85.0,73.4" fill="none" stroke="#e8a880" stroke-width="0.75" opacity="0.92"/>
<polyline points="82.2,6.9 82.1,4.7 82.1,2.6 81.2,0.6" fill="none" stroke="#ffffff" stroke-width="0.75" opacity="0.92"/>
<polyline points="47.5,2.2 49.0,1.1 51.3,0.8 53.3,-0.1" fill="none" stroke="#e8a880" stroke-width="0.75" opacity="0.92"/>
<polyline points="73.8,37.7 73.6,36.4 73.5,34.9 73.7,33.5" fill="none" stroke="#e8a880" stroke-width="0.75" opacity="0.92"/>
<polyline points="53.9,77.7 54.6,75.5 55.8,73.2 57.3,72.0" fill="none" stroke="#d090c8" stroke-width="0.75" opacity="0.92"/>
<polyline points="66.4,70.3 67.5,71.6 68.0,74.1 67.9,75.6" fill="none" stroke="#f8e0e8" stroke-width="0.75" opacity="0.92"/>
<polyline points="70.6,64.6 71.5,62.8 71.7,60.3 71.3,58.0" fill="none" stroke="#f0c8d8" stroke-width="0.75" opacity="0.92"/>
<polyline points="10.0,59.9 11.2,58.6 12.4,56.5 13.1,54.1" fill="none" stroke="#f0c8d8" stroke-width="0.75" opacity="0.92"/>
<polyline points="68.9,5.0 69.2,3.2 70.1,0.9 70.9,-0.8" fill="none" stroke="#e8a880" stroke-width="0.75" opacity="0.92"/>
<polyline points="66.5,3.0 67.3,2.1 67.6,0.4 67.7,-2.0" fill="none" stroke="#e8a880" stroke-width="0.75" opacity="0.92"/>
<polyline points="18.4,59.8 19.2,57.8 19.1,55.7 19.4,54.2" fill="none" stroke="#ffffff" stroke-width="0.75" opacity="0.92"/>
<polyline points="57.3,34.3 58.5,33.5 59.4,32.1 60.8,31.2" fill="none" stroke="#ffffff" stroke-width="0.75" opacity="0.92"/>
<polyline points="80.1,59.7 81.7,57.7 83.0,56.1 84.6,54.8" fill="none" stroke="#f8e0e8" stroke-width="0.75" opacity="0.92"/>
<polyline points="71.4,17.7 73.3,16.4 74.2,14.7 75.5,13.8" fill="none" stroke="#e8b0c8" stroke-width="0.75" opacity="0.92"/>
<polyline points="80.1,66.8 78.5,67.4 77.2,68.7 75.9,70.0" fill="none" stroke="#e8b0c8" stroke-width="0.75" opacity="0.92"/>
<polyline points="44.2,14.2 45.3,12.8 46.4,11.4 47.9,10.0" fill="none" stroke="#f0c8d8" stroke-width="0.75" opacity="0.92"/>
<polyline points="16.9,46.0 17.9,47.6 18.8,49.6 19.5,50.8" fill="none" stroke="#f0d0d8" stroke-width="0.75" opacity="0.92"/>
<polyline points="60.6,16.8 61.4,14.5 62.4,12.2 62.2,10.3" fill="none" stroke="#e8b0c8" stroke-width="0.75" opacity="0.92"/>
<polyline points="45.6,11.2 44.3,11.2 42.3,11.0 40.2,10.5" fill="none" stroke="#f8e0e8" stroke-width="0.75" opacity="0.92"/>
<polyline points="28.5,36.0 30.2,36.5 31.8,37.9 32.4,39.0" fill="none" stroke="#e8b0c8" stroke-width="0.75" opacity="0.92"/>
<polyline points="69.1,47.3 69.9,45.4 70.5,43.0 71.3,41.8" fill="none" stroke="#e8a880" stroke-width="0.75" opacity="0.92"/>
<polyline points="56.2,30.8 54.4,31.3 51.9,31.7 50.1,31.3" fill="none" stroke="#ffffff" stroke-width="0.75" opacity="0.92"/>
<polyline points="5.8,66.1 7.0,64.9 7.7,63.0 8.6,61.9" fill="none" stroke="#ffffff" stroke-width="0.75" opacity="0.92"/>
<polyline points="46.9,73.7 46.3,72.1 45.3,70.2 43.8,68.6" fill="none" stroke="#f0c8d8" stroke-width="0.75" opacity="0.92"/>
<polyline points="73.1,5.6 74.2,7.3 75.1,8.5 76.1,10.1" fill="none" stroke="#f0d0d8" stroke-width="0.75" opacity="0.92"/>
<polyline points="79.4,15.2 80.7,13.7 81.7,12.4 82.6,10.8" fill="none" stroke="#f0c8d8" stroke-width="0.75" opacity="0.92"/>
<polyline points="37.6,58.1 38.7,56.6 40.1,54.5 40.5,53.0" fill="none" stroke="#d090c8" stroke-width="0.75" opacity="0.92"/>
<polyline points="45.8,13.6 47.1,12.7 48.0,10.8 48.6,8.7" fill="none" stroke="#f0d0d8" stroke-width="0.75" opacity="0.92"/>
<polyline points="5.5,45.4 7.1,43.7 7.6,42.2 8.8,41.0" fill="none" stroke="#f0c8d8" stroke-width="0.75" opacity="0.92"/>
<polyline points="29.3,15.3 29.7,14.2 30.5,13.2 31.1,12.0" fill="none" stroke="#f0d0d8" stroke-width="0.75" opacity="0.92"/>
<polyline points="12.0,10.6 13.5,9.8 15.9,9.4 17.8,8.3" fill="none" stroke="#f0d0d8" stroke-width="0.75" opacity="0.92"/>
<polyline points="25.1,46.7 26.1,47.7 27.7,49.2 28.7,51.5" fill="none" stroke="#f0c8d8" stroke-width="0.75" opacity="0.92"/>
<polyline points="78.2,2.5 79.0,1.1 79.8,-0.7 80.8,-1.7" fill="none" stroke="#f0c8d8" stroke-width="0.75" opacity="0.92"/>
<polyline points="41.1,73.3 39.3,74.0 37.4,75.6 35.2,76.5" fill="none" stroke="#f8e0e8" stroke-width="0.75" opacity="0.92"/>
<polyline points="20.0,46.3 22.4,45.6 23.6,45.1 25.1,44.9" fill="none" stroke="#d090c8" stroke-width="0.75" opacity="0.92"/>
<polyline points="23.1,16.9 23.7,15.1 25.1,13.0 25.7,11.5" fill="none" stroke="#f0d0d8" stroke-width="0.75" opacity="0.92"/>
<polyline points="62.6,79.2 63.2,77.9 63.8,76.6 64.3,74.7" fill="none" stroke="#f0c8d8" stroke-width="0.75" opacity="0.92"/>
<polyline points="20.0,63.0 18.7,63.7 17.3,65.2 15.7,66.8" fill="none" stroke="#e8b0c8" stroke-width="0.75" opacity="0.92"/>
<polyline points="46.1,56.1 47.5,54.9 48.9,53.0 50.0,51.9" fill="none" stroke="#e8a880" stroke-width="0.75" opacity="0.92"/>
<polyline points="21.2,65.9 22.4,68.0 23.4,68.7 25.2,70.3" fill="none" stroke="#f0d0d8" stroke-width="0.75" opacity="0.92"/>
<polyline points="23.6,61.8 25.1,60.1 27.0,58.7 28.7,57.0" fill="none" stroke="#f0d0d8" stroke-width="0.75" opacity="0.92"/>
<polyline points="25.0,25.7 23.3,24.8 21.4,24.1 19.0,23.7" fill="none" stroke="#ffffff" stroke-width="0.75" opacity="0.92"/>
<polyline points="70.7,18.3 72.3,17.6 73.4,17.2 75.7,16.8" fill="none" stroke="#ffffff" stroke-width="0.75" opacity="0.92"/>
<polyline points="38.0,23.1 37.9,21.4 36.8,19.5 34.8,18.1" fill="none" stroke="#e8b0c8" stroke-width="0.75" opacity="0.92"/>
<polyline points="71.0,55.0 71.4,56.8 71.7,58.3 71.5,59.8" fill="none" stroke="#f8e0e8" stroke-width="0.75" opacity="0.92"/>
<polyline points="21.9,54.9 22.4,53.0 23.5,50.9 23.9,48.9" fill="none" stroke="#f0d0d8" stroke-width="0.75" opacity="0.92"/>
<polyline points="18.8,6.0 20.0,5.5 21.9,4.9 23.9,5.0" fill="none" stroke="#e8a880" stroke-width="0.75" opacity="0.92"/>
<polyline points="50.2,44.3 50.2,45.5 49.8,47.8 48.8,50.1" fill="none" stroke="#e8a880" stroke-width="0.75" opacity="0.92"/>
<polyline points="59.6,64.8 61.1,62.8 62.9,61.8 65.1,61.3" fill="none" stroke="#ffffff" stroke-width="0.75" opacity="0.92"/>
<polyline points="2.5,45.2 3.4,44.4 4.1,43.5 6.3,42.4" fill="none" stroke="#d090c8" stroke-width="0.75" opacity="0.92"/>
<polyline points="8.0,51.7 7.9,50.3 8.7,48.3 9.9,46.3" fill="none" stroke="#e8a880" stroke-width="0.75" opacity="0.92"/>
<polyline points="31.2,79.6 31.9,78.1 33.1,76.8 35.1,75.6" fill="none" stroke="#f8e0e8" stroke-width="0.75" opacity="0.92"/>
<polyline points="37.1,3.3 38.7,4.5 39.8,5.5 41.9,6.4" fill="none" stroke="#e8a880" stroke-width="0.75" opacity="0.92"/>
<polyline points="10.8,56.6 11.1,55.2 12.2,53.5 13.9,52.0" fill="none" stroke="#ffffff" stroke-width="0.75" opacity="0.92"/>
<polyline points="45.9,64.8 43.9,63.7 42.4,63.1 41.0,61.6" fill="none" stroke="#ffffff" stroke-width="0.75" opacity="0.92"/>
<polyline points="1.4,36.2 2.2,33.8 2.1,31.4 1.7,29.9" fill="none" stroke="#f0d0d8" stroke-width="0.75" opacity="0.92"/>
<polyline points="30.3,63.9 31.8,62.3 32.4,60.6 33.0,58.3" fill="none" stroke="#e8a880" stroke-width="0.75" opacity="0.92"/>
<polyline points="23.1,35.2 23.3,37.6 23.5,39.9 23.7,41.6" fill="none" stroke="#d090c8" stroke-width="0.75" opacity="0.92"/>
<polyline points="18.7,68.8 20.4,67.7 22.0,67.5 24.4,67.0" fill="none" stroke="#e8a880" stroke-width="0.75" opacity="0.92"/>
<polyline points="55.6,73.9 57.1,72.7 58.8,72.0 60.2,70.6" fill="none" stroke="#e8a880" stroke-width="0.75" opacity="0.92"/>
<polyline points="48.6,77.7 49.6,75.9 51.1,74.6 52.8,73.3" fill="none" stroke="#d090c8" stroke-width="0.75" opacity="0.92"/>
<polyline points="12.9,35.9 15.1,36.3 17.4,37.2 18.8,37.3" fill="none" stroke="#e8a880" stroke-width="0.75" opacity="0.92"/>
<polyline points="78.8,69.2 81.2,68.2 82.5,67.7 84.6,67.3" fill="none" stroke="#f8e0e8" stroke-width="0.75" opacity="0.92"/>
<polyline points="48.2,5.3 49.0,4.0 49.5,1.6 50.5,0.1" fill="none" stroke="#e8b0c8" stroke-width="0.75" opacity="0.92"/>
<polyline points="70.0,1.5 72.0,0.6 73.9,-0.8 75.6,-2.5" fill="none" stroke="#e8a880" stroke-width="0.75" opacity="0.92"/>
<polyline points="29.6,3.1 29.1,4.5 28.1,6.0 27.8,7.5" fill="none" stroke="#e8b0c8" stroke-width="0.75" opacity="0.92"/>
<polyline points="1.8,69.3 1.7,66.7 1.8,64.5 2.7,62.8" fill="none" stroke="#f8e0e8" stroke-width="0.75" opacity="0.92"/>
<polyline points="44.6,11.4 45.4,9.0 46.4,7.5 47.8,6.7" fill="none" stroke="#f8e0e8" stroke-width="0.75" opacity="0.92"/>
<polyline points="13.2,54.8 14.9,52.8 16.4,51.3 18.3,50.1" fill="none" stroke="#d090c8" stroke-width="0.75" opacity="0.92"/>
<polyline points="76.2,40.1 74.6,39.9 72.6,39.7 70.2,39.3" fill="none" stroke="#e8a880" stroke-width="0.75" opacity="0.92"/>
<polyline points="74.8,64.3 76.7,62.9 78.9,62.1 80.2,62.2" fill="none" stroke="#e8b0c8" stroke-width="0.75" opacity="0.92"/>
<polyline points="26.6,28.1 27.2,26.4 27.0,25.0 27.6,23.2" fill="none" stroke="#f8e0e8" stroke-width="0.75" opacity="0.92"/>
<polyline points="36.1,53.9 36.8,52.6 37.3,50.7 38.0,49.5" fill="none" stroke="#f0c8d8" stroke-width="0.75" opacity="0.92"/>
<polyline points="43.3,59.0 43.7,56.7 44.2,55.5 45.0,54.5" fill="none" stroke="#f0d0d8" stroke-width="0.75" opacity="0.92"/>
<polyline points="31.9,32.5 32.9,31.4 33.6,30.0 34.6,29.3" fill="none" stroke="#f8e0e8" stroke-width="0.75" opacity="0.92"/>
<polyline points="10.6,15.0 11.6,13.6 12.9,11.7 13.5,9.9" fill="none" stroke="#f0c8d8" stroke-width="0.75" opacity="0.92"/>
<polyline points="61.2,74.9 60.0,75.9 57.8,76.9 56.3,78.4" fill="none" stroke="#ffffff" stroke-width="0.75" opacity="0.92"/>
<polyline points="81.1,82.1 80.9,80.6 79.9,78.5 79.3,77.4" fill="none" stroke="#d090c8" stroke-width="0.75" opacity="0.92"/>
<polyline points="25.9,18.8 23.7,17.9 22.2,17.2 20.6,16.7" fill="none" stroke="#ffffff" stroke-width="0.75" opacity="0.92"/>
<polyline points="59.6,17.7 61.2,19.3 62.8,20.1 64.8,20.2" fill="none" stroke="#f8e0e8" stroke-width="0.75" opacity="0.92"/>
<polyline points="77.1,17.0 75.0,16.9 73.2,17.1 72.0,16.9" fill="none" stroke="#f0c8d8" stroke-width="0.75" opacity="0.92"/>
<polyline points="11.9,63.2 11.8,64.8 11.5,66.8 11.8,68.2" fill="none" stroke="#d090c8" stroke-width="0.75" opacity="0.92"/>
<polyline points="33.2,21.8 34.0,20.2 34.6,18.9 35.0,17.6" fill="none" stroke="#f8e0e8" stroke-width="0.75" opacity="0.92"/>
<polyline points="2.5,15.2 2.1,13.3 2.8,10.9 2.6,9.7" fill="none" stroke="#d090c8" stroke-width="0.75" opacity="0.92"/>
<polyline points="77.2,37.0 79.1,37.5 81.2,37.5 82.7,37.9" fill="none" stroke="#f0c8d8" stroke-width="0.75" opacity="0.92"/>
<polyline points="73.5,1.2 73.5,-0.7 72.5,-3.0 71.0,-4.7" fill="none" stroke="#e8b0c8" stroke-width="0.75" opacity="0.92"/>
<polyline points="60.9,8.3 61.8,6.3 62.7,4.9 64.7,3.8" fill="none" stroke="#f8e0e8" stroke-width="0.75" opacity="0.92"/>
<polyline points="82.0,39.7 83.3,41.3 85.4,42.8 86.3,44.7" fill="none" stroke="#d090c8" stroke-width="0.75" opacity="0.92"/>
<polyline points="71.2,42.3 71.4,41.1 71.5,39.7 71.3,37.3" fill="none" stroke="#f0c8d8" stroke-width="0.75" opacity="0.92"/>
<polyline points="52.9,73.1 53.1,71.7 53.1,69.8 53.3,68.5" fill="none" stroke="#f8e0e8" stroke-width="0.75" opacity="0.92"/>
<polyline points="2.6,18.1 3.6,18.7 5.5,20.2 6.6,22.2" fill="none" stroke="#e8b0c8" stroke-width="0.75" opacity="0.92"/>
<polyline points="71.5,72.3 72.7,74.1 74.9,75.4 76.9,77.0" fill="none" stroke="#e8b0c8" stroke-width="0.75" opacity="0.92"/>
<polyline points="78.2,61.4 78.4,60.2 78.2,57.9 77.5,56.6" fill="none" stroke="#e8b0c8" stroke-width="0.75" opacity="0.92"/>
<polyline points="78.3,47.0 77.6,48.7 76.2,49.9 75.0,51.8" fill="none" stroke="#f0c8d8" stroke-width="0.75" opacity="0.92"/>
<polyline points="36.4,25.5 36.4,23.9 36.8,22.3 36.8,21.0" fill="none" stroke="#e8a880" stroke-width="0.75" opacity="0.92"/>
<polyline points="44.2,44.9 44.9,43.5 46.1,41.9 46.3,40.5" fill="none" stroke="#f0d0d8" stroke-width="0.75" opacity="0.92"/>
<polyline points="69.3,40.6 70.1,39.4 71.9,37.5 72.9,36.9" fill="none" stroke="#f0c8d8" stroke-width="0.75" opacity="0.92"/>
<polyline points="36.3,55.0 38.2,54.0 40.0,52.6 41.8,51.6" fill="none" stroke="#f0d0d8" stroke-width="0.75" opacity="0.92"/>
<polyline points="65.8,46.4 67.0,47.1 68.6,48.7 69.8,50.4" fill="none" stroke="#f0c8d8" stroke-width="0.75" opacity="0.92"/>
<polyline points="68.8,61.2 69.6,60.1 70.1,58.2 71.3,56.8" fill="none" stroke="#f8e0e8" stroke-width="0.75" opacity="0.92"/>
<polyline points="81.7,84.2 81.5,81.9 82.6,79.5 84.3,78.1" fill="none" stroke="#f8e0e8" stroke-width="0.75" opacity="0.92"/>
<polyline points="13.6,39.5 14.6,38.3 16.4,37.0 17.6,36.4" fill="none" stroke="#f0c8d8" stroke-width="0.75" opacity="0.92"/>
<polyline points="1.5,43.9 1.0,45.5 0.6,47.4 0.2,49.8" fill="none" stroke="#e8b0c8" stroke-width="0.75" opacity="0.92"/>
<polyline points="28.7,17.4 30.4,15.9 31.7,15.4 33.9,14.4" fill="none" stroke="#d090c8" stroke-width="0.75" opacity="0.92"/>
<polyline points="14.7,59.5 16.1,58.9 18.1,58.4 20.0,58.9" fill="none" stroke="#e8b0c8" stroke-width="0.75" opacity="0.92"/>
<polyline points="19.4,51.8 19.8,49.6 20.7,48.4 22.0,47.4" fill="none" stroke="#f0c8d8" stroke-width="0.75" opacity="0.92"/>
<polyline points="33.2,47.6 32.7,46.0 31.5,44.3 29.8,42.7" fill="none" stroke="#f0c8d8" stroke-width="0.75" opacity="0.92"/>
<polyline points="1.7,69.7 3.3,68.8 4.9,67.0 5.6,66.0" fill="none" stroke="#ffffff" stroke-width="0.75" opacity="0.92"/>
<polyline points="2.0,0.7 3.2,-1.3 4.3,-2.2 6.1,-2.6" fill="none" stroke="#ffffff" stroke-width="0.75" opacity="0.92"/>
<polyline points="75.0,62.3 75.1,60.1 75.8,58.3 75.9,56.0" fill="none" stroke="#f0c8d8" stroke-width="0.75" opacity="0.92"/>
<polyline points="36.4,38.6 37.2,36.5 37.1,34.9 36.9,33.1" fill="none" stroke="#d090c8" stroke-width="0.75" opacity="0.92"/>
<polyline points="44.8,25.6 47.0,24.8 48.9,23.3 50.8,21.7" fill="none" stroke="#f0d0d8" stroke-width="0.75" opacity="0.92"/>
<polyline points="4.6,55.3 2.6,54.7 1.0,54.2 -0.3,53.4" fill="none" stroke="#e8b0c8" stroke-width="0.75" opacity="0.92"/>
<polyline points="37.4,55.7 36.1,55.7 34.7,56.0 32.9,57.6" fill="none" stroke="#f0d0d8" stroke-width="0.75" opacity="0.92"/>
<polyline points="42.8,2.1 43.2,0.2 44.6,-1.7 46.2,-2.6" fill="none" stroke="#e8b0c8" stroke-width="0.75" opacity="0.92"/>
<polyline points="67.5,43.6 68.9,41.6 69.1,40.3 69.2,38.8" fill="none" stroke="#d090c8" stroke-width="0.75" opacity="0.92"/>
<polyline points="45.2,37.9 42.8,37.2 40.9,36.9 38.4,36.8" fill="none" stroke="#e8a880" stroke-width="0.75" opacity="0.92"/>
<polyline points="56.5,6.9 56.4,4.6 56.6,2.7 57.4,1.2" fill="none" stroke="#e8a880" stroke-width="0.75" opacity="0.92"/>
<polyline points="57.6,62.3 56.9,64.8 56.0,66.9 55.8,68.4" fill="none" stroke="#f8e0e8" stroke-width="0.75" opacity="0.92"/>
<polyline points="26.4,23.2 26.1,25.2 26.0,26.8 25.5,29.0" fill="none" stroke="#e8b0c8" stroke-width="0.75" opacity="0.92"/>
<polyline points="71.5,25.9 73.2,25.3 74.3,25.1 76.3,25.6" fill="none" stroke="#f0c8d8" stroke-width="0.75" opacity="0.92"/>
<polyline points="57.1,30.7 58.7,29.5 59.9,28.6 60.7,27.3" fill="none" stroke="#e8b0c8" stroke-width="0.75" opacity="0.92"/>
<polyline points="50.0,49.7 50.5,48.2 51.0,46.6 51.0,44.2" fill="none" stroke="#f0c8d8" stroke-width="0.75" opacity="0.92"/>
<polyline points="10.9,3.8 11.2,2.6 10.9,0.3 11.2,-1.3" fill="none" stroke="#d090c8" stroke-width="0.75" opacity="0.92"/>
<polyline points="9.3,63.2 9.3,61.8 8.8,60.4 8.8,58.1" fill="none" stroke="#f0d0d8" stroke-width="0.75" opacity="0.92"/>
<polyline points="14.0,36.0 15.3,35.0 16.4,33.7 17.7,32.7" fill="none" stroke="#d090c8" stroke-width="0.75" opacity="0.92"/>
<polyline points="48.3,56.3 49.4,54.0 49.4,51.6 49.5,49.1" fill="none" stroke="#ffffff" stroke-width="0.75" opacity="0.92"/>
<polyline points="25.3,2.0 25.6,0.6 25.6,-1.2 25.0,-2.7" fill="none" stroke="#e8b0c8" stroke-width="0.75" opacity="0.92"/>
<polyline points="82.0,18.5 83.3,17.6 85.1,17.3 86.7,16.3" fill="none" stroke="#e8b0c8" stroke-width="0.75" opacity="0.92"/>
<polyline points="46.3,3.6 43.9,3.5 42.3,4.2 40.2,5.0" fill="none" stroke="#e8a880" stroke-width="0.75" opacity="0.92"/>
<polyline points="81.3,69.4 81.0,67.3 81.6,65.2 82.4,63.5" fill="none" stroke="#d090c8" stroke-width="0.75" opacity="0.92"/>
<polyline points="20.3,70.4 21.8,71.0 23.6,71.7 25.6,73.0" fill="none" stroke="#e8a880" stroke-width="0.75" opacity="0.92"/>
<polyline points="59.7,76.0 58.6,74.5 57.3,72.9 55.6,71.3" fill="none" stroke="#f0d0d8" stroke-width="0.75" opacity="0.92"/>
<polyline points="16.5,26.6 16.8,24.7 17.5,22.6 17.1,20.2" fill="none" stroke="#f8e0e8" stroke-width="0.75" opacity="0.92"/>
<polyline points="42.1,6.6 43.5,4.6 44.4,3.0 44.8,1.7" fill="none" stroke="#f0d0d8" stroke-width="0.75" opacity="0.92"/>
<polyline points="58.7,79.4 59.4,78.0 59.8,76.1 61.1,74.1" fill="none" stroke="#f0c8d8" stroke-width="0.75" opacity="0.92"/>
<polyline points="82.9,56.3 84.1,56.0 86.2,56.3 88.0,56.0" fill="none" stroke="#e8b0c8" stroke-width="0.75" opacity="0.92"/>
<polyline points="55.0,73.7 56.0,72.2 56.4,70.1 57.2,68.1" fill="none" stroke="#f0c8d8" stroke-width="0.75" opacity="0.92"/>
<polyline points="10.1,81.5 11.6,83.0 12.7,85.0 13.9,86.1" fill="none" stroke="#f8e0e8" stroke-width="0.75" opacity="0.92"/>
<polyline points="43.2,73.7 43.8,71.9 44.0,70.4 44.3,68.0" fill="none" stroke="#f0c8d8" stroke-width="0.75" opacity="0.92"/>
<polyline points="15.8,72.7 16.3,71.2 16.6,70.0 17.1,68.8" fill="none" stroke="#e8b0c8" stroke-width="0.75" opacity="0.92"/>
<polyline points="18.1,68.5 19.5,67.7 20.7,66.9 22.1,65.2" fill="none" stroke="#f0c8d8" stroke-width="0.75" opacity="0.92"/>
<polyline points="72.1,5.2 72.5,3.8 72.9,2.7 72.6,1.1" fill="none" stroke="#ffffff" stroke-width="0.75" opacity="0.92"/>
<polyline points="55.3,57.2 56.4,56.1 58.4,54.9 59.4,53.8" fill="none" stroke="#f0c8d8" stroke-width="0.75" opacity="0.92"/>
<polyline points="46.0,67.6 47.9,67.4 50.0,67.2 52.3,67.1" fill="none" stroke="#e8a880" stroke-width="0.75" opacity="0.92"/>
<polyline points="63.9,38.0 65.6,37.1 67.5,36.5 68.9,36.2" fill="none" stroke="#e8b0c8" stroke-width="0.75" opacity="0.92"/>
<polyline points="36.9,1.8 36.9,0.2 37.1,-1.5 36.9,-4.1" fill="none" stroke="#f0d0d8" stroke-width="0.75" opacity="0.92"/>
<polyline points="62.0,54.8 59.7,54.5 58.4,53.7 56.0,52.7" fill="none" stroke="#e8b0c8" stroke-width="0.75" opacity="0.92"/>
<polyline points="67.8,72.0 69.1,71.3 71.5,71.2 73.8,72.1" fill="none" stroke="#f0c8d8" stroke-width="0.75" opacity="0.92"/>
<polyline points="80.3,70.7 80.1,69.4 80.7,67.8 82.0,65.8" fill="none" stroke="#d090c8" stroke-width="0.75" opacity="0.92"/>
<polyline points="5.9,35.2 5.8,32.7 5.9,30.2 7.1,28.0" fill="none" stroke="#e8b0c8" stroke-width="0.75" opacity="0.92"/>
<polyline points="34.1,1.3 36.3,-0.1 37.6,-0.6 39.4,-0.7" fill="none" stroke="#f0d0d8" stroke-width="0.75" opacity="0.92"/>
<polyline points="78.4,7.7 79.1,5.9 79.9,4.5 80.6,3.4" fill="none" stroke="#f8e0e8" stroke-width="0.75" opacity="0.92"/>
<polyline points="82.0,48.1 80.5,48.8 78.2,49.8 76.9,51.1" fill="none" stroke="#f8e0e8" stroke-width="0.75" opacity="0.92"/>
<polyline points="48.3,45.5 49.6,45.9 50.7,46.6 52.6,47.8" fill="none" stroke="#e8a880" stroke-width="0.75" opacity="0.92"/>
<polyline points="57.7,73.4 55.3,73.1 53.3,72.2 52.4,71.1" fill="none" stroke="#f0c8d8" stroke-width="0.75" opacity="0.92"/>
<polyline points="80.9,79.2 82.4,80.4 83.8,82.4 84.7,83.2" fill="none" stroke="#e8a880" stroke-width="0.75" opacity="0.92"/>
<polyline points="15.4,39.9 15.8,42.1 16.5,44.2 17.1,46.2" fill="none" stroke="#d090c8" stroke-width="0.75" opacity="0.92"/>
<polyline points="37.4,84.2 38.6,83.9 40.0,83.8 42.0,83.8" fill="none" stroke="#f0c8d8" stroke-width="0.75" opacity="0.92"/>
<polyline points="31.6,57.4 32.5,58.9 32.6,60.9 31.9,62.7" fill="none" stroke="#e8a880" stroke-width="0.75" opacity="0.92"/>
<polyline points="52.9,56.8 54.1,55.9 56.0,54.8 58.0,54.0" fill="none" stroke="#ffffff" stroke-width="0.75" opacity="0.92"/>
<polyline points="25.8,77.8 26.2,75.8 27.4,73.7 28.5,72.7" fill="none" stroke="#f0d0d8" stroke-width="0.75" opacity="0.92"/>
<polyline points="3.8,39.9 3.6,37.3 4.1,35.7 5.8,34.2" fill="none" stroke="#f0c8d8" stroke-width="0.75" opacity="0.92"/>
<polyline points="31.4,12.2 32.1,10.8 32.9,8.5 34.0,7.0" fill="none" stroke="#e8b0c8" stroke-width="0.75" opacity="0.92"/>
<polyline points="8.1,34.7 9.0,33.3 9.4,31.0 9.1,29.7" fill="none" stroke="#e8b0c8" stroke-width="0.75" opacity="0.92"/>
<polyline points="79.8,26.5 81.2,24.6 81.8,23.4 82.5,22.3" fill="none" stroke="#e8a880" stroke-width="0.75" opacity="0.92"/>
<polyline points="40.1,24.5 40.7,23.0 40.5,21.7 40.9,19.9" fill="none" stroke="#f0d0d8" stroke-width="0.75" opacity="0.92"/>
<polyline points="18.3,65.8 18.6,63.8 18.5,62.5 19.5,60.2" fill="none" stroke="#e8b0c8" stroke-width="0.75" opacity="0.92"/>
<polyline points="53.1,68.6 54.5,67.3 55.9,66.5 57.5,66.1" fill="none" stroke="#f0d0d8" stroke-width="0.75" opacity="0.92"/>
<polyline points="14.5,36.5 16.3,38.2 17.5,39.4 18.6,41.7" fill="none" stroke="#f0d0d8" stroke-width="0.75" opacity="0.92"/>
<polyline points="50.0,13.1 49.8,11.2 50.4,9.5 51.6,7.8" fill="none" stroke="#f0c8d8" stroke-width="0.75" opacity="0.92"/>
<polyline points="14.3,49.4 15.9,49.5 17.4,49.0 19.9,49.2" fill="none" stroke="#f0d0d8" stroke-width="0.75" opacity="0.92"/>
<polyline points="71.8,70.7 73.3,69.7 74.9,69.0 76.3,68.6" fill="none" stroke="#f8e0e8" stroke-width="0.75" opacity="0.92"/>
<polyline points="72.2,9.0 74.0,7.7 75.2,6.1 75.7,3.9" fill="none" stroke="#e8a880" stroke-width="0.75" opacity="0.92"/>
<polyline points="2.2,49.0 4.0,47.7 6.3,47.0 8.3,47.3" fill="none" stroke="#e8b0c8" stroke-width="0.75" opacity="0.92"/>
<polyline points="73.8,19.0 74.5,17.4 76.0,16.1 77.7,14.7" fill="none" stroke="#f0d0d8" stroke-width="0.75" opacity="0.92"/>
<polyline points="0.3,25.8 1.1,24.7 1.3,22.3 1.4,20.1" fill="none" stroke="#e8a880" stroke-width="0.75" opacity="0.92"/>
<polyline points="49.3,63.3 50.2,60.8 51.3,59.8 52.6,58.8" fill="none" stroke="#e8b0c8" stroke-width="0.75" opacity="0.92"/>
<polyline points="62.2,33.3 64.1,32.5 65.3,32.0 66.5,31.5" fill="none" stroke="#e8a880" stroke-width="0.75" opacity="0.92"/>
<polyline points="3.5,30.2 2.3,32.1 1.8,34.3 0.2,36.1" fill="none" stroke="#f0c8d8" stroke-width="0.75" opacity="0.92"/>
<polyline points="38.6,83.7 36.6,84.4 34.5,85.5 33.0,86.4" fill="none" stroke="#f8e0e8" stroke-width="0.75" opacity="0.92"/>
<polyline points="31.2,54.0 32.7,54.5 34.5,54.9 35.8,55.2" fill="none" stroke="#e8b0c8" stroke-width="0.75" opacity="0.92"/>
<polyline points="13.6,20.0 14.2,17.9 13.9,16.6 14.1,14.3" fill="none" stroke="#e8a880" stroke-width="0.75" opacity="0.92"/>
<polyline points="25.7,31.0 27.3,29.7 29.3,28.2 30.9,27.1" fill="none" stroke="#ffffff" stroke-width="0.75" opacity="0.92"/>
<polyline points="2.4,45.7 2.4,44.5 2.3,42.6 1.9,41.1" fill="none" stroke="#e8a880" stroke-width="0.75" opacity="0.92"/>
<polyline points="18.4,19.2 18.4,17.0 17.5,14.8 16.8,13.4" fill="none" stroke="#e8a880" stroke-width="0.75" opacity="0.92"/>
<polyline points="62.5,71.2 61.5,72.6 61.2,73.8 61.1,75.1" fill="none" stroke="#d090c8" stroke-width="0.75" opacity="0.92"/>
<polyline points="71.6,53.9 72.5,52.4 74.3,50.8 75.9,48.7" fill="none" stroke="#f8e0e8" stroke-width="0.75" opacity="0.92"/>
<polyline points="78.4,17.3 78.6,15.3 78.8,13.9 78.6,11.6" fill="none" stroke="#f8e0e8" stroke-width="0.75" opacity="0.92"/>
<polyline points="21.1,30.3 22.0,28.0 22.3,25.6 23.2,24.0" fill="none" stroke="#e8b0c8" stroke-width="0.75" opacity="0.92"/>
<polyline points="61.6,35.4 62.1,34.3 62.9,32.8 64.1,31.6" fill="none" stroke="#e8a880" stroke-width="0.75" opacity="0.92"/>
<polyline points="24.3,51.1 26.2,49.7 27.5,49.2 29.2,48.1" fill="none" stroke="#d090c8" stroke-width="0.75" opacity="0.92"/>
<polyline points="20.1,76.0 20.4,73.9 20.8,72.3 21.1,71.1" fill="none" stroke="#d090c8" stroke-width="0.75" opacity="0.92"/>
<polyline points="28.9,66.2 28.4,67.9 27.4,69.4 25.7,71.3" fill="none" stroke="#f0c8d8" stroke-width="0.75" opacity="0.92"/>
<polyline points="25.5,44.7 26.1,43.3 26.3,41.6 25.9,39.9" fill="none" stroke="#f0c8d8" stroke-width="0.75" opacity="0.92"/>
<polyline points="15.2,17.5 13.7,16.8 12.3,15.7 11.3,13.4" fill="none" stroke="#f8e0e8" stroke-width="0.75" opacity="0.92"/>
<polyline points="62.4,65.1 62.9,67.5 64.0,69.8 64.9,71.4" fill="none" stroke="#f0c8d8" stroke-width="0.75" opacity="0.92"/>
<polyline points="21.0,51.9 21.2,49.7 21.9,47.9 21.9,46.2" fill="none" stroke="#f0c8d8" stroke-width="0.75" opacity="0.92"/>
<polyline points="41.6,66.0 41.7,64.7 42.8,62.6 42.8,60.8" fill="none" stroke="#f8e0e8" stroke-width="0.75" opacity="0.92"/>
<polyline points="28.2,71.7 28.4,70.2 29.9,68.4 30.6,66.2" fill="none" stroke="#f0c8d8" stroke-width="0.75" opacity="0.92"/>
<polyline points="41.7,35.2 42.7,33.1 42.7,31.5 43.1,30.1" fill="none" stroke="#f8e0e8" stroke-width="0.75" opacity="0.92"/>
<polyline points="1.4,11.2 2.8,13.3 3.1,15.6 3.3,17.8" fill="none" stroke="#e8b0c8" stroke-width="0.75" opacity="0.92"/>
<polyline points="15.0,33.9 14.8,32.4 14.3,31.3 14.6,28.7" fill="none" stroke="#ffffff" stroke-width="0.75" opacity="0.92"/>
<polyline points="72.4,83.8 70.9,85.6 69.5,87.1 67.7,88.8" fill="none" stroke="#e8a880" stroke-width="0.75" opacity="0.92"/>
<polyline points="82.3,42.8 84.2,43.8 86.7,44.3 88.7,44.5" fill="none" stroke="#e8a880" stroke-width="0.75" opacity="0.92"/>
<polyline points="15.6,22.4 15.5,23.8 15.2,25.3 14.0,27.0" fill="none" stroke="#e8b0c8" stroke-width="0.75" opacity="0.92"/>
<polyline points="62.9,12.2 63.4,10.8 64.3,9.7 65.7,7.9" fill="none" stroke="#e8b0c8" stroke-width="0.75" opacity="0.92"/>
<polyline points="48.0,61.4 50.3,61.6 51.7,61.5 53.4,62.0" fill="none" stroke="#f8e0e8" stroke-width="0.75" opacity="0.92"/>
<polyline points="8.6,43.2 6.6,43.9 5.1,44.6 4.1,45.5" fill="none" stroke="#ffffff" stroke-width="0.75" opacity="0.92"/>
<polyline points="32.3,64.7 33.6,63.7 35.6,62.9 37.8,61.9" fill="none" stroke="#e8a880" stroke-width="0.75" opacity="0.92"/>
<polyline points="78.7,84.9 80.5,85.4 82.3,85.2 84.7,86.1" fill="none" stroke="#d090c8" stroke-width="0.75" opacity="0.92"/>
<polyline points="26.3,29.0 27.3,28.2 28.7,26.8 29.9,25.7" fill="none" stroke="#d090c8" stroke-width="0.75" opacity="0.92"/>
<polyline points="68.4,45.3 66.5,46.7 65.8,47.9 65.1,49.3" fill="none" stroke="#ffffff" stroke-width="0.75" opacity="0.92"/>
<polyline points="11.5,44.3 10.0,43.4 8.5,42.2 7.1,40.5" fill="none" stroke="#d090c8" stroke-width="0.75" opacity="0.92"/>
<polyline points="48.0,60.2 48.7,58.9 49.3,57.6 50.8,56.7" fill="none" stroke="#e8b0c8" stroke-width="0.75" opacity="0.92"/>
<polyline points="20.4,51.4 22.2,49.8 24.2,49.3 26.1,48.9" fill="none" stroke="#f8e0e8" stroke-width="0.75" opacity="0.92"/>
<polyline points="22.7,43.2 24.3,41.7 26.5,40.9 28.4,40.4" fill="none" stroke="#f0c8d8" stroke-width="0.75" opacity="0.92"/>
<polyline points="1.0,66.6 -0.0,65.2 -0.7,63.9 -2.0,62.6" fill="none" stroke="#f8e0e8" stroke-width="0.75" opacity="0.92"/>
<polyline points="51.0,15.0 52.2,14.2 53.7,13.0 54.3,11.7" fill="none" stroke="#e8a880" stroke-width="0.75" opacity="0.92"/>
<polyline points="24.6,3.8 25.7,4.7 27.2,6.8 27.8,8.0" fill="none" stroke="#f8e0e8" stroke-width="0.75" opacity="0.92"/>
<polyline points="77.4,1.6 75.2,0.6 72.7,0.3 70.5,-0.5" fill="none" stroke="#ffffff" stroke-width="0.75" opacity="0.92"/>
<polyline points="61.9,72.3 62.0,70.1 62.7,68.3 63.3,66.8" fill="none" stroke="#ffffff" stroke-width="0.75" opacity="0.92"/>
<polyline points="45.9,75.6 47.6,74.3 49.0,73.7 51.5,73.2" fill="none" stroke="#d090c8" stroke-width="0.75" opacity="0.92"/>
<polyline points="56.9,79.4 57.9,77.7 58.3,76.3 59.3,74.2" fill="none" stroke="#f0c8d8" stroke-width="0.75" opacity="0.92"/>
<polyline points="75.4,51.7 75.9,49.3 76.7,47.8 77.4,45.4" fill="none" stroke="#ffffff" stroke-width="0.75" opacity="0.92"/>
<polyline points="14.2,4.4 12.6,3.7 11.3,2.8 10.4,1.2" fill="none" stroke="#ffffff" stroke-width="0.75" opacity="0.92"/>
<polyline points="65.2,47.9 65.7,46.0 66.4,44.9 68.0,43.8" fill="none" stroke="#e8b0c8" stroke-width="0.75" opacity="0.92"/>
<polyline points="60.4,56.2 61.7,55.6 63.1,55.0 64.7,53.6" fill="none" stroke="#f8e0e8" stroke-width="0.75" opacity="0.92"/>
<polyline points="4.9,61.7 5.2,64.3 5.1,65.6 4.9,67.9" fill="none" stroke="#f8e0e8" stroke-width="0.75" opacity="0.92"/>
<polyline points="39.1,58.8 37.7,58.9 36.4,59.6 35.2,60.3" fill="none" stroke="#f0c8d8" stroke-width="0.75" opacity="0.92"/>
<polyline points="24.3,1.1 23.7,-0.6 24.0,-2.8 25.2,-4.7" fill="none" stroke="#e8b0c8" stroke-width="0.75" opacity="0.92"/>
<polyline points="39.2,9.1 39.6,7.0 39.2,4.8 38.1,2.8" fill="none" stroke="#f0d0d8" stroke-width="0.75" opacity="0.92"/>
<polyline points="10.7,52.5 8.7,51.0 7.4,49.4 6.9,47.5" fill="none" stroke="#f0d0d8" stroke-width="0.75" opacity="0.92"/>
<polyline points="27.1,46.8 28.7,45.3 30.8,44.8 32.6,44.0" fill="none" stroke="#e8b0c8" stroke-width="0.75" opacity="0.92"/>
<polyline points="60.2,79.4 61.8,81.2 63.1,81.8 64.5,81.8" fill="none" stroke="#e8b0c8" stroke-width="0.75" opacity="0.92"/>
<polyline points="73.0,12.2 73.9,10.8 75.0,9.5 76.2,7.8" fill="none" stroke="#f0c8d8" stroke-width="0.75" opacity="0.92"/>
<polyline points="31.9,53.0 30.5,53.3 28.3,54.4 26.1,55.7" fill="none" stroke="#f0d0d8" stroke-width="0.75" opacity="0.92"/>
<polyline points="49.6,32.7 51.6,32.3 53.2,32.0 54.4,32.3" fill="none" stroke="#ffffff" stroke-width="0.75" opacity="0.92"/>
<polyline points="67.3,29.0 67.7,27.7 67.9,25.2 67.9,23.5" fill="none" stroke="#f8e0e8" stroke-width="0.75" opacity="0.92"/>
<polyline points="23.6,53.1 23.8,50.7 23.0,48.8 21.7,47.1" fill="none" stroke="#e8a880" stroke-width="0.75" opacity="0.92"/>
<polyline points="57.8,17.8 55.7,17.7 53.4,16.7 51.2,16.8" fill="none" stroke="#f0d0d8" stroke-width="0.75" opacity="0.92"/>
<polyline points="14.9,81.5 13.4,81.4 12.2,81.7 9.9,81.9" fill="none" stroke="#e8b0c8" stroke-width="0.75" opacity="0.92"/>
<polyline points="52.2,17.6 52.0,19.2 50.9,21.2 50.5,22.7" fill="none" stroke="#f0c8d8" stroke-width="0.75" opacity="0.92"/>
<polyline points="11.6,4.4 10.3,3.5 9.6,2.4 8.8,0.2" fill="none" stroke="#d090c8" stroke-width="0.75" opacity="0.92"/>
<polyline points="43.0,11.4 44.3,9.6 46.5,8.4 47.7,6.9" fill="none" stroke="#f0c8d8" stroke-width="0.75" opacity="0.92"/>
<polyline points="0.5,2.6 -1.4,2.7 -3.6,3.2 -5.8,4.1" fill="none" stroke="#f8e0e8" stroke-width="0.75" opacity="0.92"/>
<polyline points="37.0,9.9 37.5,7.5 37.1,5.6 35.7,3.6" fill="none" stroke="#f0c8d8" stroke-width="0.75" opacity="0.92"/>
<polyline points="38.8,58.5 36.9,59.4 35.4,61.4 34.8,62.4" fill="none" stroke="#e8b0c8" stroke-width="0.75" opacity="0.92"/>
<polyline points="58.8,5.6 61.0,4.4 62.2,3.6 64.0,1.9" fill="none" stroke="#d090c8" stroke-width="0.75" opacity="0.92"/>
<polyline points="22.0,55.6 20.5,57.0 19.5,58.3 18.4,59.9" fill="none" stroke="#f0c8d8" stroke-width="0.75" opacity="0.92"/>
<polyline points="70.3,12.6 71.0,11.1 70.9,9.3 71.6,7.7" fill="none" stroke="#f8e0e8" stroke-width="0.75" opacity="0.92"/>
<polyline points="65.2,36.0 66.5,35.6 68.2,34.8 69.9,33.5" fill="none" stroke="#e8a880" stroke-width="0.75" opacity="0.92"/>
<polyline points="8.8,40.9 9.3,39.6 10.6,38.3 12.0,37.1" fill="none" stroke="#f8e0e8" stroke-width="0.75" opacity="0.92"/>
<polyline points="19.9,33.2 21.5,32.4 23.4,32.1 24.7,31.4" fill="none" stroke="#e8b0c8" stroke-width="0.75" opacity="0.92"/>
<polyline points="38.4,84.0 38.2,81.9 37.4,79.8 37.0,78.0" fill="none" stroke="#ffffff" stroke-width="0.75" opacity="0.92"/>
<polyline points="30.2,63.5 32.0,64.3 33.4,65.9 35.0,66.9" fill="none" stroke="#e8b0c8" stroke-width="0.75" opacity="0.92"/>
<polyline points="72.3,58.3 73.2,60.1 74.8,61.7 76.0,63.5" fill="none" stroke="#f0d0d8" stroke-width="0.75" opacity="0.92"/>
<polyline points="30.0,30.4 30.3,28.5 29.7,26.4 28.4,25.0" fill="none" stroke="#f0c8d8" stroke-width="0.75" opacity="0.92"/>
<polyline points="67.6,27.4 68.4,29.0 68.8,30.3 68.7,31.8" fill="none" stroke="#f0c8d8" stroke-width="0.75" opacity="0.92"/>
<polyline points="38.0,30.0 38.7,28.8 39.5,27.5 40.5,26.1" fill="none" stroke="#d090c8" stroke-width="0.75" opacity="0.92"/>
<polyline points="68.7,14.1 66.8,15.0 65.7,16.2 64.8,17.5" fill="none" stroke="#ffffff" stroke-width="0.75" opacity="0.92"/>
<polyline points="20.2,47.3 21.8,46.1 22.7,44.7 24.3,43.6" fill="none" stroke="#f0c8d8" stroke-width="0.75" opacity="0.92"/>
<polyline points="53.3,25.4 54.3,23.4 55.2,22.5 56.9,21.3" fill="none" stroke="#d090c8" stroke-width="0.75" opacity="0.92"/>
<polyline points="26.0,81.4 24.6,82.7 23.4,84.4 22.5,86.3" fill="none" stroke="#e8a880" stroke-width="0.75" opacity="0.92"/>
<polyline points="10.7,13.5 10.4,12.0 9.5,10.2 7.9,8.4" fill="none" stroke="#f8e0e8" stroke-width="0.75" opacity="0.92"/>
<polyline points="10.0,32.6 11.7,31.3 12.5,29.8 12.5,27.6" fill="none" stroke="#e8a880" stroke-width="0.75" opacity="0.92"/>
<polyline points="54.3,29.8 54.7,28.0 55.7,26.3 57.0,24.9" fill="none" stroke="#d090c8" stroke-width="0.75" opacity="0.92"/>
<polyline points="35.6,34.3 37.1,32.7 38.1,31.5 38.7,30.3" fill="none" stroke="#d090c8" stroke-width="0.75" opacity="0.92"/>
<polyline points="73.7,23.8 75.6,22.4 76.9,20.6 78.5,18.6" fill="none" stroke="#f0d0d8" stroke-width="0.75" opacity="0.92"/>
<polyline points="39.0,71.3 40.4,69.3 42.1,67.4 42.8,66.1" fill="none" stroke="#f8e0e8" stroke-width="0.75" opacity="0.92"/>
<polyline points="9.5,46.8 11.3,47.4 12.9,48.4 14.3,48.8" fill="none" stroke="#f8e0e8" stroke-width="0.75" opacity="0.92"/>
<polyline points="17.7,11.3 18.7,10.0 19.3,8.9 20.2,7.1" fill="none" stroke="#f8e0e8" stroke-width="0.75" opacity="0.92"/>
<polyline points="82.5,57.9 83.8,56.4 84.7,54.4 85.3,53.2" fill="none" stroke="#f0d0d8" stroke-width="0.75" opacity="0.92"/>
<polyline points="20.5,12.7 22.7,11.4 23.8,10.3 24.3,9.1" fill="none" stroke="#e8a880" stroke-width="0.75" opacity="0.92"/>
<polyline points="31.3,6.1 31.9,7.7 32.2,9.0 32.2,10.6" fill="none" stroke="#f0d0d8" stroke-width="0.75" opacity="0.92"/>
<polyline points="41.6,20.3 39.2,19.9 37.0,19.2 35.3,19.3" fill="none" stroke="#f8e0e8" stroke-width="0.75" opacity="0.92"/>
<polyline points="26.9,39.2 27.0,37.2 26.5,34.9 26.8,32.7" fill="none" stroke="#f8e0e8" stroke-width="0.75" opacity="0.92"/>
<polyline points="29.2,71.4 26.8,71.8 25.0,72.7 23.5,72.8" fill="none" stroke="#e8a880" stroke-width="0.75" opacity="0.92"/>
<polyline points="79.6,84.8 81.8,84.0 83.7,83.9 86.2,84.5" fill="none" stroke="#f8e0e8" stroke-width="0.75" opacity="0.92"/>
<polyline points="76.0,35.7 77.0,34.1 77.6,31.6 77.5,30.2" fill="none" stroke="#d090c8" stroke-width="0.75" opacity="0.92"/>
<polyline points="24.8,45.0 24.3,47.4 23.2,49.6 22.8,51.7" fill="none" stroke="#f8e0e8" stroke-width="0.75" opacity="0.92"/>
<polyline points="66.0,29.1 66.0,27.4 65.6,25.9 64.7,24.0" fill="none" stroke="#f0c8d8" stroke-width="0.75" opacity="0.92"/>
<polyline points="52.1,65.7 52.6,64.2 52.6,61.9 52.8,60.1" fill="none" stroke="#e8a880" stroke-width="0.75" opacity="0.92"/>
<polyline points="50.4,50.0 48.7,50.7 47.4,50.9 45.6,51.5" fill="none" stroke="#ffffff" stroke-width="0.75" opacity="0.92"/>
<polyline points="61.5,25.8 62.9,25.0 63.7,24.0 64.3,22.8" fill="none" stroke="#f8e0e8" stroke-width="0.75" opacity="0.92"/>
<polyline points="75.5,11.3 77.0,9.6 79.1,8.8 80.5,7.9" fill="none" stroke="#f0d0d8" stroke-width="0.75" opacity="0.92"/>
<polyline points="43.5,29.4 45.6,28.7 47.8,28.6 49.7,28.5" fill="none" stroke="#e8b0c8" stroke-width="0.75" opacity="0.92"/>
<polyline points="33.8,82.4 34.9,80.5 36.9,78.9 38.6,77.7" fill="none" stroke="#f8e0e8" stroke-width="0.75" opacity="0.92"/>
<polyline points="10.0,81.8 11.7,79.9 12.9,78.9 14.2,78.3" fill="none" stroke="#ffffff" stroke-width="0.75" opacity="0.92"/>
<polyline points="32.4,41.1 31.9,39.1 31.0,36.9 30.7,34.8" fill="none" stroke="#f0d0d8" stroke-width="0.75" opacity="0.92"/>
<polyline points="73.5,22.1 74.7,20.5 76.5,19.3 77.6,18.6" fill="none" stroke="#d090c8" stroke-width="0.75" opacity="0.92"/>
<polyline points="66.3,18.6 67.4,17.9 69.4,17.4 70.6,17.4" fill="none" stroke="#ffffff" stroke-width="0.75" opacity="0.92"/>
<polyline points="22.3,43.8 24.5,42.8 25.4,42.0 27.4,40.6" fill="none" stroke="#d090c8" stroke-width="0.75" opacity="0.92"/>
<polyline points="1.0,6.9 1.7,9.0 1.9,10.8 1.7,13.2" fill="none" stroke="#f8e0e8" stroke-width="0.75" opacity="0.92"/>
<polyline points="79.8,30.8 80.4,29.0 81.0,27.7 82.2,26.7" fill="none" stroke="#f0d0d8" stroke-width="0.75" opacity="0.92"/>
<polyline points="47.0,25.3 47.1,23.6 46.3,21.4 44.8,19.5" fill="none" stroke="#e8a880" stroke-width="0.75" opacity="0.92"/>
<polyline points="33.6,36.3 34.4,34.1 35.1,32.8 36.0,31.5" fill="none" stroke="#e8b0c8" stroke-width="0.75" opacity="0.92"/>
<polyline points="13.0,16.1 15.0,16.2 16.8,15.7 18.1,15.8" fill="none" stroke="#ffffff" stroke-width="0.75" opacity="0.92"/>
<polyline points="12.8,2.7 14.1,0.7 14.3,-1.2 15.6,-3.1" fill="none" stroke="#f8e0e8" stroke-width="0.75" opacity="0.92"/>
<polyline points="5.0,84.0 5.6,82.9 6.3,81.8 7.4,80.8" fill="none" stroke="#f0c8d8" stroke-width="0.75" opacity="0.92"/>
<polyline points="37.5,30.8 36.6,31.7 35.6,32.7 34.5,34.7" fill="none" stroke="#f8e0e8" stroke-width="0.75" opacity="0.92"/>
<polyline points="23.3,1.2 23.2,-1.1 22.9,-3.4 22.4,-5.4" fill="none" stroke="#d090c8" stroke-width="0.75" opacity="0.92"/>
<polyline points="42.5,16.2 42.7,15.0 42.7,13.7 43.6,11.4" fill="none" stroke="#f0d0d8" stroke-width="0.75" opacity="0.92"/>
<polyline points="59.9,11.1 62.2,10.4 63.5,9.8 65.4,9.8" fill="none" stroke="#d090c8" stroke-width="0.75" opacity="0.92"/>
<polyline points="25.9,43.6 24.7,41.6 24.6,39.2 24.3,37.7" fill="none" stroke="#d090c8" stroke-width="0.75" opacity="0.92"/>
<polyline points="43.0,52.8 44.9,53.4 46.6,53.2 49.0,53.1" fill="none" stroke="#ffffff" stroke-width="0.75" opacity="0.92"/>
<polyline points="21.9,72.5 22.0,71.1 22.2,69.6 22.3,67.0" fill="none" stroke="#ffffff" stroke-width="0.75" opacity="0.92"/>
<polyline points="13.5,14.3 11.0,14.5 9.7,15.0 7.4,15.0" fill="none" stroke="#f0c8d8" stroke-width="0.75" opacity="0.92"/>
<polyline points="40.3,80.8 41.0,79.1 41.8,77.5 43.2,76.4" fill="none" stroke="#e8b0c8" stroke-width="0.75" opacity="0.92"/>
<polyline points="49.6,71.7 52.0,71.5 53.5,70.8 54.6,70.4" fill="none" stroke="#e8b0c8" stroke-width="0.75" opacity="0.92"/>
<polyline points="34.0,64.8 33.2,65.8 31.3,66.8 30.5,67.7" fill="none" stroke="#e8b0c8" stroke-width="0.75" opacity="0.92"/>
<polyline points="37.8,36.9 38.7,38.1 40.0,38.9 41.5,40.6" fill="none" stroke="#ffffff" stroke-width="0.75" opacity="0.92"/>
<polyline points="81.3,31.3 81.0,33.7 80.0,35.6 78.5,36.6" fill="none" stroke="#ffffff" stroke-width="0.75" opacity="0.92"/>
<polyline points="27.8,79.1 29.0,78.5 30.6,76.8 31.8,76.3" fill="none" stroke="#f0d0d8" stroke-width="0.75" opacity="0.92"/>
<polyline points="51.9,70.0 51.5,67.8 51.8,66.5 51.6,65.3" fill="none" stroke="#f8e0e8" stroke-width="0.75" opacity="0.92"/>
<polyline points="32.1,65.5 32.4,63.4 32.0,61.6 30.4,59.7" fill="none" stroke="#f0d0d8" stroke-width="0.75" opacity="0.92"/>
<polyline points="12.4,30.4 14.4,32.1 15.4,32.8 16.6,34.0" fill="none" stroke="#f8e0e8" stroke-width="0.75" opacity="0.92"/>
<polyline points="4.1,45.9 3.7,44.1 3.3,42.6 3.2,41.3" fill="none" stroke="#e8b0c8" stroke-width="0.75" opacity="0.92"/>
<polyline points="58.0,29.7 59.1,27.4 59.2,25.5 58.7,23.3" fill="none" stroke="#e8a880" stroke-width="0.75" opacity="0.92"/>
<polyline points="24.9,42.7 26.8,41.5 28.6,40.1 29.7,39.0" fill="none" stroke="#f0c8d8" stroke-width="0.75" opacity="0.92"/>
<polyline points="55.8,75.3 56.4,73.9 58.0,72.0 59.4,70.3" fill="none" stroke="#f0c8d8" stroke-width="0.75" opacity="0.92"/>
<polyline points="8.6,73.6 9.8,72.1 10.6,70.3 12.0,69.3" fill="none" stroke="#e8b0c8" stroke-width="0.75" opacity="0.92"/>
<polyline points="72.2,9.6 72.7,7.4 72.6,5.0 72.8,3.5" fill="none" stroke="#e8a880" stroke-width="0.75" opacity="0.92"/>
<polyline points="11.8,70.7 12.7,68.5 13.2,67.2 14.0,64.8" fill="none" stroke="#ffffff" stroke-width="0.75" opacity="0.92"/>
<polyline points="65.9,4.8 67.4,2.9 67.9,0.5 67.9,-0.7" fill="none" stroke="#f0d0d8" stroke-width="0.75" opacity="0.92"/>
<polyline points="19.5,38.3 20.0,36.0 20.7,34.9 21.4,32.4" fill="none" stroke="#d090c8" stroke-width="0.75" opacity="0.92"/>
<polyline points="19.8,31.9 18.7,33.3 17.0,35.1 16.4,36.8" fill="none" stroke="#e8b0c8" stroke-width="0.75" opacity="0.92"/>
<polyline points="27.0,35.0 27.8,32.6 28.5,31.5 29.4,29.3" fill="none" stroke="#f0c8d8" stroke-width="0.75" opacity="0.92"/>
<polyline points="12.4,84.7 13.1,83.1 14.7,81.7 15.6,80.5" fill="none" stroke="#d090c8" stroke-width="0.75" opacity="0.92"/>
<polyline points="3.3,50.8 3.8,49.2 5.2,47.2 6.6,45.5" fill="none" stroke="#e8a880" stroke-width="0.75" opacity="0.92"/>
<polyline points="82.4,36.3 82.2,34.6 82.6,32.8 84.0,31.1" fill="none" stroke="#f0c8d8" stroke-width="0.75" opacity="0.92"/>
<polyline points="33.9,28.9 34.8,27.2 35.5,25.6 35.8,23.8" fill="none" stroke="#f0c8d8" stroke-width="0.75" opacity="0.92"/>
<polyline points="6.7,73.5 7.0,71.3 6.7,69.6 5.4,67.8" fill="none" stroke="#ffffff" stroke-width="0.75" opacity="0.92"/>
<polyline points="53.0,30.4 54.0,29.0 54.8,27.9 55.6,26.7" fill="none" stroke="#f0c8d8" stroke-width="0.75" opacity="0.92"/>
<polyline points="64.1,35.6 65.1,35.0 67.3,34.9 68.8,35.2" fill="none" stroke="#d090c8" stroke-width="0.75" opacity="0.92"/>
<polyline points="28.0,58.7 28.6,61.0 29.3,62.1 30.2,63.7" fill="none" stroke="#f0d0d8" stroke-width="0.75" opacity="0.92"/>
<polyline points="53.0,41.2 53.0,39.4 53.9,37.5 54.3,35.2" fill="none" stroke="#f0d0d8" stroke-width="0.75" opacity="0.92"/>
<polyline points="33.9,15.8 34.1,14.3 35.2,12.4 36.1,10.0" fill="none" stroke="#e8a880" stroke-width="0.75" opacity="0.92"/>
<polyline points="20.3,52.6 21.4,51.7 22.2,50.2 23.1,48.1" fill="none" stroke="#f0d0d8" stroke-width="0.75" opacity="0.92"/>
<polyline points="37.4,74.9 37.8,73.2 38.5,72.0 38.7,70.8" fill="none" stroke="#e8b0c8" stroke-width="0.75" opacity="0.92"/>
<polyline points="43.6,36.0 43.8,38.5 44.8,40.1 46.1,41.2" fill="none" stroke="#e8b0c8" stroke-width="0.75" opacity="0.92"/>
<polyline points="61.9,13.0 63.8,14.7 64.9,16.4 66.2,17.6" fill="none" stroke="#e8b0c8" stroke-width="0.75" opacity="0.92"/>
<polyline points="68.2,50.4 69.7,49.5 70.4,48.5 71.9,46.5" fill="none" stroke="#f8e0e8" stroke-width="0.75" opacity="0.92"/>
<polyline points="57.7,19.8 58.3,17.6 57.9,15.7 56.9,13.9" fill="none" stroke="#e8a880" stroke-width="0.75" opacity="0.92"/>
<polyline points="39.7,38.1 40.3,36.8 42.0,35.0 43.4,33.6" fill="none" stroke="#ffffff" stroke-width="0.75" opacity="0.92"/>
<polyline points="8.6,64.0 10.3,62.9 12.3,61.4 13.5,60.0" fill="none" stroke="#e8a880" stroke-width="0.75" opacity="0.92"/>
<polyline points="53.1,84.0 54.2,81.8 54.1,79.4 54.4,77.5" fill="none" stroke="#f0d0d8" stroke-width="0.75" opacity="0.92"/>
<polyline points="30.1,30.2 31.5,32.2 33.1,33.0 34.1,33.8" fill="none" stroke="#f0d0d8" stroke-width="0.75" opacity="0.92"/>
<polyline points="80.4,5.9 81.7,4.1 82.7,3.4 84.0,2.4" fill="none" stroke="#e8a880" stroke-width="0.75" opacity="0.92"/>
<polyline points="21.9,62.5 23.4,62.2 24.9,62.4 27.4,62.4" fill="none" stroke="#ffffff" stroke-width="0.75" opacity="0.92"/>
<polyline points="49.1,36.2 50.5,36.2 52.4,36.3 53.9,37.1" fill="none" stroke="#ffffff" stroke-width="0.75" opacity="0.92"/>
<polyline points="9.9,61.4 10.6,59.2 11.6,57.3 12.1,56.0" fill="none" stroke="#f8e0e8" stroke-width="0.75" opacity="0.92"/>
<polyline points="27.8,81.9 27.7,83.5 28.5,85.7 29.3,88.1" fill="none" stroke="#ffffff" stroke-width="0.75" opacity="0.92"/>
<polyline points="45.3,53.4 44.6,51.1 44.2,49.7 43.6,48.5" fill="none" stroke="#f8e0e8" stroke-width="0.75" opacity="0.92"/>
<polyline points="32.1,82.7 33.6,80.9 35.0,79.5 36.3,77.9" fill="none" stroke="#e8a880" stroke-width="0.75" opacity="0.92"/>
<polyline points="38.9,33.6 40.6,32.5 42.6,31.5 44.5,30.6" fill="none" stroke="#d090c8" stroke-width="0.75" opacity="0.92"/>
<polyline points="82.0,70.2 81.7,67.9 81.1,65.9 79.9,64.1" fill="none" stroke="#f0d0d8" stroke-width="0.75" opacity="0.92"/>
<polyline points="70.9,33.1 71.5,31.8 71.6,30.0 71.3,28.1" fill="none" stroke="#f0d0d8" stroke-width="0.75" opacity="0.92"/>
<polyline points="0.4,43.2 1.2,42.2 1.9,41.1 2.3,38.7" fill="none" stroke="#f8e0e8" stroke-width="0.75" opacity="0.92"/>
<polyline points="79.4,62.6 77.7,62.5 76.1,61.8 74.9,60.5" fill="none" stroke="#f8e0e8" stroke-width="0.75" opacity="0.92"/>
<polyline points="41.0,18.8 43.2,17.7 44.3,16.6 45.5,15.6" fill="none" stroke="#f8e0e8" stroke-width="0.75" opacity="0.92"/>
<polyline points="22.5,77.5 23.4,75.5 23.9,73.0 24.7,70.9" fill="none" stroke="#f0d0d8" stroke-width="0.75" opacity="0.92"/>
<polyline points="49.0,8.8 49.1,7.0 49.2,5.1 49.3,2.7" fill="none" stroke="#f8e0e8" stroke-width="0.75" opacity="0.92"/>
<polyline points="46.2,35.9 48.3,35.6 50.8,36.2 53.1,36.6" fill="none" stroke="#ffffff" stroke-width="0.75" opacity="0.92"/>
<polyline points="23.6,27.0 24.6,25.9 25.8,24.7 26.7,23.8" fill="none" stroke="#e8a880" stroke-width="0.75" opacity="0.92"/>
<polyline points="69.6,31.0 71.1,29.4 72.0,28.0 72.3,26.3" fill="none" stroke="#f0c8d8" stroke-width="0.75" opacity="0.92"/>
<polyline points="52.0,1.0 53.5,-1.0 54.9,-1.9 55.9,-2.6" fill="none" stroke="#f8e0e8" stroke-width="0.75" opacity="0.92"/>
<polyline points="34.5,72.9 35.6,70.8 35.9,69.3 36.0,67.5" fill="none" stroke="#e8a880" stroke-width="0.75" opacity="0.92"/>
<polyline points="7.3,74.0 7.0,71.6 6.6,69.6 6.2,67.3" fill="none" stroke="#f0c8d8" stroke-width="0.75" opacity="0.92"/>
<polyline points="66.5,45.4 66.2,47.3 66.7,48.9 66.5,50.5" fill="none" stroke="#f0c8d8" stroke-width="0.75" opacity="0.92"/>
<polyline points="3.7,85.3 4.5,83.9 6.2,82.1 7.7,80.8" fill="none" stroke="#f0c8d8" stroke-width="0.75" opacity="0.92"/>
<polyline points="20.4,77.4 22.4,78.3 24.8,78.5 26.7,78.6" fill="none" stroke="#e8b0c8" stroke-width="0.75" opacity="0.92"/>
<polyline points="39.0,15.5 38.8,13.0 38.2,11.9 37.1,10.8" fill="none" stroke="#d090c8" stroke-width="0.75" opacity="0.92"/>
<polyline points="30.5,1.9 31.9,0.3 32.8,-2.0 34.0,-3.2" fill="none" stroke="#f8e0e8" stroke-width="0.75" opacity="0.92"/>
<polyline points="30.6,19.2 29.2,20.4 26.9,21.3 25.2,21.9" fill="none" stroke="#e8b0c8" stroke-width="0.75" opacity="0.92"/>
<polyline points="14.3,20.2 15.5,18.2 16.4,16.5 17.6,14.7" fill="none" stroke="#ffffff" stroke-width="0.75" opacity="0.92"/>
<polyline points="43.5,5.8 44.0,3.5 43.8,1.4 43.1,-1.1" fill="none" stroke="#d090c8" stroke-width="0.75" opacity="0.92"/>
<polyline points="51.6,42.8 52.0,41.0 51.8,39.8 52.1,38.6" fill="none" stroke="#e8b0c8" stroke-width="0.75" opacity="0.92"/>
<polyline points="6.8,21.3 7.1,19.8 7.2,18.4 7.4,16.9" fill="none" stroke="#e8b0c8" stroke-width="0.75" opacity="0.92"/>
<polyline points="75.4,8.9 77.8,8.4 79.7,7.6 82.1,7.3" fill="none" stroke="#f0d0d8" stroke-width="0.75" opacity="0.92"/>
<polyline points="28.1,46.5 29.5,47.3 30.8,47.6 32.9,47.2" fill="none" stroke="#e8a880" stroke-width="0.75" opacity="0.92"/>
<polyline points="46.5,49.8 48.0,47.9 48.8,46.6 49.5,45.6" fill="none" stroke="#ffffff" stroke-width="0.75" opacity="0.92"/>
<polyline points="46.0,57.9 45.3,59.8 45.0,61.2 45.1,62.4" fill="none" stroke="#e8b0c8" stroke-width="0.75" opacity="0.92"/>
<polyline points="36.7,30.4 37.3,28.9 37.7,27.7 37.8,26.3" fill="none" stroke="#e8a880" stroke-width="0.75" opacity="0.92"/>
<polyline points="31.2,58.4 31.9,56.7 32.1,55.4 33.1,54.2" fill="none" stroke="#f0c8d8" stroke-width="0.75" opacity="0.92"/>
<polyline points="55.1,18.5 56.3,17.1 57.6,16.5 60.1,16.3" fill="none" stroke="#ffffff" stroke-width="0.75" opacity="0.92"/>
<polyline points="74.7,59.9 73.0,61.1 71.7,61.2 69.4,61.0" fill="none" stroke="#f0d0d8" stroke-width="0.75" opacity="0.92"/>
<polyline points="74.3,14.4 74.2,13.0 74.2,11.1 73.1,8.9" fill="none" stroke="#e8b0c8" stroke-width="0.75" opacity="0.92"/>
<polyline points="74.8,49.2 73.5,47.3 72.3,45.0 71.9,42.6" fill="none" stroke="#f0c8d8" stroke-width="0.75" opacity="0.92"/>
<polyline points="22.4,50.4 21.6,52.7 20.7,53.9 20.3,55.6" fill="none" stroke="#e8a880" stroke-width="0.75" opacity="0.92"/>
<polyline points="3.0,8.6 4.5,7.8 5.5,6.6 6.2,4.5" fill="none" stroke="#f0d0d8" stroke-width="0.75" opacity="0.92"/>
<polyline points="74.9,7.6 75.4,9.4 75.3,11.8 75.6,13.7" fill="none" stroke="#f0d0d8" stroke-width="0.75" opacity="0.92"/>
<polyline points="0.4,11.4 1.0,10.0 1.4,7.5 1.7,5.7" fill="none" stroke="#d090c8" stroke-width="0.75" opacity="0.92"/>
<polyline points="6.3,30.3 5.4,29.4 4.8,27.6 4.5,26.3" fill="none" stroke="#e8a880" stroke-width="0.75" opacity="0.92"/>
<polyline points="19.3,32.9 19.4,31.7 19.8,29.8 19.4,27.6" fill="none" stroke="#ffffff" stroke-width="0.75" opacity="0.92"/>
<polyline points="43.3,15.6 42.2,14.6 40.3,13.5 38.4,13.2" fill="none" stroke="#f0c8d8" stroke-width="0.75" opacity="0.92"/>
<polyline points="27.8,66.8 28.0,65.5 28.4,63.1 29.5,61.4" fill="none" stroke="#f0c8d8" stroke-width="0.75" opacity="0.92"/>
<polyline points="16.8,63.4 18.2,62.4 20.0,61.6 22.5,61.5" fill="none" stroke="#e8b0c8" stroke-width="0.75" opacity="0.92"/>
<polyline points="26.0,46.3 23.6,45.9 21.4,45.1 19.5,44.1" fill="none" stroke="#e8b0c8" stroke-width="0.75" opacity="0.92"/>
<polyline points="67.2,67.6 67.7,66.4 68.5,65.2 68.7,62.7" fill="none" stroke="#f0d0d8" stroke-width="0.75" opacity="0.92"/>
<polyline points="32.7,11.2 34.2,9.2 35.4,8.4 37.6,8.1" fill="none" stroke="#f8e0e8" stroke-width="0.75" opacity="0.92"/>
<polyline points="36.6,4.0 38.4,4.1 40.2,3.5 42.2,2.6" fill="none" stroke="#ffffff" stroke-width="0.75" opacity="0.92"/>
<polyline points="14.4,36.7 14.0,38.4 14.1,40.1 14.4,41.3" fill="none" stroke="#f0c8d8" stroke-width="0.75" opacity="0.92"/>
<polyline points="39.4,13.9 39.8,12.7 40.3,10.3 41.4,9.0" fill="none" stroke="#f0c8d8" stroke-width="0.75" opacity="0.92"/>
<polyline points="37.3,83.5 38.0,81.4 38.0,78.9 38.6,77.6" fill="none" stroke="#f0d0d8" stroke-width="0.75" opacity="0.92"/>
<polyline points="81.7,12.9 83.1,11.7 84.6,9.9 85.4,8.6" fill="none" stroke="#f0d0d8" stroke-width="0.75" opacity="0.92"/>
<polyline points="15.4,53.7 16.1,52.6 17.6,51.7 20.0,50.9" fill="none" stroke="#f8e0e8" stroke-width="0.75" opacity="0.92"/>
<polyline points="74.1,37.5 73.8,35.3 73.5,33.0 72.5,30.8" fill="none" stroke="#d090c8" stroke-width="0.75" opacity="0.92"/>
<polyline points="42.3,40.2 42.9,38.7 43.6,36.3 43.7,34.6" fill="none" stroke="#d090c8" stroke-width="0.75" opacity="0.92"/>
<polyline points="70.4,68.9 71.7,68.5 73.4,67.6 74.6,66.1" fill="none" stroke="#f0d0d8" stroke-width="0.75" opacity="0.92"/>
<polyline points="58.9,16.1 58.9,13.7 59.3,11.9 60.0,10.8" fill="none" stroke="#e8b0c8" stroke-width="0.75" opacity="0.92"/>
<polyline points="16.0,4.2 16.7,2.6 17.9,0.7 18.2,-0.5" fill="none" stroke="#e8a880" stroke-width="0.75" opacity="0.92"/>
<polyline points="27.3,61.6 26.4,60.0 24.4,58.5 23.2,58.0" fill="none" stroke="#d090c8" stroke-width="0.75" opacity="0.92"/>
<polyline points="80.0,83.5 81.9,82.7 83.1,81.7 84.0,80.4" fill="none" stroke="#e8a880" stroke-width="0.75" opacity="0.92"/>
<polyline points="32.6,51.1 32.6,52.3 32.1,53.5 31.5,55.1" fill="none" stroke="#f0d0d8" stroke-width="0.75" opacity="0.92"/>
<polyline points="0.3,69.4 1.1,68.6 2.3,68.2 3.5,67.7" fill="none" stroke="#e8a880" stroke-width="0.75" opacity="0.92"/>
<polyline points="58.8,26.6 61.3,26.9 62.9,27.8 65.0,28.9" fill="none" stroke="#f8e0e8" stroke-width="0.75" opacity="0.92"/>
<polyline points="60.0,19.2 61.4,17.1 63.5,15.8 66.0,15.6" fill="none" stroke="#e8a880" stroke-width="0.75" opacity="0.92"/>
<polyline points="23.9,41.0 24.0,39.4 24.2,37.6 24.4,35.3" fill="none" stroke="#e8b0c8" stroke-width="0.75" opacity="0.92"/>
<polyline points="79.7,75.3 80.3,72.9 81.5,71.1 82.4,69.4" fill="none" stroke="#f8e0e8" stroke-width="0.75" opacity="0.92"/>
<polyline points="12.8,74.0 13.8,73.4 15.2,72.3 16.4,70.1" fill="none" stroke="#ffffff" stroke-width="0.75" opacity="0.92"/>
<polyline points="31.3,76.6 31.8,75.1 32.6,73.5 34.4,71.8" fill="none" stroke="#f0d0d8" stroke-width="0.75" opacity="0.92"/>
<polyline points="33.2,52.0 33.9,50.2 34.7,49.3 35.7,47.8" fill="none" stroke="#f0d0d8" stroke-width="0.75" opacity="0.92"/>
<polyline points="25.4,67.7 25.8,66.5 26.5,64.8 26.8,62.7" fill="none" stroke="#f0d0d8" stroke-width="0.75" opacity="0.92"/>
<polyline points="70.3,5.1 70.5,3.7 70.2,1.9 70.5,-0.4" fill="none" stroke="#ffffff" stroke-width="0.75" opacity="0.92"/>
<polyline points="46.6,57.8 46.7,55.7 46.9,54.2 46.6,52.9" fill="none" stroke="#e8a880" stroke-width="0.75" opacity="0.92"/>
<polyline points="69.8,37.2 70.3,35.6 70.6,34.2 70.3,32.9" fill="none" stroke="#f8e0e8" stroke-width="0.75" opacity="0.92"/>
<polyline points="60.4,27.9 61.7,27.3 63.5,27.0 65.5,26.0" fill="none" stroke="#e8a880" stroke-width="0.75" opacity="0.92"/>
<polyline points="71.6,50.3 72.7,49.3 74.0,47.5 74.1,46.2" fill="none" stroke="#f0c8d8" stroke-width="0.75" opacity="0.92"/>
<polyline points="72.4,77.7 73.7,77.4 75.3,77.6 77.1,77.9" fill="none" stroke="#f8e0e8" stroke-width="0.75" opacity="0.92"/>
<polyline points="7.2,35.7 8.5,34.9 10.5,34.0 12.3,33.8" fill="none" stroke="#e8a880" stroke-width="0.75" opacity="0.92"/>
<polyline points="76.0,30.5 77.4,29.8 78.6,29.2 80.0,28.9" fill="none" stroke="#e8b0c8" stroke-width="0.75" opacity="0.92"/>
<polyline points="75.1,31.0 72.7,31.5 71.7,32.3 70.4,33.7" fill="none" stroke="#d090c8" stroke-width="0.75" opacity="0.92"/>
<polyline points="0.1,59.8 0.5,58.1 0.6,56.9 1.5,55.3" fill="none" stroke="#e8a880" stroke-width="0.75" opacity="0.92"/>
<polyline points="20.2,18.1 21.7,17.1 22.3,15.9 23.5,14.4" fill="none" stroke="#f0d0d8" stroke-width="0.75" opacity="0.92"/>
<polyline points="2.2,9.7 1.9,11.1 2.4,13.3 2.7,15.1" fill="none" stroke="#e8a880" stroke-width="0.75" opacity="0.92"/>
<polyline points="17.5,51.2 16.4,50.2 15.2,48.3 14.9,46.4" fill="none" stroke="#e8b0c8" stroke-width="0.75" opacity="0.92"/>
<polyline points="16.5,70.8 17.6,71.1 19.9,71.8 21.5,72.7" fill="none" stroke="#e8b0c8" stroke-width="0.75" opacity="0.92"/>
<polyline points="8.4,75.3 7.6,76.4 6.3,77.6 5.4,78.8" fill="none" stroke="#e8a880" stroke-width="0.75" opacity="0.92"/>
<polyline points="68.2,7.3 68.6,6.0 68.6,3.9 68.4,1.6" fill="none" stroke="#e8a880" stroke-width="0.75" opacity="0.92"/>
<polyline points="26.0,47.6 24.4,46.8 23.3,45.8 22.1,44.8" fill="none" stroke="#ffffff" stroke-width="0.75" opacity="0.92"/>
<polyline points="74.8,51.0 76.3,51.6 77.2,52.6 78.9,53.4" fill="none" stroke="#f8e0e8" stroke-width="0.75" opacity="0.92"/>
<polyline points="74.2,7.6 74.4,5.9 74.1,4.0 73.3,2.3" fill="none" stroke="#f0c8d8" stroke-width="0.75" opacity="0.92"/>
<polyline points="20.3,45.6 21.1,43.4 21.2,41.9 21.0,40.5" fill="none" stroke="#f0d0d8" stroke-width="0.75" opacity="0.92"/>
<polyline points="66.6,69.7 67.9,68.2 69.8,66.9 71.2,66.0" fill="none" stroke="#f8e0e8" stroke-width="0.75" opacity="0.92"/>
<polyline points="74.4,78.9 75.9,77.7 77.4,77.3 79.3,76.3" fill="none" stroke="#f0c8d8" stroke-width="0.75" opacity="0.92"/>
<polyline points="50.4,48.0 47.9,48.3 45.9,48.8 44.3,48.5" fill="none" stroke="#f8e0e8" stroke-width="0.75" opacity="0.92"/>
<polyline points="12.5,36.6 14.0,36.1 15.6,35.0 16.3,33.9" fill="none" stroke="#ffffff" stroke-width="0.75" opacity="0.92"/>
<polyline points="7.4,39.6 9.0,37.5 10.3,36.7 12.3,36.3" fill="none" stroke="#f8e0e8" stroke-width="0.75" opacity="0.92"/>
<polyline points="81.0,29.8 82.1,27.6 82.6,26.1 83.5,24.9" fill="none" stroke="#d090c8" stroke-width="0.75" opacity="0.92"/>
<polyline points="6.2,5.1 7.0,3.8 7.6,2.7 8.5,1.2" fill="none" stroke="#e8a880" stroke-width="0.75" opacity="0.92"/>
<polyline points="9.1,79.8 7.1,80.8 5.6,81.9 4.2,82.1" fill="none" stroke="#d090c8" stroke-width="0.75" opacity="0.92"/>
<polyline points="82.4,1.8 83.6,1.1 85.2,-0.1 86.8,-1.0" fill="none" stroke="#f0d0d8" stroke-width="0.75" opacity="0.92"/>
<polyline points="39.7,10.8 40.6,12.0 41.8,12.8 44.0,13.3" fill="none" stroke="#ffffff" stroke-width="0.75" opacity="0.92"/>
<polyline points="66.1,41.6 67.9,40.5 68.8,39.0 69.4,37.2" fill="none" stroke="#f0c8d8" stroke-width="0.75" opacity="0.92"/>
<polyline points="15.0,81.6 16.7,80.1 18.1,79.4 19.7,78.9" fill="none" stroke="#e8a880" stroke-width="0.75" opacity="0.92"/>
<polyline points="10.3,7.5 9.9,5.8 9.7,3.9 9.0,2.8" fill="none" stroke="#f0c8d8" stroke-width="0.75" opacity="0.92"/>
<polyline points="8.9,33.1 10.5,31.9 11.5,30.1 12.2,28.4" fill="none" stroke="#f8e0e8" stroke-width="0.75" opacity="0.92"/>
<polyline points="76.5,6.3 76.8,5.1 77.0,2.8 78.2,0.8" fill="none" stroke="#e8a880" stroke-width="0.75" opacity="0.92"/>
<polyline points="19.7,39.5 20.4,38.4 21.1,36.1 21.6,33.6" fill="none" stroke="#e8b0c8" stroke-width="0.75" opacity="0.92"/>
<polyline points="65.8,1.5 66.4,0.4 68.1,-1.4 68.7,-3.3" fill="none" stroke="#e8b0c8" stroke-width="0.75" opacity="0.92"/>
<polyline points="56.0,61.4 57.1,60.7 58.3,59.9 60.0,59.4" fill="none" stroke="#e8b0c8" stroke-width="0.75" opacity="0.92"/>
<polyline points="76.3,69.7 76.4,68.5 76.7,66.2 75.8,63.8" fill="none" stroke="#f0c8d8" stroke-width="0.75" opacity="0.92"/>
<polyline points="30.0,60.0 29.9,57.8 29.7,55.9 29.9,54.3" fill="none" stroke="#f0c8d8" stroke-width="0.75" opacity="0.92"/>
<polyline points="7.7,48.6 9.4,47.4 11.1,46.8 12.2,46.2" fill="none" stroke="#ffffff" stroke-width="0.75" opacity="0.92"/>
<polyline points="39.0,30.4 39.3,32.4 39.5,34.2 40.0,35.7" fill="none" stroke="#d090c8" stroke-width="0.75" opacity="0.92"/>
<polyline points="36.1,68.9 36.6,67.5 38.0,66.0 39.5,64.8" fill="none" stroke="#e8a880" stroke-width="0.75" opacity="0.92"/>
<polyline points="48.9,44.4 50.0,42.8 50.7,41.5 50.9,39.8" fill="none" stroke="#ffffff" stroke-width="0.75" opacity="0.92"/>
<polyline points="21.9,12.6 23.2,11.0 24.2,9.6 25.3,7.9" fill="none" stroke="#f8e0e8" stroke-width="0.75" opacity="0.92"/>
<polyline points="75.6,50.2 76.7,51.0 78.6,51.4 81.0,51.9" fill="none" stroke="#d090c8" stroke-width="0.75" opacity="0.92"/>
<polyline points="9.3,1.2 9.2,2.5 8.5,3.8 6.8,5.4" fill="none" stroke="#f8e0e8" stroke-width="0.75" opacity="0.92"/>
<polyline points="0.0,21.8 0.7,20.3 2.2,18.5 2.5,16.7" fill="none" stroke="#f8e0e8" stroke-width="0.75" opacity="0.92"/>
<polyline points="74.1,19.8 72.5,17.9 71.0,16.3 69.8,14.8" fill="none" stroke="#f0d0d8" stroke-width="0.75" opacity="0.92"/>
<polyline points="12.0,35.8 12.1,34.3 12.9,32.4 13.7,30.1" fill="none" stroke="#f0c8d8" stroke-width="0.75" opacity="0.92"/>
<polyline points="47.6,40.8 48.2,39.0 49.9,37.4 50.5,35.5" fill="none" stroke="#e8a880" stroke-width="0.75" opacity="0.92"/>
<polyline points="28.0,50.9 29.1,50.0 29.8,48.6 30.4,47.1" fill="none" stroke="#f8e0e8" stroke-width="0.75" opacity="0.92"/>
<polyline points="49.6,54.8 50.6,53.5 52.1,51.4 53.9,50.5" fill="none" stroke="#e8b0c8" stroke-width="0.75" opacity="0.92"/>
<polyline points="10.4,48.2 11.5,46.5 12.8,44.4 13.6,42.1" fill="none" stroke="#f8e0e8" stroke-width="0.75" opacity="0.92"/>
<polyline points="77.4,38.2 75.7,38.7 73.6,39.0 71.6,38.9" fill="none" stroke="#e8a880" stroke-width="0.75" opacity="0.92"/>
<polyline points="58.8,59.3 56.4,58.7 53.9,58.2 52.2,58.3" fill="none" stroke="#ffffff" stroke-width="0.75" opacity="0.92"/>
<polyline points="7.6,38.0 5.8,37.9 4.2,37.2 2.7,36.8" fill="none" stroke="#d090c8" stroke-width="0.75" opacity="0.92"/>
<polyline points="33.5,42.0 33.3,39.8 32.6,38.6 32.0,37.2" fill="none" stroke="#e8a880" stroke-width="0.75" opacity="0.92"/>
<polyline points="46.7,24.4 48.3,22.8 49.7,21.1 51.1,20.3" fill="none" stroke="#f8e0e8" stroke-width="0.75" opacity="0.92"/>
<polyline points="24.7,27.5 25.7,26.8 27.0,24.9 27.1,23.1" fill="none" stroke="#f0c8d8" stroke-width="0.75" opacity="0.92"/>
<polyline points="47.9,4.4 48.0,6.9 48.7,8.4 48.8,10.2" fill="none" stroke="#f0d0d8" stroke-width="0.75" opacity="0.92"/>
<polyline points="28.6,18.8 29.7,19.6 31.7,20.5 33.2,21.6" fill="none" stroke="#d090c8" stroke-width="0.75" opacity="0.92"/>
<polyline points="73.6,31.2 74.5,30.1 75.3,29.0 76.6,28.3" fill="none" stroke="#e8a880" stroke-width="0.75" opacity="0.92"/>
<polyline points="59.3,19.8 60.2,18.5 62.0,16.8 63.1,15.9" fill="none" stroke="#f8e0e8" stroke-width="0.75" opacity="0.92"/>
<polyline points="38.2,64.5 39.5,62.9 41.1,62.2 42.6,62.1" fill="none" stroke="#f0d0d8" stroke-width="0.75" opacity="0.92"/>
<polyline points="2.2,42.4 3.4,41.1 4.3,39.7 4.7,38.0" fill="none" stroke="#e8a880" stroke-width="0.75" opacity="0.92"/>
<polyline points="81.8,5.8 82.8,5.1 83.6,4.1 84.3,2.3" fill="none" stroke="#f8e0e8" stroke-width="0.75" opacity="0.92"/>
<polyline points="52.6,46.4 52.5,45.1 51.3,43.2 50.3,41.4" fill="none" stroke="#e8a880" stroke-width="0.75" opacity="0.92"/>
<polyline points="0.7,7.8 1.5,5.7 1.8,4.4 2.1,2.3" fill="none" stroke="#f0d0d8" stroke-width="0.75" opacity="0.92"/>
<polyline points="81.2,63.7 81.9,61.7 81.8,60.0 81.9,57.7" fill="none" stroke="#f0c8d8" stroke-width="0.75" opacity="0.92"/>
<polyline points="63.9,63.9 64.5,62.1 64.7,60.9 64.8,58.9" fill="none" stroke="#d090c8" stroke-width="0.75" opacity="0.92"/>
<polyline points="0.2,68.7 0.9,67.7 1.5,65.9 1.8,63.7" fill="none" stroke="#f0c8d8" stroke-width="0.75" opacity="0.92"/>
<polyline points="69.8,41.3 70.2,39.1 69.8,36.5 70.3,34.2" fill="none" stroke="#f0c8d8" stroke-width="0.75" opacity="0.92"/>
<polyline points="20.0,33.6 21.3,32.0 22.1,30.8 22.5,29.4" fill="none" stroke="#ffffff" stroke-width="0.75" opacity="0.92"/>
<polyline points="29.5,66.8 31.9,65.9 33.6,65.2 34.9,64.9" fill="none" stroke="#f0d0d8" stroke-width="0.75" opacity="0.92"/>
<path d="M1.8 44.1 C6 43.5 12 43 16 42.8 C18 42.6 20 42.5 22.6 42.4" stroke="#30c040" stroke-width="1" fill="none"/>
<path d="M0.7 58.2 C2.5 59.5 4.5 61 6.9 62.7" stroke="#20c0a0" stroke-width="0.9" fill="none"/>
<path d="M11 67 L14 65" stroke="#20b0a0" stroke-width="0.7" fill="none"/>
<path d="M74 12 C76 16 78 20 80 22" stroke="#30c060" stroke-width="0.6" fill="none"/>
<path d="M-1 -1 L19.6 -1 L19.4 9 C19 15 17 19 13.5 22.5 C10 25.5 5 28 -1 29.5 Z" fill="#160c0c" stroke="#c07858" stroke-width="0.6"/>
<ellipse cx="50.5" cy="22" rx="3" ry="4.5" fill="#0a0610"/>
<rect x="33.70" y="29.50" width="45.80" height="45.80" fill="#030308" stroke="#c8c8c0" stroke-width="0.8" />
<rect x="35.50" y="31.30" width="0.90" height="0.90" fill="#d0d0d0" stroke="none" stroke-width="0" />
<rect x="76.80" y="31.30" width="0.90" height="0.90" fill="#d0d0d0" stroke="none" stroke-width="0" />
<circle cx="61.9" cy="62.7" r="1.5" fill="#5448a0"/>
<circle cx="63.1" cy="53.7" r="1.5" fill="#6a5cb8"/>
<circle cx="63.0" cy="69.6" r="1.2" fill="#7064c0"/>
<circle cx="72.4" cy="47.3" r="1.1" fill="#6a5cb8"/>
<circle cx="35.8" cy="40.3" r="1.2" fill="#7064c0"/>
<circle cx="42.0" cy="65.1" r="1.2" fill="#3a3070"/>
<circle cx="54.2" cy="36.7" r="1.5" fill="#6050b0"/>
<circle cx="44.2" cy="40.2" r="1.5" fill="#6a5cb8"/>
<circle cx="47.6" cy="72.2" r="1.3" fill="#5448a0"/>
<circle cx="62.0" cy="38.8" r="1.5" fill="#6a5cb8"/>
<circle cx="76.6" cy="69.3" r="1.2" fill="#5a4ca8"/>
<circle cx="53.0" cy="71.1" r="1.2" fill="#5a4ca8"/>
<circle cx="48.1" cy="56.8" r="1.1" fill="#5448a0"/>
<circle cx="65.5" cy="33.8" r="1.3" fill="#5a4ca8"/>
<circle cx="55.8" cy="44.5" r="1.3" fill="#5448a0"/>
<circle cx="42.7" cy="42.0" r="1.5" fill="#5448a0"/>
<circle cx="50.5" cy="48.3" r="1.3" fill="#7064c0"/>
<circle cx="50.9" cy="55.8" r="1.1" fill="#6050b0"/>
<circle cx="65.5" cy="57.7" r="1.5" fill="#6050b0"/>
<circle cx="67.5" cy="70.8" r="1.5" fill="#5a4ca8"/>
<circle cx="57.1" cy="69.2" r="1.2" fill="#7064c0"/>
<circle cx="39.8" cy="63.0" r="1.5" fill="#5a4ca8"/>
<circle cx="36.8" cy="71.5" r="1.1" fill="#5a4ca8"/>
<circle cx="57.2" cy="46.5" r="1.2" fill="#5a4ca8"/>
<circle cx="74.8" cy="54.3" r="1.2" fill="#5a4ca8"/>
<circle cx="48.3" cy="65.2" r="1.4" fill="#5448a0"/>
<circle cx="64.7" cy="73.7" r="1.2" fill="#6050b0"/>
<circle cx="38.7" cy="56.7" r="1.5" fill="#6050b0"/>
<circle cx="45.4" cy="56.4" r="1.5" fill="#7064c0"/>
<circle cx="63.1" cy="37.2" r="1.5" fill="#5448a0"/>
<circle cx="36.6" cy="52.1" r="1.5" fill="#6a5cb8"/>
<circle cx="77.2" cy="55.1" r="1.2" fill="#7064c0"/>
<circle cx="39.8" cy="49.6" r="1.2" fill="#7064c0"/>
<circle cx="47.8" cy="50.4" r="1.5" fill="#6a5cb8"/>
<circle cx="77.0" cy="50.4" r="1.3" fill="#5448a0"/>
<circle cx="48.8" cy="42.7" r="1.3" fill="#6a5cb8"/>
<circle cx="40.0" cy="66.2" r="1.3" fill="#6a5cb8"/>
<circle cx="62.0" cy="52.4" r="1.3" fill="#6050b0"/>
<circle cx="56.3" cy="53.0" r="1.3" fill="#3a3070"/>
<circle cx="50.7" cy="64.6" r="1.4" fill="#5448a0"/>
<circle cx="60.3" cy="32.5" r="1.2" fill="#3a3070"/>
<circle cx="65.4" cy="43.0" r="1.3" fill="#5448a0"/>
<circle cx="65.8" cy="72.0" r="1.3" fill="#6a5cb8"/>
<circle cx="60.1" cy="31.5" r="1.3" fill="#5a4ca8"/>
<circle cx="49.1" cy="42.7" r="1.2" fill="#3a3070"/>
<circle cx="62.9" cy="65.1" r="1.3" fill="#5448a0"/>
<circle cx="50.0" cy="71.1" r="1.3" fill="#6a5cb8"/>
<circle cx="72.4" cy="60.5" r="1.5" fill="#5a4ca8"/>
<circle cx="57.4" cy="53.7" r="1.2" fill="#5a4ca8"/>
<circle cx="75.3" cy="51.4" r="1.4" fill="#5448a0"/>
<circle cx="63.9" cy="48.8" r="1.4" fill="#3a3070"/>
<circle cx="57.3" cy="71.1" r="1.2" fill="#3a3070"/>
<circle cx="68.4" cy="58.3" r="1.4" fill="#6050b0"/>
<circle cx="43.6" cy="56.1" r="1.4" fill="#6a5cb8"/>
<circle cx="44.6" cy="60.4" r="1.4" fill="#6050b0"/>
<circle cx="77.4" cy="72.9" r="1.2" fill="#6a5cb8"/>
<circle cx="39.9" cy="72.4" r="1.3" fill="#3a3070"/>
<circle cx="36.7" cy="50.9" r="1.3" fill="#3a3070"/>
<circle cx="38.3" cy="39.7" r="1.4" fill="#5a4ca8"/>
<circle cx="35.2" cy="48.4" r="1.2" fill="#7064c0"/>
<circle cx="72.3" cy="60.5" r="1.3" fill="#6050b0"/>
<circle cx="58.7" cy="43.9" r="1.2" fill="#3a3070"/>
<circle cx="49.7" cy="55.9" r="1.5" fill="#6a5cb8"/>
<circle cx="53.1" cy="65.8" r="1.4" fill="#5a4ca8"/>
<circle cx="55.2" cy="37.7" r="1.3" fill="#7064c0"/>
<circle cx="76.2" cy="72.4" r="1.4" fill="#5a4ca8"/>
<circle cx="70.3" cy="59.3" r="1.3" fill="#5a4ca8"/>
<circle cx="59.4" cy="57.3" r="1.2" fill="#5448a0"/>
<circle cx="72.7" cy="55.2" r="1.3" fill="#6a5cb8"/>
<circle cx="56.3" cy="51.5" r="1.4" fill="#7064c0"/>
<circle cx="76.3" cy="70.1" r="1.4" fill="#5a4ca8"/>
<circle cx="66.9" cy="43.9" r="1.2" fill="#6050b0"/>
<circle cx="48.9" cy="73.1" r="1.3" fill="#5a4ca8"/>
<circle cx="41.3" cy="32.0" r="1.4" fill="#7064c0"/>
<circle cx="45.7" cy="32.7" r="1.2" fill="#7064c0"/>
<circle cx="35.8" cy="53.8" r="1.2" fill="#7064c0"/>
<circle cx="68.7" cy="41.5" r="1.2" fill="#6a5cb8"/>
<circle cx="66.1" cy="43.2" r="1.3" fill="#7064c0"/>
<circle cx="57.4" cy="68.0" r="1.5" fill="#6050b0"/>
<circle cx="35.9" cy="36.4" r="1.2" fill="#5448a0"/>
<circle cx="49.6" cy="43.7" r="1.3" fill="#7064c0"/>
<circle cx="50.2" cy="60.2" r="1.5" fill="#6a5cb8"/>
<circle cx="36.8" cy="41.8" r="1.3" fill="#6050b0"/>
<circle cx="73.2" cy="54.4" r="1.1" fill="#7064c0"/>
<circle cx="60.7" cy="60.5" r="1.5" fill="#5448a0"/>
<circle cx="55.8" cy="70.0" r="1.3" fill="#7064c0"/>
<circle cx="64.4" cy="61.8" r="1.5" fill="#7064c0"/>
<circle cx="70.7" cy="33.8" r="1.5" fill="#5448a0"/>
<circle cx="68.5" cy="55.9" r="1.4" fill="#7064c0"/>
<circle cx="74.2" cy="37.1" r="1.3" fill="#3a3070"/>
<circle cx="73.2" cy="72.6" r="1.3" fill="#7064c0"/>
<circle cx="60.3" cy="65.7" r="1.1" fill="#6a5cb8"/>
<circle cx="46.6" cy="34.6" r="1.1" fill="#6050b0"/>
<circle cx="49.5" cy="49.4" r="1.1" fill="#7064c0"/>
<circle cx="65.2" cy="33.1" r="1.5" fill="#6a5cb8"/>
<circle cx="61.5" cy="66.3" r="1.2" fill="#6a5cb8"/>
<circle cx="77.7" cy="61.2" r="1.3" fill="#6a5cb8"/>
<circle cx="61.3" cy="48.7" r="1.2" fill="#3a3070"/>
<circle cx="44.3" cy="54.8" r="1.4" fill="#5448a0"/>
<circle cx="38.3" cy="33.5" r="1.4" fill="#5448a0"/>
<circle cx="52.3" cy="57.7" r="1.1" fill="#6050b0"/>
<circle cx="48.7" cy="56.7" r="1.3" fill="#5448a0"/>
<circle cx="51.2" cy="33.4" r="1.4" fill="#6a5cb8"/>
<circle cx="59.5" cy="60.0" r="1.2" fill="#3a3070"/>
<circle cx="58.7" cy="40.4" r="1.1" fill="#6a5cb8"/>
<circle cx="46.1" cy="63.1" r="1.3" fill="#6a5cb8"/>
<circle cx="69.8" cy="68.0" r="1.3" fill="#7064c0"/>
<circle cx="42.9" cy="61.5" r="1.4" fill="#6050b0"/>
<circle cx="59.7" cy="32.5" r="1.5" fill="#3a3070"/>
<circle cx="60.6" cy="41.2" r="1.5" fill="#7064c0"/>
<circle cx="76.4" cy="35.6" r="1.3" fill="#3a3070"/>
<circle cx="66.2" cy="33.3" r="1.2" fill="#7064c0"/>
<circle cx="64.4" cy="40.5" r="1.2" fill="#5448a0"/>
<circle cx="56.2" cy="40.1" r="1.4" fill="#7064c0"/>
<circle cx="50.4" cy="41.1" r="1.2" fill="#3a3070"/>
<circle cx="65.4" cy="65.1" r="1.3" fill="#5448a0"/>
<circle cx="70.8" cy="58.7" r="1.5" fill="#7064c0"/>
<circle cx="76.3" cy="46.5" r="1.1" fill="#3a3070"/>
<circle cx="44.4" cy="38.7" r="1.1" fill="#6050b0"/>
<circle cx="36.6" cy="39.7" r="1.1" fill="#7064c0"/>
<circle cx="63.5" cy="45.9" r="1.3" fill="#5a4ca8"/>
<circle cx="73.3" cy="57.5" r="1.3" fill="#7064c0"/>
<circle cx="55.0" cy="39.2" r="1.4" fill="#6050b0"/>
<circle cx="51.2" cy="47.5" r="1.5" fill="#6a5cb8"/>
<circle cx="58.8" cy="35.7" r="1.5" fill="#5a4ca8"/>
<circle cx="64.0" cy="32.4" r="1.5" fill="#5a4ca8"/>
<circle cx="74.8" cy="46.8" r="1.5" fill="#5448a0"/>
<circle cx="36.1" cy="50.5" r="1.5" fill="#6a5cb8"/>
<circle cx="40.2" cy="59.6" r="1.2" fill="#5448a0"/>
<circle cx="45.5" cy="73.5" r="1.1" fill="#5448a0"/>
<circle cx="36.3" cy="40.9" r="1.1" fill="#7064c0"/>
<circle cx="74.2" cy="61.2" r="1.4" fill="#6a5cb8"/>
<circle cx="55.2" cy="43.1" r="1.4" fill="#5448a0"/>
<circle cx="55.2" cy="64.2" r="1.2" fill="#6a5cb8"/>
<circle cx="75.5" cy="58.6" r="1.3" fill="#5a4ca8"/>
<circle cx="35.5" cy="33.6" r="1.5" fill="#7064c0"/>
<circle cx="42.5" cy="32.4" r="1.5" fill="#3a3070"/>
<circle cx="59.4" cy="71.2" r="1.4" fill="#6a5cb8"/>
<circle cx="73.7" cy="52.0" r="1.5" fill="#6050b0"/>
<circle cx="64.4" cy="58.6" r="1.3" fill="#6050b0"/>
<circle cx="37.3" cy="66.7" r="1.3" fill="#5448a0"/>
<circle cx="37.4" cy="32.6" r="1.5" fill="#6a5cb8"/>
<circle cx="65.0" cy="58.4" r="1.2" fill="#6a5cb8"/>
<circle cx="38.8" cy="44.4" r="1.1" fill="#3a3070"/>
<circle cx="77.4" cy="37.9" r="1.1" fill="#5448a0"/>
<circle cx="44.4" cy="31.7" r="1.3" fill="#7064c0"/>
<circle cx="53.3" cy="63.9" r="1.3" fill="#6a5cb8"/>
<circle cx="66.3" cy="70.1" r="1.2" fill="#7064c0"/>
<circle cx="73.4" cy="73.8" r="1.3" fill="#6a5cb8"/>
<circle cx="48.5" cy="34.8" r="1.4" fill="#7064c0"/>
<circle cx="48.6" cy="36.6" r="1.1" fill="#6a5cb8"/>
<circle cx="65.0" cy="65.2" r="1.5" fill="#5448a0"/>
<circle cx="45.7" cy="33.6" r="1.4" fill="#6050b0"/>
<circle cx="65.3" cy="65.1" r="1.5" fill="#6050b0"/>
<circle cx="38.3" cy="63.9" r="1.3" fill="#3a3070"/>
<circle cx="35.2" cy="43.2" r="1.5" fill="#6a5cb8"/>
<circle cx="59.8" cy="49.9" r="1.5" fill="#5448a0"/>
<circle cx="68.6" cy="31.8" r="1.1" fill="#7064c0"/>
<circle cx="46.7" cy="65.8" r="1.3" fill="#6a5cb8"/>
<circle cx="49.0" cy="44.1" r="1.2" fill="#7064c0"/>
<circle cx="64.1" cy="43.2" r="1.1" fill="#5448a0"/>
<circle cx="59.0" cy="32.2" r="1.1" fill="#6a5cb8"/>
<circle cx="70.6" cy="49.7" r="1.2" fill="#3a3070"/>
<circle cx="35.9" cy="53.6" r="1.2" fill="#6a5cb8"/>
<circle cx="49.3" cy="31.5" r="1.4" fill="#6a5cb8"/>
<line x1="46.50" y1="72.00" x2="46.30" y2="85.40" stroke="#e0a020" stroke-width="0.75" />
<line x1="67.50" y1="75.60" x2="68.50" y2="85.40" stroke="#40b060" stroke-width="0.5" />
<rect x="0.50" y="81.50" width="20.00" height="3.00" fill="#a0a0a0" stroke="none" stroke-width="0" />
</svg>
<rect x="201.30" y="10.00" width="10.40" height="71.60" fill="#000" stroke="none" stroke-width="0" />
<rect x="231.60" y="10.00" width="10.20" height="71.60" fill="#000" stroke="none" stroke-width="0" />
<rect x="204.80" y="12.85" width="3.80" height="3.70" fill="#0000ff" stroke="none" stroke-width="0" />
<rect x="234.80" y="12.85" width="3.80" height="3.70" fill="#e8a8a0" stroke="none" stroke-width="0" />
<text x="212.60" y="16.20" font-size="4.1" text-anchor="start" font-weight="normal" fill="#000" >HOECHST</text>
<text x="242.40" y="16.20" font-size="4.1" text-anchor="start" font-weight="normal" fill="#000" >EPCAM</text>
<rect x="204.80" y="20.63" width="3.80" height="3.70" fill="#ff00ff" stroke="none" stroke-width="0" />
<rect x="234.80" y="20.63" width="3.80" height="3.70" fill="#ffffff" stroke="none" stroke-width="0" />
<text x="212.60" y="23.98" font-size="4.1" text-anchor="start" font-weight="normal" fill="#000" >CD45</text>
<text x="242.40" y="23.98" font-size="4.1" text-anchor="start" font-weight="normal" fill="#000" >CD4</text>
<rect x="204.80" y="28.41" width="3.80" height="3.70" fill="#00e000" stroke="none" stroke-width="0" />
<rect x="234.80" y="28.41" width="3.80" height="3.70" fill="#00e000" stroke="none" stroke-width="0" />
<text x="212.60" y="31.76" font-size="4.1" text-anchor="start" font-weight="normal" fill="#000" >CD25</text>
<text x="242.40" y="31.76" font-size="4.1" text-anchor="start" font-weight="normal" fill="#000" >LY6G</text>
<rect x="204.80" y="36.19" width="3.80" height="3.70" fill="#00ffff" stroke="none" stroke-width="0" />
<rect x="234.80" y="36.19" width="3.80" height="3.70" fill="#f0b0b0" stroke="none" stroke-width="0" />
<text x="212.60" y="39.54" font-size="4.1" text-anchor="start" font-weight="normal" fill="#000" >PD-1</text>
<text x="242.40" y="39.54" font-size="4.1" text-anchor="start" font-weight="normal" fill="#000" >F4/80</text>
<rect x="204.80" y="43.97" width="3.80" height="3.70" fill="#ffff00" stroke="none" stroke-width="0" />
<rect x="234.80" y="43.97" width="3.80" height="3.70" fill="#f0a060" stroke="none" stroke-width="0" />
<text x="212.60" y="47.32" font-size="4.1" text-anchor="start" font-weight="normal" fill="#000" >CD11b</text>
<text x="242.40" y="47.32" font-size="4.1" text-anchor="start" font-weight="normal" fill="#000" >CD3</text>
<rect x="204.80" y="51.75" width="3.80" height="3.70" fill="#ff0000" stroke="none" stroke-width="0" />
<rect x="234.80" y="51.75" width="3.80" height="3.70" fill="#a09060" stroke="none" stroke-width="0" />
<text x="212.60" y="55.10" font-size="4.1" text-anchor="start" font-weight="normal" fill="#000" >CD8A</text>
<text x="242.40" y="55.10" font-size="4.1" text-anchor="start" font-weight="normal" fill="#000" >αSMA</text>
<rect x="204.80" y="59.53" width="3.80" height="3.70" fill="#8070c0" stroke="none" stroke-width="0" />
<rect x="234.80" y="59.53" width="3.80" height="3.70" fill="#00e000" stroke="none" stroke-width="0" />
<text x="212.60" y="62.88" font-size="4.1" text-anchor="start" font-weight="normal" fill="#000" >CD90</text>
<text x="242.40" y="62.88" font-size="4.1" text-anchor="start" font-weight="normal" fill="#000" >CD31</text>
<rect x="204.80" y="67.31" width="3.80" height="3.70" fill="#ffff00" stroke="none" stroke-width="0" />
<rect x="234.80" y="67.31" width="3.80" height="3.70" fill="#ff0000" stroke="none" stroke-width="0" />
<text x="212.60" y="70.66" font-size="4.1" text-anchor="start" font-weight="normal" fill="#000" >TCRβ</text>
<text x="242.40" y="70.66" font-size="4.1" text-anchor="start" font-weight="normal" fill="#000" >CD11c</text>
<rect x="204.80" y="75.09" width="3.80" height="3.70" fill="#a0b060" stroke="none" stroke-width="0" />
<rect x="234.80" y="75.09" width="3.80" height="3.70" fill="#ffffff" stroke="none" stroke-width="0" />
<text x="212.60" y="78.44" font-size="4.1" text-anchor="start" font-weight="normal" fill="#000" >IgD</text>
<text x="242.40" y="78.44" font-size="4.1" text-anchor="start" font-weight="normal" fill="#000" >B220</text>
<text x="31.40" y="99.60" font-size="5.1" text-anchor="start" font-weight="normal" fill="#333" >10x</text>
<text x="150.50" y="99.50" font-size="5.25" text-anchor="start" font-weight="normal" fill="#333" >Tumor cell</text>
<text x="183.70" y="99.50" font-size="5.2" text-anchor="start" font-weight="normal" fill="#333" >Single cell analysis</text>
<line x1="260.20" y1="93.60" x2="415.50" y2="93.60" stroke="#666" stroke-width="1.1" />
<line x1="260.20" y1="171.10" x2="415.50" y2="171.10" stroke="#666" stroke-width="1.1" />
<text x="336.50" y="102.86" font-size="4.05" text-anchor="middle" font-weight="normal" fill="#222" >Control</text>
<line x1="326.30" y1="108.80" x2="346.50" y2="108.80" stroke="#b0b0b0" stroke-width="0.9" />
<text x="359.00" y="102.86" font-size="4.05" text-anchor="middle" font-weight="normal" fill="#2b2bd0" >Entinostat</text>
<line x1="349.40" y1="108.80" x2="369.60" y2="108.80" stroke="#b0b0b0" stroke-width="0.9" />
<text x="382.40" y="102.86" font-size="4.05" text-anchor="middle" font-weight="normal" fill="#e02828" >Tolinapant</text>
<line x1="372.50" y1="108.80" x2="392.70" y2="108.80" stroke="#b0b0b0" stroke-width="0.9" />
<text x="405.20" y="102.86" font-size="4.05" text-anchor="middle" font-weight="normal" fill="#2e9e3e" >Combo</text>
<line x1="395.60" y1="108.80" x2="415.80" y2="108.80" stroke="#b0b0b0" stroke-width="0.9" />
<rect x="302.70" y="110.40" width="20.40" height="13.80" fill="#fce3d3" stroke="none" stroke-width="0" />
<line x1="302.70" y1="124.50" x2="323.10" y2="124.50" stroke="#989898" stroke-width="0.65" />
<text x="312.90" y="116.35" font-size="3.9" text-anchor="middle" font-weight="normal" fill="#3a3a3a" >Total</text>
<text x="312.90" y="121.05" font-size="3.9" text-anchor="middle" font-weight="normal" fill="#3a3a3a" >T cell</text>
<rect x="302.70" y="125.40" width="20.40" height="14.20" fill="#dbe7f7" stroke="none" stroke-width="0" />
<line x1="302.70" y1="139.90" x2="323.10" y2="139.90" stroke="#989898" stroke-width="0.65" />
<text x="312.90" y="131.55" font-size="3.9" text-anchor="middle" font-weight="normal" fill="#3a3a3a" >Helper</text>
<text x="312.90" y="136.25" font-size="3.9" text-anchor="middle" font-weight="normal" fill="#3a3a3a" >T cell</text>
<rect x="302.70" y="141.90" width="20.40" height="13.10" fill="#e2eed9" stroke="none" stroke-width="0" />
<line x1="302.70" y1="155.30" x2="323.10" y2="155.30" stroke="#989898" stroke-width="0.65" />
<text x="312.90" y="149.85" font-size="3.9" text-anchor="middle" font-weight="normal" fill="#3a3a3a" >Treg</text>
<rect x="302.70" y="156.50" width="20.40" height="12.30" fill="#fff1cb" stroke="none" stroke-width="0" />
<text x="312.90" y="164.05" font-size="3.9" text-anchor="middle" font-weight="normal" fill="#3a3a3a" >CTL</text>
<text x="336.50" y="117.76" font-size="4.05" text-anchor="middle" font-weight="normal" fill="#222" >58.7%</text>
<text x="359.00" y="117.76" font-size="4.05" text-anchor="middle" font-weight="normal" fill="#222" >47.0%</text>
<text x="382.40" y="117.76" font-size="4.05" text-anchor="middle" font-weight="normal" fill="#222" >39.8%</text>
<text x="405.20" y="117.76" font-size="4.05" text-anchor="middle" font-weight="bold" fill="#222" >32.2%</text>
<text x="336.50" y="133.56" font-size="4.05" text-anchor="middle" font-weight="normal" fill="#222" >61.3%</text>
<text x="359.00" y="133.56" font-size="4.05" text-anchor="middle" font-weight="normal" fill="#222" >47.0%</text>
<text x="382.40" y="133.56" font-size="4.05" text-anchor="middle" font-weight="normal" fill="#222" >39.8%</text>
<text x="405.20" y="133.56" font-size="4.05" text-anchor="middle" font-weight="bold" fill="#222" >28.8%</text>
<text x="336.50" y="149.46" font-size="4.05" text-anchor="middle" font-weight="normal" fill="#222" >60.7%</text>
<text x="359.00" y="149.46" font-size="4.05" text-anchor="middle" font-weight="normal" fill="#222" >48.5%</text>
<text x="382.40" y="149.46" font-size="4.05" text-anchor="middle" font-weight="normal" fill="#222" >36.7%</text>
<text x="405.20" y="149.46" font-size="4.05" text-anchor="middle" font-weight="bold" fill="#222" >25.8%</text>
<text x="336.50" y="165.26" font-size="4.05" text-anchor="middle" font-weight="normal" fill="#222" >62.8%</text>
<text x="359.00" y="165.26" font-size="4.05" text-anchor="middle" font-weight="normal" fill="#222" >49.4%</text>
<text x="382.40" y="165.26" font-size="4.05" text-anchor="middle" font-weight="normal" fill="#222" >47.2%</text>
<text x="405.20" y="165.26" font-size="4.05" text-anchor="middle" font-weight="bold" fill="#222" >33.8%</text>
<line x1="264.20" y1="159.20" x2="298.20" y2="127.00" stroke="#444" stroke-width="0.5" />
<text x="279.00" y="120.20" font-size="3.9" text-anchor="middle" fill="#222"><tspan font-weight="normal">% mean cells</tspan></text>
<text x="279.00" y="125.20" font-size="3.9" text-anchor="middle" fill="#222"><tspan font-weight="normal">in tumor</tspan></text>
<text x="286.20" y="158.90" font-size="3.9" text-anchor="middle" fill="#222"><tspan font-weight="normal">Cells in the total</tspan></text>
<text x="286.20" y="163.70" font-size="3.9" text-anchor="middle" fill="#222"><tspan font-weight="normal">tissue section</tspan></text>
<line x1="260.20" y1="177.00" x2="415.50" y2="177.00" stroke="#666" stroke-width="1.1" />
<line x1="260.20" y1="254.20" x2="415.50" y2="254.20" stroke="#666" stroke-width="1.1" />
<rect x="277.10" y="181.80" width="33.10" height="5.60" fill="#fff" stroke="#999" stroke-width="0.5" />
<text x="293.65" y="186.05" font-size="4.0" text-anchor="middle" font-weight="normal" fill="#222" >One-way ANOVA</text>
<text x="332.70" y="181.80" font-size="3.6" text-anchor="middle" font-weight="bold" fill="#222" >Control</text>
<text x="332.70" y="185.60" font-size="2.8" text-anchor="middle" font-weight="normal" fill="#444" >vs</text>
<text x="332.70" y="190.00" font-size="3.6" text-anchor="middle" font-weight="bold" fill="#e02828" >Tolina</text>
<line x1="325.50" y1="191.90" x2="339.90" y2="191.90" stroke="#b0b0b0" stroke-width="0.8" />
<text x="348.00" y="181.80" font-size="3.6" text-anchor="middle" font-weight="bold" fill="#222" >Control</text>
<text x="348.00" y="185.60" font-size="2.8" text-anchor="middle" font-weight="normal" fill="#444" >vs</text>
<text x="348.00" y="190.00" font-size="3.6" text-anchor="middle" font-weight="bold" fill="#2b2bd0" >Entino</text>
<line x1="340.80" y1="191.90" x2="355.20" y2="191.90" stroke="#b0b0b0" stroke-width="0.8" />
<text x="362.80" y="181.80" font-size="3.6" text-anchor="middle" font-weight="bold" fill="#222" >Control</text>
<text x="362.80" y="185.60" font-size="2.8" text-anchor="middle" font-weight="normal" fill="#444" >vs</text>
<text x="362.80" y="190.00" font-size="3.6" text-anchor="middle" font-weight="bold" fill="#2e9e3e" >Combo</text>
<line x1="355.60" y1="191.90" x2="370.00" y2="191.90" stroke="#b0b0b0" stroke-width="0.8" />
<text x="378.40" y="181.80" font-size="3.6" text-anchor="middle" font-weight="bold" fill="#e02828" >Tolina</text>
<text x="378.40" y="185.60" font-size="2.8" text-anchor="middle" font-weight="normal" fill="#444" >vs</text>
<text x="378.40" y="190.00" font-size="3.6" text-anchor="middle" font-weight="bold" fill="#2b2bd0" >Entino</text>
<line x1="371.20" y1="191.90" x2="385.60" y2="191.90" stroke="#b0b0b0" stroke-width="0.8" />
<text x="394.10" y="181.80" font-size="3.6" text-anchor="middle" font-weight="bold" fill="#e02828" >Tolina</text>
<text x="394.10" y="185.60" font-size="2.8" text-anchor="middle" font-weight="normal" fill="#444" >vs</text>
<text x="394.10" y="190.00" font-size="3.6" text-anchor="middle" font-weight="bold" fill="#2e9e3e" >Combo</text>
<line x1="386.90" y1="191.90" x2="401.30" y2="191.90" stroke="#b0b0b0" stroke-width="0.8" />
<text x="408.90" y="181.80" font-size="3.6" text-anchor="middle" font-weight="bold" fill="#2b2bd0" >Entino</text>
<text x="408.90" y="185.60" font-size="2.8" text-anchor="middle" font-weight="normal" fill="#444" >vs</text>
<text x="408.90" y="190.00" font-size="3.6" text-anchor="middle" font-weight="bold" fill="#2e9e3e" >Combo</text>
<line x1="401.70" y1="191.90" x2="416.10" y2="191.90" stroke="#b0b0b0" stroke-width="0.8" />
<rect x="302.80" y="193.50" width="20.20" height="13.70" fill="#fce3d3" stroke="none" stroke-width="0" />
<line x1="302.80" y1="207.50" x2="323.00" y2="207.50" stroke="#989898" stroke-width="0.65" />
<text x="312.90" y="199.40" font-size="3.9" text-anchor="middle" font-weight="normal" fill="#3a3a3a" >Total</text>
<text x="312.90" y="204.10" font-size="3.9" text-anchor="middle" font-weight="normal" fill="#3a3a3a" >T cell</text>
<rect x="302.80" y="209.20" width="20.20" height="14.10" fill="#dbe7f7" stroke="none" stroke-width="0" />
<line x1="302.80" y1="223.60" x2="323.00" y2="223.60" stroke="#989898" stroke-width="0.65" />
<text x="312.90" y="215.30" font-size="3.9" text-anchor="middle" font-weight="normal" fill="#3a3a3a" >Helper</text>
<text x="312.90" y="220.00" font-size="3.9" text-anchor="middle" font-weight="normal" fill="#3a3a3a" >T cell</text>
<rect x="302.80" y="224.90" width="20.20" height="13.50" fill="#e2eed9" stroke="none" stroke-width="0" />
<line x1="302.80" y1="238.70" x2="323.00" y2="238.70" stroke="#989898" stroke-width="0.65" />
<text x="312.90" y="233.05" font-size="3.9" text-anchor="middle" font-weight="normal" fill="#3a3a3a" >Treg</text>
<rect x="302.80" y="240.40" width="20.20" height="13.00" fill="#fff1cb" stroke="none" stroke-width="0" />
<text x="312.90" y="248.30" font-size="3.9" text-anchor="middle" font-weight="normal" fill="#3a3a3a" >CTL</text>
<text x="332.70" y="200.78" font-size="3.0" text-anchor="middle" font-weight="normal" fill="#222" >p = 0.186</text>
<text x="348.00" y="200.78" font-size="3.0" text-anchor="middle" font-weight="normal" fill="#222" >p = 0.567</text>
<text x="362.80" y="200.78" font-size="3.3600000000000003" text-anchor="middle" font-weight="bold" fill="#222" >p = 0.029</text>
<text x="378.40" y="200.78" font-size="3.0" text-anchor="middle" font-weight="normal" fill="#222" >p = 0.846</text>
<text x="394.10" y="200.78" font-size="3.0" text-anchor="middle" font-weight="normal" fill="#222" >p = 0.824</text>
<text x="408.90" y="200.78" font-size="3.0" text-anchor="middle" font-weight="normal" fill="#222" >p = 0.367</text>
<line x1="325.50" y1="207.50" x2="339.90" y2="207.50" stroke="#b8b8b8" stroke-width="0.7" />
<line x1="340.80" y1="207.50" x2="355.20" y2="207.50" stroke="#b8b8b8" stroke-width="0.7" />
<line x1="355.60" y1="207.50" x2="370.00" y2="207.50" stroke="#b8b8b8" stroke-width="0.7" />
<line x1="371.20" y1="207.50" x2="385.60" y2="207.50" stroke="#b8b8b8" stroke-width="0.7" />
<line x1="386.90" y1="207.50" x2="401.30" y2="207.50" stroke="#b8b8b8" stroke-width="0.7" />
<line x1="401.70" y1="207.50" x2="416.10" y2="207.50" stroke="#b8b8b8" stroke-width="0.7" />
<text x="332.70" y="216.38" font-size="3.0" text-anchor="middle" font-weight="normal" fill="#222" >p = 0.01</text>
<text x="348.00" y="216.38" font-size="3.0" text-anchor="middle" font-weight="normal" fill="#222" >p = 0.379</text>
<text x="362.80" y="216.38" font-size="3.3600000000000003" text-anchor="middle" font-weight="bold" fill="#222" >p = 0.008</text>
<text x="378.40" y="216.38" font-size="3.0" text-anchor="middle" font-weight="normal" fill="#222" >p = 0.830</text>
<text x="394.10" y="216.38" font-size="3.0" text-anchor="middle" font-weight="normal" fill="#222" >p = 0.37</text>
<text x="408.90" y="216.38" font-size="3.0" text-anchor="middle" font-weight="normal" fill="#222" >p = 0.18</text>
<line x1="325.50" y1="223.10" x2="339.90" y2="223.10" stroke="#b8b8b8" stroke-width="0.7" />
<line x1="340.80" y1="223.10" x2="355.20" y2="223.10" stroke="#b8b8b8" stroke-width="0.7" />
<line x1="355.60" y1="223.10" x2="370.00" y2="223.10" stroke="#b8b8b8" stroke-width="0.7" />
<line x1="371.20" y1="223.10" x2="385.60" y2="223.10" stroke="#b8b8b8" stroke-width="0.7" />
<line x1="386.90" y1="223.10" x2="401.30" y2="223.10" stroke="#b8b8b8" stroke-width="0.7" />
<line x1="401.70" y1="223.10" x2="416.10" y2="223.10" stroke="#b8b8b8" stroke-width="0.7" />
<text x="332.70" y="231.98" font-size="3.0" text-anchor="middle" font-weight="normal" fill="#222" >p = 0.072</text>
<text x="348.00" y="231.98" font-size="3.0" text-anchor="middle" font-weight="normal" fill="#222" >p = 0.538</text>
<text x="362.80" y="231.98" font-size="3.3600000000000003" text-anchor="middle" font-weight="bold" fill="#222" >p = 0.007</text>
<text x="378.40" y="231.98" font-size="3.0" text-anchor="middle" font-weight="normal" fill="#222" >p = 0.572</text>
<text x="394.10" y="231.98" font-size="3.0" text-anchor="middle" font-weight="normal" fill="#222" >p = 0.629</text>
<text x="408.90" y="231.98" font-size="3.0" text-anchor="middle" font-weight="normal" fill="#222" >p = 0.095</text>
<line x1="325.50" y1="238.70" x2="339.90" y2="238.70" stroke="#b8b8b8" stroke-width="0.7" />
<line x1="340.80" y1="238.70" x2="355.20" y2="238.70" stroke="#b8b8b8" stroke-width="0.7" />
<line x1="355.60" y1="238.70" x2="370.00" y2="238.70" stroke="#b8b8b8" stroke-width="0.7" />
<line x1="371.20" y1="238.70" x2="385.60" y2="238.70" stroke="#b8b8b8" stroke-width="0.7" />
<line x1="386.90" y1="238.70" x2="401.30" y2="238.70" stroke="#b8b8b8" stroke-width="0.7" />
<line x1="401.70" y1="238.70" x2="416.10" y2="238.70" stroke="#b8b8b8" stroke-width="0.7" />
<text x="332.70" y="247.58" font-size="3.0" text-anchor="middle" font-weight="normal" fill="#222" >p = 0.43</text>
<text x="348.00" y="247.58" font-size="3.0" text-anchor="middle" font-weight="normal" fill="#222" >p = 0.554</text>
<text x="362.80" y="247.58" font-size="3.3600000000000003" text-anchor="middle" font-weight="bold" fill="#222" >p = 0.044</text>
<text x="378.40" y="247.58" font-size="3.0" text-anchor="middle" font-weight="normal" fill="#222" >p = 0.886</text>
<text x="394.10" y="247.58" font-size="3.0" text-anchor="middle" font-weight="normal" fill="#222" >p = 0.531</text>
<text x="408.90" y="247.58" font-size="3.0" text-anchor="middle" font-weight="normal" fill="#222" >p = 0.408</text>
<line x1="325.50" y1="254.30" x2="339.90" y2="254.30" stroke="#b8b8b8" stroke-width="0.7" />
<line x1="340.80" y1="254.30" x2="355.20" y2="254.30" stroke="#b8b8b8" stroke-width="0.7" />
<line x1="355.60" y1="254.30" x2="370.00" y2="254.30" stroke="#b8b8b8" stroke-width="0.7" />
<line x1="371.20" y1="254.30" x2="385.60" y2="254.30" stroke="#b8b8b8" stroke-width="0.7" />
<line x1="386.90" y1="254.30" x2="401.30" y2="254.30" stroke="#b8b8b8" stroke-width="0.7" />
<line x1="401.70" y1="254.30" x2="416.10" y2="254.30" stroke="#b8b8b8" stroke-width="0.7" />
<line x1="264.60" y1="242.40" x2="298.20" y2="211.20" stroke="#444" stroke-width="0.5" />
<text x="279.10" y="203.64" font-size="4.0" text-anchor="middle" fill="#222"><tspan font-weight="normal">% mean each cells</tspan></text>
<text x="279.10" y="208.24" font-size="4.0" text-anchor="middle" fill="#222"><tspan font-weight="normal">in Tumor</tspan></text>
<text x="279.10" y="212.84" font-size="4.0" text-anchor="middle" fill="#222"><tspan font-weight="normal">annotation area</tspan></text>
<text x="286.40" y="239.04" font-size="4.0" text-anchor="middle" fill="#222"><tspan font-weight="normal">each cells</tspan></text>
<text x="286.40" y="243.44" font-size="4.0" text-anchor="middle" fill="#222"><tspan font-weight="normal">in Sample area</tspan></text>
<line x1="260.20" y1="273.10" x2="415.50" y2="273.10" stroke="#666" stroke-width="1.1" />
<line x1="260.20" y1="350.00" x2="415.50" y2="350.00" stroke="#666" stroke-width="1.1" />
<text x="331.70" y="282.16" font-size="4.05" text-anchor="middle" font-weight="normal" fill="#222" >Control</text>
<line x1="322.00" y1="288.40" x2="342.20" y2="288.40" stroke="#b0b0b0" stroke-width="0.9" />
<text x="354.60" y="282.16" font-size="4.05" text-anchor="middle" font-weight="normal" fill="#2b2bd0" >Entinostat</text>
<line x1="345.10" y1="288.40" x2="365.30" y2="288.40" stroke="#b0b0b0" stroke-width="0.9" />
<text x="377.70" y="282.16" font-size="4.05" text-anchor="middle" font-weight="normal" fill="#e02828" >Tolinapant</text>
<line x1="368.20" y1="288.40" x2="388.40" y2="288.40" stroke="#b0b0b0" stroke-width="0.9" />
<text x="400.80" y="282.16" font-size="4.05" text-anchor="middle" font-weight="normal" fill="#2e9e3e" >Combo</text>
<line x1="391.30" y1="288.40" x2="411.50" y2="288.40" stroke="#b0b0b0" stroke-width="0.9" />
<rect x="298.60" y="289.80" width="20.20" height="12.80" fill="#fce3d3" stroke="none" stroke-width="0" />
<line x1="298.60" y1="302.90" x2="318.80" y2="302.90" stroke="#989898" stroke-width="0.65" />
<text x="308.70" y="295.25" font-size="3.9" text-anchor="middle" font-weight="normal" fill="#3a3a3a" >Total</text>
<text x="308.70" y="299.95" font-size="3.9" text-anchor="middle" font-weight="normal" fill="#3a3a3a" >T cell</text>
<rect x="298.60" y="304.70" width="20.20" height="13.80" fill="#dbe7f7" stroke="none" stroke-width="0" />
<line x1="298.60" y1="318.80" x2="318.80" y2="318.80" stroke="#989898" stroke-width="0.65" />
<text x="308.70" y="310.65" font-size="3.9" text-anchor="middle" font-weight="normal" fill="#3a3a3a" >Helper</text>
<text x="308.70" y="315.35" font-size="3.9" text-anchor="middle" font-weight="normal" fill="#3a3a3a" >T cell</text>
<rect x="298.60" y="320.60" width="20.20" height="12.80" fill="#e2eed9" stroke="none" stroke-width="0" />
<line x1="298.60" y1="333.70" x2="318.80" y2="333.70" stroke="#989898" stroke-width="0.65" />
<text x="308.70" y="328.40" font-size="3.9" text-anchor="middle" font-weight="normal" fill="#3a3a3a" >Treg</text>
<rect x="298.60" y="335.50" width="20.20" height="13.50" fill="#fff1cb" stroke="none" stroke-width="0" />
<text x="308.70" y="343.65" font-size="3.9" text-anchor="middle" font-weight="normal" fill="#3a3a3a" >CTL</text>
<text x="331.70" y="297.36" font-size="4.05" text-anchor="middle" font-weight="normal" fill="#222" >29.0%</text>
<text x="354.60" y="297.36" font-size="4.05" text-anchor="middle" font-weight="normal" fill="#222" >24.2%</text>
<text x="377.70" y="297.36" font-size="4.05" text-anchor="middle" font-weight="normal" fill="#222" >30.9%</text>
<text x="400.80" y="297.36" font-size="4.05" text-anchor="middle" font-weight="normal" fill="#222" >25.7%</text>
<text x="331.70" y="313.16" font-size="4.05" text-anchor="middle" font-weight="normal" fill="#222" >25.8%</text>
<text x="354.60" y="313.16" font-size="4.05" text-anchor="middle" font-weight="normal" fill="#222" >25.5%</text>
<text x="377.70" y="313.16" font-size="4.05" text-anchor="middle" font-weight="normal" fill="#222" >33.0%</text>
<text x="400.80" y="313.16" font-size="4.05" text-anchor="middle" font-weight="bold" fill="#222" >38.3%</text>
<text x="331.70" y="328.76" font-size="4.05" text-anchor="middle" font-weight="normal" fill="#222" >50.8%</text>
<text x="354.60" y="328.76" font-size="4.05" text-anchor="middle" font-weight="normal" fill="#222" >49.3%</text>
<text x="377.70" y="328.76" font-size="4.05" text-anchor="middle" font-weight="normal" fill="#222" >55.4%</text>
<text x="400.80" y="328.76" font-size="4.05" text-anchor="middle" font-weight="normal" fill="#222" >59.7%</text>
<text x="331.70" y="344.86" font-size="4.05" text-anchor="middle" font-weight="normal" fill="#222" >28.4%</text>
<text x="354.60" y="344.86" font-size="4.05" text-anchor="middle" font-weight="normal" fill="#222" >32.2%</text>
<text x="377.70" y="344.86" font-size="4.05" text-anchor="middle" font-weight="normal" fill="#222" >32.7%</text>
<text x="400.80" y="344.86" font-size="4.05" text-anchor="middle" font-weight="normal" fill="#222" >36.0%</text>
<line x1="260.30" y1="338.30" x2="294.40" y2="307.20" stroke="#444" stroke-width="0.5" />
<text x="277.90" y="298.00" font-size="3.9" text-anchor="middle" fill="#222"><tspan font-weight="normal">% mean</tspan></text>
<text x="277.90" y="302.50" font-size="3.9" text-anchor="middle" fill="#222"><tspan font-weight="bold">PD-1 positive</tspan><tspan font-weight="normal"> cells</tspan></text>
<text x="277.90" y="307.20" font-size="3.9" text-anchor="middle" fill="#222"><tspan font-weight="normal">in Tumor</tspan></text>
<text x="282.80" y="335.10" font-size="3.9" text-anchor="middle" fill="#222"><tspan font-weight="bold">PD-1 positive</tspan></text>
<text x="282.80" y="339.60" font-size="3.9" text-anchor="middle" fill="#222"><tspan font-weight="normal">cells</tspan></text>
<text x="282.80" y="344.20" font-size="3.9" text-anchor="middle" fill="#222"><tspan font-weight="normal">in the total</tspan></text>
<text x="282.80" y="348.70" font-size="3.9" text-anchor="middle" fill="#222"><tspan font-weight="normal">tissue section</tspan></text>
<line x1="260.20" y1="356.00" x2="415.50" y2="356.00" stroke="#666" stroke-width="1.1" />
<line x1="260.20" y1="433.50" x2="415.50" y2="433.50" stroke="#666" stroke-width="1.1" />
<rect x="277.40" y="361.50" width="33.20" height="5.50" fill="#fff" stroke="#999" stroke-width="0.5" />
<text x="294.00" y="365.70" font-size="4.0" text-anchor="middle" font-weight="normal" fill="#222" >One-way ANOVA</text>
<text x="332.70" y="361.50" font-size="3.6" text-anchor="middle" font-weight="bold" fill="#222" >Control</text>
<text x="332.70" y="365.10" font-size="2.8" text-anchor="middle" font-weight="normal" fill="#444" >vs</text>
<text x="332.70" y="369.60" font-size="3.6" text-anchor="middle" font-weight="bold" fill="#e02828" >Tolina</text>
<line x1="325.50" y1="371.20" x2="339.90" y2="371.20" stroke="#b0b0b0" stroke-width="0.8" />
<text x="348.40" y="361.50" font-size="3.6" text-anchor="middle" font-weight="bold" fill="#222" >Control</text>
<text x="348.40" y="365.10" font-size="2.8" text-anchor="middle" font-weight="normal" fill="#444" >vs</text>
<text x="348.40" y="369.60" font-size="3.6" text-anchor="middle" font-weight="bold" fill="#2b2bd0" >Entino</text>
<line x1="341.20" y1="371.20" x2="355.60" y2="371.20" stroke="#b0b0b0" stroke-width="0.8" />
<text x="363.10" y="361.50" font-size="3.6" text-anchor="middle" font-weight="bold" fill="#222" >Control</text>
<text x="363.10" y="365.10" font-size="2.8" text-anchor="middle" font-weight="normal" fill="#444" >vs</text>
<text x="363.10" y="369.60" font-size="3.6" text-anchor="middle" font-weight="bold" fill="#2e9e3e" >Combo</text>
<line x1="355.90" y1="371.20" x2="370.30" y2="371.20" stroke="#b0b0b0" stroke-width="0.8" />
<text x="378.90" y="361.50" font-size="3.6" text-anchor="middle" font-weight="bold" fill="#e02828" >Tolina</text>
<text x="378.90" y="365.10" font-size="2.8" text-anchor="middle" font-weight="normal" fill="#444" >vs</text>
<text x="378.90" y="369.60" font-size="3.6" text-anchor="middle" font-weight="bold" fill="#2b2bd0" >Entino</text>
<line x1="371.70" y1="371.20" x2="386.10" y2="371.20" stroke="#b0b0b0" stroke-width="0.8" />
<text x="394.30" y="361.50" font-size="3.6" text-anchor="middle" font-weight="bold" fill="#e02828" >Tolina</text>
<text x="394.30" y="365.10" font-size="2.8" text-anchor="middle" font-weight="normal" fill="#444" >vs</text>
<text x="394.30" y="369.60" font-size="3.6" text-anchor="middle" font-weight="bold" fill="#2e9e3e" >Combo</text>
<line x1="387.10" y1="371.20" x2="401.50" y2="371.20" stroke="#b0b0b0" stroke-width="0.8" />
<text x="409.60" y="361.50" font-size="3.6" text-anchor="middle" font-weight="bold" fill="#2b2bd0" >Entino</text>
<text x="409.60" y="365.10" font-size="2.8" text-anchor="middle" font-weight="normal" fill="#444" >vs</text>
<text x="409.60" y="369.60" font-size="3.6" text-anchor="middle" font-weight="bold" fill="#2e9e3e" >Combo</text>
<line x1="402.40" y1="371.20" x2="416.80" y2="371.20" stroke="#b0b0b0" stroke-width="0.8" />
<rect x="303.50" y="373.30" width="20.00" height="12.60" fill="#fce3d3" stroke="none" stroke-width="0" />
<line x1="303.50" y1="386.20" x2="323.50" y2="386.20" stroke="#989898" stroke-width="0.65" />
<text x="313.50" y="378.65" font-size="3.9" text-anchor="middle" font-weight="normal" fill="#3a3a3a" >Total</text>
<text x="313.50" y="383.35" font-size="3.9" text-anchor="middle" font-weight="normal" fill="#3a3a3a" >T cell</text>
<rect x="303.50" y="387.60" width="20.00" height="14.80" fill="#dbe7f7" stroke="none" stroke-width="0" />
<line x1="303.50" y1="402.70" x2="323.50" y2="402.70" stroke="#989898" stroke-width="0.65" />
<text x="313.50" y="394.05" font-size="3.9" text-anchor="middle" font-weight="normal" fill="#3a3a3a" >Helper</text>
<text x="313.50" y="398.75" font-size="3.9" text-anchor="middle" font-weight="normal" fill="#3a3a3a" >T cell</text>
<rect x="303.50" y="404.60" width="20.00" height="12.70" fill="#e2eed9" stroke="none" stroke-width="0" />
<line x1="303.50" y1="417.60" x2="323.50" y2="417.60" stroke="#989898" stroke-width="0.65" />
<text x="313.50" y="412.35" font-size="3.9" text-anchor="middle" font-weight="normal" fill="#3a3a3a" >Treg</text>
<rect x="303.50" y="419.50" width="20.00" height="12.70" fill="#fff1cb" stroke="none" stroke-width="0" />
<text x="313.50" y="427.25" font-size="3.9" text-anchor="middle" font-weight="normal" fill="#3a3a3a" >CTL</text>
<text x="332.70" y="379.78" font-size="3.0" text-anchor="middle" font-weight="normal" fill="#222" >p = 0.863</text>
<text x="348.40" y="379.78" font-size="3.0" text-anchor="middle" font-weight="normal" fill="#222" >p = 0.617</text>
<text x="363.10" y="379.78" font-size="3.0" text-anchor="middle" font-weight="normal" fill="#222" >p = 0.83</text>
<text x="378.90" y="379.78" font-size="3.0" text-anchor="middle" font-weight="normal" fill="#222" >p = 0.612</text>
<text x="394.30" y="379.78" font-size="3.0" text-anchor="middle" font-weight="normal" fill="#222" >p = 0.771</text>
<text x="409.60" y="379.78" font-size="3.0" text-anchor="middle" font-weight="normal" fill="#222" >p = 0.996</text>
<text x="332.70" y="395.68" font-size="3.0" text-anchor="middle" font-weight="normal" fill="#222" >p = 0.126</text>
<text x="348.40" y="395.68" font-size="3.0" text-anchor="middle" font-weight="normal" fill="#222" >p = 0.999</text>
<text x="363.10" y="395.68" font-size="3.3600000000000003" text-anchor="middle" font-weight="bold" fill="#222" >p = 0.004</text>
<text x="378.90" y="395.68" font-size="3.0" text-anchor="middle" font-weight="normal" fill="#222" >p = 0.102</text>
<text x="394.30" y="395.68" font-size="3.0" text-anchor="middle" font-weight="normal" fill="#222" >p = 0.344</text>
<text x="409.60" y="395.68" font-size="3.3600000000000003" text-anchor="middle" font-weight="bold" fill="#222" >p = 0.003</text>
<text x="332.70" y="410.78" font-size="3.0" text-anchor="middle" font-weight="normal" fill="#222" >p = 0.801</text>
<text x="348.40" y="410.78" font-size="3.0" text-anchor="middle" font-weight="normal" fill="#222" >p = 0.99</text>
<text x="363.10" y="410.78" font-size="3.0" text-anchor="middle" font-weight="normal" fill="#222" >p = 0.332</text>
<text x="378.90" y="410.78" font-size="3.0" text-anchor="middle" font-weight="normal" fill="#222" >p = 0.631</text>
<text x="394.30" y="410.78" font-size="3.0" text-anchor="middle" font-weight="normal" fill="#222" >p = 0.824</text>
<text x="409.60" y="410.78" font-size="3.0" text-anchor="middle" font-weight="normal" fill="#222" >p = 0.212</text>
<text x="332.70" y="427.08" font-size="3.0" text-anchor="middle" font-weight="normal" fill="#222" >p = 0.87</text>
<text x="348.40" y="427.08" font-size="3.0" text-anchor="middle" font-weight="normal" fill="#222" >p = 0.979</text>
<text x="363.10" y="427.08" font-size="3.0" text-anchor="middle" font-weight="normal" fill="#222" >p = 0.662</text>
<text x="378.90" y="427.08" font-size="3.0" text-anchor="middle" font-weight="normal" fill="#222" >p = 0.999</text>
<text x="394.30" y="427.08" font-size="3.0" text-anchor="middle" font-weight="normal" fill="#222" >p = 0.986</text>
<text x="409.60" y="427.08" font-size="3.0" text-anchor="middle" font-weight="normal" fill="#222" >p = 0.98</text>
<line x1="265.20" y1="421.60" x2="299.70" y2="390.10" stroke="#444" stroke-width="0.5" />
<text x="282.90" y="380.42" font-size="3.95" text-anchor="middle" fill="#222"><tspan font-weight="normal">% mean</tspan></text>
<text x="282.90" y="385.62" font-size="3.95" text-anchor="middle" fill="#222"><tspan font-weight="bold">PD-1 positive</tspan><tspan font-weight="normal"> cells</tspan></text>
<text x="282.90" y="390.42" font-size="3.95" text-anchor="middle" fill="#222"><tspan font-weight="normal">in Tumor</tspan></text>
<text x="287.70" y="418.12" font-size="3.95" text-anchor="middle" fill="#222"><tspan font-weight="bold">PD-1 positive</tspan></text>
<text x="287.70" y="422.82" font-size="3.95" text-anchor="middle" fill="#222"><tspan font-weight="normal">cells</tspan></text>
<text x="287.70" y="427.52" font-size="3.95" text-anchor="middle" fill="#222"><tspan font-weight="normal">in the total</tspan></text>
<text x="287.70" y="432.12" font-size="3.95" text-anchor="middle" fill="#222"><tspan font-weight="normal">tissue section</tspan></text>
<text x="48.90" y="149.78" font-size="5.5" text-anchor="middle" font-weight="bold" fill="#111" >Total T cell</text>
<line x1="34.05" y1="176.05" x2="34.05" y2="166.40" stroke="#8a8a8a" stroke-width="0.6" />
<line x1="32.55" y1="166.40" x2="35.55" y2="166.40" stroke="#8a8a8a" stroke-width="0.6" />
<rect x="30.45" y="176.05" width="7.20" height="29.35" fill="#ffffff" stroke="#333333" stroke-width="0.7" />
<line x1="34.05" y1="205.40" x2="34.05" y2="206.80" stroke="#333" stroke-width="0.5" />
<text x="35.05" y="211.00" font-size="3.9" font-weight="bold" text-anchor="end" fill="#222" transform="rotate(-45 35.05 211.00)">Control</text>
<line x1="45.45" y1="181.90" x2="45.45" y2="174.40" stroke="#8a8a8a" stroke-width="0.6" />
<line x1="43.95" y1="174.40" x2="46.95" y2="174.40" stroke="#8a8a8a" stroke-width="0.6" />
<rect x="41.85" y="181.90" width="7.20" height="23.50" fill="#7878f2" stroke="#22226a" stroke-width="0.7" />
<line x1="45.45" y1="205.40" x2="45.45" y2="206.80" stroke="#333" stroke-width="0.5" />
<text x="46.45" y="211.00" font-size="3.9" font-weight="bold" text-anchor="end" fill="#222" transform="rotate(-45 46.45 211.00)">Entinostat</text>
<line x1="56.85" y1="185.50" x2="56.85" y2="180.40" stroke="#8a8a8a" stroke-width="0.6" />
<line x1="55.35" y1="180.40" x2="58.35" y2="180.40" stroke="#8a8a8a" stroke-width="0.6" />
<rect x="53.25" y="185.50" width="7.20" height="19.90" fill="#f89898" stroke="#5a3030" stroke-width="0.7" />
<line x1="56.85" y1="205.40" x2="56.85" y2="206.80" stroke="#333" stroke-width="0.5" />
<text x="57.85" y="211.00" font-size="3.9" font-weight="bold" text-anchor="end" fill="#222" transform="rotate(-45 57.85 211.00)">Tolinapant</text>
<line x1="68.25" y1="189.30" x2="68.25" y2="183.40" stroke="#8a8a8a" stroke-width="0.6" />
<line x1="66.75" y1="183.40" x2="69.75" y2="183.40" stroke="#8a8a8a" stroke-width="0.6" />
<rect x="64.65" y="189.30" width="7.20" height="16.10" fill="#90f090" stroke="#2e5a2e" stroke-width="0.7" />
<line x1="68.25" y1="205.40" x2="68.25" y2="206.80" stroke="#333" stroke-width="0.5" />
<text x="69.25" y="211.00" font-size="3.9" font-weight="bold" text-anchor="end" fill="#222" transform="rotate(-45 69.25 211.00)">Combo</text>
<line x1="26.50" y1="155.40" x2="26.50" y2="205.70" stroke="#222" stroke-width="0.8" />
<line x1="26.20" y1="205.40" x2="76.50" y2="205.40" stroke="#222" stroke-width="0.8" />
<line x1="24.10" y1="205.40" x2="26.50" y2="205.40" stroke="#333" stroke-width="0.6" />
<text x="23.50" y="206.70" font-size="3.6" text-anchor="end" font-weight="bold" fill="#111" stroke="#111" stroke-width="0.12">0</text>
<line x1="24.10" y1="195.40" x2="26.50" y2="195.40" stroke="#333" stroke-width="0.6" />
<text x="23.50" y="196.70" font-size="3.6" text-anchor="end" font-weight="bold" fill="#111" stroke="#111" stroke-width="0.12">20</text>
<line x1="24.10" y1="185.40" x2="26.50" y2="185.40" stroke="#333" stroke-width="0.6" />
<text x="23.50" y="186.70" font-size="3.6" text-anchor="end" font-weight="bold" fill="#111" stroke="#111" stroke-width="0.12">40</text>
<line x1="24.10" y1="175.40" x2="26.50" y2="175.40" stroke="#333" stroke-width="0.6" />
<text x="23.50" y="176.70" font-size="3.6" text-anchor="end" font-weight="bold" fill="#111" stroke="#111" stroke-width="0.12">60</text>
<line x1="24.10" y1="165.40" x2="26.50" y2="165.40" stroke="#333" stroke-width="0.6" />
<text x="23.50" y="166.70" font-size="3.6" text-anchor="end" font-weight="bold" fill="#111" stroke="#111" stroke-width="0.12">80</text>
<line x1="24.10" y1="155.40" x2="26.50" y2="155.40" stroke="#333" stroke-width="0.6" />
<text x="23.50" y="156.70" font-size="3.6" text-anchor="end" font-weight="bold" fill="#111" stroke="#111" stroke-width="0.12">100</text>
<polyline points="33.90,163.90 33.90,160.70 68.60,160.70 68.60,181.90" fill="none" stroke="#a0a0a0" stroke-width="0.6"/>
<text x="51.00" y="161.50" font-size="4.6" text-anchor="middle" font-weight="bold" fill="#333" >*</text>
<text x="107.70" y="149.78" font-size="5.5" text-anchor="middle" font-weight="bold" fill="#111" >Helper T cell</text>
<line x1="93.25" y1="174.75" x2="93.25" y2="166.10" stroke="#8a8a8a" stroke-width="0.6" />
<line x1="91.75" y1="166.10" x2="94.75" y2="166.10" stroke="#8a8a8a" stroke-width="0.6" />
<rect x="89.65" y="174.75" width="7.20" height="30.65" fill="#ffffff" stroke="#333333" stroke-width="0.7" />
<line x1="93.25" y1="205.40" x2="93.25" y2="206.80" stroke="#333" stroke-width="0.5" />
<text x="94.25" y="211.00" font-size="3.9" font-weight="bold" text-anchor="end" fill="#222" transform="rotate(-45 94.25 211.00)">Control</text>
<line x1="104.65" y1="181.90" x2="104.65" y2="174.40" stroke="#8a8a8a" stroke-width="0.6" />
<line x1="103.15" y1="174.40" x2="106.15" y2="174.40" stroke="#8a8a8a" stroke-width="0.6" />
<rect x="101.05" y="181.90" width="7.20" height="23.50" fill="#7878f2" stroke="#22226a" stroke-width="0.7" />
<line x1="104.65" y1="205.40" x2="104.65" y2="206.80" stroke="#333" stroke-width="0.5" />
<text x="105.65" y="211.00" font-size="3.9" font-weight="bold" text-anchor="end" fill="#222" transform="rotate(-45 105.65 211.00)">Entinostat</text>
<line x1="116.05" y1="185.50" x2="116.05" y2="178.90" stroke="#8a8a8a" stroke-width="0.6" />
<line x1="114.55" y1="178.90" x2="117.55" y2="178.90" stroke="#8a8a8a" stroke-width="0.6" />
<rect x="112.45" y="185.50" width="7.20" height="19.90" fill="#f89898" stroke="#5a3030" stroke-width="0.7" />
<line x1="116.05" y1="205.40" x2="116.05" y2="206.80" stroke="#333" stroke-width="0.5" />
<text x="117.05" y="211.00" font-size="3.9" font-weight="bold" text-anchor="end" fill="#222" transform="rotate(-45 117.05 211.00)">Tolinapant</text>
<line x1="127.45" y1="191.00" x2="127.45" y2="185.50" stroke="#8a8a8a" stroke-width="0.6" />
<line x1="125.95" y1="185.50" x2="128.95" y2="185.50" stroke="#8a8a8a" stroke-width="0.6" />
<rect x="123.85" y="191.00" width="7.20" height="14.40" fill="#90f090" stroke="#2e5a2e" stroke-width="0.7" />
<line x1="127.45" y1="205.40" x2="127.45" y2="206.80" stroke="#333" stroke-width="0.5" />
<text x="128.45" y="211.00" font-size="3.9" font-weight="bold" text-anchor="end" fill="#222" transform="rotate(-45 128.45 211.00)">Combo</text>
<line x1="85.70" y1="155.40" x2="85.70" y2="205.70" stroke="#222" stroke-width="0.8" />
<line x1="85.40" y1="205.40" x2="135.70" y2="205.40" stroke="#222" stroke-width="0.8" />
<line x1="83.30" y1="205.40" x2="85.70" y2="205.40" stroke="#333" stroke-width="0.6" />
<text x="82.70" y="206.70" font-size="3.6" text-anchor="end" font-weight="bold" fill="#111" stroke="#111" stroke-width="0.12">0</text>
<line x1="83.30" y1="195.40" x2="85.70" y2="195.40" stroke="#333" stroke-width="0.6" />
<text x="82.70" y="196.70" font-size="3.6" text-anchor="end" font-weight="bold" fill="#111" stroke="#111" stroke-width="0.12">20</text>
<line x1="83.30" y1="185.40" x2="85.70" y2="185.40" stroke="#333" stroke-width="0.6" />
<text x="82.70" y="186.70" font-size="3.6" text-anchor="end" font-weight="bold" fill="#111" stroke="#111" stroke-width="0.12">40</text>
<line x1="83.30" y1="175.40" x2="85.70" y2="175.40" stroke="#333" stroke-width="0.6" />
<text x="82.70" y="176.70" font-size="3.6" text-anchor="end" font-weight="bold" fill="#111" stroke="#111" stroke-width="0.12">60</text>
<line x1="83.30" y1="165.40" x2="85.70" y2="165.40" stroke="#333" stroke-width="0.6" />
<text x="82.70" y="166.70" font-size="3.6" text-anchor="end" font-weight="bold" fill="#111" stroke="#111" stroke-width="0.12">80</text>
<line x1="83.30" y1="155.40" x2="85.70" y2="155.40" stroke="#333" stroke-width="0.6" />
<text x="82.70" y="156.70" font-size="3.6" text-anchor="end" font-weight="bold" fill="#111" stroke="#111" stroke-width="0.12">100</text>
<polyline points="93.00,164.50 93.00,160.70 127.90,160.70 127.90,184.70" fill="none" stroke="#a0a0a0" stroke-width="0.6"/>
<text x="110.40" y="161.50" font-size="4.6" text-anchor="middle" font-weight="bold" fill="#333" >**</text>
<text x="168.60" y="149.78" font-size="5.5" text-anchor="middle" font-weight="bold" fill="#111" >Treg</text>
<line x1="152.15" y1="175.05" x2="152.15" y2="166.10" stroke="#8a8a8a" stroke-width="0.6" />
<line x1="150.65" y1="166.10" x2="153.65" y2="166.10" stroke="#8a8a8a" stroke-width="0.6" />
<rect x="148.55" y="175.05" width="7.20" height="30.35" fill="#ffffff" stroke="#333333" stroke-width="0.7" />
<line x1="152.15" y1="205.40" x2="152.15" y2="206.80" stroke="#333" stroke-width="0.5" />
<text x="153.15" y="211.00" font-size="3.9" font-weight="bold" text-anchor="end" fill="#222" transform="rotate(-45 153.15 211.00)">Control</text>
<line x1="163.55" y1="181.15" x2="163.55" y2="175.20" stroke="#8a8a8a" stroke-width="0.6" />
<line x1="162.05" y1="175.20" x2="165.05" y2="175.20" stroke="#8a8a8a" stroke-width="0.6" />
<rect x="159.95" y="181.15" width="7.20" height="24.25" fill="#7878f2" stroke="#22226a" stroke-width="0.7" />
<line x1="163.55" y1="205.40" x2="163.55" y2="206.80" stroke="#333" stroke-width="0.5" />
<text x="164.55" y="211.00" font-size="3.9" font-weight="bold" text-anchor="end" fill="#222" transform="rotate(-45 164.55 211.00)">Entinostat</text>
<line x1="174.95" y1="187.05" x2="174.95" y2="179.20" stroke="#8a8a8a" stroke-width="0.6" />
<line x1="173.45" y1="179.20" x2="176.45" y2="179.20" stroke="#8a8a8a" stroke-width="0.6" />
<rect x="171.35" y="187.05" width="7.20" height="18.35" fill="#f89898" stroke="#5a3030" stroke-width="0.7" />
<line x1="174.95" y1="205.40" x2="174.95" y2="206.80" stroke="#333" stroke-width="0.5" />
<text x="175.95" y="211.00" font-size="3.9" font-weight="bold" text-anchor="end" fill="#222" transform="rotate(-45 175.95 211.00)">Tolinapant</text>
<line x1="186.35" y1="192.50" x2="186.35" y2="186.30" stroke="#8a8a8a" stroke-width="0.6" />
<line x1="184.85" y1="186.30" x2="187.85" y2="186.30" stroke="#8a8a8a" stroke-width="0.6" />
<rect x="182.75" y="192.50" width="7.20" height="12.90" fill="#90f090" stroke="#2e5a2e" stroke-width="0.7" />
<line x1="186.35" y1="205.40" x2="186.35" y2="206.80" stroke="#333" stroke-width="0.5" />
<text x="187.35" y="211.00" font-size="3.9" font-weight="bold" text-anchor="end" fill="#222" transform="rotate(-45 187.35 211.00)">Combo</text>
<line x1="144.60" y1="155.40" x2="144.60" y2="205.70" stroke="#222" stroke-width="0.8" />
<line x1="144.30" y1="205.40" x2="194.60" y2="205.40" stroke="#222" stroke-width="0.8" />
<line x1="142.20" y1="205.40" x2="144.60" y2="205.40" stroke="#333" stroke-width="0.6" />
<text x="141.60" y="206.70" font-size="3.6" text-anchor="end" font-weight="bold" fill="#111" stroke="#111" stroke-width="0.12">0</text>
<line x1="142.20" y1="195.40" x2="144.60" y2="195.40" stroke="#333" stroke-width="0.6" />
<text x="141.60" y="196.70" font-size="3.6" text-anchor="end" font-weight="bold" fill="#111" stroke="#111" stroke-width="0.12">20</text>
<line x1="142.20" y1="185.40" x2="144.60" y2="185.40" stroke="#333" stroke-width="0.6" />
<text x="141.60" y="186.70" font-size="3.6" text-anchor="end" font-weight="bold" fill="#111" stroke="#111" stroke-width="0.12">40</text>
<line x1="142.20" y1="175.40" x2="144.60" y2="175.40" stroke="#333" stroke-width="0.6" />
<text x="141.60" y="176.70" font-size="3.6" text-anchor="end" font-weight="bold" fill="#111" stroke="#111" stroke-width="0.12">60</text>
<line x1="142.20" y1="165.40" x2="144.60" y2="165.40" stroke="#333" stroke-width="0.6" />
<text x="141.60" y="166.70" font-size="3.6" text-anchor="end" font-weight="bold" fill="#111" stroke="#111" stroke-width="0.12">80</text>
<line x1="142.20" y1="155.40" x2="144.60" y2="155.40" stroke="#333" stroke-width="0.6" />
<text x="141.60" y="156.70" font-size="3.6" text-anchor="end" font-weight="bold" fill="#111" stroke="#111" stroke-width="0.12">100</text>
<polyline points="151.90,164.80 151.90,160.70 186.80,160.70 186.80,184.70" fill="none" stroke="#a0a0a0" stroke-width="0.6"/>
<text x="168.90" y="161.50" font-size="4.6" text-anchor="middle" font-weight="bold" fill="#333" >**</text>
<text x="226.70" y="149.78" font-size="5.5" text-anchor="middle" font-weight="bold" fill="#111" >CTL</text>
<line x1="210.75" y1="174.00" x2="210.75" y2="163.50" stroke="#8a8a8a" stroke-width="0.6" />
<line x1="209.25" y1="163.50" x2="212.25" y2="163.50" stroke="#8a8a8a" stroke-width="0.6" />
<rect x="207.15" y="174.00" width="7.20" height="31.40" fill="#ffffff" stroke="#333333" stroke-width="0.7" />
<line x1="210.75" y1="205.40" x2="210.75" y2="206.80" stroke="#333" stroke-width="0.5" />
<text x="211.75" y="211.00" font-size="3.9" font-weight="bold" text-anchor="end" fill="#222" transform="rotate(-45 211.75 211.00)">Control</text>
<line x1="222.15" y1="180.70" x2="222.15" y2="172.30" stroke="#8a8a8a" stroke-width="0.6" />
<line x1="220.65" y1="172.30" x2="223.65" y2="172.30" stroke="#8a8a8a" stroke-width="0.6" />
<rect x="218.55" y="180.70" width="7.20" height="24.70" fill="#7878f2" stroke="#22226a" stroke-width="0.7" />
<line x1="222.15" y1="205.40" x2="222.15" y2="206.80" stroke="#333" stroke-width="0.5" />
<text x="223.15" y="211.00" font-size="3.9" font-weight="bold" text-anchor="end" fill="#222" transform="rotate(-45 223.15 211.00)">Entinostat</text>
<line x1="233.55" y1="181.80" x2="233.55" y2="177.70" stroke="#8a8a8a" stroke-width="0.6" />
<line x1="232.05" y1="177.70" x2="235.05" y2="177.70" stroke="#8a8a8a" stroke-width="0.6" />
<rect x="229.95" y="181.80" width="7.20" height="23.60" fill="#f89898" stroke="#5a3030" stroke-width="0.7" />
<line x1="233.55" y1="205.40" x2="233.55" y2="206.80" stroke="#333" stroke-width="0.5" />
<text x="234.55" y="211.00" font-size="3.9" font-weight="bold" text-anchor="end" fill="#222" transform="rotate(-45 234.55 211.00)">Tolinapant</text>
<line x1="244.95" y1="188.50" x2="244.95" y2="180.20" stroke="#8a8a8a" stroke-width="0.6" />
<line x1="243.45" y1="180.20" x2="246.45" y2="180.20" stroke="#8a8a8a" stroke-width="0.6" />
<rect x="241.35" y="188.50" width="7.20" height="16.90" fill="#90f090" stroke="#2e5a2e" stroke-width="0.7" />
<line x1="244.95" y1="205.40" x2="244.95" y2="206.80" stroke="#333" stroke-width="0.5" />
<text x="245.95" y="211.00" font-size="3.9" font-weight="bold" text-anchor="end" fill="#222" transform="rotate(-45 245.95 211.00)">Combo</text>
<line x1="203.20" y1="155.40" x2="203.20" y2="205.70" stroke="#222" stroke-width="0.8" />
<line x1="202.90" y1="205.40" x2="253.20" y2="205.40" stroke="#222" stroke-width="0.8" />
<line x1="200.80" y1="205.40" x2="203.20" y2="205.40" stroke="#333" stroke-width="0.6" />
<text x="200.20" y="206.70" font-size="3.6" text-anchor="end" font-weight="bold" fill="#111" stroke="#111" stroke-width="0.12">0</text>
<line x1="200.80" y1="195.40" x2="203.20" y2="195.40" stroke="#333" stroke-width="0.6" />
<text x="200.20" y="196.70" font-size="3.6" text-anchor="end" font-weight="bold" fill="#111" stroke="#111" stroke-width="0.12">20</text>
<line x1="200.80" y1="185.40" x2="203.20" y2="185.40" stroke="#333" stroke-width="0.6" />
<text x="200.20" y="186.70" font-size="3.6" text-anchor="end" font-weight="bold" fill="#111" stroke="#111" stroke-width="0.12">40</text>
<line x1="200.80" y1="175.40" x2="203.20" y2="175.40" stroke="#333" stroke-width="0.6" />
<text x="200.20" y="176.70" font-size="3.6" text-anchor="end" font-weight="bold" fill="#111" stroke="#111" stroke-width="0.12">60</text>
<line x1="200.80" y1="165.40" x2="203.20" y2="165.40" stroke="#333" stroke-width="0.6" />
<text x="200.20" y="166.70" font-size="3.6" text-anchor="end" font-weight="bold" fill="#111" stroke="#111" stroke-width="0.12">80</text>
<line x1="200.80" y1="155.40" x2="203.20" y2="155.40" stroke="#333" stroke-width="0.6" />
<text x="200.20" y="156.70" font-size="3.6" text-anchor="end" font-weight="bold" fill="#111" stroke="#111" stroke-width="0.12">100</text>
<polyline points="210.50,162.80 210.50,157.80 245.60,157.80 245.60,178.00" fill="none" stroke="#a0a0a0" stroke-width="0.6"/>
<text x="227.70" y="158.60" font-size="4.6" text-anchor="middle" font-weight="bold" fill="#333" >*</text>
<text x="47.20" y="319.98" font-size="5.5" text-anchor="middle" font-weight="bold" fill="#111" >% PD-1 positive</text>
<text x="47.20" y="326.88" font-size="5.5" text-anchor="middle" font-weight="bold" fill="#111" >Total T cell</text>
<line x1="31.15" y1="361.15" x2="31.15" y2="354.48" stroke="#8a8a8a" stroke-width="0.6" />
<line x1="29.65" y1="354.48" x2="32.65" y2="354.48" stroke="#8a8a8a" stroke-width="0.6" />
<rect x="27.55" y="361.15" width="7.20" height="29.75" fill="#ffffff" stroke="#333333" stroke-width="0.7" />
<line x1="31.15" y1="390.90" x2="31.15" y2="392.30" stroke="#333" stroke-width="0.5" />
<text x="32.15" y="397.70" font-size="3.85" font-weight="bold" text-anchor="end" fill="#222" transform="rotate(-45 32.15 397.70)">Control</text>
<line x1="42.85" y1="366.07" x2="42.85" y2="360.12" stroke="#8a8a8a" stroke-width="0.6" />
<line x1="41.35" y1="360.12" x2="44.35" y2="360.12" stroke="#8a8a8a" stroke-width="0.6" />
<rect x="39.25" y="366.07" width="7.20" height="24.83" fill="#7878f2" stroke="#22226a" stroke-width="0.7" />
<line x1="42.85" y1="390.90" x2="42.85" y2="392.30" stroke="#333" stroke-width="0.5" />
<text x="43.85" y="397.70" font-size="3.85" font-weight="bold" text-anchor="end" fill="#222" transform="rotate(-45 43.85 397.70)">Entinostat</text>
<line x1="54.55" y1="359.20" x2="54.55" y2="354.99" stroke="#8a8a8a" stroke-width="0.6" />
<line x1="53.05" y1="354.99" x2="56.05" y2="354.99" stroke="#8a8a8a" stroke-width="0.6" />
<rect x="50.95" y="359.20" width="7.20" height="31.70" fill="#f89898" stroke="#5a3030" stroke-width="0.7" />
<line x1="54.55" y1="390.90" x2="54.55" y2="392.30" stroke="#333" stroke-width="0.5" />
<text x="55.55" y="397.70" font-size="3.85" font-weight="bold" text-anchor="end" fill="#222" transform="rotate(-45 55.55 397.70)">Tolinapant</text>
<line x1="66.25" y1="364.53" x2="66.25" y2="349.86" stroke="#8a8a8a" stroke-width="0.6" />
<line x1="64.75" y1="349.86" x2="67.75" y2="349.86" stroke="#8a8a8a" stroke-width="0.6" />
<rect x="62.65" y="364.53" width="7.20" height="26.37" fill="#90f090" stroke="#2e5a2e" stroke-width="0.7" />
<line x1="66.25" y1="390.90" x2="66.25" y2="392.30" stroke="#333" stroke-width="0.5" />
<text x="67.25" y="397.70" font-size="3.85" font-weight="bold" text-anchor="end" fill="#222" transform="rotate(-45 67.25 397.70)">Combo</text>
<line x1="23.20" y1="339.60" x2="23.20" y2="391.20" stroke="#222" stroke-width="0.8" />
<line x1="22.90" y1="390.90" x2="73.70" y2="390.90" stroke="#222" stroke-width="0.8" />
<line x1="20.80" y1="390.90" x2="23.20" y2="390.90" stroke="#333" stroke-width="0.6" />
<text x="20.20" y="392.20" font-size="3.6" text-anchor="end" font-weight="bold" fill="#111" stroke="#111" stroke-width="0.12">0</text>
<line x1="20.80" y1="380.64" x2="23.20" y2="380.64" stroke="#333" stroke-width="0.6" />
<text x="20.20" y="381.94" font-size="3.6" text-anchor="end" font-weight="bold" fill="#111" stroke="#111" stroke-width="0.12">10</text>
<line x1="20.80" y1="370.38" x2="23.20" y2="370.38" stroke="#333" stroke-width="0.6" />
<text x="20.20" y="371.68" font-size="3.6" text-anchor="end" font-weight="bold" fill="#111" stroke="#111" stroke-width="0.12">20</text>
<line x1="20.80" y1="360.12" x2="23.20" y2="360.12" stroke="#333" stroke-width="0.6" />
<text x="20.20" y="361.42" font-size="3.6" text-anchor="end" font-weight="bold" fill="#111" stroke="#111" stroke-width="0.12">30</text>
<line x1="20.80" y1="349.86" x2="23.20" y2="349.86" stroke="#333" stroke-width="0.6" />
<text x="20.20" y="351.16" font-size="3.6" text-anchor="end" font-weight="bold" fill="#111" stroke="#111" stroke-width="0.12">40</text>
<line x1="20.80" y1="339.60" x2="23.20" y2="339.60" stroke="#333" stroke-width="0.6" />
<text x="20.20" y="340.90" font-size="3.6" text-anchor="end" font-weight="bold" fill="#111" stroke="#111" stroke-width="0.12">50</text>
<text x="48.40" y="339.60" font-size="4.0" text-anchor="middle" font-weight="normal" fill="#333" font-style="italic">n.s.</text>
<text x="108.40" y="319.98" font-size="5.5" text-anchor="middle" font-weight="bold" fill="#111" >% PD-1 positive</text>
<text x="108.40" y="326.88" font-size="5.5" text-anchor="middle" font-weight="bold" fill="#111" >Helper T cell</text>
<line x1="91.95" y1="364.53" x2="91.95" y2="357.68" stroke="#8a8a8a" stroke-width="0.6" />
<line x1="90.45" y1="357.68" x2="93.45" y2="357.68" stroke="#8a8a8a" stroke-width="0.6" />
<rect x="88.35" y="364.53" width="7.20" height="26.37" fill="#ffffff" stroke="#333333" stroke-width="0.7" />
<line x1="91.95" y1="390.90" x2="91.95" y2="392.30" stroke="#333" stroke-width="0.5" />
<text x="92.95" y="397.70" font-size="3.85" font-weight="bold" text-anchor="end" fill="#222" transform="rotate(-45 92.95 397.70)">Control</text>
<line x1="103.65" y1="364.84" x2="103.65" y2="360.75" stroke="#8a8a8a" stroke-width="0.6" />
<line x1="102.15" y1="360.75" x2="105.15" y2="360.75" stroke="#8a8a8a" stroke-width="0.6" />
<rect x="100.05" y="364.84" width="7.20" height="26.06" fill="#7878f2" stroke="#22226a" stroke-width="0.7" />
<line x1="103.65" y1="390.90" x2="103.65" y2="392.30" stroke="#333" stroke-width="0.5" />
<text x="104.65" y="397.70" font-size="3.85" font-weight="bold" text-anchor="end" fill="#222" transform="rotate(-45 104.65 397.70)">Entinostat</text>
<line x1="115.35" y1="357.17" x2="115.35" y2="352.57" stroke="#8a8a8a" stroke-width="0.6" />
<line x1="113.85" y1="352.57" x2="116.85" y2="352.57" stroke="#8a8a8a" stroke-width="0.6" />
<rect x="111.75" y="357.17" width="7.20" height="33.73" fill="#f89898" stroke="#5a3030" stroke-width="0.7" />
<line x1="115.35" y1="390.90" x2="115.35" y2="392.30" stroke="#333" stroke-width="0.5" />
<text x="116.35" y="397.70" font-size="3.85" font-weight="bold" text-anchor="end" fill="#222" transform="rotate(-45 116.35 397.70)">Tolinapant</text>
<line x1="127.05" y1="351.76" x2="127.05" y2="346.95" stroke="#8a8a8a" stroke-width="0.6" />
<line x1="125.55" y1="346.95" x2="128.55" y2="346.95" stroke="#8a8a8a" stroke-width="0.6" />
<rect x="123.45" y="351.76" width="7.20" height="39.14" fill="#90f090" stroke="#2e5a2e" stroke-width="0.7" />
<line x1="127.05" y1="390.90" x2="127.05" y2="392.30" stroke="#333" stroke-width="0.5" />
<text x="128.05" y="397.70" font-size="3.85" font-weight="bold" text-anchor="end" fill="#222" transform="rotate(-45 128.05 397.70)">Combo</text>
<line x1="84.10" y1="339.80" x2="84.10" y2="391.20" stroke="#222" stroke-width="0.8" />
<line x1="83.80" y1="390.90" x2="134.60" y2="390.90" stroke="#222" stroke-width="0.8" />
<line x1="81.70" y1="390.90" x2="84.10" y2="390.90" stroke="#333" stroke-width="0.6" />
<text x="81.10" y="392.20" font-size="3.6" text-anchor="end" font-weight="bold" fill="#111" stroke="#111" stroke-width="0.12">0</text>
<line x1="81.70" y1="380.68" x2="84.10" y2="380.68" stroke="#333" stroke-width="0.6" />
<text x="81.10" y="381.98" font-size="3.6" text-anchor="end" font-weight="bold" fill="#111" stroke="#111" stroke-width="0.12">10</text>
<line x1="81.70" y1="370.46" x2="84.10" y2="370.46" stroke="#333" stroke-width="0.6" />
<text x="81.10" y="371.76" font-size="3.6" text-anchor="end" font-weight="bold" fill="#111" stroke="#111" stroke-width="0.12">20</text>
<line x1="81.70" y1="360.24" x2="84.10" y2="360.24" stroke="#333" stroke-width="0.6" />
<text x="81.10" y="361.54" font-size="3.6" text-anchor="end" font-weight="bold" fill="#111" stroke="#111" stroke-width="0.12">30</text>
<line x1="81.70" y1="350.02" x2="84.10" y2="350.02" stroke="#333" stroke-width="0.6" />
<text x="81.10" y="351.32" font-size="3.6" text-anchor="end" font-weight="bold" fill="#111" stroke="#111" stroke-width="0.12">40</text>
<line x1="81.70" y1="339.80" x2="84.10" y2="339.80" stroke="#333" stroke-width="0.6" />
<text x="81.10" y="341.10" font-size="3.6" text-anchor="end" font-weight="bold" fill="#111" stroke="#111" stroke-width="0.12">50</text>
<polyline points="91.90,349.70 91.90,332.00 127.20,332.00 127.20,347.00" fill="none" stroke="#a0a0a0" stroke-width="0.6"/>
<text x="109.60" y="332.80" font-size="4.6" text-anchor="middle" font-weight="bold" fill="#333" >**</text>
<polyline points="103.60,359.60 103.60,341.60 127.20,341.60 127.20,347.00" fill="none" stroke="#a0a0a0" stroke-width="0.6"/>
<text x="115.40" y="342.40" font-size="4.6" text-anchor="middle" font-weight="bold" fill="#333" >**</text>
<text x="169.70" y="319.98" font-size="5.5" text-anchor="middle" font-weight="bold" fill="#111" >% PD-1 positive</text>
<text x="169.70" y="326.88" font-size="5.5" text-anchor="middle" font-weight="bold" fill="#111" >Treg</text>
<line x1="153.25" y1="358.34" x2="153.25" y2="353.08" stroke="#8a8a8a" stroke-width="0.6" />
<line x1="151.75" y1="353.08" x2="154.75" y2="353.08" stroke="#8a8a8a" stroke-width="0.6" />
<rect x="149.65" y="358.34" width="7.20" height="32.56" fill="#ffffff" stroke="#333333" stroke-width="0.7" />
<line x1="153.25" y1="390.90" x2="153.25" y2="392.30" stroke="#333" stroke-width="0.5" />
<text x="154.25" y="397.70" font-size="3.85" font-weight="bold" text-anchor="end" fill="#222" transform="rotate(-45 154.25 397.70)">Control</text>
<line x1="165.10" y1="359.30" x2="165.10" y2="357.89" stroke="#8a8a8a" stroke-width="0.6" />
<line x1="163.60" y1="357.89" x2="166.60" y2="357.89" stroke="#8a8a8a" stroke-width="0.6" />
<rect x="161.50" y="359.30" width="7.20" height="31.60" fill="#7878f2" stroke="#22226a" stroke-width="0.7" />
<line x1="165.10" y1="390.90" x2="165.10" y2="392.30" stroke="#333" stroke-width="0.5" />
<text x="166.10" y="397.70" font-size="3.85" font-weight="bold" text-anchor="end" fill="#222" transform="rotate(-45 166.10 397.70)">Entinostat</text>
<line x1="176.95" y1="355.39" x2="176.95" y2="351.16" stroke="#8a8a8a" stroke-width="0.6" />
<line x1="175.45" y1="351.16" x2="178.45" y2="351.16" stroke="#8a8a8a" stroke-width="0.6" />
<rect x="173.35" y="355.39" width="7.20" height="35.51" fill="#f89898" stroke="#5a3030" stroke-width="0.7" />
<line x1="176.95" y1="390.90" x2="176.95" y2="392.30" stroke="#333" stroke-width="0.5" />
<text x="177.95" y="397.70" font-size="3.85" font-weight="bold" text-anchor="end" fill="#222" transform="rotate(-45 177.95 397.70)">Tolinapant</text>
<line x1="188.80" y1="352.63" x2="188.80" y2="345.39" stroke="#8a8a8a" stroke-width="0.6" />
<line x1="187.30" y1="345.39" x2="190.30" y2="345.39" stroke="#8a8a8a" stroke-width="0.6" />
<rect x="185.20" y="352.63" width="7.20" height="38.27" fill="#90f090" stroke="#2e5a2e" stroke-width="0.7" />
<line x1="188.80" y1="390.90" x2="188.80" y2="392.30" stroke="#333" stroke-width="0.5" />
<text x="189.80" y="397.70" font-size="3.85" font-weight="bold" text-anchor="end" fill="#222" transform="rotate(-45 189.80 397.70)">Combo</text>
<line x1="145.70" y1="339.62" x2="145.70" y2="391.20" stroke="#222" stroke-width="0.8" />
<line x1="145.40" y1="390.90" x2="196.20" y2="390.90" stroke="#222" stroke-width="0.8" />
<line x1="143.30" y1="390.90" x2="145.70" y2="390.90" stroke="#333" stroke-width="0.6" />
<text x="142.70" y="392.20" font-size="3.6" text-anchor="end" font-weight="bold" fill="#111" stroke="#111" stroke-width="0.12">0</text>
<line x1="143.30" y1="378.08" x2="145.70" y2="378.08" stroke="#333" stroke-width="0.6" />
<text x="142.70" y="379.38" font-size="3.6" text-anchor="end" font-weight="bold" fill="#111" stroke="#111" stroke-width="0.12">20</text>
<line x1="143.30" y1="365.26" x2="145.70" y2="365.26" stroke="#333" stroke-width="0.6" />
<text x="142.70" y="366.56" font-size="3.6" text-anchor="end" font-weight="bold" fill="#111" stroke="#111" stroke-width="0.12">40</text>
<line x1="143.30" y1="352.44" x2="145.70" y2="352.44" stroke="#333" stroke-width="0.6" />
<text x="142.70" y="353.74" font-size="3.6" text-anchor="end" font-weight="bold" fill="#111" stroke="#111" stroke-width="0.12">60</text>
<line x1="143.30" y1="339.62" x2="145.70" y2="339.62" stroke="#333" stroke-width="0.6" />
<text x="142.70" y="340.92" font-size="3.6" text-anchor="end" font-weight="bold" fill="#111" stroke="#111" stroke-width="0.12">80</text>
<text x="170.50" y="340.10" font-size="4.0" text-anchor="middle" font-weight="normal" fill="#333" font-style="italic">n.s.</text>
<text x="227.70" y="319.98" font-size="5.5" text-anchor="middle" font-weight="bold" fill="#111" >% PD-1 positive</text>
<text x="227.70" y="326.88" font-size="5.5" text-anchor="middle" font-weight="bold" fill="#111" >CTL</text>
<line x1="213.25" y1="366.62" x2="213.25" y2="350.71" stroke="#8a8a8a" stroke-width="0.6" />
<line x1="211.75" y1="350.71" x2="214.75" y2="350.71" stroke="#8a8a8a" stroke-width="0.6" />
<rect x="209.65" y="366.62" width="7.20" height="24.28" fill="#ffffff" stroke="#333333" stroke-width="0.7" />
<line x1="213.25" y1="390.90" x2="213.25" y2="392.30" stroke="#333" stroke-width="0.5" />
<text x="214.25" y="397.70" font-size="3.85" font-weight="bold" text-anchor="end" fill="#222" transform="rotate(-45 214.25 397.70)">Control</text>
<line x1="225.10" y1="363.37" x2="225.10" y2="349.86" stroke="#8a8a8a" stroke-width="0.6" />
<line x1="223.60" y1="349.86" x2="226.60" y2="349.86" stroke="#8a8a8a" stroke-width="0.6" />
<rect x="221.50" y="363.37" width="7.20" height="27.53" fill="#7878f2" stroke="#22226a" stroke-width="0.7" />
<line x1="225.10" y1="390.90" x2="225.10" y2="392.30" stroke="#333" stroke-width="0.5" />
<text x="226.10" y="397.70" font-size="3.85" font-weight="bold" text-anchor="end" fill="#222" transform="rotate(-45 226.10 397.70)">Entinostat</text>
<line x1="236.95" y1="362.94" x2="236.95" y2="352.42" stroke="#8a8a8a" stroke-width="0.6" />
<line x1="235.45" y1="352.42" x2="238.45" y2="352.42" stroke="#8a8a8a" stroke-width="0.6" />
<rect x="233.35" y="362.94" width="7.20" height="27.96" fill="#f89898" stroke="#5a3030" stroke-width="0.7" />
<line x1="236.95" y1="390.90" x2="236.95" y2="392.30" stroke="#333" stroke-width="0.5" />
<text x="237.95" y="397.70" font-size="3.85" font-weight="bold" text-anchor="end" fill="#222" transform="rotate(-45 237.95 397.70)">Tolinapant</text>
<line x1="248.80" y1="360.12" x2="248.80" y2="349.00" stroke="#8a8a8a" stroke-width="0.6" />
<line x1="247.30" y1="349.00" x2="250.30" y2="349.00" stroke="#8a8a8a" stroke-width="0.6" />
<rect x="245.20" y="360.12" width="7.20" height="30.78" fill="#90f090" stroke="#2e5a2e" stroke-width="0.7" />
<line x1="248.80" y1="390.90" x2="248.80" y2="392.30" stroke="#333" stroke-width="0.5" />
<text x="249.80" y="397.70" font-size="3.85" font-weight="bold" text-anchor="end" fill="#222" transform="rotate(-45 249.80 397.70)">Combo</text>
<line x1="205.70" y1="339.60" x2="205.70" y2="391.20" stroke="#222" stroke-width="0.8" />
<line x1="205.40" y1="390.90" x2="256.20" y2="390.90" stroke="#222" stroke-width="0.8" />
<line x1="203.30" y1="390.90" x2="205.70" y2="390.90" stroke="#333" stroke-width="0.6" />
<text x="202.70" y="392.20" font-size="3.6" text-anchor="end" font-weight="bold" fill="#111" stroke="#111" stroke-width="0.12">0</text>
<line x1="203.30" y1="373.80" x2="205.70" y2="373.80" stroke="#333" stroke-width="0.6" />
<text x="202.70" y="375.10" font-size="3.6" text-anchor="end" font-weight="bold" fill="#111" stroke="#111" stroke-width="0.12">20</text>
<line x1="203.30" y1="356.70" x2="205.70" y2="356.70" stroke="#333" stroke-width="0.6" />
<text x="202.70" y="358.00" font-size="3.6" text-anchor="end" font-weight="bold" fill="#111" stroke="#111" stroke-width="0.12">40</text>
<line x1="203.30" y1="339.60" x2="205.70" y2="339.60" stroke="#333" stroke-width="0.6" />
<text x="202.70" y="340.90" font-size="3.6" text-anchor="end" font-weight="bold" fill="#111" stroke="#111" stroke-width="0.12">60</text>
<text x="229.70" y="340.10" font-size="4.0" text-anchor="middle" font-weight="normal" fill="#333" font-style="italic">n.s.</text>
<text x="13.60" y="122.90" font-size="8.8" text-anchor="start" font-weight="normal" fill="#333" stroke="#333" stroke-width="0.3">B</text>
<text x="14.60" y="283.00" font-size="8.8" text-anchor="start" font-weight="normal" fill="#333" stroke="#333" stroke-width="0.3">C</text>
<text x="14.80" y="438.70" font-size="8.8" text-anchor="start" font-weight="normal" fill="#333" stroke="#333" stroke-width="0.3">D</text>
<rect x="18.8" y="446.6" width="6.1" height="6.9" rx="2.6" fill="#505052"/>
<rect x="20" y="448" width="3.6" height="4" rx="1.5" fill="#6a6a6c"/>
<line x1="24.40" y1="453.00" x2="25.80" y2="455.00" stroke="#9090a8" stroke-width="0.6" />
<path d="M25.8 455.0 L29.3 455.5 L27.3 466.6 L22.9 466.3 Z" fill="#1e1a18"/>
<path d="M28.3 455.4 L29.3 455.5 L28.5 459.5 L27.8 459.2 Z" fill="#9a5a2a"/>
<path d="M23.4 464.5 L24.6 465.2 L24.4 466.4 L22.9 466.3 Z" fill="#5a3a22"/>
<path d="M36 449.9 L109.1 449.9 L109.1 447.7 Q124 450.6 140.6 452.0 Q124 453.4 109.1 456.1 L109.1 454.2 L36 454.2 Z" fill="#4472c4" stroke="#2f528f" stroke-width="0.4"/>
<rect x="34.85" y="447.20" width="1.70" height="16.40" fill="#000" stroke="none" stroke-width="0" />
<rect x="72.15" y="447.20" width="1.70" height="15.30" fill="#000" stroke="none" stroke-width="0" />
<rect x="87.55" y="447.20" width="1.70" height="15.30" fill="#000" stroke="none" stroke-width="0" />
<text x="36.60" y="469.90" font-size="3.85" text-anchor="start" font-weight="normal" fill="#222" >Day -26</text>
<text x="36.60" y="474.85" font-size="3.85" text-anchor="start" font-weight="normal" fill="#222" >Inject ID8</text>
<text x="36.60" y="479.80" font-size="3.85" text-anchor="start" font-weight="normal" fill="#222" >intraperitoneally</text>
<text x="70.60" y="470.30" font-size="3.85" text-anchor="start" font-weight="normal" fill="#222" >Day 0</text>
<text x="70.60" y="475.10" font-size="3.85" text-anchor="start" font-weight="normal" fill="#222" >Cycle 1</text>
<text x="87.90" y="470.30" font-size="3.85" text-anchor="start" font-weight="normal" fill="#222" >Day7</text>
<text x="87.90" y="475.10" font-size="3.85" text-anchor="start" font-weight="normal" fill="#222" >Cycle 2</text>
<text x="109.30" y="464.30" font-size="3.75" text-anchor="start" font-weight="normal" fill="#222" >Survival, Body weights</text>
<rect x="69.60" y="489.70" width="108.60" height="6.10" fill="#7a7a7a" stroke="none" stroke-width="0" />
<line x1="69.60" y1="489.70" x2="178.20" y2="489.70" stroke="#444" stroke-width="0.6" />
<text x="122.50" y="493.90" font-size="2.6" text-anchor="middle" font-weight="normal" fill="#222" >CYCLE</text>
<rect x="6.40" y="495.80" width="171.80" height="8.70" fill="#7f7f7f" stroke="none" stroke-width="0" />
<rect x="6.40" y="504.50" width="171.80" height="7.80" fill="#ffffff" stroke="none" stroke-width="0" />
<rect x="6.40" y="512.30" width="171.80" height="6.10" fill="#cfcfcf" stroke="none" stroke-width="0" />
<rect x="6.40" y="513.60" width="171.80" height="3.50" fill="#f4f4f4" stroke="none" stroke-width="0" />
<rect x="6.40" y="518.40" width="171.80" height="4.70" fill="#cfcfcf" stroke="none" stroke-width="0" />
<rect x="6.40" y="519.70" width="171.80" height="2.10" fill="#f4f4f4" stroke="none" stroke-width="0" />
<rect x="6.40" y="523.10" width="171.80" height="8.50" fill="#d6d6d6" stroke="none" stroke-width="0" />
<text x="14.95" y="499.28" font-size="3.0" text-anchor="middle" font-weight="normal" fill="#1a1a1a" >Group</text>
<text x="14.95" y="503.18" font-size="3.0" text-anchor="middle" font-weight="normal" fill="#1a1a1a" >(n=10)</text>
<text x="46.55" y="501.37" font-size="3.4" text-anchor="middle" font-weight="normal" fill="#1a1a1a" >Agent</text>
<text x="77.55" y="501.37" font-size="3.4" text-anchor="middle" font-weight="normal" fill="#1a1a1a" >Day 1</text>
<text x="99.65" y="501.37" font-size="3.4" text-anchor="middle" font-weight="normal" fill="#1a1a1a" >Day 2</text>
<text x="118.65" y="501.37" font-size="3.4" text-anchor="middle" font-weight="normal" fill="#1a1a1a" >Day 8</text>
<text x="138.95" y="501.37" font-size="3.4" text-anchor="middle" font-weight="normal" fill="#1a1a1a" >Day 9</text>
<text x="158.95" y="499.53" font-size="3.0" text-anchor="middle" font-weight="normal" fill="#1a1a1a" >Day</text>
<text x="158.95" y="502.93" font-size="3.0" text-anchor="middle" font-weight="normal" fill="#1a1a1a" >15</text>
<text x="167.65" y="499.53" font-size="3.0" text-anchor="middle" font-weight="normal" fill="#1a1a1a" >Day</text>
<text x="167.65" y="502.93" font-size="3.0" text-anchor="middle" font-weight="normal" fill="#1a1a1a" >16</text>
<text x="175.00" y="499.53" font-size="3.0" text-anchor="middle" font-weight="normal" fill="#1a1a1a" >Day</text>
<text x="175.00" y="502.93" font-size="3.0" text-anchor="middle" font-weight="normal" fill="#1a1a1a" >17</text>
<text x="14.95" y="509.66" font-size="3.5" text-anchor="middle" font-weight="normal" fill="#1a1a1a" >1, 5</text>
<text x="46.55" y="509.66" font-size="3.5" text-anchor="middle" font-weight="bold" fill="#1a1a1a" >Vehicle IP</text>
<text x="77.55" y="509.66" font-size="3.5" text-anchor="middle" font-weight="normal" fill="#1a1a1a" >V</text>
<text x="99.65" y="509.66" font-size="3.5" text-anchor="middle" font-weight="normal" fill="#1a1a1a" >IgG/aPD1</text>
<text x="118.65" y="509.66" font-size="3.5" text-anchor="middle" font-weight="normal" fill="#1a1a1a" >V</text>
<text x="138.95" y="509.66" font-size="3.5" text-anchor="middle" font-weight="normal" fill="#1a1a1a" >IgG/aPD1</text>
<text x="158.95" y="509.66" font-size="3.5" text-anchor="middle" font-weight="normal" fill="#1a1a1a" >V</text>
<text x="14.95" y="516.54" font-size="3.3" text-anchor="middle" font-weight="normal" fill="#1a1a1a" >2, 6</text>
<text x="46.55" y="516.54" font-size="3.3" text-anchor="middle" font-weight="normal" fill="#1a1a1a" >Tolinapant 10mg/kg IP</text>
<text x="77.55" y="516.54" font-size="3.3" text-anchor="middle" font-weight="normal" fill="#1a1a1a" >T</text>
<text x="99.65" y="516.54" font-size="3.3" text-anchor="middle" font-weight="normal" fill="#1a1a1a" >IgG/aPD1</text>
<text x="118.65" y="516.54" font-size="3.3" text-anchor="middle" font-weight="normal" fill="#1a1a1a" >T</text>
<text x="138.95" y="516.54" font-size="3.3" text-anchor="middle" font-weight="normal" fill="#1a1a1a" >IgG/aPD1</text>
<text x="158.95" y="516.54" font-size="3.3" text-anchor="middle" font-weight="normal" fill="#1a1a1a" >T</text>
<text x="14.95" y="521.94" font-size="3.3" text-anchor="middle" font-weight="normal" fill="#1a1a1a" >3, 7</text>
<text x="46.55" y="521.94" font-size="3.3" text-anchor="middle" font-weight="normal" fill="#1a1a1a" >Entinostat 20mg/kg IP</text>
<text x="77.55" y="521.94" font-size="3.3" text-anchor="middle" font-weight="normal" fill="#1a1a1a" >E</text>
<text x="99.65" y="521.94" font-size="3.3" text-anchor="middle" font-weight="normal" fill="#1a1a1a" >IgG/aPD1</text>
<text x="118.65" y="521.94" font-size="3.3" text-anchor="middle" font-weight="normal" fill="#1a1a1a" >E</text>
<text x="138.95" y="521.94" font-size="3.3" text-anchor="middle" font-weight="normal" fill="#1a1a1a" >IgG/aPD1</text>
<text x="158.95" y="521.94" font-size="3.3" text-anchor="middle" font-weight="normal" fill="#1a1a1a" >E</text>
<text x="14.95" y="528.54" font-size="3.3" text-anchor="middle" font-weight="normal" fill="#1a1a1a" >4, 8</text>
<text x="46.55" y="526.49" font-size="3.3" text-anchor="middle" font-weight="normal" fill="#1a1a1a" >Tolinapant 10mg/kg IP /</text>
<text x="46.55" y="530.59" font-size="3.3" text-anchor="middle" font-weight="normal" fill="#1a1a1a" >Entinostat 20mg/kg IP</text>
<text x="77.55" y="528.54" font-size="3.3" text-anchor="middle" font-weight="normal" fill="#1a1a1a" >TE</text>
<text x="99.65" y="528.54" font-size="3.3" text-anchor="middle" font-weight="normal" fill="#1a1a1a" >IgG/aPD1</text>
<text x="118.65" y="528.54" font-size="3.3" text-anchor="middle" font-weight="normal" fill="#1a1a1a" >TE</text>
<text x="138.95" y="528.54" font-size="3.3" text-anchor="middle" font-weight="normal" fill="#1a1a1a" >IgG/aPD1</text>
<text x="158.95" y="528.54" font-size="3.3" text-anchor="middle" font-weight="normal" fill="#1a1a1a" >TE</text>
<line x1="6.40" y1="495.80" x2="6.40" y2="531.60" stroke="#111" stroke-width="0.7" />
<line x1="23.50" y1="495.80" x2="23.50" y2="531.60" stroke="#111" stroke-width="0.7" />
<line x1="69.60" y1="495.80" x2="69.60" y2="531.60" stroke="#111" stroke-width="0.7" />
<line x1="85.50" y1="495.80" x2="85.50" y2="531.60" stroke="#111" stroke-width="0.7" />
<line x1="113.80" y1="495.80" x2="113.80" y2="531.60" stroke="#111" stroke-width="0.7" />
<line x1="123.50" y1="495.80" x2="123.50" y2="531.60" stroke="#111" stroke-width="0.7" />
<line x1="154.40" y1="495.80" x2="154.40" y2="531.60" stroke="#111" stroke-width="0.7" />
<line x1="163.50" y1="495.80" x2="163.50" y2="531.60" stroke="#111" stroke-width="0.7" />
<line x1="171.80" y1="495.80" x2="171.80" y2="531.60" stroke="#111" stroke-width="0.7" />
<line x1="178.20" y1="495.80" x2="178.20" y2="531.60" stroke="#111" stroke-width="0.7" />
<line x1="6.40" y1="495.80" x2="178.20" y2="495.80" stroke="#111" stroke-width="0.7" />
<line x1="6.40" y1="504.50" x2="178.20" y2="504.50" stroke="#111" stroke-width="0.7" />
<line x1="6.40" y1="512.30" x2="178.20" y2="512.30" stroke="#111" stroke-width="0.7" />
<line x1="6.40" y1="518.40" x2="178.20" y2="518.40" stroke="#111" stroke-width="0.7" />
<line x1="6.40" y1="523.10" x2="178.20" y2="523.10" stroke="#111" stroke-width="0.7" />
<line x1="6.40" y1="531.60" x2="178.20" y2="531.60" stroke="#111" stroke-width="0.7" />
<line x1="178.20" y1="489.70" x2="178.20" y2="495.80" stroke="#111" stroke-width="0.7" />
<line x1="69.60" y1="489.70" x2="69.60" y2="495.80" stroke="#111" stroke-width="0.7" />
<polyline points="205.60,457.80 243.00,457.80 243.00,464.56 256.50,464.56 256.50,471.32 258.00,471.32 258.00,484.84 260.00,484.84 260.00,498.36 262.00,498.36 262.00,511.88 264.20,511.88 264.20,518.64 266.00,518.64 266.00,525.40" fill="none" stroke="#999999" stroke-width="1" shape-rendering="crispEdges"/>
<polyline points="205.60,457.80 243.60,457.80 243.60,464.56 255.20,464.56 255.20,471.32 260.00,471.32 260.00,478.08 262.00,478.08 262.00,491.60 264.00,491.60 264.00,505.12 266.00,505.12 266.00,511.88 268.00,511.88 268.00,525.40" fill="none" stroke="#f4a0a8" stroke-width="1" shape-rendering="crispEdges"/>
<polyline points="205.60,457.80 244.30,457.80 244.30,464.56 262.50,464.56 262.50,471.32 264.00,471.32 264.00,484.84 266.00,484.84 266.00,498.36 268.00,498.36 268.00,511.88 272.40,511.88 272.40,525.40" fill="none" stroke="#88bbff" stroke-width="1" shape-rendering="crispEdges"/>
<polyline points="205.60,457.80 243.00,457.80 243.00,464.56 258.50,464.56 258.50,471.32 260.00,471.32 260.00,478.08 262.00,478.08 262.00,484.84 263.50,484.84 263.50,498.36 264.50,498.36 264.50,511.88 266.40,511.88 266.40,525.40" fill="none" stroke="#000000" stroke-width="1" shape-rendering="crispEdges"/>
<polyline points="205.60,457.80 247.10,457.80 247.10,478.08 248.30,478.08 248.30,484.84 258.10,484.84 258.10,491.60 260.50,491.60 260.50,498.36 262.50,498.36 262.50,505.12 264.00,505.12 264.00,511.88 266.00,511.88 266.00,518.64 315.60,518.64 315.60,525.40" fill="none" stroke="#33e033" stroke-width="1" shape-rendering="crispEdges"/>
<polyline points="205.60,457.80 261.30,457.80 261.30,471.32 262.30,471.32 262.30,478.08 263.50,478.08 263.50,491.60 265.00,491.60 265.00,505.12 266.00,505.12 266.00,518.64 267.00,518.64 267.00,525.40" fill="none" stroke="#2828ff" stroke-width="1" shape-rendering="crispEdges"/>
<polyline points="205.60,457.80 255.60,457.80 255.60,464.56 264.60,464.56 264.60,471.32 266.60,471.32 266.60,484.84 269.80,484.84 269.80,498.36 272.50,498.36 272.50,505.12 277.00,505.12 277.00,511.88 279.30,511.88 279.30,525.40" fill="none" stroke="#1a8a1a" stroke-width="1" shape-rendering="crispEdges"/>
<polyline points="205.60,457.80 237.20,457.80 237.20,464.56 279.70,464.56 279.70,511.88 302.40,511.88 302.40,518.64 309.60,518.64 309.60,525.40" fill="none" stroke="#ff2a2a" stroke-width="1" shape-rendering="crispEdges"/>
<line x1="205.60" y1="451.00" x2="205.60" y2="525.70" stroke="#111" stroke-width="0.7" />
<line x1="205.30" y1="525.40" x2="317.60" y2="525.40" stroke="#111" stroke-width="0.7" />
<line x1="202.50" y1="525.40" x2="205.60" y2="525.40" stroke="#111" stroke-width="0.7" />
<line x1="203.60" y1="522.02" x2="205.60" y2="522.02" stroke="#111" stroke-width="0.7" />
<line x1="203.60" y1="518.64" x2="205.60" y2="518.64" stroke="#111" stroke-width="0.7" />
<line x1="203.60" y1="515.26" x2="205.60" y2="515.26" stroke="#111" stroke-width="0.7" />
<line x1="203.60" y1="511.88" x2="205.60" y2="511.88" stroke="#111" stroke-width="0.7" />
<line x1="203.60" y1="508.50" x2="205.60" y2="508.50" stroke="#111" stroke-width="0.7" />
<line x1="203.60" y1="505.12" x2="205.60" y2="505.12" stroke="#111" stroke-width="0.7" />
<line x1="203.60" y1="501.74" x2="205.60" y2="501.74" stroke="#111" stroke-width="0.7" />
<line x1="203.60" y1="498.36" x2="205.60" y2="498.36" stroke="#111" stroke-width="0.7" />
<line x1="203.60" y1="494.98" x2="205.60" y2="494.98" stroke="#111" stroke-width="0.7" />
<line x1="202.50" y1="491.60" x2="205.60" y2="491.60" stroke="#111" stroke-width="0.7" />
<line x1="203.60" y1="488.22" x2="205.60" y2="488.22" stroke="#111" stroke-width="0.7" />
<line x1="203.60" y1="484.84" x2="205.60" y2="484.84" stroke="#111" stroke-width="0.7" />
<line x1="203.60" y1="481.46" x2="205.60" y2="481.46" stroke="#111" stroke-width="0.7" />
<line x1="203.60" y1="478.08" x2="205.60" y2="478.08" stroke="#111" stroke-width="0.7" />
<line x1="203.60" y1="474.70" x2="205.60" y2="474.70" stroke="#111" stroke-width="0.7" />
<line x1="203.60" y1="471.32" x2="205.60" y2="471.32" stroke="#111" stroke-width="0.7" />
<line x1="203.60" y1="467.94" x2="205.60" y2="467.94" stroke="#111" stroke-width="0.7" />
<line x1="203.60" y1="464.56" x2="205.60" y2="464.56" stroke="#111" stroke-width="0.7" />
<line x1="203.60" y1="461.18" x2="205.60" y2="461.18" stroke="#111" stroke-width="0.7" />
<line x1="202.50" y1="457.80" x2="205.60" y2="457.80" stroke="#111" stroke-width="0.7" />
<line x1="203.60" y1="454.42" x2="205.60" y2="454.42" stroke="#111" stroke-width="0.7" />
<line x1="203.60" y1="451.04" x2="205.60" y2="451.04" stroke="#111" stroke-width="0.7" />
<line x1="205.60" y1="525.40" x2="205.60" y2="528.40" stroke="#111" stroke-width="0.7" />
<line x1="210.22" y1="525.40" x2="210.22" y2="527.30" stroke="#111" stroke-width="0.7" />
<line x1="214.85" y1="525.40" x2="214.85" y2="527.30" stroke="#111" stroke-width="0.7" />
<line x1="219.47" y1="525.40" x2="219.47" y2="527.30" stroke="#111" stroke-width="0.7" />
<line x1="224.10" y1="525.40" x2="224.10" y2="527.30" stroke="#111" stroke-width="0.7" />
<line x1="228.72" y1="525.40" x2="228.72" y2="527.30" stroke="#111" stroke-width="0.7" />
<line x1="233.35" y1="525.40" x2="233.35" y2="527.30" stroke="#111" stroke-width="0.7" />
<line x1="237.97" y1="525.40" x2="237.97" y2="527.30" stroke="#111" stroke-width="0.7" />
<line x1="242.60" y1="525.40" x2="242.60" y2="527.30" stroke="#111" stroke-width="0.7" />
<line x1="247.23" y1="525.40" x2="247.23" y2="527.30" stroke="#111" stroke-width="0.7" />
<line x1="251.85" y1="525.40" x2="251.85" y2="528.40" stroke="#111" stroke-width="0.7" />
<line x1="256.48" y1="525.40" x2="256.48" y2="527.30" stroke="#111" stroke-width="0.7" />
<line x1="261.10" y1="525.40" x2="261.10" y2="527.30" stroke="#111" stroke-width="0.7" />
<line x1="265.73" y1="525.40" x2="265.73" y2="527.30" stroke="#111" stroke-width="0.7" />
<line x1="270.35" y1="525.40" x2="270.35" y2="527.30" stroke="#111" stroke-width="0.7" />
<line x1="274.98" y1="525.40" x2="274.98" y2="527.30" stroke="#111" stroke-width="0.7" />
<line x1="279.60" y1="525.40" x2="279.60" y2="527.30" stroke="#111" stroke-width="0.7" />
<line x1="284.23" y1="525.40" x2="284.23" y2="527.30" stroke="#111" stroke-width="0.7" />
<line x1="288.85" y1="525.40" x2="288.85" y2="527.30" stroke="#111" stroke-width="0.7" />
<line x1="293.48" y1="525.40" x2="293.48" y2="527.30" stroke="#111" stroke-width="0.7" />
<line x1="298.10" y1="525.40" x2="298.10" y2="528.40" stroke="#111" stroke-width="0.7" />
<line x1="302.73" y1="525.40" x2="302.73" y2="527.30" stroke="#111" stroke-width="0.7" />
<line x1="307.35" y1="525.40" x2="307.35" y2="527.30" stroke="#111" stroke-width="0.7" />
<line x1="311.98" y1="525.40" x2="311.98" y2="527.30" stroke="#111" stroke-width="0.7" />
<line x1="316.60" y1="525.40" x2="316.60" y2="527.30" stroke="#111" stroke-width="0.7" />
<text x="201.40" y="527.25" font-size="5.1" text-anchor="end" font-weight="bold" fill="#222" >0</text>
<text x="201.40" y="493.45" font-size="5.1" text-anchor="end" font-weight="bold" fill="#222" >50</text>
<text x="201.40" y="459.65" font-size="5.1" text-anchor="end" font-weight="bold" fill="#222" >100</text>
<text x="205.80" y="534.35" font-size="5.2" text-anchor="middle" font-weight="bold" fill="#222" >0</text>
<text x="252.05" y="534.35" font-size="5.2" text-anchor="middle" font-weight="bold" fill="#222" >50</text>
<text x="298.30" y="534.35" font-size="5.2" text-anchor="middle" font-weight="bold" fill="#222" >100</text>
<text x="186.3" y="488.2" font-size="6.05" font-weight="bold" text-anchor="middle" fill="#111" transform="rotate(-90 186.3 488.2)" dy="2.1">Probability of Survival</text>
<text x="261.00" y="544.20" font-size="6.2" text-anchor="middle" font-weight="bold" fill="#111" >Study Period</text>
<line x1="325.20" y1="453.30" x2="333.40" y2="453.30" stroke="#000000" stroke-width="0.75" />
<line x1="329.30" y1="452.40" x2="329.30" y2="453.30" stroke="#000000" stroke-width="0.5" />
<text x="337.50" y="455.50" font-size="6.2" text-anchor="start" font-weight="normal" fill="#111" >Vehicle + IgG</text>
<line x1="325.20" y1="463.43" x2="333.40" y2="463.43" stroke="#2828ff" stroke-width="0.75" />
<line x1="329.30" y1="462.53" x2="329.30" y2="463.43" stroke="#2828ff" stroke-width="0.5" />
<text x="337.50" y="465.63" font-size="6.2" text-anchor="start" font-weight="normal" fill="#111" >Tolinapant + IgG</text>
<line x1="325.20" y1="473.56" x2="333.40" y2="473.56" stroke="#33e033" stroke-width="0.75" />
<line x1="329.30" y1="472.66" x2="329.30" y2="473.56" stroke="#33e033" stroke-width="0.5" />
<text x="337.50" y="475.76" font-size="6.2" text-anchor="start" font-weight="normal" fill="#111" >Entinostat + IgG</text>
<line x1="325.20" y1="483.69" x2="333.40" y2="483.69" stroke="#1a8a1a" stroke-width="0.75" />
<line x1="329.30" y1="482.79" x2="329.30" y2="483.69" stroke="#1a8a1a" stroke-width="0.5" />
<text x="337.50" y="485.89" font-size="6.2" text-anchor="start" font-weight="normal" fill="#111" >Tolinapant/Entinostat + IgG</text>
<line x1="325.20" y1="493.82" x2="333.40" y2="493.82" stroke="#999999" stroke-width="0.75" />
<line x1="329.30" y1="492.92" x2="329.30" y2="493.82" stroke="#999999" stroke-width="0.5" />
<text x="337.50" y="496.02" font-size="6.2" text-anchor="start" font-weight="normal" fill="#111" >Vehicle + aPD1</text>
<line x1="325.20" y1="503.95" x2="333.40" y2="503.95" stroke="#88bbff" stroke-width="0.75" />
<line x1="329.30" y1="503.05" x2="329.30" y2="503.95" stroke="#88bbff" stroke-width="0.5" />
<text x="337.50" y="506.15" font-size="6.2" text-anchor="start" font-weight="normal" fill="#111" >Tolinapant + aPD1</text>
<line x1="325.20" y1="514.08" x2="333.40" y2="514.08" stroke="#f4a0a8" stroke-width="0.75" />
<line x1="329.30" y1="513.18" x2="329.30" y2="514.08" stroke="#f4a0a8" stroke-width="0.5" />
<text x="337.50" y="516.28" font-size="6.2" text-anchor="start" font-weight="normal" fill="#111" >Entinostat + aPD1</text>
<line x1="325.20" y1="524.21" x2="333.40" y2="524.21" stroke="#ff2a2a" stroke-width="0.75" />
<line x1="329.30" y1="523.31" x2="329.30" y2="524.21" stroke="#ff2a2a" stroke-width="0.5" />
<text x="337.50" y="526.41" font-size="6.2" text-anchor="start" font-weight="normal" fill="#111" >Tolinapant/Entinostat + aPD1</text>
<text x="316.30" y="540.40" font-size="6.3" text-anchor="start" font-weight="normal" fill="#111" >p=0.003 (T+E+aPD1 vs. T+E+IgG)</text>
</svg>
</body></html>
